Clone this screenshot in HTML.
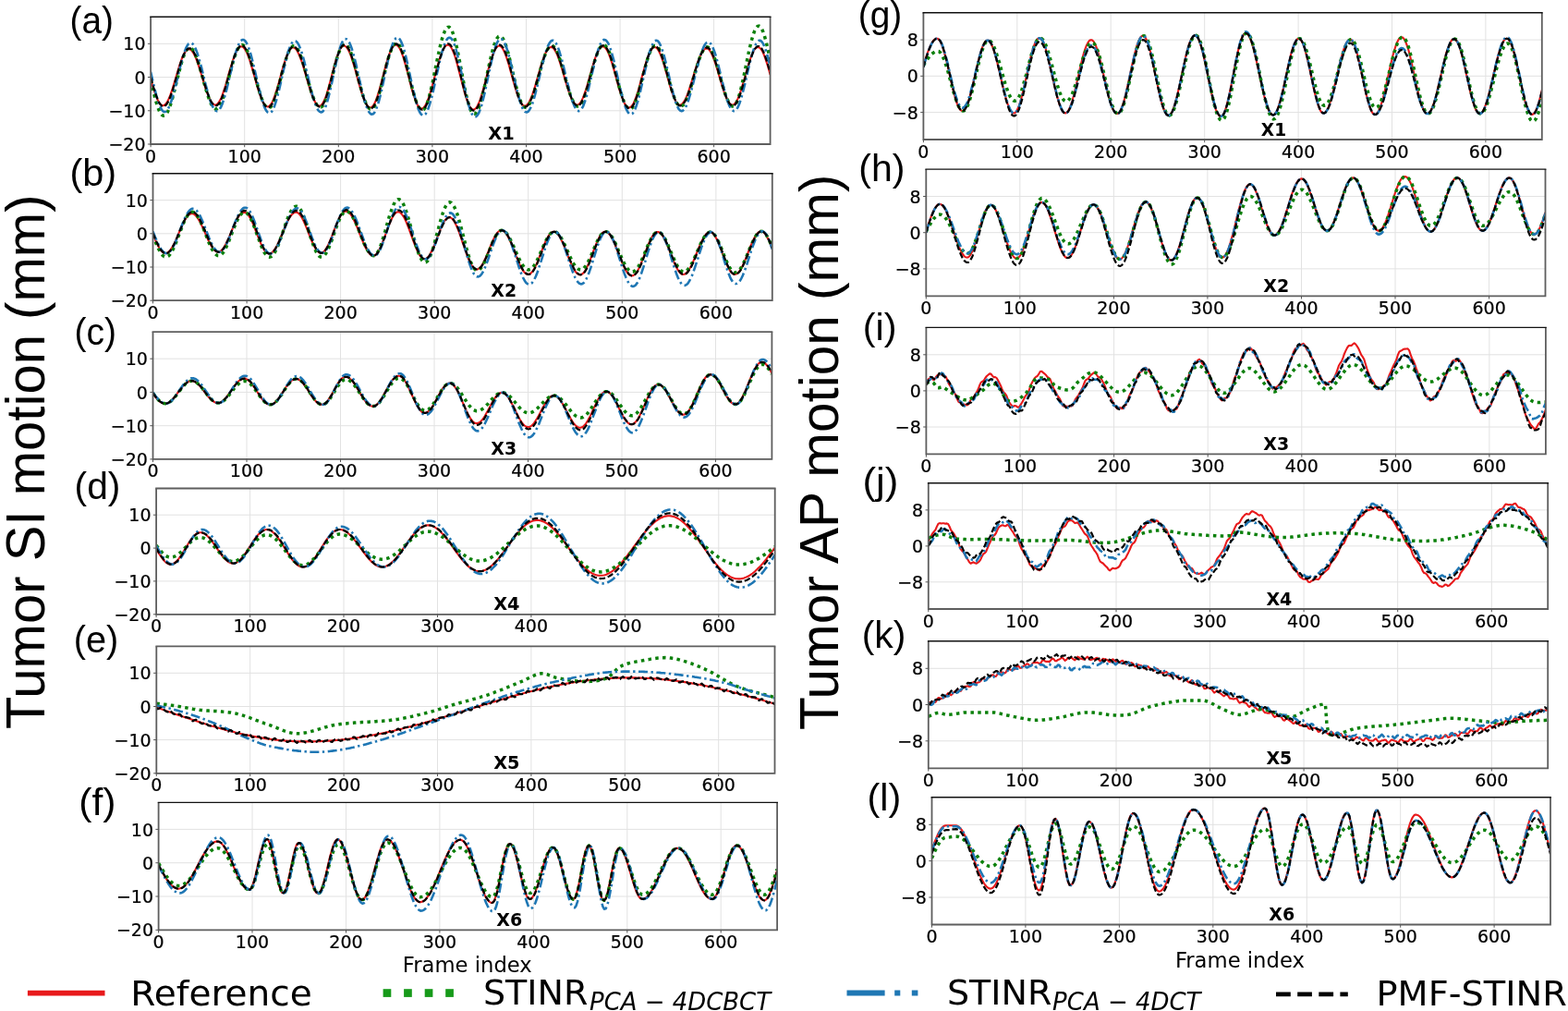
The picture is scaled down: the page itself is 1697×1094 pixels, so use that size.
<!DOCTYPE html><html><head><meta charset="utf-8"><title>Tumor motion</title>
<style>html,body{margin:0;padding:0;background:#fff;overflow:hidden;}svg{display:block;}</style></head><body>
<svg width="1697" height="1094" viewBox="0 0 1697 1094">
<rect width="1697" height="1094" fill="#fff"/>
<defs>
<clipPath id="ca"><rect x="163.1" y="18.3" width="670.5" height="137.7"/></clipPath>
<clipPath id="cb"><rect x="165.5" y="187.7" width="670.3" height="137.5"/></clipPath>
<clipPath id="cc"><rect x="165.5" y="359.2" width="669.9" height="137.7"/></clipPath>
<clipPath id="cd"><rect x="169.1" y="528.5" width="669.6" height="136.3"/></clipPath>
<clipPath id="ce"><rect x="169.3" y="699.4" width="669.2" height="137.4"/></clipPath>
<clipPath id="cf"><rect x="171.6" y="868.4" width="669.5" height="137.9"/></clipPath>
<clipPath id="cg"><rect x="999.4" y="13.7" width="669.4" height="137.3"/></clipPath>
<clipPath id="ch"><rect x="1002.3" y="183.1" width="670.2" height="137.2"/></clipPath>
<clipPath id="ci"><rect x="1002.4" y="354.4" width="670.5" height="137"/></clipPath>
<clipPath id="cj"><rect x="1004.8" y="522.7" width="670.4" height="136.3"/></clipPath>
<clipPath id="ck"><rect x="1004.8" y="693.8" width="670.4" height="137.5"/></clipPath>
<clipPath id="cl"><rect x="1008.5" y="862.8" width="669.5" height="137.7"/></clipPath>
</defs>
<path d="M264.7 18.3V156M366.3 18.3V156M467.9 18.3V156M569.5 18.3V156M671.1 18.3V156M772.6 18.3V156M163.1 156H833.6M163.1 119.8H833.6M163.1 83.5H833.6M163.1 47.3H833.6" stroke="#e2e2e2" stroke-width="1" fill="none"/>
<g clip-path="url(#ca)" fill="none" stroke-linejoin="round">
<path d="M163.1 85.3l1.5 5.3 1.5 5.1 1.6 4.8 1.5 4.2 1.5 3.5 1.5 2.9 1.6 1.9 1.5 1.1 1.5 .2 1.5-.8 1.6-1.6 1.5-2.4 1.5-3.1 1.5-3.8 1.6-4.4 1.5-4.8 1.5-5 1.5-5.2 1.6-5.2 1.5-5 1.5-4.7 1.5-4.3 1.5-3.6 1.6-3.1 1.5-2.2 1.5-1.4 1.5-.6 1.6 .3 1.5 1.2 1.5 1.9 1.5 2.7 1.6 3.4 1.5 4 1.5 4.4 1.5 4.8 1.6 5 1.5 5.1 1.5 5 1.5 4.8 1.6 4.4 1.5 4 1.5 3.4 1.5 2.7 1.6 1.9 1.5 1.2 1.5 .3 1.5-.6 1.5-1.5 1.6-2.3 1.5-3.1 1.5-3.8 1.5-4.4 1.6-4.9 1.5-5.2 1.5-5.4 1.5-5.3 1.6-5.3 1.5-4.9 1.5-4.5 1.5-4 1.6-3.2 1.5-2.5 1.5-1.7 1.5-.8 1.6 .2 1.5 1.1 1.5 1.9 1.5 2.8 1.5 3.5 1.6 4.1 1.5 4.7 1.5 5.1 1.5 5.4 1.6 5.4 1.5 5.5 1.5 5.2 1.5 4.8 1.6 4.4 1.5 3.8 1.5 3.1 1.5 2.3 1.6 1.4 1.5 .5 1.5-.4 1.5-1.4 1.6-2.3 1.5-3.1 1.5-4 1.5-4.5 1.5-5 1.6-5.4 1.5-5.6 1.5-5.6 1.5-5.4 1.6-5.1 1.5-4.6 1.5-4 1.5-3.2 1.6-2.5 1.5-1.5 1.5-.5 1.5 .4 1.6 1.2 1.5 2.1 1.5 2.9 1.5 3.6 1.6 4.1 1.5 4.7 1.5 5 1.5 5.2 1.5 5.3 1.6 5.2 1.5 5 1.5 4.6 1.5 4.2 1.6 3.5 1.5 2.8 1.5 2.1 1.5 1.2 1.6 .3 1.5-.7 1.5-1.7 1.5-2.7 1.6-3.6 1.5-4.4 1.5-5.1 1.5-5.5 1.6-5.8 1.5-5.9 1.5-5.8 1.5-5.5 1.5-5.1 1.6-4.4 1.5-3.7 1.5-2.8 1.5-1.8 1.6-.7 1.5 .3 1.5 1.2 1.5 2.1 1.6 2.9 1.5 3.7 1.5 4.4 1.5 4.9 1.6 5.3 1.5 5.5 1.5 5.6 1.5 5.6 1.6 5.3 1.5 4.9 1.5 4.5 1.5 3.8 1.6 3 1.5 2.3 1.5 1.3 1.5 .4 1.5-.6 1.6-1.6 1.5-2.5 1.5-3.5 1.5-4.2 1.6-4.9 1.5-5.3 1.5-5.8 1.5-5.9 1.6-5.8 1.5-5.8 1.5-5.3 1.5-4.8 1.6-4.2 1.5-3.4 1.5-2.5 1.5-1.5 1.6-.5 1.5 .5 1.5 1.5 1.5 2.4 1.5 3.4 1.6 4.1 1.5 4.8 1.5 5.3 1.5 5.7 1.6 5.9 1.5 5.9 1.5 5.8 1.5 5.4 1.6 5 1.5 4.4 1.5 3.6 1.5 2.8 1.6 1.8 1.5 .8 1.5-.1 1.5-1.2 1.6-2 1.5-3 1.5-3.7 1.5-4.5 1.5-5 1.6-5.4 1.5-5.7 1.5-5.9 1.5-5.7 1.6-5.6 1.5-5.1 1.5-4.7 1.5-4 1.6-3.2 1.5-2.4 1.5-1.4 1.5-.5 1.6 .5 1.5 1.6 1.5 2.5 1.5 3.4 1.6 4.3 1.5 4.9 1.5 5.5 1.5 5.8 1.6 6 1.5 6.1 1.5 5.8 1.5 5.6 1.5 5 1.6 4.4 1.5 3.6 1.5 2.8 1.5 1.7 1.6 .8 1.5-.4 1.5-1.3 1.5-2.3 1.6-3.2 1.5-4 1.5-4.8 1.5-5.2 1.6-5.7 1.5-5.9 1.5-6 1.5-5.8 1.6-5.6 1.5-5.1 1.5-4.4 1.5-3.7 1.5-2.9 1.6-1.9 1.5-1 1.5 .1 1.5 1.1 1.6 2 1.5 2.8 1.5 3.6 1.5 4.4 1.6 4.8 1.5 5.3 1.5 5.5 1.5 5.6 1.6 5.5 1.5 5.3 1.5 4.9 1.5 4.3 1.6 3.7 1.5 2.9 1.5 2.1 1.5 1.1 1.5 .1 1.6-.7 1.5-1.7 1.5-2.4 1.5-3.3 1.6-3.9 1.5-4.5 1.5-4.9 1.5-5.2 1.6-5.4 1.5-5.3 1.5-5.2 1.5-4.9 1.6-4.5 1.5-3.9 1.5-3.2 1.5-2.4 1.6-1.6 1.5-.7 1.5 .3 1.5 1 1.5 2 1.6 2.7 1.5 3.5 1.5 4.1 1.5 4.6 1.6 5 1.5 5.2 1.5 5.3 1.5 5.2 1.6 5 1.5 4.6 1.5 4.2 1.5 3.6 1.6 2.8 1.5 2.1 1.5 1.2 1.5 .3 1.6-.6 1.5-1.5 1.5-2.4 1.5-3.2 1.5-4 1.6-4.5 1.5-4.9 1.5-5.3 1.5-5.5 1.6-5.4 1.5-5.3 1.5-5 1.5-4.4 1.6-3.9 1.5-3.2 1.5-2.3 1.5-1.5 1.6-.5 1.5 .4 1.5 1.3 1.5 2.2 1.6 3.1 1.5 3.8 1.5 4.4 1.5 4.9 1.6 5.3 1.5 5.5 1.5 5.6 1.5 5.5 1.5 5.2 1.6 4.8 1.5 4.3 1.5 3.7 1.5 2.9 1.6 2 1.5 1.1 1.5 .3 1.5-.8 1.6-1.7 1.5-2.6 1.5-3.5 1.5-4.1 1.6-4.8 1.5-5.2 1.5-5.6 1.5-5.6 1.6-5.7 1.5-5.4 1.5-5.1 1.5-4.5 1.5-3.9 1.6-3.1 1.5-2.3 1.5-1.3 1.5-.4 1.6 .6 1.5 1.6 1.5 2.4 1.5 3.3 1.6 4 1.5 4.5 1.5 5.1 1.5 5.3 1.6 5.5 1.5 5.4 1.5 5.3 1.5 4.9 1.6 4.4 1.5 3.7 1.5 3 1.5 2.2 1.5 1.2 1.6 .3 1.5-.6 1.5-1.4 1.5-2.2 1.6-2.9 1.5-3.6 1.5-4.1 1.5-4.6 1.6-4.8 1.5-5.1 1.5-5 1.5-5 1.6-4.7 1.5-4.4 1.5-3.9 1.5-3.2 1.6-2.6 1.5-1.9 1.5-1 1.5-.2 1.6 .7 1.5 1.5 1.5 2.4 1.5 3.2 1.5 3.8 1.6 4.4 1.5 4.8 1.5 5.1 1.5 5.2 1.6 5.2 1.5 5.1 1.5 4.7 1.5 4.3 1.6 3.7 1.5 3 1.5 2.2 1.5 1.4 1.6 .5 1.5-.4 1.5-1.3 1.5-2.2 1.6-3 1.5-3.8 1.5-4.3 1.5-4.9 1.5-5.2 1.6-5.3 1.5-5.4 1.5-5.3 1.5-5 1.6-4.5 1.5-4 1.5-3.2 1.5-2.5 1.6-1.6 1.5-.8 1.5 .3 1.5 1.1 1.6 2.1 1.5 3 1.5 3.7 1.5 4.3 1.6 4.9 1.5 5.2 1.5 5.5" stroke="#e8191b" stroke-width="2.1"/>
<path d="M163.1 86.9l1.5 6.4 1.5 6.3 1.6 6 1.5 5.4 1.5 4.7 1.5 3.9 1.6 2.9 1.5 1.9 1.5 .8 1.5-.3 1.6-1.4 1.5-2.4 1.5-3.3 1.5-4.2 1.6-4.9 1.5-5.5 1.5-5.9 1.5-6.2 1.6-6.3 1.5-6.1 1.5-5.9 1.5-5.4 1.5-4.8 1.6-4.1 1.5-3.2 1.5-2.3 1.5-1.2 1.6-.2 1.5 .8 1.5 1.7 1.5 2.5 1.6 3.4 1.5 4 1.5 4.6 1.5 5.1 1.6 5.3 1.5 5.6 1.5 5.5 1.5 5.4 1.6 5.1 1.5 4.6 1.5 4.1 1.5 3.4 1.6 2.6 1.5 1.7 1.5 .9 1.5-.1 1.5-1.1 1.6-2.1 1.5-3 1.5-3.7 1.5-4.5 1.6-5.1 1.5-5.5 1.5-5.8 1.5-5.9 1.6-5.9 1.5-5.6 1.5-5.2 1.5-4.6 1.6-4 1.5-3.2 1.5-2.3 1.5-1.4 1.6-.4 1.5 .6 1.5 1.6 1.5 2.4 1.5 3.3 1.6 4 1.5 4.7 1.5 5.1 1.5 5.5 1.6 5.7 1.5 5.8 1.5 5.6 1.5 5.3 1.6 4.9 1.5 4.3 1.5 3.7 1.5 2.8 1.6 2 1.5 1 1.5 .1 1.5-.9 1.6-1.9 1.5-2.8 1.5-3.7 1.5-4.5 1.5-5 1.6-5.5 1.5-5.7 1.5-5.9 1.5-5.8 1.6-5.6 1.5-5.1 1.5-4.6 1.5-3.8 1.6-3 1.5-2.1 1.5-1.2 1.5-.1 1.6 .9 1.5 1.7 1.5 2.6 1.5 3.4 1.6 4 1.5 4.7 1.5 5 1.5 5.4 1.5 5.6 1.6 5.5 1.5 5.4 1.5 5.1 1.5 4.6 1.6 4 1.5 3.4 1.5 2.6 1.5 1.7 1.6 .9 1.5-.2 1.5-1.2 1.5-2.3 1.6-3.3 1.5-4.2 1.5-4.9 1.5-5.6 1.6-5.9 1.5-6.2 1.5-6.2 1.5-6 1.5-5.6 1.6-5 1.5-4.3 1.5-3.4 1.5-2.5 1.6-1.3 1.5-.3 1.5 .8 1.5 1.7 1.6 2.6 1.5 3.5 1.5 4.2 1.5 4.9 1.6 5.3 1.5 5.7 1.5 5.9 1.5 5.8 1.6 5.8 1.5 5.4 1.5 5 1.5 4.3 1.6 3.7 1.5 2.8 1.5 1.9 1.5 .9 1.5 0 1.6-1.1 1.5-2.2 1.5-3.1 1.5-4 1.6-4.8 1.5-5.4 1.5-5.8 1.5-6.1 1.6-6.2 1.5-6.1 1.5-5.9 1.5-5.4 1.6-4.7 1.5-4 1.5-3.2 1.5-2.1 1.6-1.1 1.5-.1 1.5 1.1 1.5 2 1.5 3 1.6 4 1.5 4.6 1.5 5.3 1.5 5.8 1.6 6.1 1.5 6.2 1.5 6.2 1.5 5.9 1.6 5.5 1.5 5 1.5 4.2 1.5 3.4 1.6 2.4 1.5 1.5 1.5 .4 1.5-.8 1.6-2.1 1.5-3.2 1.5-4.4 1.5-5.3 1.5-6.2 1.6-6.8 1.5-7.2 1.5-7.6 1.5-7.5 1.6-7.4 1.5-7 1.5-6.5 1.5-5.6 1.6-4.8 1.5-3.7 1.5-2.5 1.5-1.3 1.6-.1 1.5 1.4 1.5 2.7 1.5 4 1.6 5.1 1.5 6.1 1.5 7 1.5 7.6 1.6 7.9 1.5 8.2 1.5 8 1.5 7.7 1.5 7.1 1.6 6.4 1.5 5.4 1.5 4.3 1.5 3.1 1.6 1.7 1.5 .3 1.5-.9 1.5-2.2 1.6-3.3 1.5-4.5 1.5-5.3 1.5-6.1 1.6-6.7 1.5-7.1 1.5-7.2 1.5-7.3 1.6-7 1.5-6.5 1.5-5.8 1.5-5.1 1.5-4 1.6-3 1.5-1.8 1.5-.5 1.5 .6 1.6 1.8 1.5 2.8 1.5 3.8 1.5 4.7 1.6 5.5 1.5 6 1.5 6.4 1.5 6.6 1.6 6.6 1.5 6.4 1.5 6.1 1.5 5.5 1.6 4.8 1.5 3.9 1.5 3 1.5 1.9 1.5 .8 1.6-.3 1.5-1.2 1.5-2.1 1.5-3 1.6-3.8 1.5-4.4 1.5-4.9 1.5-5.3 1.6-5.6 1.5-5.7 1.5-5.5 1.5-5.4 1.6-4.9 1.5-4.4 1.5-3.8 1.5-2.9 1.6-2.2 1.5-1.2 1.5-.3 1.5 .7 1.5 1.5 1.6 2.5 1.5 3.2 1.5 4 1.5 4.5 1.6 5.1 1.5 5.3 1.5 5.5 1.5 5.6 1.6 5.4 1.5 5.1 1.5 4.6 1.5 4.1 1.6 3.4 1.5 2.6 1.5 1.8 1.5 .8 1.6-.1 1.5-1.1 1.5-2 1.5-2.9 1.5-3.7 1.6-4.5 1.5-5 1.5-5.4 1.5-5.6 1.6-5.8 1.5-5.6 1.5-5.4 1.5-5 1.6-4.4 1.5-3.8 1.5-2.9 1.5-2 1.6-1.1 1.5-.1 1.5 .9 1.5 1.8 1.6 2.8 1.5 3.5 1.5 4.3 1.5 4.9 1.6 5.4 1.5 5.7 1.5 5.8 1.5 5.9 1.5 5.6 1.6 5.3 1.5 4.8 1.5 4.3 1.5 3.4 1.6 2.6 1.5 1.8 1.5 .7 1.5-.2 1.6-1.3 1.5-2.2 1.5-3.2 1.5-4 1.6-4.7 1.5-5.2 1.5-5.7 1.5-5.9 1.6-6 1.5-5.8 1.5-5.5 1.5-5.1 1.5-4.5 1.6-3.7 1.5-2.9 1.5-1.9 1.5-.9 1.6 .1 1.5 1.1 1.5 2 1.5 3 1.6 3.8 1.5 4.5 1.5 5 1.5 5.5 1.6 5.7 1.5 5.7 1.5 5.7 1.5 5.3 1.6 5 1.5 4.3 1.5 3.6 1.5 2.7 1.5 1.8 1.6 .9 1.5-.2 1.5-1 1.5-1.9 1.6-2.7 1.5-3.4 1.5-4 1.5-4.5 1.6-5 1.5-5.2 1.5-5.3 1.5-5.3 1.6-5.1 1.5-4.8 1.5-4.4 1.5-3.8 1.6-3.1 1.5-2.3 1.5-1.6 1.5-.7 1.6 .3 1.5 1.1 1.5 2.1 1.5 2.9 1.5 3.6 1.6 4.3 1.5 4.8 1.5 5.2 1.5 5.5 1.6 5.5 1.5 5.4 1.5 5.1 1.5 4.8 1.6 4.2 1.5 3.6 1.5 2.8 1.5 1.9 1.6 1 1.5 .1 1.5-1.2 1.5-2.4 1.6-3.6 1.5-4.7 1.5-5.6 1.5-6.4 1.5-6.9 1.6-7.4 1.5-7.5 1.5-7.4 1.5-7.1 1.6-6.7 1.5-5.9 1.5-5.1 1.5-4 1.6-2.9 1.5-1.7 1.5-.4 1.5 .9 1.6 2.3 1.5 3.4 1.5 4.6 1.5 5.5 1.6 6.4 1.5 7 1.5 7.4" stroke="#0b800b" stroke-width="3.5" stroke-dasharray="3.5 4.3"/>
<path d="M163.1 77.9l1.5 6.5 1.5 6.5 1.6 6.3 1.5 5.9 1.5 5.2 1.5 4.6 1.6 3.6 1.5 2.6 1.5 1.6 1.5 .4 1.6-.7 1.5-1.7 1.5-2.8 1.5-3.7 1.6-4.5 1.5-5.2 1.5-5.7 1.5-6.1 1.6-6.3 1.5-6.3 1.5-6.2 1.5-5.8 1.5-5.4 1.6-4.6 1.5-3.9 1.5-2.9 1.5-2 1.6-.8 1.5 .1 1.5 1.2 1.5 2.2 1.6 3.2 1.5 3.9 1.5 4.7 1.5 5.4 1.6 5.7 1.5 6.1 1.5 6.2 1.5 6.1 1.6 5.9 1.5 5.5 1.5 5 1.5 4.3 1.6 3.4 1.5 2.6 1.5 1.6 1.5 .6 1.5-.5 1.6-1.6 1.5-2.6 1.5-3.6 1.5-4.5 1.6-5.3 1.5-5.8 1.5-6.3 1.5-6.5 1.6-6.6 1.5-6.4 1.5-6.1 1.5-5.6 1.6-5 1.5-4.2 1.5-3.2 1.5-2.2 1.6-1.2 1.5 0 1.5 1.1 1.5 2.1 1.5 3.2 1.6 4.1 1.5 4.9 1.5 5.6 1.5 6.2 1.6 6.5 1.5 6.6 1.5 6.6 1.5 6.5 1.6 6 1.5 5.5 1.5 4.8 1.5 3.9 1.6 3 1.5 1.9 1.5 .9 1.5-.3 1.6-1.4 1.5-2.6 1.5-3.7 1.5-4.6 1.5-5.4 1.6-6 1.5-6.5 1.5-6.8 1.5-6.8 1.6-6.7 1.5-6.3 1.5-5.7 1.5-5.1 1.6-4.1 1.5-3.2 1.5-2.1 1.5-.9 1.6 .3 1.5 1.3 1.5 2.3 1.5 3.4 1.6 4.2 1.5 4.9 1.5 5.6 1.5 6 1.5 6.4 1.6 6.4 1.5 6.4 1.5 6.2 1.5 5.7 1.6 5.2 1.5 4.5 1.5 3.6 1.5 2.7 1.6 1.6 1.5 .6 1.5-.5 1.5-1.9 1.6-3 1.5-4.2 1.5-5.2 1.5-6 1.6-6.6 1.5-7.1 1.5-7.2 1.5-7.1 1.5-6.8 1.6-6.3 1.5-5.6 1.5-4.7 1.5-3.6 1.6-2.5 1.5-1.1 1.5 .1 1.5 1.2 1.6 2.4 1.5 3.4 1.5 4.3 1.5 5.2 1.6 5.9 1.5 6.3 1.5 6.7 1.5 6.9 1.6 6.8 1.5 6.5 1.5 6.2 1.5 5.5 1.6 4.8 1.5 3.9 1.5 3 1.5 1.8 1.5 .7 1.6-.4 1.5-1.7 1.5-2.9 1.5-4 1.6-5 1.5-5.8 1.5-6.4 1.5-6.9 1.6-7.2 1.5-7.2 1.5-7 1.5-6.7 1.6-6 1.5-5.3 1.5-4.3 1.5-3.3 1.6-2.1 1.5-.8 1.5 .3 1.5 1.6 1.5 2.8 1.6 3.9 1.5 4.8 1.5 5.7 1.5 6.4 1.6 6.9 1.5 7.1 1.5 7.2 1.5 7.1 1.6 6.8 1.5 6.2 1.5 5.5 1.5 4.6 1.6 3.6 1.5 2.4 1.5 1.3 1.5 .1 1.6-1.2 1.5-2.3 1.5-3.4 1.5-4.4 1.5-5.3 1.6-5.9 1.5-6.6 1.5-6.9 1.5-7.1 1.6-7 1.5-6.9 1.5-6.4 1.5-5.8 1.6-5 1.5-4.2 1.5-3.1 1.5-2 1.6-.8 1.5 .4 1.5 1.6 1.5 2.9 1.6 3.9 1.5 5 1.5 5.9 1.5 6.5 1.6 7.1 1.5 7.3 1.5 7.4 1.5 7.2 1.5 6.9 1.6 6.3 1.5 5.5 1.5 4.6 1.5 3.6 1.6 2.4 1.5 1.1 1.5-.1 1.5-1.4 1.6-2.6 1.5-3.7 1.5-4.7 1.5-5.6 1.6-6.4 1.5-6.8 1.5-7.2 1.5-7.2 1.6-7.2 1.5-6.9 1.5-6.3 1.5-5.6 1.5-4.7 1.6-3.7 1.5-2.6 1.5-1.4 1.5-.1 1.6 1 1.5 2.2 1.5 3.3 1.5 4.2 1.6 5.1 1.5 5.8 1.5 6.4 1.5 6.7 1.6 6.8 1.5 6.8 1.5 6.5 1.5 6.1 1.6 5.4 1.5 4.7 1.5 3.7 1.5 2.7 1.5 1.6 1.6 .4 1.5-.7 1.5-1.8 1.5-2.8 1.6-3.8 1.5-4.6 1.5-5.3 1.5-5.9 1.6-6.3 1.5-6.6 1.5-6.5 1.5-6.4 1.6-6.1 1.5-5.5 1.5-4.9 1.5-4.1 1.6-3.1 1.5-2.2 1.5-1 1.5 0 1.5 1.1 1.6 2.2 1.5 3.1 1.5 4.1 1.5 4.9 1.6 5.5 1.5 5.9 1.5 6.3 1.5 6.5 1.6 6.4 1.5 6.2 1.5 5.7 1.5 5.3 1.6 4.4 1.5 3.7 1.5 2.7 1.5 1.7 1.6 .6 1.5-.5 1.5-1.6 1.5-2.7 1.5-3.8 1.6-4.6 1.5-5.4 1.5-5.9 1.5-6.4 1.6-6.7 1.5-6.6 1.5-6.5 1.5-6.1 1.6-5.6 1.5-4.9 1.5-4.1 1.5-3 1.6-2 1.5-.9 1.5 .3 1.5 1.4 1.6 2.5 1.5 3.5 1.5 4.4 1.5 5.3 1.6 5.9 1.5 6.3 1.5 6.7 1.5 6.8 1.5 6.7 1.6 6.5 1.5 6 1.5 5.4 1.5 4.6 1.6 3.7 1.5 2.7 1.5 1.7 1.5 .5 1.6-.7 1.5-1.9 1.5-3 1.5-4 1.6-4.9 1.5-5.7 1.5-6.3 1.5-6.7 1.6-6.9 1.5-6.8 1.5-6.7 1.5-6.3 1.5-5.7 1.6-4.9 1.5-4 1.5-3 1.5-1.9 1.6-.7 1.5 .5 1.5 1.7 1.5 2.8 1.6 3.8 1.5 4.7 1.5 5.4 1.5 6 1.6 6.5 1.5 6.7 1.5 6.6 1.5 6.5 1.6 6.1 1.5 5.5 1.5 4.7 1.5 3.9 1.5 2.8 1.6 1.7 1.5 .6 1.5-.5 1.5-1.5 1.6-2.5 1.5-3.4 1.5-4.2 1.5-4.9 1.6-5.5 1.5-5.8 1.5-6.1 1.5-6.2 1.6-6.1 1.5-5.9 1.5-5.4 1.5-4.9 1.6-4.1 1.5-3.4 1.5-2.4 1.5-1.4 1.6-.5 1.5 .6 1.5 1.7 1.5 2.7 1.5 3.7 1.6 4.5 1.5 5.2 1.5 5.8 1.5 6.2 1.6 6.3 1.5 6.4 1.5 6.2 1.5 5.9 1.6 5.3 1.5 4.7 1.5 3.8 1.5 2.9 1.6 1.9 1.5 .9 1.5-.3 1.5-1.4 1.6-2.5 1.5-3.4 1.5-4.4 1.5-5.2 1.5-5.8 1.6-6.3 1.5-6.5 1.5-6.6 1.5-6.5 1.6-6.1 1.5-5.7 1.5-4.9 1.5-4.2 1.6-3.2 1.5-2.2 1.5-1.1 1.5 0 1.6 1.2 1.5 2.3 1.5 3.4 1.5 4.3 1.6 5.2 1.5 5.8 1.5 6.3" stroke="#1f77b4" stroke-width="2.6" stroke-dasharray="10 3.5 2.4 3.5"/>
<path d="M163.1 83.5l1.5 5.5 1.5 5.4 1.6 5 1.5 4.5 1.5 3.9 1.5 3.2 1.6 2.3 1.5 1.5 1.5 .5 1.5-.5 1.6-1.4 1.5-2.2 1.5-3 1.5-3.7 1.6-4.3 1.5-4.8 1.5-5.1 1.5-5.3 1.6-5.4 1.5-5.2 1.5-5 1.5-4.5 1.5-4.1 1.6-3.3 1.5-2.6 1.5-1.7 1.5-.9 1.6 0 1.5 .9 1.5 1.7 1.5 2.6 1.6 3.3 1.5 3.9 1.5 4.4 1.5 4.8 1.6 5.1 1.5 5.2 1.5 5.2 1.5 5 1.6 4.7 1.5 4.3 1.5 3.7 1.5 3 1.6 2.3 1.5 1.5 1.5 .6 1.5-.3 1.5-1.2 1.6-2.1 1.5-3 1.5-3.7 1.5-4.3 1.6-4.9 1.5-5.3 1.5-5.4 1.5-5.6 1.6-5.5 1.5-5.2 1.5-4.8 1.5-4.2 1.6-3.7 1.5-2.8 1.5-2 1.5-1.1 1.6-.2 1.5 .8 1.5 1.7 1.5 2.6 1.5 3.4 1.6 4.1 1.5 4.6 1.5 5.1 1.5 5.5 1.6 5.6 1.5 5.6 1.5 5.5 1.5 5.1 1.6 4.7 1.5 4.1 1.5 3.5 1.5 2.6 1.6 1.7 1.5 .9 1.5-.1 1.5-1.1 1.6-2.1 1.5-2.9 1.5-3.8 1.5-4.5 1.5-5 1.6-5.5 1.5-5.7 1.5-5.7 1.5-5.7 1.6-5.3 1.5-5 1.5-4.3 1.5-3.6 1.6-2.8 1.5-1.9 1.5-.9 1.5 .1 1.6 1 1.5 1.8 1.5 2.7 1.5 3.5 1.6 4.1 1.5 4.6 1.5 5.1 1.5 5.3 1.5 5.5 1.6 5.4 1.5 5.2 1.5 4.9 1.5 4.5 1.6 3.8 1.5 3.2 1.5 2.3 1.5 1.6 1.6 .6 1.5-.3 1.5-1.4 1.5-2.5 1.6-3.4 1.5-4.3 1.5-5 1.5-5.5 1.6-5.9 1.5-6.1 1.5-6 1.5-5.8 1.5-5.4 1.6-4.8 1.5-4.1 1.5-3.2 1.5-2.2 1.6-1.1 1.5-.1 1.5 1 1.5 1.9 1.6 2.7 1.5 3.6 1.5 4.3 1.5 4.8 1.6 5.4 1.5 5.6 1.5 5.7 1.5 5.8 1.6 5.6 1.5 5.2 1.5 4.8 1.5 4.1 1.6 3.4 1.5 2.6 1.5 1.7 1.5 .8 1.5-.3 1.6-1.3 1.5-2.3 1.5-3.2 1.5-4.1 1.6-4.8 1.5-5.4 1.5-5.8 1.5-6.1 1.6-6.1 1.5-5.9 1.5-5.7 1.5-5.1 1.6-4.6 1.5-3.7 1.5-2.9 1.5-1.9 1.6-.9 1.5 .2 1.5 1.2 1.5 2.2 1.5 3.1 1.6 4 1.5 4.7 1.5 5.4 1.5 5.7 1.6 6 1.5 6.1 1.5 6 1.5 5.8 1.6 5.3 1.5 4.7 1.5 4 1.5 3.2 1.6 2.2 1.5 1.2 1.5 .2 1.5-.9 1.6-1.8 1.5-2.8 1.5-3.6 1.5-4.3 1.5-5 1.6-5.5 1.5-5.8 1.5-5.9 1.5-6 1.6-5.8 1.5-5.5 1.5-5 1.5-4.3 1.6-3.6 1.5-2.8 1.5-1.8 1.5-.8 1.6 .2 1.5 1.2 1.5 2.3 1.5 3.2 1.6 4.1 1.5 4.9 1.5 5.5 1.5 5.9 1.6 6.1 1.5 6.3 1.5 6.1 1.5 5.8 1.5 5.4 1.6 4.8 1.5 4 1.5 3.1 1.5 2.2 1.6 1.1 1.5 0 1.5-1 1.5-2.1 1.6-3 1.5-3.8 1.5-4.7 1.5-5.3 1.6-5.7 1.5-6 1.5-6.2 1.5-6 1.6-5.9 1.5-5.4 1.5-4.8 1.5-4.1 1.5-3.3 1.6-2.3 1.5-1.3 1.5-.2 1.5 .7 1.6 1.8 1.5 2.6 1.5 3.5 1.5 4.2 1.6 4.8 1.5 5.3 1.5 5.6 1.5 5.8 1.6 5.7 1.5 5.6 1.5 5.2 1.5 4.7 1.6 4 1.5 3.3 1.5 2.4 1.5 1.4 1.5 .5 1.6-.4 1.5-1.4 1.5-2.3 1.5-3.1 1.6-3.8 1.5-4.4 1.5-5 1.5-5.3 1.6-5.5 1.5-5.5 1.5-5.4 1.5-5.2 1.6-4.7 1.5-4.2 1.5-3.6 1.5-2.7 1.6-2 1.5-1 1.5-.1 1.5 .8 1.5 1.8 1.6 2.5 1.5 3.3 1.5 4.1 1.5 4.5 1.6 5 1.5 5.3 1.5 5.5 1.5 5.4 1.6 5.2 1.5 5 1.5 4.4 1.5 3.9 1.6 3.2 1.5 2.4 1.5 1.5 1.5 .7 1.6-.3 1.5-1.3 1.5-2.1 1.5-3.1 1.5-3.8 1.6-4.4 1.5-5 1.5-5.4 1.5-5.6 1.6-5.6 1.5-5.5 1.5-5.2 1.5-4.8 1.6-4.2 1.5-3.5 1.5-2.7 1.5-1.9 1.6-.8 1.5 .1 1.5 1 1.5 2 1.6 2.9 1.5 3.6 1.5 4.4 1.5 4.9 1.6 5.3 1.5 5.6 1.5 5.8 1.5 5.7 1.5 5.5 1.6 5.1 1.5 4.6 1.5 4 1.5 3.2 1.6 2.4 1.5 1.5 1.5 .6 1.5-.4 1.6-1.5 1.5-2.4 1.5-3.3 1.5-4 1.6-4.7 1.5-5.3 1.5-5.6 1.5-5.8 1.6-5.8 1.5-5.7 1.5-5.4 1.5-4.9 1.5-4.2 1.6-3.5 1.5-2.6 1.5-1.7 1.5-.7 1.6 .3 1.5 1.2 1.5 2.2 1.5 3.1 1.6 3.9 1.5 4.5 1.5 5.1 1.5 5.4 1.6 5.6 1.5 5.6 1.5 5.5 1.5 5.2 1.6 4.7 1.5 4.1 1.5 3.4 1.5 2.5 1.5 1.6 1.6 .6 1.5-.3 1.5-1.2 1.5-2 1.6-2.8 1.5-3.4 1.5-4.1 1.5-4.5 1.6-5 1.5-5.1 1.5-5.2 1.5-5.2 1.6-5 1.5-4.6 1.5-4.2 1.5-3.6 1.6-2.9 1.5-2.1 1.5-1.4 1.5-.5 1.6 .4 1.5 1.3 1.5 2.2 1.5 3 1.5 3.7 1.6 4.4 1.5 4.8 1.5 5.2 1.5 5.3 1.6 5.4 1.5 5.3 1.5 5 1.5 4.5 1.6 4.1 1.5 3.3 1.5 2.6 1.5 1.7 1.6 .8 1.5-.1 1.5-1 1.5-2 1.6-2.8 1.5-3.6 1.5-4.3 1.5-4.9 1.5-5.2 1.6-5.5 1.5-5.6 1.5-5.4 1.5-5.3 1.6-4.8 1.5-4.3 1.5-3.6 1.5-2.9 1.6-1.9 1.5-1.1 1.5-.1 1.5 .9 1.6 1.8 1.5 2.8 1.5 3.5 1.5 4.3 1.6 4.9 1.5 5.2 1.5 5.6" stroke="#000000" stroke-width="2.2" stroke-dasharray="6.5 2.8"/>
</g>
<path d="M163.1 18.3V156H833.6V18.3" fill="none" stroke="#5e5e5e" stroke-width="1.8"/>
<path d="M162.2 18.3H834.5" stroke="#111" stroke-width="1.4"/>
<path d="M163.1 156v3.2M264.7 156v3.2M366.3 156v3.2M467.9 156v3.2M569.5 156v3.2M671.1 156v3.2M772.6 156v3.2M163.1 156h-3.2M163.1 119.8h-3.2M163.1 83.5h-3.2M163.1 47.3h-3.2" stroke="#555" stroke-width="1"/>
<g font-family='"DejaVu Sans", "Liberation Sans", sans-serif' font-size="19.6" fill="#000" stroke="#000" stroke-width="0.25">
<text transform="translate(157.5 163.1) scale(0.97 1)" text-anchor="end">−20</text>
<text transform="translate(157.5 126.9) scale(0.97 1)" text-anchor="end">−10</text>
<text transform="translate(157.5 90.6) scale(0.97 1)" text-anchor="end">0</text>
<text transform="translate(157.5 54.4) scale(0.97 1)" text-anchor="end">10</text>
<text transform="translate(163.1 175.5) scale(0.97 1)" text-anchor="middle">0</text>
<text transform="translate(264.7 175.5) scale(0.97 1)" text-anchor="middle">100</text>
<text transform="translate(366.3 175.5) scale(0.97 1)" text-anchor="middle">200</text>
<text transform="translate(467.9 175.5) scale(0.97 1)" text-anchor="middle">300</text>
<text transform="translate(569.5 175.5) scale(0.97 1)" text-anchor="middle">400</text>
<text transform="translate(671.1 175.5) scale(0.97 1)" text-anchor="middle">500</text>
<text transform="translate(772.6 175.5) scale(0.97 1)" text-anchor="middle">600</text>
</g>
<text x="528.2" y="151.3" font-family='"DejaVu Sans", "Liberation Sans", sans-serif' font-weight="bold" font-size="19" textLength="28.5" lengthAdjust="spacingAndGlyphs">X1</text>
<path d="M267.1 187.7V325.2M368.6 187.7V325.2M470.2 187.7V325.2M571.7 187.7V325.2M673.3 187.7V325.2M774.9 187.7V325.2M165.5 325.2H835.8M165.5 289H835.8M165.5 252.8H835.8M165.5 216.6H835.8" stroke="#e2e2e2" stroke-width="1" fill="none"/>
<g clip-path="url(#cb)" fill="none" stroke-linejoin="round">
<path d="M165.5 253.5l1.5 3.7 1.5 3.5 1.6 3.4 1.5 2.9 1.5 2.6 1.5 2 1.6 1.5 1.5 .8 1.5 .3 1.5-.4 1.6-1 1.5-1.5 1.5-2.1 1.5-2.5 1.6-2.9 1.5-3.2 1.5-3.4 1.5-3.6 1.5-3.6 1.6-3.5 1.5-3.3 1.5-3.1 1.5-2.8 1.6-2.3 1.5-1.8 1.5-1.2 1.5-.7 1.6-.1 1.5 .4 1.5 1.1 1.5 1.6 1.5 2.1 1.6 2.6 1.5 2.9 1.5 3.2 1.5 3.3 1.6 3.5 1.5 3.5 1.5 3.4 1.5 3.2 1.6 2.9 1.5 2.5 1.5 2.1 1.5 1.6 1.6 1.1 1.5 .5 1.5-.1 1.5-.7 1.5-1.3 1.6-1.9 1.5-2.4 1.5-2.8 1.5-3.2 1.6-3.4 1.5-3.6 1.5-3.7 1.5-3.6 1.6-3.5 1.5-3.2 1.5-2.8 1.5-2.5 1.6-1.9 1.5-1.4 1.5-.8 1.5-.2 1.5 .5 1.6 1.2 1.5 1.8 1.5 2.4 1.5 2.9 1.6 3.4 1.5 3.7 1.5 3.9 1.5 3.9 1.6 4 1.5 3.7 1.5 3.5 1.5 3.1 1.5 2.6 1.6 2 1.5 1.4 1.5 .7 1.5 .1 1.6-.6 1.5-1.2 1.5-1.7 1.5-2.3 1.6-2.7 1.5-3 1.5-3.4 1.5-3.6 1.6-3.6 1.5-3.7 1.5-3.6 1.5-3.4 1.5-3.1 1.6-2.8 1.5-2.3 1.5-1.8 1.5-1.3 1.6-.6 1.5-.1 1.5 .6 1.5 1.3 1.6 2 1.5 2.4 1.5 3 1.5 3.4 1.6 3.7 1.5 3.8 1.5 3.9 1.5 3.9 1.5 3.6 1.6 3.4 1.5 2.9 1.5 2.5 1.5 1.9 1.6 1.2 1.5 .6 1.5-.1 1.5-.9 1.6-1.4 1.5-2.2 1.5-2.6 1.5-3.2 1.5-3.5 1.6-3.8 1.5-4 1.5-3.9 1.5-3.9 1.6-3.7 1.5-3.3 1.5-3 1.5-2.3 1.6-1.8 1.5-1.2 1.5-.4 1.5 .2 1.6 .9 1.5 1.4 1.5 2.1 1.5 2.5 1.5 3 1.6 3.3 1.5 3.6 1.5 3.8 1.5 3.9 1.6 3.9 1.5 3.7 1.5 3.6 1.5 3.2 1.6 2.8 1.5 2.4 1.5 1.8 1.5 1.3 1.6 .6 1.5 0 1.5-.7 1.5-1.4 1.5-2.1 1.6-2.8 1.5-3.2 1.5-3.7 1.5-4 1.6-4.1 1.5-4.3 1.5-4.1 1.5-3.9 1.6-3.6 1.5-3.1 1.5-2.6 1.5-1.9 1.5-1.3 1.6-.5 1.5 .2 1.5 1 1.5 1.6 1.6 2.2 1.5 2.8 1.5 3.3 1.5 3.7 1.6 4 1.5 4.2 1.5 4.2 1.5 4.2 1.6 4.1 1.5 3.7 1.5 3.4 1.5 2.9 1.5 2.4 1.6 1.7 1.5 1.1 1.5 .3 1.5-.3 1.6-1.1 1.5-1.8 1.5-2.3 1.5-3 1.6-3.3 1.5-3.7 1.5-4 1.5-4 1.6-4 1.5-3.9 1.5-3.6 1.5-3.1 1.5-2.7 1.6-2.1 1.5-1.5 1.5-.7 1.5 0 1.6 .7 1.5 1.4 1.5 2.1 1.5 2.8 1.6 3.3 1.5 3.7 1.5 4.1 1.5 4.4 1.5 4.6 1.6 4.5 1.5 4.5 1.5 4.3 1.5 3.9 1.6 3.5 1.5 3 1.5 2.4 1.5 1.8 1.6 1 1.5 .3 1.5-.3 1.5-1.1 1.6-1.6 1.5-2.3 1.5-2.7 1.5-3.2 1.5-3.5 1.6-3.7 1.5-3.7 1.5-3.8 1.5-3.6 1.6-3.3 1.5-2.9 1.5-2.5 1.5-2 1.6-1.3 1.5-.7 1.5 0 1.5 .6 1.6 1.3 1.5 1.8 1.5 2.4 1.5 2.9 1.5 3.3 1.6 3.6 1.5 3.8 1.5 4 1.5 3.9 1.6 3.8 1.5 3.6 1.5 3.4 1.5 2.9 1.6 2.4 1.5 1.9 1.5 1.3 1.5 .7 1.6 0 1.5-.7 1.5-1.3 1.5-1.9 1.5-2.6 1.6-3 1.5-3.4 1.5-3.7 1.5-4 1.6-3.9 1.5-4 1.5-3.8 1.5-3.5 1.6-3.1 1.5-2.7 1.5-2.1 1.5-1.5 1.5-.9 1.6-.1 1.5 .5 1.5 1.1 1.5 1.8 1.6 2.3 1.5 2.8 1.5 3.2 1.5 3.5 1.6 3.8 1.5 3.9 1.5 3.9 1.5 3.8 1.6 3.6 1.5 3.3 1.5 2.9 1.5 2.4 1.5 1.9 1.6 1.2 1.5 .7 1.5-.1 1.5-.7 1.6-1.4 1.5-2.1 1.5-2.7 1.5-3.2 1.6-3.5 1.5-3.9 1.5-4.1 1.5-4.1 1.6-4 1.5-3.8 1.5-3.5 1.5-3.1 1.5-2.5 1.6-2 1.5-1.3 1.5-.6 1.5 .1 1.6 .8 1.5 1.4 1.5 1.9 1.5 2.6 1.6 3 1.5 3.3 1.5 3.7 1.5 3.9 1.5 3.9 1.6 4 1.5 3.8 1.5 3.5 1.5 3.3 1.6 2.8 1.5 2.3 1.5 1.8 1.5 1.1 1.6 .5 1.5-.2 1.5-.8 1.5-1.5 1.6-2.2 1.5-2.7 1.5-3.2 1.5-3.6 1.5-3.8 1.6-4 1.5-4.1 1.5-4 1.5-3.8 1.6-3.5 1.5-3.1 1.5-2.6 1.5-2.1 1.6-1.4 1.5-.7 1.5 0 1.5 .6 1.6 1.4 1.5 1.9 1.5 2.5 1.5 3 1.5 3.3 1.6 3.7 1.5 3.9 1.5 3.9 1.5 3.9 1.6 3.8 1.5 3.5 1.5 3.1 1.5 2.6 1.6 2.2 1.5 1.5 1.5 .9 1.5 .2 1.5-.5 1.6-1 1.5-1.7 1.5-2.2 1.5-2.7 1.6-3 1.5-3.5 1.5-3.6 1.5-3.8 1.6-3.8 1.5-3.7 1.5-3.6 1.5-3.2 1.6-2.9 1.5-2.5 1.5-2 1.5-1.3 1.5-.8 1.6-.2 1.5 .6 1.5 1.3 1.5 1.9 1.6 2.6 1.5 3 1.5 3.6 1.5 3.8 1.6 4 1.5 4.1 1.5 4 1.5 3.9 1.6 3.5 1.5 3.1 1.5 2.6 1.5 2 1.5 1.3 1.6 .6 1.5-.1 1.5-.7 1.5-1.4 1.6-2 1.5-2.5 1.5-3 1.5-3.4 1.6-3.6 1.5-3.8 1.5-3.9 1.5-3.9 1.5-3.7 1.6-3.5 1.5-3.2 1.5-2.7 1.5-2.2 1.6-1.6 1.5-1 1.5-.4 1.5 .3 1.6 1 1.5 1.7 1.5 2.3 1.5 2.9 1.6 3.3 1.5 3.7 1.5 3.9" stroke="#e8191b" stroke-width="2.1"/>
<path d="M165.5 254.2l1.5 4.1 1.5 3.9 1.6 3.7 1.5 3.4 1.5 2.9 1.5 2.5 1.6 1.8 1.5 1.2 1.5 .4 1.5-.2 1.6-.8 1.5-1.6 1.5-2.1 1.5-2.7 1.6-3.1 1.5-3.6 1.5-3.8 1.5-4 1.5-4.1 1.6-4 1.5-3.9 1.5-3.6 1.5-3.2 1.6-2.8 1.5-2.3 1.5-1.6 1.5-1 1.6-.4 1.5 .3 1.5 1 1.5 1.7 1.5 2.2 1.6 2.7 1.5 3.2 1.5 3.5 1.5 3.8 1.6 4 1.5 4 1.5 3.9 1.5 3.7 1.6 3.4 1.5 3.1 1.5 2.5 1.5 2.1 1.6 1.4 1.5 .8 1.5 .1 1.5-.6 1.5-1.2 1.6-1.9 1.5-2.4 1.5-2.9 1.5-3.4 1.6-3.6 1.5-3.9 1.5-4 1.5-4 1.6-3.8 1.5-3.6 1.5-3.3 1.5-2.8 1.6-2.4 1.5-1.7 1.5-1.1 1.5-.4 1.5 .3 1.6 1 1.5 1.7 1.5 2.4 1.5 3 1.6 3.5 1.5 3.9 1.5 4.1 1.5 4.3 1.6 4.3 1.5 4.1 1.5 3.9 1.5 3.5 1.5 3 1.6 2.4 1.5 1.7 1.5 1.1 1.5 .3 1.6-.5 1.5-1.2 1.5-1.9 1.5-2.6 1.6-3.1 1.5-3.6 1.5-4 1.5-4.4 1.6-4.4 1.5-4.6 1.5-4.4 1.5-4.3 1.5-3.9 1.6-3.5 1.5-3.1 1.5-2.4 1.5-1.8 1.6-1 1.5-.3 1.5 .5 1.5 1.3 1.6 2.1 1.5 2.9 1.5 3.5 1.5 4.1 1.6 4.4 1.5 4.8 1.5 4.8 1.5 4.9 1.5 4.6 1.6 4.3 1.5 3.9 1.5 3.3 1.5 2.5 1.6 1.9 1.5 1 1.5 .1 1.5-.6 1.6-1.4 1.5-2.1 1.5-2.7 1.5-3.3 1.5-3.8 1.6-4.1 1.5-4.3 1.5-4.3 1.5-4.3 1.6-4.1 1.5-3.8 1.5-3.4 1.5-2.8 1.6-2.2 1.5-1.5 1.5-.7 1.5 0 1.6 .6 1.5 1.3 1.5 1.8 1.5 2.4 1.5 2.8 1.6 3.2 1.5 3.6 1.5 3.7 1.5 3.9 1.6 3.9 1.5 3.8 1.5 3.6 1.5 3.3 1.6 3 1.5 2.5 1.5 2.1 1.5 1.4 1.6 .9 1.5 .2 1.5-.6 1.5-1.6 1.5-2.4 1.6-3.3 1.5-4 1.5-4.5 1.5-5.1 1.6-5.3 1.5-5.4 1.5-5.4 1.5-5.1 1.6-4.8 1.5-4.2 1.5-3.6 1.5-2.8 1.5-1.9 1.6-1 1.5 0 1.5 .9 1.5 1.8 1.6 2.7 1.5 3.6 1.5 4.2 1.5 4.8 1.6 5.2 1.5 5.5 1.5 5.7 1.5 5.7 1.6 5.5 1.5 5.2 1.5 4.7 1.5 4.2 1.5 3.4 1.6 2.6 1.5 1.7 1.5 .8 1.5-.2 1.6-1.2 1.5-2.2 1.5-3.1 1.5-4 1.6-4.6 1.5-5.2 1.5-5.6 1.5-5.8 1.6-5.8 1.5-5.7 1.5-5.3 1.5-4.8 1.5-4.1 1.6-3.3 1.5-2.4 1.5-1.4 1.5-.4 1.6 .6 1.5 1.6 1.5 2.5 1.5 3.3 1.6 4.1 1.5 4.7 1.5 5.2 1.5 5.7 1.5 5.8 1.6 6 1.5 5.9 1.5 5.7 1.5 5.3 1.6 4.8 1.5 4.2 1.5 3.4 1.5 2.6 1.6 1.7 1.5 .7 1.5-.2 1.5-.8 1.6-1.5 1.5-2.1 1.5-2.7 1.5-3.1 1.5-3.4 1.6-3.8 1.5-3.8 1.5-3.9 1.5-3.7 1.6-3.5 1.5-3.2 1.5-2.7 1.5-2.2 1.6-1.6 1.5-.9 1.5-.3 1.5 .4 1.6 .9 1.5 1.5 1.5 2 1.5 2.5 1.5 2.8 1.6 3.1 1.5 3.4 1.5 3.5 1.5 3.5 1.6 3.5 1.5 3.3 1.5 3 1.5 2.8 1.6 2.3 1.5 1.9 1.5 1.3 1.5 .8 1.6 .2 1.5-.4 1.5-1 1.5-1.5 1.5-2.1 1.6-2.6 1.5-2.9 1.5-3.2 1.5-3.5 1.6-3.5 1.5-3.6 1.5-3.4 1.5-3.2 1.6-2.9 1.5-2.6 1.5-2 1.5-1.5 1.5-1 1.6-.3 1.5 .2 1.5 .8 1.5 1.4 1.6 1.9 1.5 2.3 1.5 2.8 1.5 3 1.6 3.3 1.5 3.4 1.5 3.4 1.5 3.4 1.6 3.3 1.5 3 1.5 2.7 1.5 2.3 1.5 1.8 1.6 1.3 1.5 .7 1.5 .2 1.5-.4 1.6-1.1 1.5-1.7 1.5-2.2 1.5-2.6 1.6-3.1 1.5-3.3 1.5-3.6 1.5-3.6 1.6-3.6 1.5-3.4 1.5-3.2 1.5-2.9 1.5-2.4 1.6-1.9 1.5-1.4 1.5-.7 1.5-.1 1.6 .5 1.5 1.1 1.5 1.6 1.5 2.1 1.6 2.6 1.5 3 1.5 3.2 1.5 3.5 1.5 3.6 1.6 3.6 1.5 3.5 1.5 3.3 1.5 3.1 1.6 2.7 1.5 2.2 1.5 1.8 1.5 1.2 1.6 .7 1.5 0 1.5-.5 1.5-1.2 1.6-1.8 1.5-2.3 1.5-2.8 1.5-3.1 1.5-3.4 1.6-3.6 1.5-3.7 1.5-3.7 1.5-3.5 1.6-3.3 1.5-3 1.5-2.5 1.5-2 1.6-1.5 1.5-.8 1.5-.3 1.5 .4 1.6 1.1 1.5 1.6 1.5 2.1 1.5 2.7 1.5 3 1.6 3.4 1.5 3.6 1.5 3.7 1.5 3.6 1.6 3.6 1.5 3.4 1.5 3 1.5 2.7 1.6 2.1 1.5 1.6 1.5 1.1 1.5 .4 1.5-.2 1.6-.8 1.5-1.4 1.5-1.9 1.5-2.4 1.6-2.7 1.5-3.1 1.5-3.4 1.5-3.5 1.6-3.6 1.5-3.5 1.5-3.4 1.5-3.2 1.6-2.8 1.5-2.5 1.5-1.9 1.5-1.5 1.5-.9 1.6-.4 1.5 .3 1.5 1 1.5 1.7 1.6 2.2 1.5 2.8 1.5 3.2 1.5 3.6 1.6 3.7 1.5 3.9 1.5 3.9 1.5 3.8 1.6 3.4 1.5 3.1 1.5 2.7 1.5 2.1 1.5 1.4 1.6 .9 1.5 .1 1.5-.5 1.5-1.2 1.6-1.7 1.5-2.2 1.5-2.7 1.5-3.1 1.6-3.4 1.5-3.6 1.5-3.7 1.5-3.7 1.5-3.7 1.6-3.4 1.5-3.1 1.5-2.7 1.5-2.3 1.6-1.7 1.5-1.2 1.5-.6 1.5 .1 1.6 .8 1.5 1.5 1.5 2.1 1.5 2.7 1.6 3.2 1.5 3.5 1.5 3.9" stroke="#0b800b" stroke-width="3.5" stroke-dasharray="3.5 4.3"/>
<path d="M165.5 250.5l1.5 3.8 1.5 3.6 1.6 3.5 1.5 3.3 1.5 2.9 1.5 2.4 1.6 1.9 1.5 1.4 1.5 .7 1.5 .1 1.6-.5 1.5-1.2 1.5-1.9 1.5-2.4 1.6-2.9 1.5-3.4 1.5-3.7 1.5-3.9 1.5-4 1.6-4 1.5-4 1.5-3.7 1.5-3.4 1.6-3 1.5-2.5 1.5-1.9 1.5-1.3 1.6-.6 1.5 0 1.5 .7 1.5 1.3 1.5 1.9 1.6 2.5 1.5 3 1.5 3.3 1.5 3.7 1.6 3.9 1.5 3.9 1.5 3.9 1.5 3.8 1.6 3.6 1.5 3.2 1.5 2.8 1.5 2.2 1.6 1.7 1.5 1.1 1.5 .4 1.5-.2 1.5-1 1.6-1.6 1.5-2.2 1.5-2.8 1.5-3.2 1.6-3.6 1.5-3.9 1.5-4 1.5-4.1 1.6-4 1.5-3.9 1.5-3.5 1.5-3.1 1.6-2.6 1.5-2.1 1.5-1.4 1.5-.8 1.5 0 1.6 .7 1.5 1.4 1.5 2.2 1.5 2.8 1.6 3.4 1.5 3.8 1.5 4.2 1.5 4.3 1.6 4.4 1.5 4.4 1.5 4.1 1.5 3.8 1.5 3.3 1.6 2.8 1.5 2.1 1.5 1.4 1.5 .7 1.6-.1 1.5-.8 1.5-1.4 1.5-2 1.6-2.6 1.5-3 1.5-3.5 1.5-3.7 1.6-4 1.5-4 1.5-4 1.5-3.9 1.5-3.7 1.6-3.4 1.5-2.9 1.5-2.4 1.5-1.9 1.6-1.2 1.5-.6 1.5 .1 1.5 .8 1.6 1.6 1.5 2.2 1.5 2.8 1.5 3.4 1.6 3.8 1.5 4.1 1.5 4.2 1.5 4.3 1.5 4.2 1.6 4 1.5 3.6 1.5 3.1 1.5 2.6 1.6 1.9 1.5 1.2 1.5 .5 1.5-.3 1.6-1 1.5-1.8 1.5-2.4 1.5-3 1.5-3.5 1.6-3.9 1.5-4.2 1.5-4.3 1.5-4.4 1.6-4.2 1.5-3.9 1.5-3.5 1.5-3.1 1.6-2.5 1.5-1.8 1.5-1.1 1.5-.3 1.6 .4 1.5 1.1 1.5 1.7 1.5 2.3 1.5 2.8 1.6 3.3 1.5 3.7 1.5 3.9 1.5 4.2 1.6 4.2 1.5 4.2 1.5 4 1.5 3.8 1.6 3.4 1.5 3 1.5 2.4 1.5 1.9 1.6 1.2 1.5 .6 1.5-.2 1.5-.9 1.5-1.8 1.6-2.5 1.5-3.2 1.5-3.7 1.5-4.2 1.6-4.5 1.5-4.6 1.5-4.7 1.5-4.6 1.6-4.3 1.5-3.8 1.5-3.4 1.5-2.7 1.5-2.1 1.6-1.2 1.5-.4 1.5 .4 1.5 1.1 1.6 2 1.5 2.6 1.5 3.2 1.5 3.7 1.6 4.2 1.5 4.5 1.5 4.6 1.5 4.7 1.6 4.7 1.5 4.4 1.5 4.1 1.5 3.6 1.5 3.1 1.6 2.5 1.5 1.8 1.5 1 1.5 .2 1.6-.5 1.5-1.4 1.5-2.1 1.5-2.7 1.6-3.3 1.5-3.9 1.5-4.1 1.5-4.4 1.6-4.5 1.5-4.4 1.5-4.2 1.5-3.8 1.5-3.4 1.6-2.9 1.5-2.2 1.5-1.4 1.5-.7 1.6 .2 1.5 1 1.5 2 1.5 2.7 1.6 3.5 1.5 4.2 1.5 4.7 1.5 5.1 1.5 5.4 1.6 5.6 1.5 5.5 1.5 5.5 1.5 5.1 1.6 4.8 1.5 4.1 1.5 3.6 1.5 2.8 1.6 2 1.5 1.1 1.5 .2 1.5-.6 1.6-1.4 1.5-2.1 1.5-2.8 1.5-3.4 1.5-3.9 1.6-4.1 1.5-4.4 1.5-4.5 1.5-4.4 1.6-4.3 1.5-3.8 1.5-3.4 1.5-2.9 1.6-2.1 1.5-1.5 1.5-.6 1.5 .1 1.6 .9 1.5 1.7 1.5 2.4 1.5 3.1 1.5 3.7 1.6 4.1 1.5 4.5 1.5 4.7 1.5 4.8 1.6 4.8 1.5 4.7 1.5 4.4 1.5 4 1.6 3.4 1.5 2.9 1.5 2.2 1.5 1.4 1.6 .7 1.5-.2 1.5-.9 1.5-1.8 1.5-2.6 1.6-3.3 1.5-3.8 1.5-4.3 1.5-4.7 1.6-4.8 1.5-4.9 1.5-4.9 1.5-4.6 1.6-4.3 1.5-3.7 1.5-3.2 1.5-2.4 1.5-1.7 1.6-.9 1.5-.1 1.5 .8 1.5 1.6 1.6 2.2 1.5 3 1.5 3.5 1.5 4 1.6 4.4 1.5 4.6 1.5 4.7 1.5 4.8 1.6 4.6 1.5 4.3 1.5 3.9 1.5 3.4 1.5 2.8 1.6 2.1 1.5 1.4 1.5 .6 1.5-.2 1.6-1 1.5-1.9 1.5-2.7 1.5-3.4 1.6-4 1.5-4.4 1.5-4.8 1.5-4.9 1.6-5 1.5-4.9 1.5-4.6 1.5-4.1 1.5-3.7 1.6-2.9 1.5-2.3 1.5-1.4 1.5-.5 1.6 .3 1.5 1.1 1.5 1.9 1.5 2.6 1.6 3.2 1.5 3.8 1.5 4.3 1.5 4.6 1.5 4.9 1.6 4.9 1.5 4.9 1.5 4.6 1.5 4.4 1.6 3.9 1.5 3.4 1.5 2.7 1.5 2.1 1.6 1.2 1.5 .5 1.5-.4 1.5-1.2 1.6-2.1 1.5-2.8 1.5-3.5 1.5-4.1 1.5-4.5 1.6-4.8 1.5-5.1 1.5-5 1.5-5 1.6-4.6 1.5-4.3 1.5-3.8 1.5-3.1 1.6-2.3 1.5-1.6 1.5-.7 1.5 .1 1.6 1 1.5 1.8 1.5 2.6 1.5 3.3 1.5 3.8 1.6 4.4 1.5 4.6 1.5 4.9 1.5 5 1.6 4.9 1.5 4.7 1.5 4.3 1.5 3.8 1.6 3.2 1.5 2.6 1.5 1.7 1.5 1 1.5 .1 1.6-.8 1.5-1.4 1.5-2.3 1.5-2.9 1.6-3.4 1.5-4 1.5-4.4 1.5-4.6 1.6-4.8 1.5-4.8 1.5-4.7 1.5-4.4 1.6-4 1.5-3.6 1.5-2.9 1.5-2.4 1.5-1.5 1.6-.9 1.5 0 1.5 .9 1.5 1.7 1.6 2.5 1.5 3.3 1.5 3.8 1.5 4.4 1.6 4.8 1.5 4.9 1.5 5 1.5 4.9 1.6 4.6 1.5 4.2 1.5 3.7 1.5 3 1.5 2.3 1.6 1.4 1.5 .6 1.5-.3 1.5-1.1 1.6-1.8 1.5-2.6 1.5-3.1 1.5-3.8 1.6-4.1 1.5-4.5 1.5-4.7 1.5-4.8 1.5-4.7 1.6-4.5 1.5-4.1 1.5-3.8 1.5-3.1 1.6-2.6 1.5-1.8 1.5-1.1 1.5-.3 1.6 .6 1.5 1.4 1.5 2.2 1.5 2.9 1.6 3.6 1.5 4.2 1.5 4.5" stroke="#1f77b4" stroke-width="2.6" stroke-dasharray="10 3.5 2.4 3.5"/>
<path d="M165.5 252.3l1.5 3.7 1.5 3.6 1.6 3.4 1.5 3.1 1.5 2.7 1.5 2.2 1.6 1.6 1.5 1.1 1.5 .5 1.5-.2 1.6-.8 1.5-1.4 1.5-2 1.5-2.5 1.6-2.9 1.5-3.2 1.5-3.5 1.5-3.7 1.5-3.8 1.6-3.7 1.5-3.5 1.5-3.3 1.5-3 1.6-2.6 1.5-2 1.5-1.5 1.5-1 1.6-.3 1.5 .3 1.5 .9 1.5 1.5 1.5 2 1.6 2.6 1.5 2.9 1.5 3.2 1.5 3.5 1.6 3.6 1.5 3.7 1.5 3.5 1.5 3.4 1.6 3.2 1.5 2.8 1.5 2.3 1.5 1.9 1.6 1.3 1.5 .7 1.5 .1 1.5-.5 1.5-1.2 1.6-1.8 1.5-2.3 1.5-2.8 1.5-3.2 1.6-3.5 1.5-3.7 1.5-3.8 1.5-3.8 1.6-3.6 1.5-3.5 1.5-3.1 1.5-2.7 1.6-2.2 1.5-1.7 1.5-1 1.5-.4 1.5 .2 1.6 1 1.5 1.7 1.5 2.3 1.5 2.9 1.6 3.4 1.5 3.7 1.5 4 1.5 4.1 1.6 4.1 1.5 4 1.5 3.7 1.5 3.4 1.5 2.9 1.6 2.3 1.5 1.7 1.5 1 1.5 .2 1.6-.4 1.5-1 1.5-1.6 1.5-2.2 1.6-2.6 1.5-3.1 1.5-3.4 1.5-3.7 1.6-3.8 1.5-3.8 1.5-3.8 1.5-3.6 1.5-3.3 1.6-3 1.5-2.6 1.5-2.1 1.5-1.5 1.6-.9 1.5-.2 1.5 .4 1.5 1.1 1.6 1.8 1.5 2.4 1.5 2.9 1.5 3.4 1.6 3.7 1.5 4 1.5 4.1 1.5 4 1.5 3.9 1.6 3.6 1.5 3.2 1.5 2.7 1.5 2.2 1.6 1.5 1.5 .9 1.5 .1 1.5-.6 1.6-1.3 1.5-2 1.5-2.6 1.5-3.1 1.5-3.5 1.6-3.8 1.5-4.1 1.5-4.1 1.5-4.1 1.6-3.8 1.5-3.6 1.5-3.2 1.5-2.6 1.6-2.1 1.5-1.4 1.5-.7 1.5 0 1.6 .7 1.5 1.3 1.5 1.9 1.5 2.4 1.5 2.9 1.6 3.4 1.5 3.6 1.5 3.9 1.5 4 1.6 4 1.5 3.9 1.5 3.7 1.5 3.4 1.6 3.1 1.5 2.6 1.5 2.1 1.5 1.5 1.6 .9 1.5 .2 1.5-.5 1.5-1.2 1.5-2 1.6-2.6 1.5-3.2 1.5-3.7 1.5-4.1 1.6-4.2 1.5-4.4 1.5-4.3 1.5-4.2 1.6-3.8 1.5-3.4 1.5-2.9 1.5-2.2 1.5-1.6 1.6-.8 1.5 0 1.5 .7 1.5 1.4 1.6 2.1 1.5 2.7 1.5 3.3 1.5 3.7 1.6 4 1.5 4.3 1.5 4.4 1.5 4.4 1.6 4.3 1.5 4 1.5 3.6 1.5 3.2 1.5 2.6 1.6 2 1.5 1.4 1.5 .6 1.5-.1 1.6-.9 1.5-1.5 1.5-2.2 1.5-2.7 1.6-3.3 1.5-3.6 1.5-3.9 1.5-4 1.6-4 1.5-3.9 1.5-3.7 1.5-3.3 1.5-2.9 1.6-2.3 1.5-1.6 1.5-1 1.5-.3 1.6 .5 1.5 1.2 1.5 1.9 1.5 2.5 1.6 3.1 1.5 3.6 1.5 4 1.5 4.3 1.5 4.5 1.6 4.6 1.5 4.5 1.5 4.4 1.5 4 1.6 3.7 1.5 3.2 1.5 2.6 1.5 2 1.6 1.3 1.5 .5 1.5-.1 1.5-.9 1.6-1.4 1.5-2.1 1.5-2.6 1.5-3 1.5-3.4 1.6-3.6 1.5-3.8 1.5-3.7 1.5-3.7 1.6-3.4 1.5-3.1 1.5-2.6 1.5-2.2 1.6-1.5 1.5-.9 1.5-.3 1.5 .4 1.6 1.1 1.5 1.6 1.5 2.3 1.5 2.7 1.5 3.2 1.6 3.5 1.5 3.7 1.5 3.9 1.5 4 1.6 3.9 1.5 3.7 1.5 3.4 1.5 3.1 1.6 2.6 1.5 2 1.5 1.5 1.5 .9 1.6 .3 1.5-.5 1.5-1.1 1.5-1.7 1.5-2.4 1.6-2.8 1.5-3.3 1.5-3.7 1.5-3.8 1.6-4 1.5-4 1.5-3.8 1.5-3.7 1.6-3.2 1.5-2.9 1.5-2.3 1.5-1.7 1.5-1 1.6-.4 1.5 .2 1.5 1 1.5 1.5 1.6 2.2 1.5 2.6 1.5 3.1 1.5 3.4 1.6 3.7 1.5 3.9 1.5 3.9 1.5 3.9 1.6 3.6 1.5 3.4 1.5 3.1 1.5 2.6 1.5 2 1.6 1.5 1.5 .8 1.5 .2 1.5-.5 1.6-1.2 1.5-1.9 1.5-2.4 1.5-3.1 1.6-3.4 1.5-3.8 1.5-4 1.5-4.1 1.6-4.1 1.5-3.9 1.5-3.6 1.5-3.2 1.5-2.8 1.6-2.1 1.5-1.5 1.5-.9 1.5-.1 1.6 .5 1.5 1.2 1.5 1.8 1.5 2.4 1.6 2.8 1.5 3.3 1.5 3.6 1.5 3.8 1.5 3.9 1.6 4 1.5 3.8 1.5 3.7 1.5 3.3 1.6 3 1.5 2.5 1.5 1.9 1.5 1.4 1.6 .7 1.5 .1 1.5-.7 1.5-1.3 1.6-1.9 1.5-2.5 1.5-3.1 1.5-3.4 1.5-3.8 1.6-4 1.5-4.1 1.5-4 1.5-3.9 1.6-3.6 1.5-3.2 1.5-2.8 1.5-2.3 1.6-1.6 1.5-.9 1.5-.3 1.5 .5 1.6 1.1 1.5 1.7 1.5 2.3 1.5 2.8 1.5 3.3 1.6 3.6 1.5 3.8 1.5 3.9 1.5 3.9 1.6 3.8 1.5 3.6 1.5 3.3 1.5 2.8 1.6 2.3 1.5 1.7 1.5 1.1 1.5 .5 1.5-.3 1.6-.8 1.5-1.5 1.5-2 1.5-2.5 1.6-3 1.5-3.3 1.5-3.6 1.5-3.7 1.6-3.8 1.5-3.8 1.5-3.6 1.5-3.4 1.6-3 1.5-2.6 1.5-2.2 1.5-1.5 1.5-1 1.6-.4 1.5 .3 1.5 1.1 1.5 1.7 1.6 2.4 1.5 2.9 1.5 3.3 1.5 3.8 1.6 4 1.5 4 1.5 4.1 1.5 3.9 1.6 3.7 1.5 3.3 1.5 2.7 1.5 2.2 1.5 1.6 1.6 .8 1.5 .1 1.5-.5 1.5-1.2 1.6-1.8 1.5-2.3 1.5-2.9 1.5-3.2 1.6-3.6 1.5-3.7 1.5-3.9 1.5-3.9 1.5-3.8 1.6-3.6 1.5-3.3 1.5-2.8 1.5-2.4 1.6-1.8 1.5-1.3 1.5-.5 1.5 0 1.6 .8 1.5 1.5 1.5 2.1 1.5 2.7 1.6 3.2 1.5 3.5 1.5 3.9" stroke="#000000" stroke-width="2.2" stroke-dasharray="6.5 2.8"/>
</g>
<path d="M165.5 187.7V325.2H835.8V187.7" fill="none" stroke="#5e5e5e" stroke-width="1.8"/>
<path d="M164.6 187.7H836.7" stroke="#111" stroke-width="1.4"/>
<path d="M165.5 325.2v3.2M267.1 325.2v3.2M368.6 325.2v3.2M470.2 325.2v3.2M571.7 325.2v3.2M673.3 325.2v3.2M774.9 325.2v3.2M165.5 325.2h-3.2M165.5 289h-3.2M165.5 252.8h-3.2M165.5 216.6h-3.2" stroke="#555" stroke-width="1"/>
<g font-family='"DejaVu Sans", "Liberation Sans", sans-serif' font-size="19.6" fill="#000" stroke="#000" stroke-width="0.25">
<text transform="translate(159.9 332.3) scale(0.97 1)" text-anchor="end">−20</text>
<text transform="translate(159.9 296.1) scale(0.97 1)" text-anchor="end">−10</text>
<text transform="translate(159.9 259.9) scale(0.97 1)" text-anchor="end">0</text>
<text transform="translate(159.9 223.7) scale(0.97 1)" text-anchor="end">10</text>
<text transform="translate(165.5 344.7) scale(0.97 1)" text-anchor="middle">0</text>
<text transform="translate(267.1 344.7) scale(0.97 1)" text-anchor="middle">100</text>
<text transform="translate(368.6 344.7) scale(0.97 1)" text-anchor="middle">200</text>
<text transform="translate(470.2 344.7) scale(0.97 1)" text-anchor="middle">300</text>
<text transform="translate(571.7 344.7) scale(0.97 1)" text-anchor="middle">400</text>
<text transform="translate(673.3 344.7) scale(0.97 1)" text-anchor="middle">500</text>
<text transform="translate(774.9 344.7) scale(0.97 1)" text-anchor="middle">600</text>
</g>
<text x="531.3" y="320.9" font-family='"DejaVu Sans", "Liberation Sans", sans-serif' font-weight="bold" font-size="19" textLength="27.8" lengthAdjust="spacingAndGlyphs">X2</text>
<path d="M267 359.2V496.9M368.5 359.2V496.9M470 359.2V496.9M571.5 359.2V496.9M673 359.2V496.9M774.5 359.2V496.9M165.5 496.9H835.4M165.5 460.7H835.4M165.5 424.4H835.4M165.5 388.2H835.4" stroke="#e2e2e2" stroke-width="1" fill="none"/>
<g clip-path="url(#cc)" fill="none" stroke-linejoin="round">
<path d="M165.5 426l1.5 2.1 1.5 1.9 1.6 1.8 1.5 1.6 1.5 1.3 1.5 1 1.6 .7 1.5 .3 1.5 0 1.5-.4 1.5-.6 1.6-1 1.5-1.3 1.5-1.5 1.5-1.8 1.6-1.8 1.5-2 1.5-2.1 1.5-2 1.6-2 1.5-1.9 1.5-1.6 1.5-1.5 1.5-1.2 1.6-1 1.5-.6 1.5-.3 1.5 .1 1.6 .4 1.5 .7 1.5 1 1.5 1.3 1.5 1.5 1.6 1.7 1.5 1.8 1.5 2 1.5 2 1.6 2 1.5 1.9 1.5 1.8 1.5 1.6 1.5 1.4 1.6 1.1 1.5 .9 1.5 .5 1.5 .2 1.6-.1 1.5-.5 1.5-.9 1.5-1.2 1.5-1.5 1.6-1.7 1.5-2 1.5-2.1 1.5-2.2 1.6-2.2 1.5-2.2 1.5-2.1 1.5-1.9 1.5-1.7 1.6-1.5 1.5-1.2 1.5-.8 1.5-.5 1.6-.1 1.5 .3 1.5 .7 1.5 1 1.6 1.4 1.5 1.8 1.5 2 1.5 2.2 1.5 2.3 1.6 2.4 1.5 2.4 1.5 2.3 1.5 2.2 1.6 2 1.5 1.8 1.5 1.4 1.5 1 1.5 .7 1.6 .3 1.5-.1 1.5-.5 1.5-.9 1.6-1.3 1.5-1.6 1.5-1.8 1.5-2.1 1.5-2.2 1.6-2.4 1.5-2.4 1.5-2.3 1.5-2.2 1.6-2.1 1.5-1.8 1.5-1.5 1.5-1.3 1.6-.8 1.5-.5 1.5 0 1.5 .3 1.5 .7 1.6 1.1 1.5 1.5 1.5 1.7 1.5 2 1.6 2.2 1.5 2.3 1.5 2.4 1.5 2.4 1.5 2.3 1.6 2.1 1.5 1.9 1.5 1.7 1.5 1.4 1.6 1 1.5 .6 1.5 .2 1.5-.2 1.5-.7 1.6-1.3 1.5-1.6 1.5-2.1 1.5-2.4 1.6-2.6 1.5-2.7 1.5-2.8 1.5-2.8 1.5-2.6 1.6-2.3 1.5-2.1 1.5-1.7 1.5-1.2 1.6-.7 1.5-.2 1.5 .2 1.5 .6 1.5 1.1 1.6 1.4 1.5 1.8 1.5 2 1.5 2.3 1.6 2.4 1.5 2.5 1.5 2.6 1.5 2.6 1.6 2.5 1.5 2.3 1.5 2.1 1.5 1.8 1.5 1.5 1.6 1.1 1.5 .7 1.5 .3 1.5-.1 1.6-.6 1.5-1 1.5-1.5 1.5-1.8 1.5-2.2 1.6-2.4 1.5-2.7 1.5-2.7 1.5-2.8 1.6-2.8 1.5-2.6 1.5-2.5 1.5-2.2 1.5-1.8 1.6-1.5 1.5-1 1.5-.6 1.5-.1 1.6 .4 1.5 1.1 1.5 1.5 1.5 2.1 1.6 2.5 1.5 2.8 1.5 3.2 1.5 3.3 1.5 3.4 1.6 3.4 1.5 3.3 1.5 3.1 1.5 2.9 1.6 2.4 1.5 2 1.5 1.5 1.5 .9 1.5 .4 1.6-.2 1.5-.7 1.5-1.1 1.5-1.6 1.6-2 1.5-2.3 1.5-2.6 1.5-2.7 1.5-2.8 1.6-2.9 1.5-2.7 1.5-2.6 1.5-2.3 1.6-2 1.5-1.6 1.5-1.2 1.5-.7 1.5-.3 1.6 .4 1.5 .9 1.5 1.4 1.5 2 1.6 2.4 1.5 2.9 1.5 3.1 1.5 3.4 1.5 3.5 1.6 3.6 1.5 3.5 1.5 3.4 1.5 3.1 1.6 2.8 1.5 2.5 1.5 1.9 1.5 1.5 1.6 .9 1.5 .3 1.5-.2 1.5-.7 1.5-1.2 1.6-1.6 1.5-2.1 1.5-2.3 1.5-2.7 1.6-2.8 1.5-2.8 1.5-2.9 1.5-2.9 1.5-2.6 1.6-2.4 1.5-2.1 1.5-1.7 1.5-1.2 1.6-.8 1.5-.3 1.5 .2 1.5 .8 1.5 1.2 1.6 1.8 1.5 2.1 1.5 2.5 1.5 2.8 1.6 3 1.5 3.1 1.5 3.1 1.5 3.1 1.5 3 1.6 2.7 1.5 2.4 1.5 2 1.5 1.7 1.6 1.1 1.5 .6 1.5 .1 1.5-.4 1.6-.9 1.5-1.4 1.5-1.8 1.5-2.2 1.5-2.4 1.6-2.7 1.5-2.9 1.5-2.9 1.5-2.9 1.6-2.8 1.5-2.6 1.5-2.4 1.5-2 1.5-1.6 1.6-1.2 1.5-.7 1.5-.2 1.5 .2 1.6 .8 1.5 1.2 1.5 1.6 1.5 2.1 1.5 2.3 1.6 2.6 1.5 2.8 1.5 2.9 1.5 2.9 1.6 2.8 1.5 2.8 1.5 2.5 1.5 2.2 1.5 1.9 1.6 1.4 1.5 1.1 1.5 .5 1.5 .1 1.6-.5 1.5-1 1.5-1.5 1.5-2 1.6-2.4 1.5-2.8 1.5-3 1.5-3.2 1.5-3.4 1.6-3.2 1.5-3.2 1.5-3.1 1.5-2.7 1.6-2.3 1.5-2 1.5-1.5 1.5-.9 1.5-.4 1.6 .2 1.5 .7 1.5 1.2 1.5 1.7 1.6 2.1 1.5 2.5 1.5 2.8 1.5 3 1.5 3 1.6 3.1 1.5 3.1 1.5 2.8 1.5 2.6 1.6 2.3 1.5 1.8 1.5 1.4 1.5 .9 1.6 .3 1.5-.2 1.5-.8 1.5-1.4 1.5-1.8 1.6-2.4 1.5-2.8 1.5-3.1 1.5-3.3 1.6-3.5 1.5-3.6 1.5-3.5 1.5-3.4 1.5-3.1 1.6-2.9 1.5-2.5 1.5-2 1.5-1.5 1.6-.9 1.5-.4 1.5 .2 1.5 .7 1.5 1.1 1.6 1.6 1.5 2 1.5 2.3 1.5 2.6 1.6 2.8 1.5 2.8 1.5 2.9 1.5 2.7 1.5 2.6 1.6 2.4 1.5 2 1.5 1.7 1.5 1.2 1.6 .8 1.5 .2 1.5-.3 1.5-.8 1.5-1.4 1.6-2 1.5-2.3 1.5-2.8 1.5-3.1 1.6-3.3 1.5-3.5 1.5-3.5 1.5-3.5 1.6-3.4 1.5-3.2 1.5-2.8 1.5-2.5 1.5-2.1 1.6-1.5 1.5-1 1.5-.5 1.5 .2 1.6 .6 1.5 1.1 1.5 1.6 1.5 1.9 1.5 2.4 1.6 2.5 1.5 2.8 1.5 2.9 1.5 2.8 1.6 2.8 1.5 2.6 1.5 2.4 1.5 2 1.5 1.6 1.6 1.2 1.5 .7 1.5 .2 1.5-.4 1.6-1 1.5-1.6 1.5-2.2 1.5-2.6 1.5-3.1 1.6-3.3 1.5-3.6 1.5-3.8 1.5-3.8 1.6-3.7 1.5-3.5 1.5-3.3 1.5-2.9 1.6-2.5 1.5-2 1.5-1.4 1.5-.8 1.5-.2 1.6 .4 1.5 .9 1.5 1.4 1.5 1.8 1.6 2.3 1.5 2.6 1.5 2.9" stroke="#e8191b" stroke-width="2.1"/>
<path d="M165.5 425.3l1.5 2.1 1.5 2 1.6 1.8 1.5 1.7 1.5 1.4 1.5 1.1 1.6 .8 1.5 .4 1.5 .1 1.5-.2 1.5-.6 1.6-.9 1.5-1.1 1.5-1.5 1.5-1.7 1.6-1.8 1.5-2 1.5-2 1.5-2 1.6-2 1.5-2 1.5-1.7 1.5-1.6 1.5-1.3 1.6-1 1.5-.7 1.5-.4 1.5-.1 1.6 .3 1.5 .6 1.5 .9 1.5 1.2 1.5 1.4 1.6 1.7 1.5 1.8 1.5 1.9 1.5 2 1.6 2 1.5 2 1.5 1.8 1.5 1.7 1.5 1.4 1.6 1.3 1.5 .9 1.5 .7 1.5 .3 1.6 0 1.5-.4 1.5-.6 1.5-1 1.5-1.2 1.6-1.5 1.5-1.7 1.5-1.8 1.5-2 1.6-2 1.5-1.9 1.5-1.9 1.5-1.8 1.5-1.6 1.6-1.4 1.5-1.1 1.5-.9 1.5-.5 1.6-.2 1.5 .1 1.5 .5 1.5 .9 1.6 1.1 1.5 1.5 1.5 1.7 1.5 1.9 1.5 2.1 1.6 2.1 1.5 2.2 1.5 2.1 1.5 2 1.6 1.9 1.5 1.6 1.5 1.4 1.5 1.1 1.5 .7 1.6 .4 1.5 0 1.5-.4 1.5-.8 1.6-1.1 1.5-1.5 1.5-1.8 1.5-2 1.5-2.2 1.6-2.3 1.5-2.4 1.5-2.3 1.5-2.3 1.6-2.1 1.5-1.9 1.5-1.7 1.5-1.3 1.6-1 1.5-.6 1.5-.2 1.5 .2 1.5 .6 1.6 1 1.5 1.4 1.5 1.6 1.5 1.9 1.6 2.2 1.5 2.2 1.5 2.4 1.5 2.4 1.5 2.3 1.6 2.2 1.5 2 1.5 1.8 1.5 1.4 1.6 1.2 1.5 .7 1.5 .4 1.5-.1 1.5-.5 1.6-.9 1.5-1.4 1.5-1.8 1.5-2 1.6-2.3 1.5-2.5 1.5-2.5 1.5-2.5 1.5-2.4 1.6-2.2 1.5-2 1.5-1.6 1.5-1.3 1.6-.8 1.5-.3 1.5 .1 1.5 .4 1.5 .9 1.6 1.1 1.5 1.5 1.5 1.8 1.5 2 1.6 2.2 1.5 2.3 1.5 2.3 1.5 2.4 1.6 2.2 1.5 2.2 1.5 1.9 1.5 1.8 1.5 1.4 1.6 1.2 1.5 .8 1.5 .4 1.5 0 1.6-.4 1.5-.8 1.5-1.2 1.5-1.6 1.5-1.9 1.6-2.2 1.5-2.4 1.5-2.5 1.5-2.6 1.6-2.6 1.5-2.5 1.5-2.3 1.5-2.1 1.5-1.8 1.6-1.5 1.5-1.1 1.5-.6 1.5-.3 1.6 .2 1.5 .8 1.5 1.2 1.5 1.6 1.6 2.1 1.5 2.4 1.5 2.6 1.5 2.9 1.5 3 1.6 3 1.5 2.9 1.5 2.8 1.5 2.5 1.6 2.3 1.5 1.9 1.5 1.4 1.5 1 1.5 .5 1.6 0 1.5-.5 1.5-.9 1.5-1.3 1.6-1.8 1.5-2 1.5-2.3 1.5-2.5 1.5-2.5 1.6-2.7 1.5-2.5 1.5-2.5 1.5-2.2 1.6-1.9 1.5-1.7 1.5-1.2 1.5-.8 1.5-.3 1.6 .1 1.5 .4 1.5 .9 1.5 1.3 1.6 1.6 1.5 1.8 1.5 2.1 1.5 2.3 1.5 2.4 1.6 2.5 1.5 2.4 1.5 2.4 1.5 2.3 1.6 2 1.5 1.8 1.5 1.4 1.5 1.2 1.6 .7 1.5 .4 1.5 0 1.5-.4 1.5-.6 1.6-.9 1.5-1.1 1.5-1.4 1.5-1.5 1.6-1.6 1.5-1.8 1.5-1.7 1.5-1.7 1.5-1.6 1.6-1.5 1.5-1.3 1.5-1.1 1.5-.8 1.6-.6 1.5-.3 1.5 0 1.5 .4 1.5 .6 1.6 1 1.5 1.2 1.5 1.4 1.5 1.6 1.6 1.7 1.5 1.8 1.5 1.9 1.5 1.8 1.5 1.8 1.6 1.7 1.5 1.5 1.5 1.3 1.5 1 1.6 .8 1.5 .4 1.5 .2 1.5-.1 1.6-.5 1.5-.6 1.5-.9 1.5-1.2 1.5-1.3 1.6-1.4 1.5-1.6 1.5-1.6 1.5-1.6 1.6-1.6 1.5-1.5 1.5-1.3 1.5-1.2 1.5-1 1.6-.7 1.5-.5 1.5-.2 1.5 0 1.6 .5 1.5 .7 1.5 1 1.5 1.3 1.5 1.6 1.6 1.7 1.5 1.9 1.5 1.9 1.5 2 1.6 2 1.5 1.9 1.5 1.8 1.5 1.6 1.5 1.4 1.6 1.1 1.5 .8 1.5 .5 1.5 .2 1.6-.2 1.5-.6 1.5-1 1.5-1.4 1.6-1.6 1.5-1.9 1.5-2.2 1.5-2.3 1.5-2.3 1.6-2.4 1.5-2.4 1.5-2.2 1.5-2 1.6-1.8 1.5-1.5 1.5-1.2 1.5-.8 1.5-.4 1.6-.1 1.5 .4 1.5 .8 1.5 1.1 1.6 1.5 1.5 1.7 1.5 2 1.5 2.2 1.5 2.2 1.6 2.3 1.5 2.2 1.5 2.2 1.5 2 1.6 1.7 1.5 1.5 1.5 1.1 1.5 .8 1.6 .3 1.5 0 1.5-.4 1.5-1 1.5-1.3 1.6-1.7 1.5-2.1 1.5-2.3 1.5-2.6 1.6-2.7 1.5-2.8 1.5-2.7 1.5-2.7 1.5-2.6 1.6-2.3 1.5-2 1.5-1.7 1.5-1.3 1.6-.9 1.5-.5 1.5 .1 1.5 .5 1.5 .9 1.6 1.5 1.5 1.8 1.5 2.2 1.5 2.4 1.6 2.7 1.5 2.7 1.5 2.8 1.5 2.8 1.5 2.6 1.6 2.4 1.5 2.1 1.5 1.7 1.5 1.4 1.6 .8 1.5 .5 1.5-.1 1.5-.7 1.5-1.2 1.6-1.7 1.5-2.2 1.5-2.6 1.5-3 1.6-3.2 1.5-3.3 1.5-3.5 1.5-3.5 1.6-3.4 1.5-3.1 1.5-3 1.5-2.5 1.5-2.2 1.6-1.7 1.5-1.2 1.5-.6 1.5 0 1.6 .4 1.5 1 1.5 1.4 1.5 1.8 1.5 2.2 1.6 2.5 1.5 2.8 1.5 2.8 1.5 2.9 1.6 2.8 1.5 2.7 1.5 2.4 1.5 2.1 1.5 1.8 1.6 1.3 1.5 .9 1.5 .4 1.5-.2 1.6-.8 1.5-1.3 1.5-1.9 1.5-2.3 1.5-2.8 1.6-3.1 1.5-3.3 1.5-3.5 1.5-3.6 1.6-3.5 1.5-3.4 1.5-3.2 1.5-2.9 1.6-2.5 1.5-2 1.5-1.5 1.5-1 1.5-.3 1.6 .1 1.5 .7 1.5 1.2 1.5 1.6 1.6 2 1.5 2.3 1.5 2.6" stroke="#0b800b" stroke-width="3.5" stroke-dasharray="3.5 4.3"/>
<path d="M165.5 424.6l1.5 2.1 1.5 2 1.6 1.9 1.5 1.7 1.5 1.5 1.5 1.2 1.6 .9 1.5 .6 1.5 .2 1.5-.1 1.5-.5 1.6-.9 1.5-1.2 1.5-1.5 1.5-1.8 1.6-2 1.5-2.2 1.5-2.2 1.5-2.3 1.6-2.3 1.5-2.2 1.5-2 1.5-1.8 1.5-1.5 1.6-1.3 1.5-.9 1.5-.6 1.5-.2 1.6 .2 1.5 .5 1.5 1 1.5 1.2 1.5 1.5 1.6 1.8 1.5 2 1.5 2.1 1.5 2.2 1.6 2.3 1.5 2.2 1.5 2.1 1.5 1.9 1.5 1.7 1.6 1.5 1.5 1.2 1.5 .8 1.5 .5 1.6 .1 1.5-.3 1.5-.7 1.5-1.1 1.5-1.4 1.6-1.7 1.5-2.1 1.5-2.2 1.5-2.4 1.6-2.4 1.5-2.5 1.5-2.4 1.5-2.3 1.5-2 1.6-1.9 1.5-1.5 1.5-1.2 1.5-.8 1.6-.4 1.5 0 1.5 .5 1.5 .9 1.6 1.3 1.5 1.7 1.5 2 1.5 2.3 1.5 2.5 1.6 2.6 1.5 2.6 1.5 2.7 1.5 2.5 1.6 2.3 1.5 2.2 1.5 1.8 1.5 1.4 1.5 1 1.6 .7 1.5 .1 1.5-.3 1.5-.7 1.6-1.1 1.5-1.5 1.5-1.9 1.5-2.1 1.5-2.4 1.6-2.5 1.5-2.6 1.5-2.6 1.5-2.6 1.6-2.4 1.5-2.2 1.5-1.9 1.5-1.6 1.6-1.2 1.5-.8 1.5-.3 1.5 0 1.5 .6 1.6 .9 1.5 1.4 1.5 1.7 1.5 2 1.6 2.3 1.5 2.4 1.5 2.6 1.5 2.7 1.5 2.5 1.6 2.5 1.5 2.3 1.5 2.1 1.5 1.7 1.6 1.4 1.5 1 1.5 .5 1.5 .1 1.5-.4 1.6-1 1.5-1.5 1.5-2 1.5-2.3 1.6-2.7 1.5-2.9 1.5-3 1.5-3 1.5-2.9 1.6-2.8 1.5-2.5 1.5-2 1.5-1.7 1.6-1.2 1.5-.6 1.5 0 1.5 .4 1.5 .8 1.6 1.3 1.5 1.6 1.5 2 1.5 2.3 1.6 2.5 1.5 2.7 1.5 2.8 1.5 2.8 1.6 2.7 1.5 2.6 1.5 2.4 1.5 2.2 1.5 1.8 1.6 1.5 1.5 1.1 1.5 .6 1.5 .2 1.6-.2 1.5-.8 1.5-1.3 1.5-1.7 1.5-2.2 1.6-2.4 1.5-2.7 1.5-2.9 1.5-3 1.6-3 1.5-3 1.5-2.7 1.5-2.6 1.5-2.2 1.6-1.9 1.5-1.4 1.5-1 1.5-.4 1.6 .1 1.5 .7 1.5 1.3 1.5 1.9 1.6 2.5 1.5 2.9 1.5 3.4 1.5 3.5 1.5 3.8 1.6 3.8 1.5 3.8 1.5 3.7 1.5 3.3 1.6 3 1.5 2.6 1.5 2 1.5 1.5 1.5 .9 1.6 .2 1.5-.4 1.5-.9 1.5-1.4 1.6-1.8 1.5-2.3 1.5-2.5 1.5-2.9 1.5-2.9 1.6-3.1 1.5-3 1.5-2.8 1.5-2.7 1.6-2.4 1.5-2 1.5-1.6 1.5-1.1 1.5-.6 1.6 0 1.5 .6 1.5 1.3 1.5 2 1.6 2.5 1.5 3.1 1.5 3.5 1.5 3.8 1.5 4.1 1.6 4.2 1.5 4.3 1.5 4.1 1.5 4 1.6 3.6 1.5 3.2 1.5 2.7 1.5 2.2 1.6 1.5 1.5 .9 1.5 .1 1.5-.4 1.5-1.1 1.6-1.7 1.5-2.3 1.5-2.6 1.5-3.1 1.6-3.4 1.5-3.5 1.5-3.6 1.5-3.6 1.5-3.5 1.6-3.2 1.5-2.9 1.5-2.4 1.5-2 1.6-1.4 1.5-.7 1.5-.2 1.5 .5 1.5 1.2 1.6 1.9 1.5 2.4 1.5 3 1.5 3.4 1.6 3.7 1.5 4 1.5 4 1.5 4.1 1.5 4 1.6 3.7 1.5 3.4 1.5 3 1.5 2.5 1.6 1.9 1.5 1.2 1.5 .6 1.5-.1 1.6-.8 1.5-1.4 1.5-2 1.5-2.6 1.5-3 1.6-3.4 1.5-3.6 1.5-3.9 1.5-3.9 1.6-3.8 1.5-3.7 1.5-3.3 1.5-3 1.5-2.5 1.6-2 1.5-1.4 1.5-.7 1.5-.1 1.6 .6 1.5 1.1 1.5 1.7 1.5 2.3 1.5 2.7 1.6 3.1 1.5 3.4 1.5 3.6 1.5 3.7 1.6 3.7 1.5 3.5 1.5 3.4 1.5 3.1 1.5 2.7 1.6 2.2 1.5 1.7 1.5 1.1 1.5 .5 1.6-.1 1.5-.8 1.5-1.5 1.5-2.1 1.6-2.6 1.5-3.2 1.5-3.6 1.5-3.8 1.5-4.1 1.6-4.1 1.5-4 1.5-3.9 1.5-3.7 1.6-3.2 1.5-2.8 1.5-2.2 1.5-1.6 1.5-.9 1.6-.3 1.5 .4 1.5 1.1 1.5 1.8 1.6 2.3 1.5 2.8 1.5 3.3 1.5 3.6 1.5 3.7 1.6 3.9 1.5 3.9 1.5 3.7 1.5 3.5 1.6 3.1 1.5 2.7 1.5 2.1 1.5 1.6 1.6 .9 1.5 .2 1.5-.5 1.5-1.2 1.5-1.9 1.6-2.5 1.5-3 1.5-3.5 1.5-3.8 1.6-4.2 1.5-4.2 1.5-4.3 1.5-4.3 1.5-4 1.6-3.7 1.5-3.3 1.5-2.8 1.5-2.3 1.6-1.6 1.5-.9 1.5-.2 1.5 .4 1.5 .9 1.6 1.4 1.5 1.9 1.5 2.3 1.5 2.6 1.6 2.9 1.5 3.1 1.5 3.1 1.5 3.1 1.5 2.9 1.6 2.8 1.5 2.5 1.5 2 1.5 1.7 1.6 1.1 1.5 .7 1.5 .1 1.5-.5 1.5-1.2 1.6-1.6 1.5-2.2 1.5-2.7 1.5-3.1 1.6-3.4 1.5-3.6 1.5-3.8 1.5-3.7 1.6-3.7 1.5-3.6 1.5-3.2 1.5-3 1.5-2.5 1.6-2 1.5-1.4 1.5-.9 1.5-.3 1.6 .3 1.5 .8 1.5 1.3 1.5 1.7 1.5 2.1 1.6 2.4 1.5 2.6 1.5 2.8 1.5 2.9 1.6 2.9 1.5 2.7 1.5 2.5 1.5 2.3 1.5 1.9 1.6 1.5 1.5 1 1.5 .5 1.5 0 1.6-.6 1.5-1.3 1.5-1.9 1.5-2.5 1.5-3 1.6-3.3 1.5-3.7 1.5-3.9 1.5-4 1.6-4 1.5-3.9 1.5-3.7 1.5-3.4 1.6-2.9 1.5-2.5 1.5-1.9 1.5-1.3 1.5-.6 1.6 0 1.5 .6 1.5 1.1 1.5 1.7 1.6 2.1 1.5 2.6 1.5 2.9" stroke="#1f77b4" stroke-width="2.6" stroke-dasharray="10 3.5 2.4 3.5"/>
<path d="M165.5 425.5l1.5 2 1.5 2 1.6 1.8 1.5 1.7 1.5 1.3 1.5 1.1 1.6 .8 1.5 .5 1.5 0 1.5-.2 1.5-.6 1.6-.9 1.5-1.2 1.5-1.5 1.5-1.7 1.6-1.8 1.5-2 1.5-2 1.5-2.1 1.6-2 1.5-1.9 1.5-1.7 1.5-1.6 1.5-1.2 1.6-1.1 1.5-.7 1.5-.3 1.5-.1 1.6 .3 1.5 .7 1.5 .9 1.5 1.2 1.5 1.5 1.6 1.6 1.5 1.8 1.5 2 1.5 2 1.6 2 1.5 1.9 1.5 1.8 1.5 1.7 1.5 1.4 1.6 1.2 1.5 1 1.5 .6 1.5 .3 1.6 0 1.5-.5 1.5-.7 1.5-1.1 1.5-1.4 1.6-1.7 1.5-1.9 1.5-2.1 1.5-2.2 1.6-2.2 1.5-2.2 1.5-2.1 1.5-2 1.5-1.8 1.6-1.6 1.5-1.2 1.5-.9 1.5-.6 1.6-.2 1.5 .1 1.5 .6 1.5 1 1.6 1.3 1.5 1.7 1.5 1.9 1.5 2.2 1.5 2.3 1.6 2.4 1.5 2.4 1.5 2.3 1.5 2.3 1.6 2 1.5 1.8 1.5 1.5 1.5 1.2 1.5 .8 1.6 .4 1.5 0 1.5-.4 1.5-.8 1.6-1.2 1.5-1.5 1.5-1.8 1.5-2 1.5-2.2 1.6-2.4 1.5-2.3 1.5-2.4 1.5-2.2 1.6-2.1 1.5-1.9 1.5-1.7 1.5-1.3 1.6-.9 1.5-.6 1.5-.2 1.5 .3 1.5 .6 1.6 1 1.5 1.4 1.5 1.6 1.5 2 1.6 2.1 1.5 2.3 1.5 2.4 1.5 2.3 1.5 2.4 1.6 2.1 1.5 2 1.5 1.8 1.5 1.4 1.6 1.1 1.5 .8 1.5 .3 1.5-.1 1.5-.6 1.6-1.1 1.5-1.5 1.5-2 1.5-2.3 1.6-2.5 1.5-2.8 1.5-2.8 1.5-2.7 1.5-2.7 1.6-2.4 1.5-2.2 1.5-1.7 1.5-1.4 1.6-.9 1.5-.3 1.5 .1 1.5 .5 1.5 1 1.6 1.3 1.5 1.7 1.5 1.9 1.5 2.2 1.6 2.4 1.5 2.6 1.5 2.5 1.5 2.6 1.6 2.5 1.5 2.4 1.5 2.1 1.5 1.9 1.5 1.6 1.6 1.2 1.5 .9 1.5 .4 1.5 0 1.6-.5 1.5-.9 1.5-1.3 1.5-1.8 1.5-2.1 1.6-2.4 1.5-2.6 1.5-2.7 1.5-2.8 1.6-2.8 1.5-2.7 1.5-2.5 1.5-2.2 1.5-2 1.6-1.5 1.5-1.2 1.5-.7 1.5-.2 1.6 .3 1.5 .8 1.5 1.5 1.5 1.9 1.6 2.4 1.5 2.7 1.5 3.1 1.5 3.3 1.5 3.4 1.6 3.4 1.5 3.4 1.5 3.1 1.5 2.9 1.6 2.6 1.5 2.1 1.5 1.6 1.5 1.1 1.5 .5 1.6 0 1.5-.5 1.5-1.1 1.5-1.5 1.6-1.8 1.5-2.3 1.5-2.5 1.5-2.7 1.5-2.8 1.6-2.8 1.5-2.8 1.5-2.6 1.5-2.4 1.6-2.1 1.5-1.8 1.5-1.3 1.5-.8 1.5-.3 1.6 .1 1.5 .8 1.5 1.4 1.5 1.9 1.6 2.4 1.5 2.9 1.5 3.2 1.5 3.4 1.5 3.6 1.6 3.8 1.5 3.6 1.5 3.6 1.5 3.4 1.6 3 1.5 2.6 1.5 2.2 1.5 1.7 1.6 1.1 1.5 .5 1.5-.1 1.5-.6 1.5-1.1 1.6-1.6 1.5-2.1 1.5-2.4 1.5-2.7 1.6-2.9 1.5-3 1.5-3.1 1.5-3 1.5-2.8 1.6-2.6 1.5-2.3 1.5-1.9 1.5-1.5 1.6-.9 1.5-.5 1.5 .1 1.5 .7 1.5 1.2 1.6 1.7 1.5 2.1 1.5 2.6 1.5 2.8 1.6 3.2 1.5 3.2 1.5 3.4 1.5 3.3 1.5 3.1 1.6 3 1.5 2.6 1.5 2.3 1.5 1.8 1.6 1.3 1.5 .8 1.5 .3 1.5-.3 1.6-.8 1.5-1.4 1.5-1.8 1.5-2.2 1.5-2.5 1.6-2.8 1.5-3 1.5-3.1 1.5-3.1 1.6-3 1.5-2.9 1.5-2.6 1.5-2.2 1.5-1.9 1.6-1.4 1.5-.9 1.5-.3 1.5 .1 1.6 .7 1.5 1.2 1.5 1.6 1.5 2.1 1.5 2.4 1.6 2.7 1.5 3 1.5 3 1.5 3.2 1.6 3.1 1.5 2.9 1.5 2.8 1.5 2.4 1.5 2.2 1.6 1.7 1.5 1.2 1.5 .7 1.5 .3 1.6-.4 1.5-.9 1.5-1.5 1.5-2 1.6-2.4 1.5-2.9 1.5-3.2 1.5-3.4 1.5-3.5 1.6-3.5 1.5-3.4 1.5-3.3 1.5-3 1.6-2.6 1.5-2.2 1.5-1.7 1.5-1.2 1.5-.5 1.6 0 1.5 .5 1.5 1.1 1.5 1.6 1.6 2 1.5 2.4 1.5 2.7 1.5 2.9 1.5 3.1 1.6 3.1 1.5 3.1 1.5 2.9 1.5 2.6 1.6 2.4 1.5 2 1.5 1.5 1.5 1 1.6 .5 1.5-.1 1.5-.6 1.5-1.2 1.5-1.8 1.6-2.2 1.5-2.7 1.5-3 1.5-3.3 1.6-3.5 1.5-3.5 1.5-3.5 1.5-3.5 1.5-3.2 1.6-3 1.5-2.5 1.5-2.2 1.5-1.6 1.6-1.1 1.5-.6 1.5 .1 1.5 .5 1.5 1.1 1.6 1.5 1.5 1.8 1.5 2.3 1.5 2.5 1.6 2.7 1.5 2.8 1.5 2.9 1.5 2.8 1.5 2.7 1.6 2.4 1.5 2.1 1.5 1.8 1.5 1.3 1.6 .9 1.5 .4 1.5-.2 1.5-.7 1.5-1.2 1.6-1.8 1.5-2.3 1.5-2.6 1.5-3 1.6-3.3 1.5-3.5 1.5-3.5 1.5-3.5 1.6-3.4 1.5-3.3 1.5-2.9 1.5-2.6 1.5-2.2 1.6-1.7 1.5-1.1 1.5-.6 1.5 0 1.6 .5 1.5 1 1.5 1.4 1.5 1.9 1.5 2.2 1.6 2.5 1.5 2.7 1.5 2.9 1.5 2.9 1.6 2.8 1.5 2.6 1.5 2.5 1.5 2.1 1.5 1.7 1.6 1.3 1.5 .8 1.5 .4 1.5-.3 1.6-.8 1.5-1.5 1.5-2 1.5-2.5 1.5-2.9 1.6-3.3 1.5-3.6 1.5-3.7 1.5-3.8 1.6-3.7 1.5-3.6 1.5-3.4 1.5-3 1.6-2.6 1.5-2.1 1.5-1.6 1.5-.9 1.5-.4 1.6 .2 1.5 .8 1.5 1.3 1.5 1.7 1.6 2.2 1.5 2.5 1.5 2.8" stroke="#000000" stroke-width="2.2" stroke-dasharray="6.5 2.8"/>
</g>
<path d="M165.5 359.2V496.9H835.4V359.2" fill="none" stroke="#5e5e5e" stroke-width="1.8"/>
<path d="M164.6 359.2H836.3" stroke="#5e5e5e" stroke-width="1.8"/>
<path d="M165.5 496.9v3.2M267 496.9v3.2M368.5 496.9v3.2M470 496.9v3.2M571.5 496.9v3.2M673 496.9v3.2M774.5 496.9v3.2M165.5 496.9h-3.2M165.5 460.7h-3.2M165.5 424.4h-3.2M165.5 388.2h-3.2" stroke="#555" stroke-width="1"/>
<g font-family='"DejaVu Sans", "Liberation Sans", sans-serif' font-size="19.6" fill="#000" stroke="#000" stroke-width="0.25">
<text transform="translate(159.9 504) scale(0.97 1)" text-anchor="end">−20</text>
<text transform="translate(159.9 467.8) scale(0.97 1)" text-anchor="end">−10</text>
<text transform="translate(159.9 431.5) scale(0.97 1)" text-anchor="end">0</text>
<text transform="translate(159.9 395.3) scale(0.97 1)" text-anchor="end">10</text>
<text transform="translate(165.5 516.4) scale(0.97 1)" text-anchor="middle">0</text>
<text transform="translate(267 516.4) scale(0.97 1)" text-anchor="middle">100</text>
<text transform="translate(368.5 516.4) scale(0.97 1)" text-anchor="middle">200</text>
<text transform="translate(470 516.4) scale(0.97 1)" text-anchor="middle">300</text>
<text transform="translate(571.5 516.4) scale(0.97 1)" text-anchor="middle">400</text>
<text transform="translate(673 516.4) scale(0.97 1)" text-anchor="middle">500</text>
<text transform="translate(774.5 516.4) scale(0.97 1)" text-anchor="middle">600</text>
</g>
<text x="531.3" y="492.3" font-family='"DejaVu Sans", "Liberation Sans", sans-serif' font-weight="bold" font-size="19" textLength="27.8" lengthAdjust="spacingAndGlyphs">X3</text>
<path d="M270.6 528.5V664.8M372 528.5V664.8M473.5 528.5V664.8M574.9 528.5V664.8M676.4 528.5V664.8M777.8 528.5V664.8M169.1 664.8H838.7M169.1 628.9H838.7M169.1 593.1H838.7M169.1 557.2H838.7" stroke="#e2e2e2" stroke-width="1" fill="none"/>
<g clip-path="url(#cd)" fill="none" stroke-linejoin="round">
<path d="M169.1 594l1.5 2.6 1.5 2.5 1.6 2.4 1.5 2.2 1.5 1.9 1.5 1.7 1.6 1.4 1.5 1 1.5 .7 1.5 .2 1.5-.1 1.6-.5 1.5-.8 1.5-1.3 1.5-1.5 1.5-1.8 1.6-2.1 1.5-2.3 1.5-2.4 1.5-2.5 1.6-2.6 1.5-2.5 1.5-2.5 1.5-2.3 1.5-2.2 1.6-2 1.5-1.6 1.5-1.4 1.5-1 1.6-.7 1.5-.3 1.5 .1 1.5 .4 1.5 .6 1.6 1 1.5 1.2 1.5 1.4 1.5 1.7 1.6 1.9 1.5 2 1.5 2.1 1.5 2.2 1.5 2.2 1.6 2.3 1.5 2.2 1.5 2.1 1.5 2 1.5 1.8 1.6 1.6 1.5 1.5 1.5 1.1 1.5 1 1.6 .6 1.5 .3 1.5 0 1.5-.2 1.5-.6 1.6-.9 1.5-1.2 1.5-1.4 1.5-1.7 1.6-1.9 1.5-2 1.5-2.2 1.5-2.3 1.5-2.4 1.6-2.4 1.5-2.4 1.5-2.3 1.5-2.2 1.5-2.1 1.6-1.9 1.5-1.7 1.5-1.5 1.5-1.2 1.6-1 1.5-.6 1.5-.4 1.5 0 1.5 .3 1.6 .5 1.5 .9 1.5 1.2 1.5 1.4 1.6 1.6 1.5 1.9 1.5 2 1.5 2.2 1.5 2.4 1.6 2.4 1.5 2.4 1.5 2.5 1.5 2.5 1.6 2.4 1.5 2.3 1.5 2.2 1.5 2 1.5 1.8 1.6 1.6 1.5 1.4 1.5 1.1 1.5 .8 1.5 .5 1.6 .2 1.5-.1 1.5-.4 1.5-.6 1.6-1 1.5-1.2 1.5-1.4 1.5-1.7 1.5-1.9 1.6-2.1 1.5-2.2 1.5-2.3 1.5-2.4 1.6-2.4 1.5-2.4 1.5-2.4 1.5-2.4 1.5-2.2 1.6-2.2 1.5-1.9 1.5-1.8 1.5-1.6 1.5-1.3 1.6-1.1 1.5-.8 1.5-.5 1.5-.2 1.6 0 1.5 .3 1.5 .5 1.5 .7 1.5 .9 1.6 1.1 1.5 1.2 1.5 1.5 1.5 1.5 1.6 1.8 1.5 1.8 1.5 1.9 1.5 2 1.5 2.1 1.6 2.1 1.5 2.1 1.5 2.1 1.5 2 1.6 2 1.5 2 1.5 1.8 1.5 1.7 1.5 1.5 1.6 1.4 1.5 1.3 1.5 1 1.5 .9 1.5 .6 1.6 .5 1.5 .2 1.5 0 1.5-.2 1.6-.4 1.5-.6 1.5-.8 1.5-1 1.5-1.2 1.6-1.4 1.5-1.5 1.5-1.6 1.5-1.8 1.6-1.9 1.5-2 1.5-2 1.5-2.2 1.5-2.1 1.6-2.2 1.5-2.1 1.5-2.2 1.5-2.1 1.5-2 1.6-2 1.5-1.9 1.5-1.7 1.5-1.6 1.6-1.5 1.5-1.3 1.5-1.1 1.5-1 1.5-.7 1.6-.6 1.5-.3 1.5-.2 1.5 .1 1.6 .2 1.5 .4 1.5 .6 1.5 .8 1.5 1 1.6 1.1 1.5 1.2 1.5 1.4 1.5 1.6 1.6 1.6 1.5 1.8 1.5 1.9 1.5 1.9 1.5 2 1.6 2.1 1.5 2.1 1.5 2.1 1.5 2.2 1.5 2.1 1.6 2.1 1.5 2.1 1.5 2 1.5 2 1.6 1.8 1.5 1.8 1.5 1.6 1.5 1.6 1.5 1.4 1.6 1.2 1.5 1.1 1.5 .9 1.5 .8 1.6 .6 1.5 .4 1.5 .2 1.5 .1 1.5-.2 1.6-.2 1.5-.5 1.5-.6 1.5-.7 1.5-.9 1.6-1.1 1.5-1.2 1.5-1.3 1.5-1.4 1.6-1.6 1.5-1.6 1.5-1.8 1.5-1.8 1.5-1.9 1.6-2 1.5-2 1.5-2.1 1.5-2.1 1.6-2.1 1.5-2.1 1.5-2.1 1.5-2.1 1.5-2 1.6-2 1.5-2 1.5-1.9 1.5-1.8 1.6-1.7 1.5-1.6 1.5-1.5 1.5-1.3 1.5-1.3 1.6-1.1 1.5-1 1.5-.8 1.5-.7 1.5-.5 1.6-.4 1.5-.2 1.5-.1 1.5 .1 1.6 .3 1.5 .4 1.5 .5 1.5 .7 1.5 .8 1.6 .9 1.5 1.1 1.5 1.2 1.5 1.3 1.6 1.4 1.5 1.6 1.5 1.6 1.5 1.7 1.5 1.8 1.6 1.8 1.5 2 1.5 1.9 1.5 2 1.5 2.1 1.6 2.1 1.5 2.1 1.5 2 1.5 2.1 1.6 2.1 1.5 2 1.5 2 1.5 2 1.5 1.9 1.6 1.8 1.5 1.8 1.5 1.7 1.5 1.5 1.6 1.5 1.5 1.4 1.5 1.3 1.5 1.1 1.5 1 1.6 .9 1.5 .8 1.5 .6 1.5 .5 1.6 .3 1.5 .2 1.5 0 1.5-.1 1.5-.2 1.6-.3 1.5-.5 1.5-.7 1.5-.7 1.5-.9 1.6-1 1.5-1.1 1.5-1.2 1.5-1.3 1.6-1.4 1.5-1.5 1.5-1.6 1.5-1.7 1.5-1.8 1.6-1.8 1.5-1.9 1.5-1.9 1.5-2 1.6-2 1.5-2.1 1.5-2.1 1.5-2 1.5-2.1 1.6-2.1 1.5-2 1.5-2.1 1.5-2 1.5-1.9 1.6-1.9 1.5-1.9 1.5-1.8 1.5-1.7 1.6-1.6 1.5-1.6 1.5-1.4 1.5-1.4 1.5-1.3 1.6-1.1 1.5-1 1.5-1 1.5-.8 1.6-.6 1.5-.6 1.5-.4 1.5-.3 1.5-.1 1.6 0 1.5 .1 1.5 .3 1.5 .4 1.6 .5 1.5 .7 1.5 .7 1.5 1 1.5 1 1.6 1.2 1.5 1.2 1.5 1.4 1.5 1.5 1.5 1.6 1.6 1.7 1.5 1.7 1.5 1.8 1.5 1.9 1.6 2 1.5 2 1.5 2.1 1.5 2.1 1.5 2.1 1.6 2.2 1.5 2.1 1.5 2.2 1.5 2.1 1.6 2.2 1.5 2.1 1.5 2.1 1.5 2 1.5 2 1.6 2 1.5 1.9 1.5 1.8 1.5 1.7 1.5 1.6 1.6 1.6 1.5 1.4 1.5 1.4 1.5 1.2 1.6 1.1 1.5 1 1.5 .9 1.5 .8 1.5 .6 1.6 .5 1.5 .3 1.5 .2 1.5 .1 1.6 0 1.5-.2 1.5-.3 1.5-.4 1.5-.6 1.6-.6 1.5-.8 1.5-.9 1.5-1 1.6-1.1 1.5-1.2 1.5-1.3 1.5-1.4 1.5-1.5 1.6-1.6 1.5-1.6 1.5-1.7 1.5-1.8 1.5-1.8 1.6-1.9 1.5-2 1.5-2 1.5-2 1.6-2 1.5-2.1 1.5-2" stroke="#e8191b" stroke-width="2.1"/>
<path d="M169.1 590.1l1.5 2 1.5 2 1.6 1.8 1.5 1.8 1.5 1.5 1.5 1.3 1.6 1.1 1.5 .8 1.5 .5 1.5 .2 1.5-.1 1.6-.3 1.5-.5 1.5-.8 1.5-.9 1.5-1.2 1.6-1.3 1.5-1.4 1.5-1.5 1.5-1.6 1.6-1.6 1.5-1.6 1.5-1.5 1.5-1.5 1.5-1.3 1.6-1.3 1.5-1 1.5-.9 1.5-.6 1.6-.4 1.5-.2 1.5 0 1.5 .3 1.5 .5 1.6 .8 1.5 .9 1.5 1.1 1.5 1.3 1.6 1.5 1.5 1.5 1.5 1.7 1.5 1.7 1.5 1.7 1.6 1.7 1.5 1.7 1.5 1.7 1.5 1.5 1.5 1.4 1.6 1.3 1.5 1.1 1.5 .9 1.5 .7 1.6 .5 1.5 .3 1.5 0 1.5-.2 1.5-.5 1.6-.7 1.5-.9 1.5-1.1 1.5-1.3 1.6-1.5 1.5-1.6 1.5-1.7 1.5-1.9 1.5-1.8 1.6-1.9 1.5-1.9 1.5-1.8 1.5-1.7 1.5-1.7 1.6-1.5 1.5-1.3 1.5-1.2 1.5-.9 1.6-.8 1.5-.5 1.5-.2 1.5-.1 1.5 .3 1.6 .4 1.5 .7 1.5 1 1.5 1.1 1.6 1.3 1.5 1.6 1.5 1.6 1.5 1.8 1.5 1.9 1.6 2 1.5 2 1.5 2 1.5 2 1.6 2 1.5 1.9 1.5 1.7 1.5 1.7 1.5 1.5 1.6 1.3 1.5 1.1 1.5 .9 1.5 .6 1.5 .4 1.6 .2 1.5-.1 1.5-.3 1.5-.5 1.6-.8 1.5-1 1.5-1.2 1.5-1.4 1.5-1.6 1.6-1.7 1.5-1.8 1.5-2 1.5-1.9 1.6-2.1 1.5-2 1.5-2 1.5-2 1.5-1.8 1.6-1.8 1.5-1.6 1.5-1.5 1.5-1.3 1.5-1.1 1.6-.9 1.5-.7 1.5-.4 1.5-.2 1.6 0 1.5 .2 1.5 .3 1.5 .5 1.5 .6 1.6 .7 1.5 .9 1.5 1 1.5 1 1.6 1.2 1.5 1.2 1.5 1.3 1.5 1.4 1.5 1.4 1.6 1.4 1.5 1.4 1.5 1.4 1.5 1.4 1.6 1.3 1.5 1.3 1.5 1.2 1.5 1.2 1.5 1 1.6 .9 1.5 .9 1.5 .7 1.5 .6 1.5 .4 1.6 .3 1.5 .1 1.5 0 1.5-.1 1.6-.3 1.5-.4 1.5-.5 1.5-.7 1.5-.8 1.6-.9 1.5-1 1.5-1.1 1.5-1.2 1.6-1.2 1.5-1.3 1.5-1.4 1.5-1.4 1.5-1.5 1.6-1.4 1.5-1.4 1.5-1.5 1.5-1.4 1.5-1.3 1.6-1.3 1.5-1.3 1.5-1.1 1.5-1.1 1.6-1 1.5-.9 1.5-.7 1.5-.7 1.5-.5 1.6-.3 1.5-.3 1.5-.1 1.5 .1 1.6 .1 1.5 .3 1.5 .4 1.5 .5 1.5 .6 1.6 .7 1.5 .8 1.5 .9 1.5 1 1.6 1 1.5 1.2 1.5 1.2 1.5 1.2 1.5 1.3 1.6 1.3 1.5 1.4 1.5 1.4 1.5 1.3 1.5 1.4 1.6 1.3 1.5 1.4 1.5 1.3 1.5 1.2 1.6 1.2 1.5 1.1 1.5 1.1 1.5 1 1.5 .9 1.6 .8 1.5 .7 1.5 .5 1.5 .5 1.6 .4 1.5 .3 1.5 .1 1.5 0 1.5 0 1.6-.2 1.5-.3 1.5-.5 1.5-.5 1.5-.6 1.6-.7 1.5-.8 1.5-.9 1.5-1 1.6-1.1 1.5-1.1 1.5-1.2 1.5-1.3 1.5-1.3 1.6-1.4 1.5-1.4 1.5-1.4 1.5-1.4 1.6-1.5 1.5-1.4 1.5-1.5 1.5-1.4 1.5-1.4 1.6-1.4 1.5-1.3 1.5-1.3 1.5-1.3 1.6-1.1 1.5-1.1 1.5-1.1 1.5-.9 1.5-.9 1.6-.8 1.5-.6 1.5-.6 1.5-.5 1.5-.3 1.6-.3 1.5-.1 1.5-.1 1.5 .1 1.6 .2 1.5 .4 1.5 .4 1.5 .6 1.5 .6 1.6 .8 1.5 .9 1.5 1 1.5 1.1 1.6 1.2 1.5 1.2 1.5 1.4 1.5 1.4 1.5 1.5 1.6 1.5 1.5 1.6 1.5 1.7 1.5 1.7 1.5 1.7 1.6 1.7 1.5 1.7 1.5 1.8 1.5 1.7 1.6 1.7 1.5 1.7 1.5 1.7 1.5 1.6 1.5 1.6 1.6 1.5 1.5 1.5 1.5 1.4 1.5 1.3 1.6 1.2 1.5 1.2 1.5 1 1.5 1 1.5 .8 1.6 .8 1.5 .6 1.5 .5 1.5 .4 1.6 .3 1.5 .1 1.5 .1 1.5-.1 1.5-.2 1.6-.2 1.5-.4 1.5-.5 1.5-.6 1.5-.7 1.6-.7 1.5-.9 1.5-.9 1.5-1.1 1.6-1.1 1.5-1.1 1.5-1.3 1.5-1.3 1.5-1.4 1.6-1.4 1.5-1.5 1.5-1.5 1.5-1.5 1.6-1.6 1.5-1.6 1.5-1.6 1.5-1.6 1.5-1.6 1.6-1.6 1.5-1.6 1.5-1.6 1.5-1.6 1.5-1.5 1.6-1.5 1.5-1.4 1.5-1.4 1.5-1.3 1.6-1.3 1.5-1.2 1.5-1.1 1.5-1.1 1.5-1 1.6-.9 1.5-.8 1.5-.7 1.5-.6 1.6-.5 1.5-.5 1.5-.3 1.5-.2 1.5-.1 1.6 0 1.5 .1 1.5 .1 1.5 .3 1.6 .3 1.5 .4 1.5 .5 1.5 .6 1.5 .6 1.6 .7 1.5 .8 1.5 .9 1.5 .9 1.5 1 1.6 1 1.5 1.1 1.5 1.2 1.5 1.1 1.6 1.3 1.5 1.2 1.5 1.3 1.5 1.3 1.5 1.3 1.6 1.3 1.5 1.4 1.5 1.3 1.5 1.4 1.6 1.3 1.5 1.3 1.5 1.3 1.5 1.3 1.5 1.2 1.6 1.2 1.5 1.2 1.5 1.1 1.5 1.1 1.5 1 1.6 1 1.5 .9 1.5 .8 1.5 .8 1.6 .7 1.5 .6 1.5 .5 1.5 .5 1.5 .4 1.6 .3 1.5 .2 1.5 .1 1.5 .1 1.6 0 1.5-.1 1.5-.2 1.5-.2 1.5-.4 1.6-.3 1.5-.5 1.5-.5 1.5-.5 1.6-.7 1.5-.7 1.5-.7 1.5-.8 1.5-.8 1.6-.9 1.5-1 1.5-1 1.5-1 1.5-1 1.6-1.1 1.5-1.1 1.5-1.1 1.5-1.2 1.6-1.2 1.5-1.1 1.5-1.2" stroke="#0b800b" stroke-width="3.5" stroke-dasharray="3.5 4.3"/>
<path d="M169.1 590.6l1.5 2.6 1.5 2.5 1.6 2.6 1.5 2.4 1.5 2.3 1.5 2 1.6 1.8 1.5 1.5 1.5 1.1 1.5 .8 1.5 .4 1.6 0 1.5-.4 1.5-.8 1.5-1.2 1.5-1.6 1.6-1.9 1.5-2.2 1.5-2.4 1.5-2.6 1.6-2.7 1.5-2.8 1.5-2.8 1.5-2.7 1.5-2.7 1.6-2.4 1.5-2.2 1.5-2 1.5-1.6 1.6-1.2 1.5-.9 1.5-.4 1.5-.1 1.5 .3 1.6 .6 1.5 1 1.5 1.2 1.5 1.5 1.6 1.8 1.5 1.9 1.5 2.2 1.5 2.3 1.5 2.4 1.6 2.4 1.5 2.5 1.5 2.4 1.5 2.4 1.5 2.2 1.6 2.1 1.5 1.8 1.5 1.7 1.5 1.4 1.6 1.1 1.5 .7 1.5 .5 1.5 .2 1.5-.2 1.6-.6 1.5-.9 1.5-1.2 1.5-1.5 1.6-1.8 1.5-2 1.5-2.2 1.5-2.4 1.5-2.6 1.6-2.6 1.5-2.7 1.5-2.6 1.5-2.6 1.5-2.6 1.6-2.4 1.5-2.2 1.5-2 1.5-1.7 1.6-1.5 1.5-1.1 1.5-.9 1.5-.5 1.5-.1 1.6 .2 1.5 .5 1.5 .8 1.5 1.2 1.6 1.5 1.5 1.7 1.5 2 1.5 2.2 1.5 2.4 1.6 2.5 1.5 2.7 1.5 2.7 1.5 2.7 1.6 2.8 1.5 2.6 1.5 2.6 1.5 2.5 1.5 2.3 1.6 2.1 1.5 1.8 1.5 1.6 1.5 1.3 1.5 1 1.6 .7 1.5 .4 1.5 0 1.5-.3 1.6-.7 1.5-.9 1.5-1.2 1.5-1.5 1.5-1.7 1.6-2 1.5-2.1 1.5-2.4 1.5-2.4 1.6-2.6 1.5-2.6 1.5-2.6 1.5-2.6 1.5-2.6 1.6-2.5 1.5-2.3 1.5-2.2 1.5-2 1.5-1.8 1.6-1.5 1.5-1.2 1.5-1 1.5-.6 1.6-.4 1.5 0 1.5 .2 1.5 .4 1.5 .7 1.6 .9 1.5 1.1 1.5 1.3 1.5 1.5 1.6 1.7 1.5 1.8 1.5 1.9 1.5 2.1 1.5 2.1 1.6 2.2 1.5 2.3 1.5 2.2 1.5 2.3 1.6 2.2 1.5 2.2 1.5 2.1 1.5 2 1.5 1.9 1.6 1.7 1.5 1.6 1.5 1.4 1.5 1.2 1.5 1 1.6 .7 1.5 .6 1.5 .3 1.5 .1 1.6-.1 1.5-.4 1.5-.6 1.5-.8 1.5-1.1 1.6-1.2 1.5-1.4 1.5-1.6 1.5-1.8 1.6-1.9 1.5-2.1 1.5-2.1 1.5-2.3 1.5-2.3 1.6-2.3 1.5-2.4 1.5-2.4 1.5-2.4 1.5-2.4 1.6-2.2 1.5-2.2 1.5-2.1 1.5-2 1.6-1.8 1.5-1.7 1.5-1.5 1.5-1.3 1.5-1.1 1.6-.9 1.5-.7 1.5-.5 1.5-.2 1.6 0 1.5 .2 1.5 .4 1.5 .6 1.5 .8 1.6 1.1 1.5 1.2 1.5 1.4 1.5 1.5 1.6 1.7 1.5 1.9 1.5 2 1.5 2.1 1.5 2.2 1.6 2.3 1.5 2.4 1.5 2.4 1.5 2.5 1.5 2.4 1.6 2.5 1.5 2.4 1.5 2.4 1.5 2.4 1.6 2.3 1.5 2.1 1.5 2.1 1.5 1.9 1.5 1.9 1.6 1.6 1.5 1.5 1.5 1.3 1.5 1.2 1.6 .9 1.5 .7 1.5 .6 1.5 .3 1.5 .1 1.6 0 1.5-.3 1.5-.5 1.5-.6 1.5-.9 1.6-1 1.5-1.1 1.5-1.4 1.5-1.5 1.6-1.6 1.5-1.8 1.5-1.9 1.5-2.1 1.5-2.1 1.6-2.2 1.5-2.3 1.5-2.4 1.5-2.5 1.6-2.4 1.5-2.5 1.5-2.5 1.5-2.5 1.5-2.5 1.6-2.4 1.5-2.4 1.5-2.3 1.5-2.2 1.6-2.2 1.5-2.1 1.5-1.9 1.5-1.8 1.5-1.7 1.6-1.5 1.5-1.4 1.5-1.2 1.5-1.1 1.5-.8 1.6-.7 1.5-.5 1.5-.3 1.5-.1 1.6 0 1.5 .3 1.5 .4 1.5 .6 1.5 .8 1.6 1 1.5 1.1 1.5 1.3 1.5 1.5 1.6 1.6 1.5 1.7 1.5 1.9 1.5 2 1.5 2.1 1.6 2.3 1.5 2.3 1.5 2.4 1.5 2.5 1.5 2.5 1.6 2.6 1.5 2.6 1.5 2.6 1.5 2.7 1.6 2.6 1.5 2.6 1.5 2.6 1.5 2.6 1.5 2.4 1.6 2.5 1.5 2.3 1.5 2.3 1.5 2.1 1.6 2.1 1.5 1.9 1.5 1.8 1.5 1.6 1.5 1.5 1.6 1.3 1.5 1.2 1.5 1 1.5 .9 1.6 .6 1.5 .5 1.5 .3 1.5 .1 1.5 0 1.6-.2 1.5-.4 1.5-.6 1.5-.7 1.5-.9 1.6-1 1.5-1.2 1.5-1.3 1.5-1.5 1.6-1.6 1.5-1.7 1.5-1.8 1.5-2 1.5-2 1.6-2.2 1.5-2.2 1.5-2.3 1.5-2.4 1.6-2.4 1.5-2.5 1.5-2.6 1.5-2.5 1.5-2.6 1.6-2.6 1.5-2.5 1.5-2.6 1.5-2.5 1.5-2.5 1.6-2.4 1.5-2.4 1.5-2.3 1.5-2.3 1.6-2.1 1.5-2.1 1.5-2 1.5-1.8 1.5-1.7 1.6-1.6 1.5-1.5 1.5-1.3 1.5-1.2 1.6-1.1 1.5-.8 1.5-.8 1.5-.5 1.5-.4 1.6-.3 1.5 0 1.5 .1 1.5 .2 1.6 .5 1.5 .6 1.5 .7 1.5 .9 1.5 1.1 1.6 1.3 1.5 1.4 1.5 1.5 1.5 1.6 1.5 1.8 1.6 2 1.5 2 1.5 2.1 1.5 2.3 1.6 2.3 1.5 2.4 1.5 2.5 1.5 2.5 1.5 2.6 1.6 2.6 1.5 2.6 1.5 2.7 1.5 2.7 1.6 2.7 1.5 2.6 1.5 2.7 1.5 2.6 1.5 2.5 1.6 2.5 1.5 2.4 1.5 2.4 1.5 2.2 1.5 2.2 1.6 2.1 1.5 1.9 1.5 1.9 1.5 1.7 1.6 1.6 1.5 1.4 1.5 1.3 1.5 1.1 1.5 1 1.6 .8 1.5 .7 1.5 .5 1.5 .3 1.6 .1 1.5 0 1.5-.1 1.5-.3 1.5-.5 1.6-.5 1.5-.7 1.5-.9 1.5-.9 1.6-1.1 1.5-1.2 1.5-1.4 1.5-1.4 1.5-1.6 1.6-1.6 1.5-1.8 1.5-1.8 1.5-1.9 1.5-2 1.6-2.1 1.5-2.1 1.5-2.2 1.5-2.2 1.6-2.3 1.5-2.3 1.5-2.3" stroke="#1f77b4" stroke-width="2.6" stroke-dasharray="10 3.5 2.4 3.5"/>
<path d="M169.1 593l1.5 2.6 1.5 2.5 1.6 2.4 1.5 2.3 1.5 2.1 1.5 1.8 1.6 1.5 1.5 1.1 1.5 .8 1.5 .5 1.5 0 1.6-.3 1.5-.8 1.5-1 1.5-1.4 1.5-1.7 1.6-2 1.5-2.2 1.5-2.4 1.5-2.5 1.6-2.5 1.5-2.6 1.5-2.5 1.5-2.4 1.5-2.3 1.6-2 1.5-1.8 1.5-1.5 1.5-1.2 1.6-.8 1.5-.4 1.5-.1 1.5 .3 1.5 .5 1.6 .9 1.5 1.1 1.5 1.3 1.5 1.6 1.6 1.8 1.5 1.9 1.5 2.1 1.5 2.2 1.5 2.2 1.6 2.3 1.5 2.2 1.5 2.1 1.5 2.1 1.5 1.9 1.6 1.7 1.5 1.5 1.5 1.3 1.5 1 1.6 .8 1.5 .4 1.5 .2 1.5-.2 1.5-.5 1.6-.7 1.5-1.1 1.5-1.3 1.5-1.6 1.6-1.8 1.5-2 1.5-2.1 1.5-2.3 1.5-2.3 1.6-2.4 1.5-2.4 1.5-2.4 1.5-2.2 1.5-2.2 1.6-2 1.5-1.8 1.5-1.5 1.5-1.4 1.6-1 1.5-.8 1.5-.5 1.5-.1 1.5 .1 1.6 .5 1.5 .7 1.5 1.1 1.5 1.3 1.6 1.5 1.5 1.8 1.5 2 1.5 2.1 1.5 2.3 1.6 2.4 1.5 2.5 1.5 2.4 1.5 2.5 1.6 2.4 1.5 2.4 1.5 2.2 1.5 2.1 1.5 1.9 1.6 1.7 1.5 1.5 1.5 1.2 1.5 .9 1.5 .6 1.6 .4 1.5 0 1.5-.3 1.5-.5 1.6-.9 1.5-1.1 1.5-1.3 1.5-1.6 1.5-1.8 1.6-2 1.5-2.2 1.5-2.2 1.5-2.4 1.6-2.4 1.5-2.5 1.5-2.4 1.5-2.4 1.5-2.3 1.6-2.1 1.5-2.1 1.5-1.8 1.5-1.7 1.5-1.4 1.6-1.2 1.5-.9 1.5-.6 1.5-.4 1.6 0 1.5 .2 1.5 .4 1.5 .6 1.5 .8 1.6 1 1.5 1.2 1.5 1.4 1.5 1.5 1.6 1.7 1.5 1.8 1.5 1.9 1.5 1.9 1.5 2.1 1.6 2.1 1.5 2.1 1.5 2.1 1.5 2 1.6 2.1 1.5 1.9 1.5 1.9 1.5 1.7 1.5 1.6 1.6 1.5 1.5 1.3 1.5 1.1 1.5 .9 1.5 .8 1.6 .5 1.5 .3 1.5 .1 1.5-.1 1.6-.3 1.5-.6 1.5-.7 1.5-.9 1.5-1.1 1.6-1.3 1.5-1.5 1.5-1.6 1.5-1.7 1.6-1.8 1.5-2 1.5-2 1.5-2.1 1.5-2.1 1.6-2.2 1.5-2.2 1.5-2.1 1.5-2.2 1.5-2 1.6-2 1.5-1.9 1.5-1.8 1.5-1.7 1.6-1.5 1.5-1.4 1.5-1.2 1.5-1 1.5-.8 1.6-.7 1.5-.4 1.5-.2 1.5-.1 1.6 .2 1.5 .3 1.5 .6 1.5 .7 1.5 .9 1.6 1 1.5 1.2 1.5 1.3 1.5 1.5 1.6 1.6 1.5 1.8 1.5 1.8 1.5 1.9 1.5 2 1.6 2.1 1.5 2.1 1.5 2.1 1.5 2.1 1.5 2.2 1.6 2.1 1.5 2.1 1.5 2 1.5 2 1.6 1.9 1.5 1.8 1.5 1.7 1.5 1.6 1.5 1.4 1.6 1.3 1.5 1.2 1.5 1 1.5 .8 1.6 .7 1.5 .5 1.5 .3 1.5 .1 1.5-.1 1.6-.2 1.5-.4 1.5-.6 1.5-.7 1.5-.9 1.6-1 1.5-1.2 1.5-1.3 1.5-1.4 1.6-1.6 1.5-1.7 1.5-1.7 1.5-1.9 1.5-2 1.6-2 1.5-2.1 1.5-2.1 1.5-2.2 1.6-2.2 1.5-2.2 1.5-2.1 1.5-2.2 1.5-2.2 1.6-2.1 1.5-2 1.5-2 1.5-1.9 1.6-1.8 1.5-1.7 1.5-1.6 1.5-1.5 1.5-1.4 1.6-1.2 1.5-1.1 1.5-.9 1.5-.7 1.5-.7 1.6-.4 1.5-.3 1.5-.1 1.5 0 1.6 .2 1.5 .4 1.5 .5 1.5 .7 1.5 .8 1.6 1 1.5 1.1 1.5 1.3 1.5 1.3 1.6 1.5 1.5 1.6 1.5 1.8 1.5 1.8 1.5 1.9 1.6 2 1.5 2.1 1.5 2.1 1.5 2.2 1.5 2.2 1.6 2.3 1.5 2.2 1.5 2.3 1.5 2.3 1.6 2.2 1.5 2.3 1.5 2.2 1.5 2.1 1.5 2.1 1.6 2 1.5 2 1.5 1.9 1.5 1.7 1.6 1.7 1.5 1.5 1.5 1.5 1.5 1.3 1.5 1.1 1.6 1.1 1.5 .8 1.5 .8 1.5 .6 1.6 .4 1.5 .2 1.5 .2 1.5-.1 1.5-.2 1.6-.3 1.5-.5 1.5-.6 1.5-.8 1.5-.9 1.6-1 1.5-1.2 1.5-1.2 1.5-1.4 1.6-1.6 1.5-1.6 1.5-1.7 1.5-1.8 1.5-1.9 1.6-2 1.5-2 1.5-2.1 1.5-2.2 1.6-2.2 1.5-2.2 1.5-2.2 1.5-2.3 1.5-2.3 1.6-2.2 1.5-2.3 1.5-2.2 1.5-2.2 1.5-2.2 1.6-2.1 1.5-2.1 1.5-2 1.5-1.9 1.6-1.8 1.5-1.7 1.5-1.7 1.5-1.5 1.5-1.4 1.6-1.3 1.5-1.2 1.5-1.1 1.5-.9 1.6-.8 1.5-.6 1.5-.5 1.5-.4 1.5-.2 1.6-.1 1.5 .1 1.5 .2 1.5 .4 1.6 .5 1.5 .7 1.5 .8 1.5 .9 1.5 1.1 1.6 1.2 1.5 1.3 1.5 1.5 1.5 1.6 1.5 1.7 1.6 1.7 1.5 1.9 1.5 2 1.5 2 1.6 2.1 1.5 2.2 1.5 2.2 1.5 2.3 1.5 2.3 1.6 2.3 1.5 2.4 1.5 2.4 1.5 2.3 1.6 2.4 1.5 2.3 1.5 2.3 1.5 2.2 1.5 2.2 1.6 2.2 1.5 2 1.5 2 1.5 2 1.5 1.8 1.6 1.7 1.5 1.6 1.5 1.5 1.5 1.4 1.6 1.3 1.5 1.2 1.5 1 1.5 .8 1.5 .8 1.6 .6 1.5 .4 1.5 .3 1.5 .1 1.6 0 1.5-.1 1.5-.3 1.5-.4 1.5-.5 1.6-.6 1.5-.8 1.5-.9 1.5-1 1.6-1.1 1.5-1.2 1.5-1.3 1.5-1.4 1.5-1.6 1.6-1.6 1.5-1.7 1.5-1.7 1.5-1.9 1.5-1.9 1.6-1.9 1.5-2 1.5-2.1 1.5-2.1 1.6-2.1 1.5-2.2 1.5-2.1" stroke="#000000" stroke-width="2.2" stroke-dasharray="6.5 2.8"/>
</g>
<path d="M169.1 528.5V664.8H838.7V528.5" fill="none" stroke="#5e5e5e" stroke-width="1.8"/>
<path d="M168.2 528.5H839.6" stroke="#5e5e5e" stroke-width="1.8"/>
<path d="M169.1 664.8v3.2M270.6 664.8v3.2M372 664.8v3.2M473.5 664.8v3.2M574.9 664.8v3.2M676.4 664.8v3.2M777.8 664.8v3.2M169.1 664.8h-3.2M169.1 628.9h-3.2M169.1 593.1h-3.2M169.1 557.2h-3.2" stroke="#555" stroke-width="1"/>
<g font-family='"DejaVu Sans", "Liberation Sans", sans-serif' font-size="19.6" fill="#000" stroke="#000" stroke-width="0.25">
<text transform="translate(163.5 671.9) scale(0.97 1)" text-anchor="end">−20</text>
<text transform="translate(163.5 636) scale(0.97 1)" text-anchor="end">−10</text>
<text transform="translate(163.5 600.2) scale(0.97 1)" text-anchor="end">0</text>
<text transform="translate(163.5 564.3) scale(0.97 1)" text-anchor="end">10</text>
<text transform="translate(169.1 684.3) scale(0.97 1)" text-anchor="middle">0</text>
<text transform="translate(270.6 684.3) scale(0.97 1)" text-anchor="middle">100</text>
<text transform="translate(372 684.3) scale(0.97 1)" text-anchor="middle">200</text>
<text transform="translate(473.5 684.3) scale(0.97 1)" text-anchor="middle">300</text>
<text transform="translate(574.9 684.3) scale(0.97 1)" text-anchor="middle">400</text>
<text transform="translate(676.4 684.3) scale(0.97 1)" text-anchor="middle">500</text>
<text transform="translate(777.8 684.3) scale(0.97 1)" text-anchor="middle">600</text>
</g>
<text x="534.2" y="660.2" font-family='"DejaVu Sans", "Liberation Sans", sans-serif' font-weight="bold" font-size="19" textLength="28.3" lengthAdjust="spacingAndGlyphs">X4</text>
<path d="M270.7 699.4V836.8M372.1 699.4V836.8M473.5 699.4V836.8M574.9 699.4V836.8M676.3 699.4V836.8M777.7 699.4V836.8M169.3 836.8H838.5M169.3 800.6H838.5M169.3 764.5H838.5M169.3 728.3H838.5" stroke="#e2e2e2" stroke-width="1" fill="none"/>
<g clip-path="url(#ce)" fill="none" stroke-linejoin="round">
<path d="M169.3 765.4l1.5 .5 1.5 .6 1.6 .5 1.5 .6 1.5 .5 1.5 .5 1.5 .6 1.6 .5 1.5 .5 1.5 .6 1.5 .5 1.6 .5 1.5 .6 1.5 .5 1.5 .5 1.5 .5 1.6 .6 1.5 .5 1.5 .5 1.5 .5 1.5 .6 1.6 .5 1.5 .5 1.5 .5 1.5 .5 1.5 .5 1.6 .5 1.5 .5 1.5 .5 1.5 .5 1.5 .5 1.6 .5 1.5 .5 1.5 .4 1.5 .5 1.6 .5 1.5 .5 1.5 .4 1.5 .5 1.5 .4 1.6 .5 1.5 .4 1.5 .5 1.5 .4 1.5 .5 1.6 .4 1.5 .4 1.5 .4 1.5 .5 1.5 .4 1.6 .4 1.5 .4 1.5 .4 1.5 .3 1.6 .4 1.5 .4 1.5 .4 1.5 .3 1.5 .4 1.6 .3 1.5 .4 1.5 .3 1.5 .4 1.5 .3 1.6 .3 1.5 .3 1.5 .3 1.5 .3 1.5 .3 1.6 .3 1.5 .3 1.5 .3 1.5 .2 1.5 .3 1.6 .2 1.5 .3 1.5 .2 1.5 .3 1.6 .2 1.5 .2 1.5 .2 1.5 .2 1.5 .2 1.6 .2 1.5 .2 1.5 .1 1.5 .2 1.5 .1 1.6 .2 1.5 .1 1.5 .2 1.5 .1 1.5 .1 1.6 .1 1.5 .1 1.5 .1 1.5 .1 1.5 0 1.6 .1 1.5 .1 1.5 0 1.5 .1 1.6 0 1.5 0 1.5 0 1.5 0 1.5 0 1.6 0 1.5 0 1.5 0 1.5 0 1.5 0 1.6-.1 1.5 0 1.5-.1 1.5 0 1.5-.1 1.6-.1 1.5 0 1.5-.1 1.5-.1 1.6-.1 1.5-.1 1.5-.1 1.5-.1 1.5-.1 1.6-.2 1.5-.1 1.5-.1 1.5-.2 1.5-.1 1.6-.2 1.5-.2 1.5-.1 1.5-.2 1.5-.2 1.6-.2 1.5-.2 1.5-.2 1.5-.2 1.5-.2 1.6-.2 1.5-.2 1.5-.2 1.5-.3 1.6-.2 1.5-.3 1.5-.2 1.5-.3 1.5-.2 1.6-.3 1.5-.3 1.5-.2 1.5-.3 1.5-.3 1.6-.3 1.5-.3 1.5-.3 1.5-.3 1.5-.3 1.6-.3 1.5-.4 1.5-.3 1.5-.3 1.5-.3 1.6-.4 1.5-.3 1.5-.4 1.5-.3 1.6-.4 1.5-.3 1.5-.4 1.5-.4 1.5-.4 1.6-.3 1.5-.4 1.5-.4 1.5-.4 1.5-.4 1.6-.4 1.5-.4 1.5-.4 1.5-.4 1.5-.4 1.6-.4 1.5-.4 1.5-.4 1.5-.5 1.6-.4 1.5-.4 1.5-.4 1.5-.5 1.5-.4 1.6-.4 1.5-.5 1.5-.4 1.5-.5 1.5-.4 1.6-.5 1.5-.4 1.5-.5 1.5-.4 1.5-.5 1.6-.4 1.5-.5 1.5-.4 1.5-.5 1.5-.5 1.6-.4 1.5-.5 1.5-.5 1.5-.4 1.6-.5 1.5-.5 1.5-.4 1.5-.5 1.5-.5 1.6-.5 1.5-.4 1.5-.5 1.5-.5 1.5-.4 1.6-.5 1.5-.5 1.5-.5 1.5-.4 1.5-.5 1.6-.5 1.5-.4 1.5-.5 1.5-.5 1.6-.4 1.5-.5 1.5-.5 1.5-.4 1.5-.5 1.6-.5 1.5-.4 1.5-.5 1.5-.4 1.5-.5 1.6-.4 1.5-.5 1.5-.5 1.5-.4 1.5-.4 1.6-.5 1.5-.4 1.5-.5 1.5-.4 1.5-.4 1.6-.5 1.5-.4 1.5-.4 1.5-.5 1.6-.4 1.5-.4 1.5-.4 1.5-.4 1.5-.4 1.6-.5 1.5-.4 1.5-.4 1.5-.4 1.5-.3 1.6-.4 1.5-.4 1.5-.4 1.5-.4 1.5-.4 1.6-.3 1.5-.4 1.5-.4 1.5-.3 1.6-.4 1.5-.3 1.5-.4 1.5-.3 1.5-.3 1.6-.4 1.5-.3 1.5-.3 1.5-.3 1.5-.4 1.6-.3 1.5-.3 1.5-.3 1.5-.3 1.5-.2 1.6-.3 1.5-.3 1.5-.3 1.5-.2 1.5-.3 1.6-.3 1.5-.2 1.5-.3 1.5-.2 1.6-.2 1.5-.3 1.5-.2 1.5-.2 1.5-.2 1.6-.2 1.5-.2 1.5-.2 1.5-.2 1.5-.2 1.6-.2 1.5-.1 1.5-.2 1.5-.2 1.5-.1 1.6-.2 1.5-.1 1.5-.1 1.5-.2 1.5-.1 1.6-.1 1.5-.1 1.5-.1 1.5-.1 1.6-.1 1.5-.1 1.5-.1 1.5 0 1.5-.1 1.6-.1 1.5 0 1.5-.1 1.5 0 1.5 0 1.6-.1 1.5 0 1.5 0 1.5 0 1.5 0 1.6 0 1.5 0 1.5 0 1.5 0 1.6 .1 1.5 0 1.5 .1 1.5 0 1.5 .1 1.6 0 1.5 .1 1.5 .1 1.5 0 1.5 .1 1.6 .1 1.5 .1 1.5 .1 1.5 .1 1.5 .2 1.6 .1 1.5 .1 1.5 .1 1.5 .2 1.5 .1 1.6 .2 1.5 .1 1.5 .2 1.5 .2 1.6 .2 1.5 .1 1.5 .2 1.5 .2 1.5 .2 1.6 .2 1.5 .2 1.5 .2 1.5 .3 1.5 .2 1.6 .2 1.5 .3 1.5 .2 1.5 .3 1.5 .2 1.6 .3 1.5 .2 1.5 .3 1.5 .3 1.5 .3 1.6 .2 1.5 .3 1.5 .3 1.5 .3 1.6 .3 1.5 .3 1.5 .3 1.5 .4 1.5 .3 1.6 .3 1.5 .3 1.5 .4 1.5 .3 1.5 .4 1.6 .3 1.5 .4 1.5 .3 1.5 .4 1.5 .3 1.6 .4 1.5 .4 1.5 .3 1.5 .4 1.6 .4 1.5 .4 1.5 .4 1.5 .4 1.5 .4 1.6 .4 1.5 .4 1.5 .4 1.5 .4 1.5 .4 1.6 .4 1.5 .4 1.5 .4 1.5 .5 1.5 .4 1.6 .4 1.5 .4 1.5 .5 1.5 .4 1.5 .4 1.6 .5 1.5 .4 1.5 .4 1.5 .5 1.6 .4 1.5 .5 1.5 .4 1.5 .5 1.5 .4 1.6 .5 1.5 .4 1.5 .5" stroke="#e8191b" stroke-width="2.1"/>
<path d="M169.3 761.2l1.5 .2 1.5 .2 1.6 .2 1.5 .2 1.5 .1 1.5 .2 1.5 .2 1.6 .2 1.5 .2 1.5 .2 1.5 .2 1.6 .2 1.5 .2 1.5 .2 1.5 .3 1.5 .2 1.6 .3 1.5 .3 1.5 .2 1.5 .3 1.5 .3 1.6 .3 1.5 .3 1.5 .3 1.5 .2 1.5 .3 1.6 .2 1.5 .3 1.5 .2 1.5 .2 1.5 .2 1.6 .1 1.5 .2 1.5 .1 1.5 .2 1.6 .1 1.5 .1 1.5 .1 1.5 .1 1.5 .1 1.6 0 1.5 .1 1.5 .1 1.5 .1 1.5 .1 1.6 .1 1.5 .2 1.5 .1 1.5 .1 1.5 .2 1.6 .2 1.5 .2 1.5 .2 1.5 .3 1.6 .2 1.5 .3 1.5 .4 1.5 .3 1.5 .4 1.6 .4 1.5 .5 1.5 .5 1.5 .5 1.5 .5 1.6 .5 1.5 .5 1.5 .6 1.5 .6 1.5 .6 1.6 .5 1.5 .6 1.5 .6 1.5 .6 1.5 .6 1.6 .6 1.5 .5 1.5 .6 1.5 .5 1.6 .6 1.5 .5 1.5 .5 1.5 .5 1.5 .6 1.6 .6 1.5 .6 1.5 .7 1.5 .6 1.5 .6 1.6 .6 1.5 .6 1.5 .6 1.5 .5 1.5 .5 1.6 .5 1.5 .4 1.5 .3 1.5 .3 1.5 .2 1.6 .1 1.5 .1 1.5-.1 1.5 0 1.6-.2 1.5-.2 1.5-.2 1.5-.2 1.5-.3 1.6-.4 1.5-.3 1.5-.4 1.5-.4 1.5-.4 1.6-.5 1.5-.4 1.5-.5 1.5-.4 1.5-.5 1.6-.4 1.5-.5 1.5-.5 1.5-.4 1.6-.4 1.5-.4 1.5-.4 1.5-.4 1.5-.3 1.6-.3 1.5-.2 1.5-.3 1.5-.2 1.5-.2 1.6-.1 1.5-.2 1.5-.2 1.5-.1 1.5-.2 1.6-.1 1.5-.1 1.5-.2 1.5-.1 1.5-.1 1.6-.1 1.5-.1 1.5-.1 1.5-.1 1.6-.1 1.5-.1 1.5 0 1.5-.1 1.5-.1 1.6-.1 1.5-.1 1.5-.1 1.5-.1 1.5-.1 1.6-.1 1.5-.1 1.5-.1 1.5-.1 1.5-.1 1.6-.1 1.5-.2 1.5-.1 1.5-.2 1.5-.1 1.6-.2 1.5-.2 1.5-.2 1.5-.2 1.6-.2 1.5-.2 1.5-.2 1.5-.3 1.5-.3 1.6-.2 1.5-.3 1.5-.3 1.5-.3 1.5-.3 1.6-.4 1.5-.3 1.5-.3 1.5-.4 1.5-.3 1.6-.4 1.5-.4 1.5-.3 1.5-.4 1.6-.4 1.5-.3 1.5-.4 1.5-.4 1.5-.4 1.6-.4 1.5-.4 1.5-.4 1.5-.4 1.5-.5 1.6-.4 1.5-.5 1.5-.5 1.5-.5 1.5-.5 1.6-.5 1.5-.5 1.5-.5 1.5-.4 1.5-.5 1.6-.5 1.5-.5 1.5-.5 1.5-.4 1.6-.5 1.5-.4 1.5-.4 1.5-.5 1.5-.4 1.6-.4 1.5-.4 1.5-.4 1.5-.4 1.5-.4 1.6-.5 1.5-.4 1.5-.4 1.5-.4 1.5-.4 1.6-.5 1.5-.4 1.5-.4 1.5-.5 1.6-.5 1.5-.4 1.5-.5 1.5-.5 1.5-.5 1.6-.6 1.5-.5 1.5-.6 1.5-.5 1.5-.6 1.6-.6 1.5-.5 1.5-.6 1.5-.6 1.5-.6 1.6-.7 1.5-.6 1.5-.6 1.5-.6 1.5-.6 1.6-.7 1.5-.6 1.5-.6 1.5-.6 1.6-.7 1.5-.6 1.5-.6 1.5-.6 1.5-.6 1.6-.7 1.5-.7 1.5-.7 1.5-.8 1.5-.8 1.6-.8 1.5-.7 1.5-.7 1.5-.7 1.5-.6 1.6-.6 1.5-.4 1.5-.3 1.5-.2 1.6 0 1.5 .2 1.5 .3 1.5 .5 1.5 .6 1.6 .6 1.5 .6 1.5 .7 1.5 .5 1.5 .5 1.6 .3 1.5 .3 1.5 .3 1.5 .3 1.5 .3 1.6 .3 1.5 .2 1.5 .3 1.5 .3 1.5 .2 1.6 .2 1.5 .3 1.5 .2 1.5 .1 1.6 .2 1.5 .1 1.5 .1 1.5 .1 1.5 .1 1.6 0 1.5 0 1.5 0 1.5 0 1.5 0 1.6-.1 1.5-.1 1.5-.1 1.5-.1 1.5-.2 1.6-.2 1.5-.3 1.5-.3 1.5-.4 1.5-.4 1.6-.6 1.5-.5 1.5-.8 1.5-1 1.6-1.3 1.5-1.4 1.5-1.5 1.5-1.5 1.5-1.5 1.6-1.4 1.5-1.2 1.5-1.1 1.5-.8 1.5-.7 1.6-.6 1.5-.6 1.5-.5 1.5-.4 1.5-.4 1.6-.4 1.5-.3 1.5-.3 1.5-.3 1.6-.3 1.5-.3 1.5-.2 1.5-.3 1.5-.2 1.6-.3 1.5-.3 1.5-.3 1.5-.2 1.5-.3 1.6-.3 1.5-.2 1.5-.3 1.5-.2 1.5-.2 1.6-.2 1.5-.1 1.5-.1 1.5-.1 1.5 0 1.6-.1 1.5 .1 1.5 .1 1.5 .1 1.6 .2 1.5 .2 1.5 .2 1.5 .3 1.5 .4 1.6 .3 1.5 .4 1.5 .4 1.5 .5 1.5 .4 1.6 .5 1.5 .5 1.5 .5 1.5 .5 1.5 .5 1.6 .5 1.5 .6 1.5 .5 1.5 .6 1.5 .7 1.6 .6 1.5 .6 1.5 .7 1.5 .7 1.6 .7 1.5 .7 1.5 .7 1.5 .8 1.5 .7 1.6 .8 1.5 .8 1.5 .9 1.5 .8 1.5 .9 1.6 .9 1.5 .9 1.5 .9 1.5 .9 1.5 .9 1.6 .9 1.5 .8 1.5 .9 1.5 .8 1.6 .8 1.5 .8 1.5 .7 1.5 .7 1.5 .7 1.6 .6 1.5 .6 1.5 .5 1.5 .6 1.5 .5 1.6 .5 1.5 .5 1.5 .5 1.5 .4 1.5 .5 1.6 .4 1.5 .4 1.5 .4 1.5 .4 1.5 .4 1.6 .4 1.5 .4 1.5 .4 1.5 .4 1.6 .4 1.5 .4 1.5 .4 1.5 .4 1.5 .4 1.6 .4 1.5 .5 1.5 .4" stroke="#0b800b" stroke-width="3.5" stroke-dasharray="3.5 4.3"/>
<path d="M169.3 763.4l1.5 .3 1.5 .4 1.6 .3 1.5 .4 1.5 .3 1.5 .3 1.5 .3 1.6 .4 1.5 .3 1.5 .4 1.5 .4 1.6 .4 1.5 .4 1.5 .4 1.5 .4 1.5 .4 1.6 .5 1.5 .4 1.5 .5 1.5 .4 1.5 .5 1.6 .5 1.5 .5 1.5 .5 1.5 .5 1.5 .5 1.6 .5 1.5 .5 1.5 .5 1.5 .6 1.5 .5 1.6 .6 1.5 .5 1.5 .6 1.5 .6 1.6 .6 1.5 .6 1.5 .6 1.5 .6 1.5 .6 1.6 .6 1.5 .7 1.5 .6 1.5 .6 1.5 .7 1.6 .6 1.5 .7 1.5 .7 1.5 .7 1.5 .7 1.6 .7 1.5 .7 1.5 .7 1.5 .8 1.6 .7 1.5 .8 1.5 .7 1.5 .7 1.5 .7 1.6 .7 1.5 .7 1.5 .7 1.5 .6 1.5 .6 1.6 .7 1.5 .6 1.5 .7 1.5 .6 1.5 .6 1.6 .6 1.5 .6 1.5 .6 1.5 .6 1.5 .6 1.6 .5 1.5 .5 1.5 .5 1.5 .4 1.6 .4 1.5 .4 1.5 .3 1.5 .3 1.5 .3 1.6 .4 1.5 .3 1.5 .3 1.5 .3 1.5 .2 1.6 .3 1.5 .3 1.5 .3 1.5 .2 1.5 .3 1.6 .2 1.5 .2 1.5 .2 1.5 .3 1.5 .2 1.6 .1 1.5 .2 1.5 .2 1.5 .2 1.6 .1 1.5 .1 1.5 .2 1.5 .1 1.5 .1 1.6 .1 1.5 .1 1.5 .1 1.5 0 1.5 .1 1.6 0 1.5 0 1.5-.1 1.5 0 1.5-.1 1.6 0 1.5-.1 1.5-.1 1.5-.1 1.6-.2 1.5-.1 1.5-.2 1.5-.2 1.5-.2 1.6-.1 1.5-.3 1.5-.2 1.5-.2 1.5-.2 1.6-.3 1.5-.2 1.5-.3 1.5-.3 1.5-.3 1.6-.3 1.5-.3 1.5-.3 1.5-.3 1.5-.4 1.6-.3 1.5-.4 1.5-.4 1.5-.3 1.6-.4 1.5-.4 1.5-.4 1.5-.4 1.5-.4 1.6-.4 1.5-.5 1.5-.4 1.5-.4 1.5-.4 1.6-.5 1.5-.4 1.5-.5 1.5-.4 1.5-.5 1.6-.4 1.5-.5 1.5-.4 1.5-.5 1.5-.5 1.6-.5 1.5-.5 1.5-.5 1.5-.5 1.6-.5 1.5-.5 1.5-.5 1.5-.6 1.5-.5 1.6-.5 1.5-.5 1.5-.6 1.5-.5 1.5-.6 1.6-.5 1.5-.5 1.5-.6 1.5-.5 1.5-.6 1.6-.5 1.5-.5 1.5-.6 1.5-.5 1.6-.6 1.5-.5 1.5-.5 1.5-.6 1.5-.5 1.6-.6 1.5-.5 1.5-.6 1.5-.6 1.5-.5 1.6-.6 1.5-.5 1.5-.6 1.5-.6 1.5-.5 1.6-.6 1.5-.5 1.5-.6 1.5-.6 1.5-.5 1.6-.6 1.5-.6 1.5-.5 1.5-.6 1.6-.5 1.5-.6 1.5-.5 1.5-.6 1.5-.6 1.6-.5 1.5-.6 1.5-.6 1.5-.5 1.5-.6 1.6-.6 1.5-.5 1.5-.6 1.5-.6 1.5-.5 1.6-.6 1.5-.6 1.5-.5 1.5-.6 1.6-.5 1.5-.6 1.5-.5 1.5-.6 1.5-.5 1.6-.6 1.5-.5 1.5-.5 1.5-.5 1.5-.6 1.6-.5 1.5-.5 1.5-.5 1.5-.5 1.5-.6 1.6-.5 1.5-.5 1.5-.5 1.5-.5 1.5-.5 1.6-.5 1.5-.5 1.5-.5 1.5-.5 1.6-.5 1.5-.5 1.5-.4 1.5-.5 1.5-.5 1.6-.4 1.5-.5 1.5-.5 1.5-.4 1.5-.4 1.6-.5 1.5-.4 1.5-.4 1.5-.4 1.5-.5 1.6-.4 1.5-.4 1.5-.4 1.5-.4 1.6-.4 1.5-.3 1.5-.4 1.5-.4 1.5-.4 1.6-.3 1.5-.4 1.5-.3 1.5-.4 1.5-.4 1.6-.3 1.5-.3 1.5-.4 1.5-.3 1.5-.3 1.6-.4 1.5-.3 1.5-.3 1.5-.3 1.5-.3 1.6-.3 1.5-.4 1.5-.3 1.5-.3 1.6-.3 1.5-.3 1.5-.3 1.5-.3 1.5-.3 1.6-.3 1.5-.3 1.5-.2 1.5-.3 1.5-.3 1.6-.2 1.5-.3 1.5-.2 1.5-.3 1.5-.2 1.6-.2 1.5-.2 1.5-.2 1.5-.2 1.5-.2 1.6-.1 1.5-.2 1.5-.1 1.5-.2 1.6-.1 1.5-.1 1.5-.1 1.5-.1 1.5 0 1.6-.1 1.5-.1 1.5 0 1.5 0 1.5-.1 1.6 0 1.5 0 1.5 0 1.5 0 1.5 0 1.6 0 1.5 0 1.5 0 1.5 0 1.6 .1 1.5 0 1.5 0 1.5 .1 1.5 0 1.6 .1 1.5 .1 1.5 0 1.5 .1 1.5 .1 1.6 .1 1.5 .1 1.5 .1 1.5 .1 1.5 .1 1.6 .1 1.5 .1 1.5 .2 1.5 .1 1.5 .1 1.6 .2 1.5 .2 1.5 .1 1.5 .2 1.6 .1 1.5 .2 1.5 .2 1.5 .2 1.5 .2 1.6 .1 1.5 .2 1.5 .2 1.5 .2 1.5 .2 1.6 .2 1.5 .2 1.5 .3 1.5 .2 1.5 .2 1.6 .2 1.5 .2 1.5 .3 1.5 .2 1.5 .2 1.6 .3 1.5 .2 1.5 .3 1.5 .3 1.6 .2 1.5 .3 1.5 .3 1.5 .2 1.5 .3 1.6 .3 1.5 .3 1.5 .3 1.5 .4 1.5 .3 1.6 .3 1.5 .3 1.5 .4 1.5 .4 1.5 .4 1.6 .4 1.5 .4 1.5 .5 1.5 .4 1.6 .5 1.5 .5 1.5 .5 1.5 .5 1.5 .5 1.6 .5 1.5 .5 1.5 .5 1.5 .5 1.5 .5 1.6 .4 1.5 .5 1.5 .5 1.5 .4 1.5 .5 1.6 .4 1.5 .5 1.5 .4 1.5 .5 1.5 .4 1.6 .5 1.5 .4 1.5 .5 1.5 .4 1.6 .5 1.5 .4 1.5 .5 1.5 .4 1.5 .5 1.6 .4 1.5 .5 1.5 .4" stroke="#1f77b4" stroke-width="2.6" stroke-dasharray="10 3.5 2.4 3.5"/>
<path d="M169.3 765.9l1.5 1.4 1.5-.8 1.6-.9 1.5 1 1.5 1.3 1.5 .8 1.5 1.2 1.6 .6 1.5-1 1.5-.5 1.5 1.8 1.6 1.7 1.5 .3 1.5 .3 1.5 .3 1.5-.7 1.6 .3 1.5 2.3 1.5 1.5 1.5-.5 1.5-.4 1.6 .5 1.5 .2 1.5 .8 1.5 2.1 1.5 .9 1.6-1.2 1.5-.5 1.5 1.2 1.5 1 1.5 .8 1.6 1.3 1.5 .2 1.5-1.3 1.5 0 1.6 2 1.5 1.3 1.5 .1 1.5 .4 1.5 0 1.6-.9 1.5 .8 1.5 2.3 1.5 .9 1.5-.7 1.6-.2 1.5 .4 1.5 0 1.5 1.1 1.5 2 1.6 .2 1.5-1.4 1.5-.1 1.5 1.2 1.6 .7 1.5 .8 1.5 1.2 1.5-.4 1.5-1.5 1.6 .5 1.5 1.9 1.5 .8 1.5 .1 1.5 .3 1.6-.5 1.5-.9 1.5 1.2 1.5 2.1 1.5 .2 1.6-.8 1.5-.1 1.5 .1 1.5-.1 1.5 1.4 1.6 1.6 1.5-.5 1.5-1.5 1.5 .2 1.6 .9 1.5 .5 1.5 .9 1.5 .8 1.5-1.1 1.6-1.3 1.5 .9 1.5 1.5 1.5 .3 1.5 0 1.6 .1 1.5-1 1.5-.7 1.5 1.5 1.5 1.6 1.6-.4 1.5-.9 1.5-.1 1.5-.3 1.5-.1 1.6 1.6 1.5 1.1 1.5-1.3 1.5-1.3 1.6 .4 1.5 .5 1.5 .2 1.5 1 1.5 .3 1.6-1.7 1.5-1.1 1.5 1.1 1.5 1 1.5-.1 1.6 .1 1.5-.3 1.5-1.5 1.5-.4 1.5 1.6 1.6 1 1.5-.9 1.5-.8 1.5-.2 1.6-.7 1.5 .1 1.5 1.6 1.5 .4 1.5-1.7 1.6-1.1 1.5 .4 1.5 .1 1.5 .3 1.5 .9 1.6-.4 1.5-2 1.5-.7 1.5 1.2 1.5 .5 1.6-.3 1.5 0 1.5-.8 1.5-1.6 1.5-.1 1.6 1.7 1.5 .3 1.5-1.2 1.5-.7 1.6-.5 1.5-.9 1.5 .5 1.5 1.5 1.5-.4 1.6-2 1.5-.7 1.5 .2 1.5-.1 1.5 .3 1.6 .8 1.5-1.1 1.5-2.1 1.5-.3 1.5 1.1 1.6 0 1.5-.3 1.5-.1 1.5-1.3 1.5-1.7 1.6 .5 1.5 1.4 1.5-.3 1.5-1.3 1.6-.6 1.5-.9 1.5-.9 1.5 .9 1.5 1.1 1.6-1 1.5-2 1.5-.5 1.5 0 1.5-.3 1.6 .6 1.5 .4 1.5-1.7 1.5-2 1.5 .2 1.6 .8 1.5-.3 1.5-.2 1.5-.4 1.6-1.7 1.5-1.5 1.5 .9 1.5 1.1 1.5-.9 1.6-1.1 1.5-.7 1.5-1.1 1.5-.7 1.5 1.1 1.6 .7 1.5-1.6 1.5-1.7 1.5-.3 1.5-.3 1.6-.2 1.5 .7 1.5 0 1.5-2.2 1.5-1.6 1.6 .5 1.5 .4 1.5-.4 1.5-.1 1.6-.6 1.5-2.1 1.5-1 1.5 1.2 1.5 .6 1.6-1.1 1.5-1 1.5-.7 1.5-1.4 1.5-.3 1.6 1.4 1.5 .1 1.5-1.9 1.5-1.4 1.5-.2 1.6-.4 1.5 0 1.5 .8 1.5-.6 1.6-2.3 1.5-1.1 1.5 .6 1.5 .2 1.5-.4 1.6 0 1.5-1 1.5-2.1 1.5-.4 1.5 1.3 1.6 .1 1.5-1.1 1.5-.8 1.5-.9 1.5-1.4 1.6 .3 1.5 1.4 1.5-.5 1.5-1.9 1.5-1 1.6-.2 1.5-.5 1.5 .4 1.5 .9 1.6-1.2 1.5-2.3 1.5-.4 1.5 .7 1.5-.1 1.6-.1 1.5 0 1.5-1.5 1.5-1.9 1.5 .3 1.6 1.3 1.5-.3 1.5-1 1.5-.5 1.5-1.1 1.6-1.2 1.5 .9 1.5 1.2 1.5-.9 1.6-1.7 1.5-.5 1.5-.3 1.5-.4 1.5 .8 1.6 .7 1.5-1.6 1.5-1.9 1.5 .1 1.5 .6 1.6-.1 1.5 .2 1.5-.1 1.5-1.7 1.5-1.5 1.6 .9 1.5 1.1 1.5-.4 1.5-.8 1.5-.4 1.6-1.3 1.5-.6 1.5 1.3 1.5 1 1.6-1.2 1.5-1.4 1.5-.2 1.5-.3 1.5 0 1.6 1.2 1.5 .3 1.5-1.8 1.5-1.4 1.5 .6 1.6 .5 1.5 0 1.5 .5 1.5-.3 1.5-1.9 1.6-.8 1.5 1.4 1.5 .9 1.5-.5 1.5-.4 1.6-.5 1.5-1.3 1.5 0 1.5 1.8 1.6 .6 1.5-1.4 1.5-.8 1.5 0 1.5-.4 1.6 .5 1.5 1.5 1.5-.1 1.5-1.9 1.5-.7 1.6 .9 1.5 .4 1.5 .3 1.5 .7 1.5-.6 1.6-1.8 1.5 0 1.5 1.7 1.5 .6 1.6-.4 1.5-.1 1.5-.6 1.5-1.1 1.5 .7 1.6 1.9 1.5 .2 1.5-1.2 1.5-.4 1.5 0 1.6-.2 1.5 1.1 1.5 1.5 1.5-.5 1.5-1.7 1.6 0 1.5 .9 1.5 .4 1.5 .7 1.5 .8 1.6-1 1.5-1.4 1.5 .7 1.5 1.7 1.6 .4 1.5-.2 1.5 .2 1.5-.8 1.5-.7 1.6 1.4 1.5 1.8 1.5-.2 1.5-.9 1.5 0 1.6 0 1.5 0 1.5 1.6 1.5 1.4 1.5-.9 1.6-1.3 1.5 .5 1.5 1 1.5 .4 1.5 1.1 1.6 .6 1.5-1.2 1.5-1 1.5 1.4 1.6 1.6 1.5 .2 1.5 .2 1.5 .1 1.5-.9 1.6-.2 1.5 1.9 1.5 1.6 1.5-.5 1.5-.6 1.6 .3 1.5-.1 1.5 .5 1.5 1.9 1.5 1.1 1.6-1.2 1.5-.8 1.5 .9 1.5 .8 1.6 .7 1.5 1.3 1.5 .4 1.5-1.4 1.5-.4 1.6 1.8 1.5 1.3 1.5 .2 1.5 .4 1.5 0 1.6-1 1.5 .5 1.5 2.2 1.5 1.2 1.5-.6 1.6-.2 1.5 .2 1.5-.1 1.5 1 1.5 2.1 1.6 .6 1.5-1.3 1.5-.3 1.5 1.1 1.6 .7 1.5 .9 1.5 1.5 1.5-.2 1.5-1.4 1.6 .3 1.5 1.9 1.5 1" stroke="#000000" stroke-width="2.2" stroke-dasharray="6.5 2.8"/>
</g>
<path d="M169.3 699.4V836.8H838.5V699.4" fill="none" stroke="#5e5e5e" stroke-width="1.8"/>
<path d="M168.4 699.4H839.4" stroke="#5e5e5e" stroke-width="1.8"/>
<path d="M169.3 836.8v3.2M270.7 836.8v3.2M372.1 836.8v3.2M473.5 836.8v3.2M574.9 836.8v3.2M676.3 836.8v3.2M777.7 836.8v3.2M169.3 836.8h-3.2M169.3 800.6h-3.2M169.3 764.5h-3.2M169.3 728.3h-3.2" stroke="#555" stroke-width="1"/>
<g font-family='"DejaVu Sans", "Liberation Sans", sans-serif' font-size="19.6" fill="#000" stroke="#000" stroke-width="0.25">
<text transform="translate(163.7 843.9) scale(0.97 1)" text-anchor="end">−20</text>
<text transform="translate(163.7 807.7) scale(0.97 1)" text-anchor="end">−10</text>
<text transform="translate(163.7 771.6) scale(0.97 1)" text-anchor="end">0</text>
<text transform="translate(163.7 735.4) scale(0.97 1)" text-anchor="end">10</text>
<text transform="translate(169.3 856.3) scale(0.97 1)" text-anchor="middle">0</text>
<text transform="translate(270.7 856.3) scale(0.97 1)" text-anchor="middle">100</text>
<text transform="translate(372.1 856.3) scale(0.97 1)" text-anchor="middle">200</text>
<text transform="translate(473.5 856.3) scale(0.97 1)" text-anchor="middle">300</text>
<text transform="translate(574.9 856.3) scale(0.97 1)" text-anchor="middle">400</text>
<text transform="translate(676.3 856.3) scale(0.97 1)" text-anchor="middle">500</text>
<text transform="translate(777.7 856.3) scale(0.97 1)" text-anchor="middle">600</text>
</g>
<text x="534.2" y="831.9" font-family='"DejaVu Sans", "Liberation Sans", sans-serif' font-weight="bold" font-size="19" textLength="28.3" lengthAdjust="spacingAndGlyphs">X5</text>
<path d="M273 868.4V1006.3M374.5 868.4V1006.3M475.9 868.4V1006.3M577.4 868.4V1006.3M678.8 868.4V1006.3M780.2 868.4V1006.3M171.6 1006.3H841.1M171.6 970H841.1M171.6 933.7H841.1M171.6 897.4H841.1" stroke="#e2e2e2" stroke-width="1" fill="none"/>
<g clip-path="url(#cf)" fill="none" stroke-linejoin="round">
<path d="M171.6 936.6l1.5 2.8 1.5 2.7 1.6 2.7 1.5 2.6 1.5 2.4 1.5 2.3 1.6 2.1 1.5 1.9 1.5 1.6 1.5 1.4 1.5 1.1 1.6 .8 1.5 .5 1.5 .2 1.5-.2 1.5-.4 1.6-.8 1.5-1.1 1.5-1.4 1.5-1.6 1.6-2 1.5-2.1 1.5-2.4 1.5-2.5 1.5-2.7 1.6-2.8 1.5-2.9 1.5-2.9 1.5-2.9 1.5-2.9 1.6-2.8 1.5-2.6 1.5-2.6 1.5-2.3 1.6-2.2 1.5-1.8 1.5-1.7 1.5-1.3 1.5-1.1 1.6-.7 1.5-.4 1.5-.1 1.5 .4 1.6 .9 1.5 1.3 1.5 1.8 1.5 2.3 1.5 2.5 1.6 3 1.5 3.1 1.5 3.4 1.5 3.6 1.5 3.6 1.6 3.6 1.5 3.5 1.5 3.5 1.5 3.2 1.6 2.9 1.5 2.7 1.5 2.2 1.5 1.9 1.5 1.4 1.6 1 1.5 .4 1.5-.3 1.5-1.8 1.5-3.4 1.6-4.8 1.5-5.8 1.5-6.5 1.5-6.8 1.6-6.7 1.5-6.1 1.5-5.2 1.5-4 1.5-2.5 1.6-.8 1.5 1 1.5 3.2 1.5 5 1.5 6.4 1.6 7.5 1.5 7.9 1.5 7.8 1.5 7.1 1.6 5.8 1.5 4.2 1.5 2.2 1.5 0 1.5-2 1.6-4 1.5-5.7 1.5-6.9 1.5-7.6 1.6-7.6 1.5-7 1.5-6 1.5-4.4 1.5-2.5 1.6-.4 1.5 1.2 1.5 2.6 1.5 3.9 1.5 4.9 1.6 5.6 1.5 6.2 1.5 6.3 1.5 6.1 1.6 5.7 1.5 4.8 1.5 3.8 1.5 2.5 1.5 1.1 1.6-.3 1.5-1.8 1.5-3.1 1.5-4.3 1.5-5.3 1.6-6 1.5-6.4 1.5-6.5 1.5-6.3 1.6-5.7 1.5-5 1.5-3.8 1.5-2.6 1.5-1.2 1.6 .2 1.5 1.2 1.5 2.3 1.5 3.3 1.5 4.2 1.6 4.8 1.5 5.4 1.5 5.8 1.5 6 1.6 5.9 1.5 5.7 1.5 5.4 1.5 4.7 1.5 4 1.6 3.1 1.5 2.1 1.5 1 1.5 0 1.6-1 1.5-1.9 1.5-2.8 1.5-3.7 1.5-4.3 1.6-4.8 1.5-5.3 1.5-5.5 1.5-5.7 1.5-5.5 1.6-5.3 1.5-5 1.5-4.3 1.5-3.8 1.6-2.9 1.5-2 1.5-1.2 1.5-.1 1.5 .5 1.6 1.1 1.5 1.7 1.5 2.3 1.5 2.7 1.5 3.3 1.6 3.6 1.5 4 1.5 4.3 1.5 4.4 1.6 4.6 1.5 4.6 1.5 4.5 1.5 4.3 1.5 4.2 1.6 3.9 1.5 3.5 1.5 3 1.5 2.6 1.6 2.1 1.5 1.4 1.5 .9 1.5 .3 1.5-.3 1.6-.6 1.5-1 1.5-1.4 1.5-1.8 1.5-2.1 1.6-2.5 1.5-2.7 1.5-3 1.5-3.2 1.6-3.4 1.5-3.6 1.5-3.6 1.5-3.7 1.5-3.7 1.6-3.7 1.5-3.6 1.5-3.4 1.5-3.3 1.5-3.1 1.6-2.9 1.5-2.6 1.5-2.3 1.5-1.9 1.6-1.6 1.5-1.2 1.5-.8 1.5-.5 1.5 .1 1.6 .6 1.5 1.3 1.5 1.9 1.5 2.4 1.6 3.1 1.5 3.5 1.5 3.9 1.5 4.2 1.5 4.5 1.6 4.7 1.5 4.7 1.5 4.7 1.5 4.6 1.5 4.4 1.6 4.2 1.5 3.7 1.5 3.4 1.5 2.8 1.6 2.3 1.5 1.7 1.5 1.1 1.5 .4 1.5-.7 1.6-2.7 1.5-4.4 1.5-5.9 1.5-7.1 1.5-7.7 1.6-7.9 1.5-7.7 1.5-6.9 1.5-5.7 1.6-4.2 1.5-2.4 1.5-.5 1.5 1.1 1.5 2.5 1.6 3.8 1.5 4.8 1.5 5.7 1.5 6.3 1.5 6.6 1.6 6.5 1.5 6.1 1.5 5.5 1.5 4.6 1.6 3.5 1.5 2.1 1.5 .7 1.5-.5 1.5-1.5 1.6-2.5 1.5-3.4 1.5-4.1 1.5-4.7 1.6-5.2 1.5-5.3 1.5-5.4 1.5-5.2 1.5-4.8 1.6-4.3 1.5-3.6 1.5-2.7 1.5-1.8 1.5-.8 1.6 .3 1.5 1.5 1.5 2.8 1.5 3.9 1.6 4.7 1.5 5.4 1.5 5.8 1.5 6.1 1.5 5.9 1.6 5.5 1.5 4.9 1.5 4 1.5 3 1.5 1.8 1.6 .6 1.5-1.4 1.5-3.5 1.5-5.5 1.6-7 1.5-8 1.5-8.2 1.5-8 1.5-6.9 1.6-5.4 1.5-3.4 1.5-1.1 1.5 1.2 1.5 3.8 1.6 6 1.5 7.5 1.5 8.6 1.5 8.7 1.6 8.3 1.5 7 1.5 5.1 1.5 2.8 1.5 .3 1.6-2.1 1.5-4.3 1.5-6 1.5-7.4 1.6-8.1 1.5-8 1.5-7.5 1.5-6.1 1.5-4.4 1.6-2.3 1.5-.1 1.5 1 1.5 2 1.5 2.8 1.6 3.7 1.5 4.2 1.5 4.8 1.5 5.1 1.6 5.2 1.5 5.2 1.5 4.9 1.5 4.6 1.5 3.9 1.6 3.3 1.5 2.3 1.5 1.5 1.5 .5 1.5-.2 1.6-.6 1.5-1.1 1.5-1.5 1.5-1.8 1.6-2.2 1.5-2.5 1.5-2.8 1.5-3 1.5-3.3 1.6-3.3 1.5-3.4 1.5-3.5 1.5-3.4 1.6-3.4 1.5-3.2 1.5-3 1.5-2.8 1.5-2.6 1.6-2.2 1.5-1.8 1.5-1.5 1.5-1.1 1.5-.7 1.6-.2 1.5 .2 1.5 .6 1.5 1.1 1.6 1.5 1.5 1.9 1.5 2.3 1.5 2.6 1.5 2.9 1.6 3.2 1.5 3.3 1.5 3.5 1.5 3.5 1.5 3.5 1.6 3.5 1.5 3.4 1.5 3.3 1.5 3 1.6 2.8 1.5 2.5 1.5 2.1 1.5 1.7 1.5 1.3 1.6 .9 1.5 .5 1.5-.1 1.5-1 1.6-1.8 1.5-2.6 1.5-3.4 1.5-4 1.5-4.6 1.6-4.9 1.5-5.1 1.5-5.1 1.5-5.1 1.5-4.7 1.6-4.4 1.5-3.8 1.5-3.1 1.5-2.3 1.6-1.5 1.5-.5 1.5 .2 1.5 1.1 1.5 1.7 1.6 2.5 1.5 3.1 1.5 3.6 1.5 4 1.5 4.4 1.6 4.7 1.5 4.7 1.5 4.8 1.5 4.6 1.6 4.4 1.5 4 1.5 3.5 1.5 3 1.5 2.4 1.6 1.6 1.5 1 1.5 .1 1.5-.7 1.5-1.7 1.6-2.6 1.5-3.4 1.5-4 1.5-4.7 1.6-5 1.5-5.3 1.5-5.3" stroke="#e8191b" stroke-width="2.1"/>
<path d="M171.6 934.1l1.5 2.6 1.5 2.6 1.6 2.5 1.5 2.5 1.5 2.3 1.5 2.2 1.6 2 1.5 1.8 1.5 1.6 1.5 1.4 1.5 1.1 1.6 .8 1.5 .6 1.5 .3 1.5 0 1.5-.3 1.6-.5 1.5-.8 1.5-1 1.5-1.3 1.6-1.5 1.5-1.6 1.5-1.9 1.5-1.9 1.5-2.1 1.6-2.2 1.5-2.3 1.5-2.3 1.5-2.3 1.5-2.3 1.6-2.2 1.5-2.2 1.5-2.1 1.5-1.9 1.6-1.7 1.5-1.6 1.5-1.4 1.5-1.1 1.5-.9 1.6-.7 1.5-.4 1.5-.1 1.5 .1 1.6 .7 1.5 1 1.5 1.4 1.5 1.8 1.5 2.1 1.6 2.5 1.5 2.6 1.5 2.9 1.5 3 1.5 3.1 1.6 3.1 1.5 3.1 1.5 3 1.5 2.8 1.6 2.6 1.5 2.4 1.5 2.1 1.5 1.7 1.5 1.4 1.6 .9 1.5 .5 1.5 .1 1.5-1.2 1.5-2.6 1.6-3.8 1.5-4.9 1.5-5.7 1.5-6 1.6-6.1 1.5-5.7 1.5-5 1.5-3.9 1.5-2.7 1.6-1.3 1.5 .4 1.5 2.2 1.5 4 1.5 5.4 1.6 6.5 1.5 7.1 1.5 7.1 1.5 6.6 1.6 5.7 1.5 4.3 1.5 2.6 1.5 .7 1.5-1.3 1.6-3.2 1.5-4.8 1.5-6.1 1.5-6.9 1.6-7.2 1.5-6.8 1.5-6 1.5-4.6 1.5-2.9 1.6-1 1.5 .7 1.5 2 1.5 3.2 1.5 4.2 1.6 5.1 1.5 5.7 1.5 5.8 1.5 5.9 1.6 5.4 1.5 4.8 1.5 3.9 1.5 2.7 1.5 1.5 1.6 .1 1.5-1.1 1.5-2.5 1.5-3.5 1.5-4.5 1.6-5.3 1.5-5.7 1.5-5.9 1.5-5.8 1.6-5.4 1.5-4.7 1.5-3.9 1.5-2.7 1.5-1.5 1.6-.3 1.5 .9 1.5 1.8 1.5 2.7 1.5 3.5 1.6 4.3 1.5 4.8 1.5 5.2 1.5 5.4 1.6 5.5 1.5 5.3 1.5 5 1.5 4.6 1.5 3.9 1.6 3.1 1.5 2.2 1.5 1.3 1.5 .3 1.6-.6 1.5-1.6 1.5-2.3 1.5-3.2 1.5-3.9 1.6-4.4 1.5-4.9 1.5-5.1 1.5-5.3 1.5-5.3 1.6-5.1 1.5-4.8 1.5-4.4 1.5-3.7 1.6-3 1.5-2.2 1.5-1.4 1.5-.5 1.5 .3 1.6 .8 1.5 1.3 1.5 1.8 1.5 2.3 1.5 2.7 1.6 3 1.5 3.4 1.5 3.6 1.5 3.8 1.6 3.9 1.5 4 1.5 3.9 1.5 3.9 1.5 3.6 1.6 3.5 1.5 3.1 1.5 2.8 1.5 2.4 1.6 1.9 1.5 1.5 1.5 .9 1.5 .4 1.5-.1 1.6-.3 1.5-.8 1.5-1 1.5-1.3 1.5-1.6 1.6-1.8 1.5-2.1 1.5-2.3 1.5-2.5 1.6-2.7 1.5-2.7 1.5-2.9 1.5-2.9 1.5-2.9 1.6-2.9 1.5-2.9 1.5-2.8 1.5-2.6 1.5-2.5 1.6-2.4 1.5-2.1 1.5-1.9 1.5-1.6 1.6-1.3 1.5-1.1 1.5-.8 1.5-.4 1.5-.1 1.6 .3 1.5 .9 1.5 1.3 1.5 1.8 1.6 2.2 1.5 2.6 1.5 3 1.5 3.2 1.5 3.5 1.6 3.6 1.5 3.6 1.5 3.7 1.5 3.7 1.5 3.5 1.6 3.3 1.5 3.1 1.5 2.7 1.5 2.4 1.6 1.9 1.5 1.5 1.5 1 1.5 .5 1.5-.2 1.6-1.8 1.5-3.5 1.5-5 1.5-6 1.5-6.8 1.6-7.2 1.5-7 1.5-6.6 1.5-5.5 1.6-4.3 1.5-2.7 1.5-1.1 1.5 .6 1.5 1.8 1.6 3 1.5 4 1.5 4.9 1.5 5.4 1.5 5.8 1.6 5.9 1.5 5.6 1.5 5.1 1.5 4.4 1.6 3.4 1.5 2.3 1.5 1.1 1.5-.1 1.5-1.1 1.6-1.9 1.5-2.8 1.5-3.4 1.5-4 1.6-4.4 1.5-4.7 1.5-4.7 1.5-4.7 1.5-4.4 1.6-4 1.5-3.3 1.5-2.7 1.5-1.9 1.5-1 1.6-.1 1.5 1.2 1.5 2.4 1.5 3.5 1.6 4.4 1.5 5.2 1.5 5.8 1.5 6 1.5 5.9 1.6 5.7 1.5 5.1 1.5 4.4 1.5 3.3 1.5 2.2 1.6 1 1.5-.6 1.5-2.8 1.5-4.9 1.6-6.6 1.5-7.7 1.5-8.2 1.5-8.1 1.5-7.3 1.6-6 1.5-4.1 1.5-1.9 1.5 .4 1.5 3 1.6 5.3 1.5 7.1 1.5 8.3 1.5 8.7 1.6 8.5 1.5 7.5 1.5 5.8 1.5 3.6 1.5 1.2 1.6-1.4 1.5-3.5 1.5-5.5 1.5-7 1.6-7.9 1.5-8.2 1.5-7.7 1.5-6.7 1.5-5 1.6-3 1.5-.7 1.5 .6 1.5 1.5 1.5 2.4 1.6 3.1 1.5 3.7 1.5 4.2 1.5 4.6 1.6 4.8 1.5 4.7 1.5 4.6 1.5 4.3 1.5 3.8 1.6 3.2 1.5 2.5 1.5 1.6 1.5 .7 1.5 0 1.6-.5 1.5-.8 1.5-1.2 1.5-1.6 1.6-1.9 1.5-2.2 1.5-2.5 1.5-2.7 1.5-2.9 1.6-3 1.5-3.1 1.5-3.1 1.5-3.2 1.6-3.1 1.5-3 1.5-2.8 1.5-2.7 1.5-2.4 1.6-2.1 1.5-1.8 1.5-1.5 1.5-1.1 1.5-.8 1.6-.3 1.5 0 1.5 .5 1.5 .9 1.6 1.2 1.5 1.6 1.5 2 1.5 2.3 1.5 2.6 1.6 2.8 1.5 3 1.5 3.1 1.5 3.2 1.5 3.3 1.6 3.2 1.5 3.1 1.5 3.1 1.5 2.8 1.6 2.6 1.5 2.4 1.5 2 1.5 1.7 1.5 1.4 1.6 .9 1.5 .6 1.5 .1 1.5-.6 1.6-1.4 1.5-2.2 1.5-2.9 1.5-3.5 1.5-4 1.6-4.4 1.5-4.7 1.5-4.7 1.5-4.7 1.5-4.5 1.6-4.1 1.5-3.7 1.5-3 1.5-2.4 1.6-1.6 1.5-.9 1.5 0 1.5 .8 1.5 1.3 1.6 2 1.5 2.6 1.5 3.1 1.5 3.5 1.5 3.8 1.6 4.1 1.5 4.3 1.5 4.3 1.5 4.1 1.6 4 1.5 3.7 1.5 3.4 1.5 2.8 1.5 2.3 1.6 1.7 1.5 1.1 1.5 .4 1.5-.4 1.5-1.2 1.6-2.1 1.5-2.8 1.5-3.4 1.5-4 1.6-4.4 1.5-4.7 1.5-4.7" stroke="#0b800b" stroke-width="3.5" stroke-dasharray="3.5 4.3"/>
<path d="M171.6 936.5l1.5 3.1 1.5 3 1.6 3 1.5 2.9 1.5 2.8 1.5 2.6 1.6 2.5 1.5 2.2 1.5 2 1.5 1.8 1.5 1.4 1.6 1.1 1.5 .8 1.5 .5 1.5 .2 1.5-.2 1.6-.6 1.5-1 1.5-1.4 1.5-1.7 1.6-2 1.5-2.3 1.5-2.6 1.5-2.9 1.5-3 1.6-3.2 1.5-3.3 1.5-3.4 1.5-3.5 1.5-3.4 1.6-3.3 1.5-3.3 1.5-3.1 1.5-2.9 1.6-2.7 1.5-2.5 1.5-2.2 1.5-1.8 1.5-1.6 1.6-1.1 1.5-.8 1.5-.4 1.5 0 1.6 .5 1.5 1.1 1.5 1.5 1.5 2.1 1.5 2.5 1.6 2.9 1.5 3.2 1.5 3.5 1.5 3.7 1.5 3.9 1.6 3.9 1.5 3.9 1.5 3.8 1.5 3.7 1.6 3.4 1.5 3.1 1.5 2.8 1.5 2.4 1.5 1.9 1.6 1.4 1.5 1 1.5 .3 1.5-.5 1.5-2.4 1.6-4 1.5-5.4 1.5-6.4 1.5-7.1 1.6-7.4 1.5-7.1 1.5-6.5 1.5-5.4 1.5-4 1.6-2.3 1.5-.6 1.5 1.7 1.5 3.8 1.5 5.7 1.6 7.2 1.5 8.2 1.5 8.5 1.5 8.2 1.6 7.4 1.5 6 1.5 4 1.5 2 1.5-.4 1.6-2.5 1.5-4.4 1.5-5.9 1.5-7.1 1.6-7.6 1.5-7.5 1.5-6.9 1.5-5.7 1.5-4.1 1.6-2 1.5 0 1.5 1.4 1.5 2.9 1.5 4.1 1.6 5 1.5 5.8 1.5 6.3 1.5 6.3 1.6 6 1.5 5.5 1.5 4.7 1.5 3.5 1.5 2.2 1.6 .8 1.5-.6 1.5-2 1.5-3.4 1.5-4.5 1.6-5.5 1.5-6.1 1.5-6.4 1.5-6.5 1.6-6.2 1.5-5.6 1.5-4.7 1.5-3.6 1.5-2.4 1.6-.9 1.5 .5 1.5 1.5 1.5 2.7 1.5 3.7 1.6 4.5 1.5 5.3 1.5 5.8 1.5 6.2 1.6 6.4 1.5 6.3 1.5 6 1.5 5.5 1.5 4.9 1.6 4 1.5 3.1 1.5 2 1.5 .9 1.6-.3 1.5-1.3 1.5-2.4 1.5-3.3 1.5-4.2 1.6-4.9 1.5-5.6 1.5-5.9 1.5-6.2 1.5-6.3 1.6-6.2 1.5-5.9 1.5-5.3 1.5-4.8 1.6-4 1.5-3.1 1.5-2 1.5-1.1 1.5 0 1.6 .8 1.5 1.4 1.5 2.2 1.5 2.8 1.5 3.5 1.6 3.9 1.5 4.5 1.5 4.8 1.5 5.1 1.6 5.4 1.5 5.4 1.5 5.5 1.5 5.3 1.5 5.2 1.6 4.9 1.5 4.5 1.5 4.1 1.5 3.5 1.6 3 1.5 2.3 1.5 1.6 1.5 .9 1.5 .2 1.6-.4 1.5-.8 1.5-1.4 1.5-1.8 1.5-2.3 1.6-2.6 1.5-3.1 1.5-3.4 1.5-3.7 1.6-3.9 1.5-4.2 1.5-4.3 1.5-4.4 1.5-4.5 1.6-4.5 1.5-4.5 1.5-4.3 1.5-4.2 1.5-4 1.6-3.7 1.5-3.4 1.5-3.1 1.5-2.7 1.6-2.2 1.5-1.9 1.5-1.4 1.5-.9 1.5-.4 1.6 .2 1.5 .9 1.5 1.7 1.5 2.5 1.6 3.1 1.5 3.8 1.5 4.3 1.5 4.9 1.5 5.2 1.6 5.5 1.5 5.6 1.5 5.8 1.5 5.7 1.5 5.5 1.6 5.3 1.5 5 1.5 4.4 1.5 4 1.6 3.3 1.5 2.6 1.5 2 1.5 1.1 1.5 .3 1.6-1.2 1.5-3.5 1.5-5.5 1.5-7 1.5-8.3 1.6-9 1.5-9.1 1.5-8.6 1.5-7.7 1.6-6.3 1.5-4.4 1.5-2.3 1.5-.2 1.5 1.6 1.6 3.3 1.5 4.7 1.5 5.9 1.5 6.8 1.5 7.4 1.6 7.7 1.5 7.6 1.5 7.1 1.5 6.2 1.6 5.1 1.5 3.8 1.5 2.1 1.5 .6 1.5-.9 1.6-2.1 1.5-3.1 1.5-4.2 1.5-5 1.6-5.7 1.5-6.1 1.5-6.4 1.5-6.3 1.5-6.1 1.6-5.6 1.5-4.9 1.5-4 1.5-3.1 1.5-1.9 1.6-.7 1.5 .7 1.5 2.1 1.5 3.5 1.6 4.7 1.5 5.6 1.5 6.4 1.5 6.9 1.5 7 1.6 6.8 1.5 6.3 1.5 5.5 1.5 4.4 1.5 3.2 1.6 1.8 1.5 .4 1.5-2.1 1.5-4.6 1.6-6.8 1.5-8.3 1.5-9.3 1.5-9.6 1.5-8.9 1.6-7.7 1.5-5.8 1.5-3.5 1.5-.8 1.5 2.1 1.6 4.9 1.5 7.3 1.5 9.1 1.5 10 1.6 10.1 1.5 9.3 1.5 7.7 1.5 5.5 1.5 2.7 1.6-.3 1.5-3 1.5-5.4 1.5-7.4 1.6-8.8 1.5-9.5 1.5-9.4 1.5-8.4 1.5-6.8 1.6-4.7 1.5-2 1.5 .1 1.5 1.2 1.5 2.2 1.6 3 1.5 3.8 1.5 4.4 1.5 4.8 1.6 5.1 1.5 5.3 1.5 5.1 1.5 4.9 1.5 4.4 1.6 3.8 1.5 3.1 1.5 2.2 1.5 1.3 1.5 .3 1.6-.3 1.5-.7 1.5-1.2 1.5-1.5 1.6-1.9 1.5-2.3 1.5-2.6 1.5-2.8 1.5-3.1 1.6-3.2 1.5-3.4 1.5-3.4 1.5-3.5 1.6-3.4 1.5-3.3 1.5-3.2 1.5-3 1.5-2.7 1.6-2.5 1.5-2.2 1.5-1.8 1.5-1.4 1.5-1 1.6-.6 1.5-.1 1.5 .2 1.5 .8 1.6 1.2 1.5 1.6 1.5 2 1.5 2.3 1.5 2.7 1.6 2.9 1.5 3.2 1.5 3.4 1.5 3.5 1.5 3.5 1.6 3.5 1.5 3.5 1.5 3.4 1.5 3.2 1.6 3 1.5 2.7 1.5 2.4 1.5 2.1 1.5 1.6 1.6 1.2 1.5 .8 1.5 .4 1.5-.2 1.6-1.2 1.5-1.9 1.5-2.9 1.5-3.5 1.5-4.1 1.6-4.6 1.5-5 1.5-5.1 1.5-5.1 1.5-5 1.6-4.7 1.5-4.3 1.5-3.6 1.5-3 1.6-2.2 1.5-1.3 1.5-.3 1.5 .5 1.5 1.4 1.6 2.2 1.5 3.1 1.5 3.7 1.5 4.4 1.5 4.9 1.6 5.3 1.5 5.5 1.5 5.7 1.5 5.5 1.6 5.5 1.5 5.1 1.5 4.6 1.5 4.1 1.5 3.4 1.6 2.6 1.5 1.8 1.5 .9 1.5 0 1.5-1.1 1.6-2.2 1.5-3.3 1.5-4.1 1.5-5 1.6-5.6 1.5-6 1.5-6.3" stroke="#1f77b4" stroke-width="2.6" stroke-dasharray="10 3.5 2.4 3.5"/>
<path d="M171.6 935.9l1.5 2.8 1.5 2.7 1.6 2.7 1.5 2.6 1.5 2.5 1.5 2.3 1.6 2.1 1.5 2 1.5 1.7 1.5 1.4 1.5 1.2 1.6 .9 1.5 .6 1.5 .2 1.5 0 1.5-.4 1.6-.6 1.5-1.1 1.5-1.3 1.5-1.6 1.6-1.8 1.5-2.1 1.5-2.3 1.5-2.5 1.5-2.7 1.6-2.8 1.5-2.8 1.5-2.9 1.5-2.9 1.5-2.9 1.6-2.8 1.5-2.7 1.5-2.6 1.5-2.4 1.6-2.2 1.5-2 1.5-1.7 1.5-1.4 1.5-1.1 1.6-.8 1.5-.5 1.5-.2 1.5 .2 1.6 .8 1.5 1.2 1.5 1.7 1.5 2.1 1.5 2.5 1.6 2.9 1.5 3.1 1.5 3.3 1.5 3.5 1.5 3.6 1.6 3.6 1.5 3.6 1.5 3.5 1.5 3.2 1.6 3.1 1.5 2.7 1.5 2.4 1.5 2 1.5 1.5 1.6 1.1 1.5 .5 1.5 .1 1.5-1.4 1.5-3.1 1.6-4.4 1.5-5.5 1.5-6.4 1.5-6.8 1.6-6.7 1.5-6.3 1.5-5.5 1.5-4.4 1.5-2.9 1.6-1.3 1.5 .5 1.5 2.7 1.5 4.5 1.5 6.1 1.6 7.3 1.5 7.8 1.5 7.9 1.5 7.3 1.6 6.2 1.5 4.6 1.5 2.8 1.5 .6 1.5-1.5 1.6-3.5 1.5-5.3 1.5-6.6 1.5-7.4 1.6-7.7 1.5-7.2 1.5-6.3 1.5-4.9 1.5-3 1.6-.9 1.5 .8 1.5 2.2 1.5 3.5 1.5 4.7 1.6 5.5 1.5 6 1.5 6.3 1.5 6.2 1.6 5.8 1.5 5.1 1.5 4.1 1.5 2.8 1.5 1.5 1.6 .1 1.5-1.4 1.5-2.8 1.5-4 1.5-5 1.6-5.9 1.5-6.3 1.5-6.5 1.5-6.4 1.6-5.9 1.5-5.1 1.5-4.2 1.5-2.9 1.5-1.6 1.6-.2 1.5 1 1.5 2 1.5 3.1 1.5 3.9 1.6 4.7 1.5 5.2 1.5 5.7 1.5 6 1.6 6 1.5 5.8 1.5 5.4 1.5 4.9 1.5 4.2 1.6 3.3 1.5 2.4 1.5 1.3 1.5 .3 1.6-.7 1.5-1.7 1.5-2.6 1.5-3.4 1.5-4.2 1.6-4.7 1.5-5.2 1.5-5.4 1.5-5.7 1.5-5.6 1.6-5.4 1.5-5 1.5-4.5 1.5-3.9 1.6-3.2 1.5-2.3 1.5-1.4 1.5-.4 1.5 .4 1.6 .9 1.5 1.6 1.5 2.1 1.5 2.7 1.5 3.1 1.6 3.5 1.5 3.9 1.5 4.2 1.5 4.4 1.6 4.6 1.5 4.5 1.5 4.6 1.5 4.4 1.5 4.2 1.6 4 1.5 3.6 1.5 3.2 1.5 2.7 1.6 2.2 1.5 1.6 1.5 1 1.5 .5 1.5-.2 1.6-.5 1.5-.9 1.5-1.3 1.5-1.7 1.5-2 1.6-2.4 1.5-2.7 1.5-2.9 1.5-3.2 1.6-3.3 1.5-3.5 1.5-3.6 1.5-3.7 1.5-3.7 1.6-3.7 1.5-3.6 1.5-3.5 1.5-3.4 1.5-3.1 1.6-3 1.5-2.6 1.5-2.4 1.5-2 1.6-1.7 1.5-1.3 1.5-1 1.5-.5 1.5-.1 1.6 .5 1.5 1.1 1.5 1.7 1.5 2.3 1.6 2.9 1.5 3.4 1.5 3.8 1.5 4.1 1.5 4.5 1.6 4.6 1.5 4.7 1.5 4.7 1.5 4.7 1.5 4.5 1.6 4.2 1.5 3.9 1.5 3.4 1.5 3 1.6 2.5 1.5 1.8 1.5 1.3 1.5 .6 1.5-.4 1.6-2.1 1.5-4 1.5-5.5 1.5-6.8 1.5-7.6 1.6-7.9 1.5-7.8 1.5-7.2 1.5-6 1.6-4.7 1.5-2.9 1.5-1 1.5 .8 1.5 2.1 1.6 3.4 1.5 4.6 1.5 5.5 1.5 6.2 1.5 6.5 1.6 6.6 1.5 6.2 1.5 5.7 1.5 4.9 1.6 3.8 1.5 2.5 1.5 1.1 1.5-.3 1.5-1.2 1.6-2.3 1.5-3.1 1.5-4 1.5-4.5 1.6-5.1 1.5-5.3 1.5-5.4 1.5-5.2 1.5-5 1.6-4.4 1.5-3.8 1.5-3 1.5-2.1 1.5-1 1.6 0 1.5 1.2 1.5 2.5 1.5 3.5 1.6 4.5 1.5 5.3 1.5 5.8 1.5 6 1.5 5.9 1.6 5.7 1.5 5 1.5 4.3 1.5 3.3 1.5 2.2 1.6 .9 1.5-.8 1.5-3 1.5-5 1.6-6.6 1.5-7.8 1.5-8.2 1.5-8.1 1.5-7.3 1.6-5.8 1.5-4 1.5-1.8 1.5 .7 1.5 3.1 1.6 5.4 1.5 7.2 1.5 8.3 1.5 8.8 1.6 8.5 1.5 7.4 1.5 5.6 1.5 3.5 1.5 .9 1.6-1.4 1.5-3.7 1.5-5.7 1.5-7.1 1.6-7.9 1.5-8.1 1.5-7.7 1.5-6.6 1.5-4.9 1.6-2.8 1.5-.6 1.5 .7 1.5 1.8 1.5 2.6 1.6 3.4 1.5 4.1 1.5 4.7 1.5 5 1.6 5.2 1.5 5.2 1.5 5.1 1.5 4.6 1.5 4.1 1.6 3.5 1.5 2.6 1.5 1.7 1.5 .8 1.5-.1 1.6-.5 1.5-1 1.5-1.4 1.5-1.7 1.6-2.1 1.5-2.4 1.5-2.8 1.5-2.9 1.5-3.2 1.6-3.3 1.5-3.4 1.5-3.5 1.5-3.4 1.6-3.4 1.5-3.2 1.5-3.1 1.5-2.9 1.5-2.6 1.6-2.3 1.5-2 1.5-1.6 1.5-1.2 1.5-.8 1.6-.3 1.5 .1 1.5 .5 1.5 1 1.6 1.4 1.5 1.8 1.5 2.2 1.5 2.5 1.5 2.8 1.6 3.1 1.5 3.3 1.5 3.4 1.5 3.5 1.5 3.6 1.6 3.5 1.5 3.4 1.5 3.3 1.5 3.1 1.6 2.9 1.5 2.5 1.5 2.2 1.5 1.9 1.5 1.4 1.6 1 1.5 .6 1.5 .1 1.5-.7 1.6-1.6 1.5-2.4 1.5-3.2 1.5-3.9 1.5-4.4 1.6-4.8 1.5-5.1 1.5-5.2 1.5-5 1.5-4.9 1.6-4.5 1.5-3.9 1.5-3.3 1.5-2.5 1.6-1.8 1.5-.8 1.5 .1 1.5 .8 1.5 1.6 1.6 2.3 1.5 2.9 1.5 3.5 1.5 3.9 1.5 4.3 1.6 4.6 1.5 4.8 1.5 4.7 1.5 4.7 1.6 4.4 1.5 4.1 1.5 3.7 1.5 3.2 1.5 2.5 1.6 1.8 1.5 1.2 1.5 .4 1.5-.5 1.5-1.5 1.6-2.3 1.5-3.2 1.5-3.9 1.5-4.5 1.6-4.9 1.5-5.2 1.5-5.4" stroke="#000000" stroke-width="2.2" stroke-dasharray="6.5 2.8"/>
</g>
<path d="M171.6 868.4V1006.3H841.1V868.4" fill="none" stroke="#5e5e5e" stroke-width="1.8"/>
<path d="M170.7 868.4H842" stroke="#111" stroke-width="1.4"/>
<path d="M171.6 1006.3v3.2M273 1006.3v3.2M374.5 1006.3v3.2M475.9 1006.3v3.2M577.4 1006.3v3.2M678.8 1006.3v3.2M780.2 1006.3v3.2M171.6 1006.3h-3.2M171.6 970h-3.2M171.6 933.7h-3.2M171.6 897.4h-3.2" stroke="#555" stroke-width="1"/>
<g font-family='"DejaVu Sans", "Liberation Sans", sans-serif' font-size="19.6" fill="#000" stroke="#000" stroke-width="0.25">
<text transform="translate(166 1013.4) scale(0.97 1)" text-anchor="end">−20</text>
<text transform="translate(166 977.1) scale(0.97 1)" text-anchor="end">−10</text>
<text transform="translate(166 940.8) scale(0.97 1)" text-anchor="end">0</text>
<text transform="translate(166 904.5) scale(0.97 1)" text-anchor="end">10</text>
<text transform="translate(171.6 1025.8) scale(0.97 1)" text-anchor="middle">0</text>
<text transform="translate(273 1025.8) scale(0.97 1)" text-anchor="middle">100</text>
<text transform="translate(374.5 1025.8) scale(0.97 1)" text-anchor="middle">200</text>
<text transform="translate(475.9 1025.8) scale(0.97 1)" text-anchor="middle">300</text>
<text transform="translate(577.4 1025.8) scale(0.97 1)" text-anchor="middle">400</text>
<text transform="translate(678.8 1025.8) scale(0.97 1)" text-anchor="middle">500</text>
<text transform="translate(780.2 1025.8) scale(0.97 1)" text-anchor="middle">600</text>
</g>
<text x="537.3" y="1001.9" font-family='"DejaVu Sans", "Liberation Sans", sans-serif' font-weight="bold" font-size="19" textLength="27.9" lengthAdjust="spacingAndGlyphs">X6</text>
<path d="M1100.8 13.7V151M1202.2 13.7V151M1303.7 13.7V151M1405.1 13.7V151M1506.5 13.7V151M1607.9 13.7V151M999.4 121.6H1668.8M999.4 82.3H1668.8M999.4 43.1H1668.8" stroke="#e2e2e2" stroke-width="1" fill="none"/>
<g clip-path="url(#cg)" fill="none" stroke-linejoin="round">
<path d="M999.4 71.5l1.5-5.2 1.5-4.9 1.6-4.5 1.5-4.1 1.5-3.5 1.5-2.9 1.5-2.2 1.6-1.6 1.5-.8 1.5-.1 1.5 1.1 1.6 2.2 1.5 3.3 1.5 4.3 1.5 5.1 1.5 5.8 1.6 6.4 1.5 6.7 1.5 6.8 1.5 6.7 1.5 6.5 1.6 6 1.5 5.3 1.5 4.5 1.5 3.6 1.6 2.5 1.5 1.3 1.5 .2 1.5-.9 1.5-2.2 1.6-3.2 1.5-4.2 1.5-5 1.5-5.8 1.5-6.2 1.6-6.6 1.5-6.7 1.5-6.7 1.5-6.3 1.6-5.9 1.5-5.2 1.5-4.3 1.5-3.5 1.5-2.3 1.6-1.2 1.5-.1 1.5 1.1 1.5 2.1 1.5 3.2 1.6 4.1 1.5 4.9 1.5 5.5 1.5 6.1 1.6 6.5 1.5 6.5 1.5 6.6 1.5 6.4 1.5 6 1.6 5.4 1.5 4.8 1.5 3.9 1.5 2.9 1.5 2 1.6 .8 1.5-.3 1.5-1.5 1.5-2.6 1.6-3.8 1.5-4.7 1.5-5.5 1.5-6.2 1.5-6.7 1.6-7 1.5-7 1.5-6.9 1.5-6.6 1.5-6 1.6-5.3 1.5-4.4 1.5-3.4 1.5-2.2 1.6-1.1 1.5 .1 1.5 1.3 1.5 2.4 1.5 3.5 1.6 4.4 1.5 5.3 1.5 5.9 1.5 6.5 1.5 6.8 1.6 6.9 1.5 6.8 1.5 6.6 1.5 6.1 1.6 5.5 1.5 4.7 1.5 3.7 1.5 2.7 1.5 1.6 1.6 .4 1.5-.7 1.5-1.8 1.5-3 1.5-3.9 1.6-4.8 1.5-5.6 1.5-6.1 1.5-6.6 1.6-6.7 1.5-6.8 1.5-6.5 1.5-6.2 1.5-5.7 1.6-4.9 1.5-4.1 1.5-3 1.5-2.1 1.5-.8 1.6 .2 1.5 1.4 1.5 2.6 1.5 3.5 1.5 4.5 1.6 5.3 1.5 5.9 1.5 6.4 1.5 6.7 1.6 6.8 1.5 6.7 1.5 6.4 1.5 5.9 1.5 5.3 1.6 4.5 1.5 3.5 1.5 2.5 1.5 1.4 1.5 .3 1.6-.9 1.5-2.2 1.5-3.2 1.5-4.4 1.6-5.2 1.5-6 1.5-6.6 1.5-6.9 1.5-7.2 1.6-7.2 1.5-6.9 1.5-6.5 1.5-5.9 1.5-5.1 1.6-4.2 1.5-3.1 1.5-2 1.5-.8 1.6 .5 1.5 1.8 1.5 3 1.5 4.1 1.5 5.2 1.6 6 1.5 6.7 1.5 7.2 1.5 7.4 1.5 7.5 1.6 7.3 1.5 6.9 1.5 6.2 1.5 5.5 1.6 4.5 1.5 3.4 1.5 2.2 1.5 .9 1.5-.4 1.6-1.5 1.5-2.7 1.5-3.8 1.5-4.7 1.5-5.6 1.6-6.3 1.5-6.7 1.5-7.1 1.5-7.2 1.6-7.2 1.5-6.8 1.5-6.5 1.5-5.7 1.5-5 1.6-4 1.5-3 1.5-1.9 1.5-.7 1.5 .6 1.6 1.8 1.5 3 1.5 4.1 1.5 5.1 1.6 5.9 1.5 6.7 1.5 7.1 1.5 7.4 1.5 7.4 1.6 7.3 1.5 7 1.5 6.3 1.5 5.7 1.5 4.7 1.6 3.7 1.5 2.5 1.5 1.3 1.5 0 1.6-1.3 1.5-2.8 1.5-4 1.5-5.2 1.5-6.2 1.6-7 1.5-7.6 1.5-7.9 1.5-8 1.5-7.8 1.6-7.5 1.5-6.8 1.5-5.9 1.5-4.9 1.5-3.7 1.6-2.4 1.5-1 1.5 .3 1.5 1.5 1.6 2.7 1.5 3.6 1.5 4.6 1.5 5.4 1.5 6.2 1.6 6.6 1.5 7 1.5 7.2 1.5 7.1 1.5 6.9 1.6 6.6 1.5 6 1.5 5.3 1.5 4.4 1.6 3.4 1.5 2.4 1.5 1.3 1.5 .1 1.5-1.1 1.6-2.2 1.5-3.4 1.5-4.4 1.5-5.3 1.5-6 1.6-6.6 1.5-6.9 1.5-7.1 1.5-7 1.6-6.8 1.5-6.3 1.5-5.7 1.5-4.9 1.5-3.9 1.6-2.9 1.5-1.7 1.5-.5 1.5 .7 1.5 2 1.6 3.2 1.5 4.2 1.5 5.3 1.5 6 1.6 6.7 1.5 7 1.5 7.2 1.5 7.2 1.5 6.8 1.6 6.4 1.5 5.6 1.5 4.8 1.5 3.7 1.5 2.6 1.6 1.3 1.5 0 1.5-1 1.5-2.1 1.6-3.1 1.5-4.1 1.5-4.8 1.5-5.5 1.5-6 1.6-6.4 1.5-6.6 1.5-6.6 1.5-6.4 1.5-6 1.6-5.6 1.5-4.9 1.5-4 1.5-3.2 1.6-2.2 1.5-1.1 1.5 0 1.5 1.2 1.5 2.5 1.6 3.7 1.5 4.7 1.5 5.6 1.5 6.4 1.5 6.8 1.6 7.2 1.5 7.3 1.5 7.1 1.5 6.7 1.6 6.1 1.5 5.3 1.5 4.4 1.5 3.3 1.5 2.1 1.6 .8 1.5-.4 1.5-1.6 1.5-2.6 1.5-3.7 1.6-4.5 1.5-5.4 1.5-6 1.5-6.5 1.5-6.8 1.6-6.9 1.5-6.9 1.5-6.6 1.5-6.1 1.6-5.6 1.5-4.8 1.5-3.9 1.5-2.9 1.5-1.9 1.6-.7 1.5 .4 1.5 1.7 1.5 2.8 1.5 3.9 1.6 4.9 1.5 5.6 1.5 6.4 1.5 6.8 1.6 7 1.5 7.1 1.5 7 1.5 6.6 1.5 6 1.6 5.3 1.5 4.5 1.5 3.4 1.5 2.3 1.5 1.1 1.6-.1 1.5-1.3 1.5-2.2 1.5-3.3 1.6-4.2 1.5-5 1.5-5.6 1.5-6.2 1.5-6.5 1.6-6.7 1.5-6.6 1.5-6.5 1.5-6 1.5-5.6 1.6-4.8 1.5-4 1.5-3.1 1.5-2.1 1.6-1 1.5 .2 1.5 1.3 1.5 2.4 1.5 3.6 1.6 4.5 1.5 5.3 1.5 6 1.5 6.6 1.5 6.8 1.6 6.9 1.5 6.9 1.5 6.5 1.5 6.1 1.6 5.4 1.5 4.6 1.5 3.6 1.5 2.5 1.5 1.4 1.6 .2 1.5-.9 1.5-2 1.5-2.9 1.5-3.9 1.6-4.7 1.5-5.4 1.5-5.9 1.5-6.4 1.6-6.6 1.5-6.6 1.5-6.5 1.5-6.2 1.5-5.7 1.6-5.2 1.5-4.4 1.5-3.5 1.5-2.5 1.5-1.6 1.6-.4 1.5 .7 1.5 1.9 1.5 3.1 1.6 4.2 1.5 5.1 1.5 6 1.5 6.5 1.5 7 1.6 7.1 1.5 7.2 1.5 6.9 1.5 6.4 1.5 5.9 1.6 5 1.5 4 1.5 3 1.5 1.8 1.6 .5 1.5-.7 1.5-1.8 1.5-3 1.5-4 1.6-4.9 1.5-5.8 1.5-6.3" stroke="#e8191b" stroke-width="2.1"/>
<path d="M999.4 70.8l1.5-2.5 1.5-2.3 1.6-2.2 1.5-2 1.5-1.8 1.5-1.6 1.5-1.2 1.6-.9 1.5-.6 1.5-.3 1.5 .2 1.6 1.2 1.5 2.2 1.5 3 1.5 3.7 1.5 4.5 1.6 4.9 1.5 5.4 1.5 5.6 1.5 5.6 1.5 5.5 1.6 5.2 1.5 4.8 1.5 4.1 1.5 3.5 1.6 2.7 1.5 1.7 1.5 .9 1.5-.3 1.5-1.3 1.6-2.5 1.5-3.6 1.5-4.5 1.5-5.3 1.5-5.9 1.6-6.4 1.5-6.6 1.5-6.8 1.5-6.5 1.6-6.2 1.5-5.7 1.5-4.9 1.5-4.1 1.5-3.1 1.6-1.9 1.5-.9 1.5 .3 1.5 1.2 1.5 2.1 1.6 2.9 1.5 3.6 1.5 4.3 1.5 4.8 1.6 5.1 1.5 5.4 1.5 5.6 1.5 5.4 1.5 5.2 1.6 4.9 1.5 4.3 1.5 3.7 1.5 3 1.5 2.2 1.6 1.3 1.5 .4 1.5-.6 1.5-1.5 1.6-2.6 1.5-3.4 1.5-4.2 1.5-4.8 1.5-5.4 1.6-5.7 1.5-5.9 1.5-5.8 1.5-5.7 1.5-5.4 1.6-4.8 1.5-4.2 1.5-3.4 1.5-2.6 1.6-1.6 1.5-.5 1.5 .4 1.5 1.4 1.5 2.3 1.6 3.3 1.5 4 1.5 4.6 1.5 5.2 1.5 5.6 1.6 5.7 1.5 5.9 1.5 5.7 1.5 5.4 1.6 5 1.5 4.4 1.5 3.7 1.5 2.9 1.5 1.9 1.6 1.1 1.5 0 1.5-.9 1.5-1.8 1.5-2.6 1.6-3.4 1.5-4.1 1.5-4.6 1.5-5.1 1.6-5.3 1.5-5.4 1.5-5.4 1.5-5.2 1.5-4.8 1.6-4.4 1.5-3.7 1.5-3 1.5-2.2 1.5-1.3 1.6-.4 1.5 .6 1.5 1.7 1.5 2.8 1.5 3.7 1.6 4.6 1.5 5.3 1.5 5.9 1.5 6.3 1.6 6.5 1.5 6.5 1.5 6.4 1.5 6 1.5 5.5 1.6 4.9 1.5 4 1.5 3.1 1.5 2.1 1.5 1 1.6-.2 1.5-1.3 1.5-2.5 1.5-3.7 1.6-4.6 1.5-5.5 1.5-6.2 1.5-6.7 1.5-7.1 1.6-7.2 1.5-7.1 1.5-6.8 1.5-6.3 1.5-5.7 1.6-4.8 1.5-3.9 1.5-2.7 1.5-1.6 1.6-.4 1.5 .9 1.5 2.2 1.5 3.4 1.5 4.5 1.6 5.5 1.5 6.2 1.5 6.9 1.5 7.3 1.5 7.5 1.6 7.5 1.5 7.1 1.5 6.7 1.5 6.1 1.6 5.1 1.5 4.2 1.5 3 1.5 1.7 1.5 .5 1.6-.8 1.5-1.9 1.5-3.1 1.5-4.1 1.5-5 1.6-5.8 1.5-6.5 1.5-6.9 1.5-7.1 1.6-7.2 1.5-7.1 1.5-6.7 1.5-6.3 1.5-5.5 1.6-4.7 1.5-3.7 1.5-2.6 1.5-1.5 1.5-.2 1.6 1 1.5 2.3 1.5 3.6 1.5 4.6 1.6 5.7 1.5 6.5 1.5 7.2 1.5 7.6 1.5 7.8 1.6 7.8 1.5 7.5 1.5 7.2 1.5 6.4 1.5 5.6 1.6 4.6 1.5 3.5 1.5 2.2 1.5 1 1.6-.5 1.5-1.9 1.5-3.3 1.5-4.7 1.5-5.8 1.6-6.8 1.5-7.6 1.5-8.1 1.5-8.3 1.5-8.4 1.6-8.1 1.5-7.6 1.5-6.9 1.5-5.9 1.5-4.7 1.6-3.5 1.5-2 1.5-.5 1.5 .7 1.6 2 1.5 3.1 1.5 4.2 1.5 5.2 1.5 5.9 1.6 6.6 1.5 7.2 1.5 7.4 1.5 7.5 1.5 7.5 1.6 7.1 1.5 6.7 1.5 6.1 1.5 5.2 1.6 4.4 1.5 3.2 1.5 2.2 1.5 .9 1.5-.3 1.6-1.6 1.5-2.8 1.5-3.9 1.5-5 1.5-5.8 1.6-6.5 1.5-7.1 1.5-7.4 1.5-7.4 1.6-7.4 1.5-7 1.5-6.5 1.5-5.7 1.5-4.8 1.6-3.8 1.5-2.6 1.5-1.4 1.5-.2 1.5 1.1 1.6 2.1 1.5 3.2 1.5 4.2 1.5 4.9 1.6 5.7 1.5 6.1 1.5 6.3 1.5 6.5 1.5 6.4 1.6 6 1.5 5.5 1.5 4.8 1.5 4 1.5 3 1.6 1.9 1.5 .8 1.5-.3 1.5-1.3 1.6-2.1 1.5-3.1 1.5-3.9 1.5-4.5 1.5-5.1 1.6-5.5 1.5-5.8 1.5-5.9 1.5-5.9 1.5-5.7 1.6-5.2 1.5-4.8 1.5-4.2 1.5-3.4 1.6-2.5 1.5-1.7 1.5-.6 1.5 .3 1.5 1.5 1.6 2.7 1.5 3.6 1.5 4.6 1.5 5.4 1.5 5.9 1.6 6.4 1.5 6.6 1.5 6.5 1.5 6.4 1.6 5.9 1.5 5.4 1.5 4.6 1.5 3.6 1.5 2.7 1.6 1.5 1.5 .4 1.5-.8 1.5-1.7 1.5-2.8 1.6-3.6 1.5-4.4 1.5-5.1 1.5-5.7 1.5-6 1.6-6.3 1.5-6.3 1.5-6.2 1.5-5.9 1.6-5.4 1.5-4.9 1.5-4.1 1.5-3.3 1.5-2.3 1.6-1.4 1.5-.3 1.5 .9 1.5 2 1.5 3.2 1.6 4.2 1.5 5.2 1.5 5.9 1.5 6.5 1.6 6.9 1.5 7.1 1.5 7.1 1.5 6.8 1.5 6.5 1.6 5.8 1.5 5 1.5 4.1 1.5 3.1 1.5 1.9 1.6 .6 1.5-.4 1.5-1.6 1.5-2.6 1.6-3.6 1.5-4.5 1.5-5.2 1.5-5.8 1.5-6.3 1.6-6.6 1.5-6.7 1.5-6.6 1.5-6.3 1.5-6 1.6-5.3 1.5-4.6 1.5-3.7 1.5-2.7 1.6-1.7 1.5-.7 1.5 .6 1.5 1.7 1.5 2.8 1.6 3.8 1.5 4.8 1.5 5.6 1.5 6.3 1.5 6.6 1.6 6.9 1.5 6.9 1.5 6.8 1.5 6.4 1.6 5.9 1.5 5.1 1.5 4.3 1.5 3.2 1.5 2.2 1.6 1 1.5-.2 1.5-1.1 1.5-2.2 1.5-3 1.6-3.9 1.5-4.7 1.5-5.2 1.5-5.7 1.6-6 1.5-6.2 1.5-6.1 1.5-6 1.5-5.7 1.6-5.2 1.5-4.6 1.5-3.8 1.5-3 1.5-2.1 1.6-1.1 1.5-.1 1.5 1.2 1.5 2.4 1.6 3.6 1.5 4.6 1.5 5.5 1.5 6.3 1.5 6.9 1.6 7.2 1.5 7.4 1.5 7.2 1.5 7 1.5 6.4 1.6 5.7 1.5 4.8 1.5 3.8 1.5 2.7 1.6 1.4 1.5 .1 1.5-1.2 1.5-2.4 1.5-3.7 1.6-4.7 1.5-5.7 1.5-6.4" stroke="#0b800b" stroke-width="3.5" stroke-dasharray="3.5 4.3"/>
<path d="M999.4 72.6l1.5-5.3 1.5-4.9 1.6-4.6 1.5-4.2 1.5-3.6 1.5-3.1 1.5-2.3 1.6-1.7 1.5-1 1.5-.2 1.5 .8 1.6 1.9 1.5 2.9 1.5 3.9 1.5 4.8 1.5 5.4 1.6 6 1.5 6.3 1.5 6.5 1.5 6.5 1.5 6.3 1.6 5.8 1.5 5.2 1.5 4.5 1.5 3.6 1.6 2.6 1.5 1.5 1.5 .5 1.5-.7 1.5-1.9 1.6-2.8 1.5-3.9 1.5-4.6 1.5-5.4 1.5-5.9 1.6-6.2 1.5-6.4 1.5-6.4 1.5-6.1 1.6-5.7 1.5-5.1 1.5-4.4 1.5-3.4 1.5-2.5 1.6-1.4 1.5-.2 1.5 .8 1.5 1.9 1.5 3 1.6 3.9 1.5 4.7 1.5 5.5 1.5 6 1.6 6.3 1.5 6.6 1.5 6.6 1.5 6.5 1.5 6 1.6 5.6 1.5 4.9 1.5 4.1 1.5 3.1 1.5 2.2 1.6 1 1.5 0 1.5-1.3 1.5-2.4 1.6-3.5 1.5-4.6 1.5-5.4 1.5-6 1.5-6.7 1.6-6.9 1.5-7 1.5-7 1.5-6.6 1.5-6.1 1.6-5.5 1.5-4.6 1.5-3.6 1.5-2.5 1.6-1.3 1.5-.1 1.5 1 1.5 2.2 1.5 3.3 1.6 4.2 1.5 5.2 1.5 5.8 1.5 6.4 1.5 6.7 1.6 6.9 1.5 6.9 1.5 6.6 1.5 6.2 1.6 5.7 1.5 4.8 1.5 3.9 1.5 3 1.5 1.8 1.6 .7 1.5-.5 1.5-1.5 1.5-2.6 1.5-3.4 1.6-4.3 1.5-5.1 1.5-5.5 1.5-6 1.6-6.2 1.5-6.3 1.5-6.1 1.5-5.9 1.5-5.3 1.6-4.7 1.5-3.9 1.5-3.1 1.5-2 1.5-1.1 1.6 .1 1.5 1.1 1.5 2.1 1.5 3.1 1.5 4 1.6 4.7 1.5 5.4 1.5 5.9 1.5 6.1 1.6 6.3 1.5 6.2 1.5 6 1.5 5.6 1.5 5.1 1.6 4.3 1.5 3.4 1.5 2.6 1.5 1.5 1.5 .4 1.6-.6 1.5-1.9 1.5-3.1 1.5-4.1 1.6-5.1 1.5-5.8 1.5-6.5 1.5-6.9 1.5-7.2 1.6-7.1 1.5-7 1.5-6.6 1.5-6.1 1.5-5.3 1.6-4.3 1.5-3.4 1.5-2.2 1.5-1 1.6 .2 1.5 1.5 1.5 2.8 1.5 3.9 1.5 5 1.6 5.8 1.5 6.6 1.5 7.1 1.5 7.4 1.5 7.5 1.6 7.4 1.5 6.9 1.5 6.4 1.5 5.7 1.6 4.7 1.5 3.6 1.5 2.4 1.5 1.2 1.5-.1 1.6-1.3 1.5-2.5 1.5-3.6 1.5-4.5 1.5-5.4 1.6-6.2 1.5-6.6 1.5-7.1 1.5-7.2 1.6-7.2 1.5-6.9 1.5-6.5 1.5-5.9 1.5-5.2 1.6-4.2 1.5-3.2 1.5-2.1 1.5-.9 1.5 .3 1.6 1.5 1.5 2.8 1.5 3.9 1.5 4.9 1.6 5.8 1.5 6.5 1.5 7 1.5 7.4 1.5 7.4 1.6 7.4 1.5 7 1.5 6.5 1.5 5.8 1.5 4.9 1.6 3.9 1.5 2.8 1.5 1.6 1.5 .2 1.6-1.1 1.5-2.5 1.5-3.8 1.5-5.1 1.5-6.1 1.6-6.9 1.5-7.6 1.5-8 1.5-8.2 1.5-8 1.6-7.7 1.5-7 1.5-6.3 1.5-5.2 1.5-4 1.6-2.7 1.5-1.3 1.5 .1 1.5 1.3 1.6 2.4 1.5 3.5 1.5 4.5 1.5 5.4 1.5 6.1 1.6 6.7 1.5 7 1.5 7.3 1.5 7.3 1.5 7.1 1.6 6.7 1.5 6.2 1.5 5.6 1.5 4.6 1.6 3.8 1.5 2.6 1.5 1.5 1.5 .4 1.5-.9 1.6-2 1.5-3.2 1.5-4.2 1.5-5.1 1.5-5.8 1.6-6.5 1.5-6.9 1.5-7.1 1.5-7 1.6-6.9 1.5-6.4 1.5-5.8 1.5-5.1 1.5-4.1 1.6-3.1 1.5-2 1.5-.7 1.5 .4 1.5 1.8 1.6 2.9 1.5 4.1 1.5 5.1 1.5 5.9 1.6 6.5 1.5 7 1.5 7.2 1.5 7.2 1.5 6.9 1.6 6.5 1.5 5.8 1.5 4.9 1.5 3.9 1.5 2.8 1.6 1.6 1.5 .3 1.5-.8 1.5-1.9 1.6-2.9 1.5-3.9 1.5-4.7 1.5-5.3 1.5-6 1.6-6.3 1.5-6.6 1.5-6.6 1.5-6.4 1.5-6.2 1.6-5.6 1.5-5 1.5-4.3 1.5-3.4 1.6-2.3 1.5-1.4 1.5-.2 1.5 1 1.5 2.2 1.6 3.5 1.5 4.5 1.5 5.4 1.5 6.2 1.5 6.8 1.6 7.2 1.5 7.2 1.5 7.2 1.5 6.8 1.6 6.2 1.5 5.6 1.5 4.5 1.5 3.6 1.5 2.3 1.6 1.1 1.5-.2 1.5-1.1 1.5-2.1 1.5-3 1.6-3.8 1.5-4.5 1.5-5 1.5-5.6 1.5-5.8 1.6-5.9 1.5-5.9 1.5-5.7 1.5-5.4 1.6-4.9 1.5-4.3 1.5-3.5 1.5-2.7 1.5-1.8 1.6-.8 1.5 .2 1.5 1.2 1.5 2.2 1.5 3.2 1.6 4 1.5 4.7 1.5 5.4 1.5 5.7 1.6 6 1.5 6.2 1.5 6 1.5 5.7 1.5 5.3 1.6 4.7 1.5 4 1.5 3.1 1.5 2.1 1.5 1.2 1.6 .1 1.5-1 1.5-2.1 1.5-3.1 1.6-4 1.5-4.8 1.5-5.6 1.5-6 1.5-6.5 1.6-6.6 1.5-6.7 1.5-6.5 1.5-6.2 1.5-5.6 1.6-5 1.5-4.2 1.5-3.3 1.5-2.3 1.6-1.2 1.5-.1 1.5 1.1 1.5 2.2 1.5 3.4 1.6 4.3 1.5 5.2 1.5 5.9 1.5 6.4 1.5 6.8 1.6 6.9 1.5 6.9 1.5 6.7 1.5 6.1 1.6 5.6 1.5 4.7 1.5 3.8 1.5 2.8 1.5 1.6 1.6 .4 1.5-.7 1.5-1.7 1.5-2.8 1.5-3.8 1.6-4.6 1.5-5.4 1.5-6 1.5-6.4 1.6-6.6 1.5-6.8 1.5-6.6 1.5-6.4 1.5-6 1.6-5.3 1.5-4.7 1.5-3.7 1.5-2.8 1.5-1.8 1.6-.7 1.5 .5 1.5 1.7 1.5 2.9 1.6 4.1 1.5 5 1.5 5.9 1.5 6.6 1.5 7 1.6 7.2 1.5 7.3 1.5 7.1 1.5 6.7 1.5 6.1 1.6 5.3 1.5 4.3 1.5 3.3 1.5 2 1.6 .8 1.5-.4 1.5-1.6 1.5-2.8 1.5-3.8 1.6-4.8 1.5-5.6 1.5-6.2" stroke="#1f77b4" stroke-width="2.6" stroke-dasharray="10 3.5 2.4 3.5"/>
<path d="M999.4 72.6l1.5-5.3 1.5-4.9 1.6-4.6 1.5-4.2 1.5-3.6 1.5-3.1 1.5-2.3 1.6-1.7 1.5-1 1.5-.2 1.5 .8 1.6 2 1.5 3.1 1.5 4.1 1.5 4.9 1.5 5.7 1.6 6.3 1.5 6.6 1.5 6.8 1.5 6.8 1.5 6.5 1.6 6.1 1.5 5.5 1.5 4.7 1.5 3.7 1.6 2.8 1.5 1.6 1.5 .4 1.5-.7 1.5-2 1.6-3 1.5-4 1.5-4.8 1.5-5.7 1.5-6.1 1.6-6.6 1.5-6.7 1.5-6.7 1.5-6.4 1.6-5.9 1.5-5.4 1.5-4.5 1.5-3.7 1.5-2.5 1.6-1.5 1.5-.2 1.5 .8 1.5 2 1.5 3.1 1.6 4.1 1.5 4.9 1.5 5.6 1.5 6.2 1.6 6.6 1.5 6.9 1.5 6.8 1.5 6.7 1.5 6.3 1.6 5.8 1.5 5 1.5 4.3 1.5 3.2 1.5 2.3 1.6 1.1 1.5-.1 1.5-1.2 1.5-2.4 1.6-3.5 1.5-4.5 1.5-5.3 1.5-6 1.5-6.6 1.6-6.8 1.5-7 1.5-6.8 1.5-6.6 1.5-6 1.6-5.4 1.5-4.5 1.5-3.6 1.5-2.5 1.6-1.3 1.5-.1 1.5 1 1.5 2.1 1.5 3.1 1.6 4 1.5 4.9 1.5 5.6 1.5 6 1.5 6.4 1.6 6.6 1.5 6.6 1.5 6.3 1.5 5.9 1.6 5.3 1.5 4.7 1.5 3.7 1.5 2.8 1.5 1.7 1.6 .7 1.5-.5 1.5-1.5 1.5-2.5 1.5-3.4 1.6-4.2 1.5-4.9 1.5-5.5 1.5-5.8 1.6-6.1 1.5-6.2 1.5-6 1.5-5.7 1.5-5.2 1.6-4.6 1.5-3.9 1.5-3 1.5-2 1.5-1 1.6 0 1.5 1.1 1.5 2.1 1.5 3 1.5 3.9 1.6 4.7 1.5 5.3 1.5 5.7 1.5 6.1 1.6 6.1 1.5 6.1 1.5 5.9 1.5 5.5 1.5 4.9 1.6 4.2 1.5 3.4 1.5 2.5 1.5 1.5 1.5 .4 1.6-.6 1.5-1.8 1.5-2.9 1.5-3.9 1.6-4.8 1.5-5.5 1.5-6.2 1.5-6.5 1.5-6.8 1.6-6.8 1.5-6.6 1.5-6.3 1.5-5.7 1.5-5 1.6-4.2 1.5-3.1 1.5-2.1 1.5-1 1.6 .2 1.5 1.4 1.5 2.6 1.5 3.8 1.5 4.7 1.6 5.5 1.5 6.3 1.5 6.7 1.5 7.1 1.5 7.1 1.6 6.9 1.5 6.7 1.5 6 1.5 5.4 1.6 4.5 1.5 3.4 1.5 2.3 1.5 1.1 1.5-.1 1.6-1.3 1.5-2.5 1.5-3.6 1.5-4.5 1.5-5.4 1.6-6.2 1.5-6.6 1.5-7.1 1.5-7.2 1.6-7.2 1.5-6.9 1.5-6.5 1.5-5.9 1.5-5.2 1.6-4.2 1.5-3.2 1.5-2.1 1.5-.9 1.5 .3 1.6 1.5 1.5 2.8 1.5 3.9 1.5 4.9 1.6 5.8 1.5 6.5 1.5 7 1.5 7.4 1.5 7.4 1.6 7.4 1.5 7 1.5 6.5 1.5 5.8 1.5 4.9 1.6 3.9 1.5 2.8 1.5 1.6 1.5 .2 1.6-1 1.5-2.5 1.5-3.8 1.5-5 1.5-6 1.6-6.8 1.5-7.5 1.5-7.9 1.5-8 1.5-7.9 1.6-7.5 1.5-7 1.5-6.1 1.5-5.1 1.5-4 1.6-2.6 1.5-1.3 1.5 .1 1.5 1.2 1.6 2.4 1.5 3.5 1.5 4.4 1.5 5.3 1.5 6 1.6 6.5 1.5 7 1.5 7.1 1.5 7.2 1.5 7 1.6 6.6 1.5 6.1 1.5 5.5 1.5 4.6 1.6 3.6 1.5 2.6 1.5 1.5 1.5 .4 1.5-.9 1.6-2 1.5-3.2 1.5-4.2 1.5-5.1 1.5-5.8 1.6-6.5 1.5-6.9 1.5-7.1 1.5-7 1.6-6.9 1.5-6.4 1.5-5.8 1.5-5.1 1.5-4.1 1.6-3.1 1.5-2 1.5-.7 1.5 .4 1.5 1.8 1.6 2.9 1.5 4.1 1.5 5.1 1.5 5.9 1.6 6.5 1.5 7 1.5 7.2 1.5 7.2 1.5 6.9 1.6 6.5 1.5 5.8 1.5 4.9 1.5 3.9 1.5 2.8 1.6 1.6 1.5 .3 1.5-.8 1.5-1.8 1.6-2.8 1.5-3.6 1.5-4.5 1.5-5.1 1.5-5.6 1.6-6 1.5-6.3 1.5-6.2 1.5-6.2 1.5-5.8 1.6-5.4 1.5-4.8 1.5-4 1.5-3.2 1.6-2.3 1.5-1.3 1.5-.2 1.5 .9 1.5 2.2 1.6 3.3 1.5 4.3 1.5 5.1 1.5 6 1.5 6.4 1.6 6.8 1.5 6.9 1.5 6.8 1.5 6.5 1.6 6 1.5 5.2 1.5 4.4 1.5 3.3 1.5 2.2 1.6 1.1 1.5-.2 1.5-1.1 1.5-2 1.5-2.9 1.6-3.7 1.5-4.4 1.5-4.9 1.5-5.4 1.5-5.6 1.6-5.8 1.5-5.8 1.5-5.5 1.5-5.3 1.6-4.7 1.5-4.2 1.5-3.4 1.5-2.6 1.5-1.7 1.6-.8 1.5 .1 1.5 1.2 1.5 2.2 1.5 3.1 1.6 3.9 1.5 4.6 1.5 5.1 1.5 5.7 1.6 5.8 1.5 5.9 1.5 5.9 1.5 5.6 1.5 5.1 1.6 4.6 1.5 3.8 1.5 3.1 1.5 2 1.5 1.2 1.6 .1 1.5-1 1.5-2.1 1.5-3.1 1.6-4 1.5-4.8 1.5-5.6 1.5-6 1.5-6.5 1.6-6.6 1.5-6.7 1.5-6.5 1.5-6.2 1.5-5.6 1.6-5 1.5-4.2 1.5-3.3 1.5-2.3 1.6-1.2 1.5-.1 1.5 1.1 1.5 2.2 1.5 3.4 1.6 4.3 1.5 5.2 1.5 5.9 1.5 6.4 1.5 6.8 1.6 6.9 1.5 6.9 1.5 6.7 1.5 6.1 1.6 5.6 1.5 4.7 1.5 3.8 1.5 2.8 1.5 1.6 1.6 .4 1.5-.6 1.5-1.8 1.5-2.7 1.5-3.7 1.6-4.6 1.5-5.3 1.5-5.8 1.5-6.3 1.6-6.5 1.5-6.7 1.5-6.5 1.5-6.3 1.5-5.8 1.6-5.3 1.5-4.6 1.5-3.7 1.5-2.7 1.5-1.8 1.6-.6 1.5 .4 1.5 1.7 1.5 2.9 1.6 4 1.5 4.9 1.5 5.8 1.5 6.5 1.5 6.8 1.6 7.2 1.5 7.1 1.5 7 1.5 6.6 1.5 6 1.6 5.2 1.5 4.2 1.5 3.2 1.5 2 1.6 .8 1.5-.4 1.5-1.6 1.5-2.8 1.5-3.8 1.6-4.8 1.5-5.6 1.5-6.2" stroke="#000000" stroke-width="2.2" stroke-dasharray="6.5 2.8"/>
</g>
<path d="M999.4 13.7V151H1668.8V13.7" fill="none" stroke="#5e5e5e" stroke-width="1.8"/>
<path d="M998.5 13.7H1669.7" stroke="#111" stroke-width="1.4"/>
<path d="M999.4 151v3.2M1100.8 151v3.2M1202.2 151v3.2M1303.7 151v3.2M1405.1 151v3.2M1506.5 151v3.2M1607.9 151v3.2M999.4 121.6h-3.2M999.4 82.3h-3.2M999.4 43.1h-3.2" stroke="#555" stroke-width="1"/>
<g font-family='"DejaVu Sans", "Liberation Sans", sans-serif' font-size="19.6" fill="#000" stroke="#000" stroke-width="0.25">
<text transform="translate(993.8 128.7) scale(0.97 1)" text-anchor="end">−8</text>
<text transform="translate(993.8 89.4) scale(0.97 1)" text-anchor="end">0</text>
<text transform="translate(993.8 50.2) scale(0.97 1)" text-anchor="end">8</text>
<text transform="translate(999.4 170.5) scale(0.97 1)" text-anchor="middle">0</text>
<text transform="translate(1100.8 170.5) scale(0.97 1)" text-anchor="middle">100</text>
<text transform="translate(1202.2 170.5) scale(0.97 1)" text-anchor="middle">200</text>
<text transform="translate(1303.7 170.5) scale(0.97 1)" text-anchor="middle">300</text>
<text transform="translate(1405.1 170.5) scale(0.97 1)" text-anchor="middle">400</text>
<text transform="translate(1506.5 170.5) scale(0.97 1)" text-anchor="middle">500</text>
<text transform="translate(1607.9 170.5) scale(0.97 1)" text-anchor="middle">600</text>
</g>
<text x="1364.8" y="146.5" font-family='"DejaVu Sans", "Liberation Sans", sans-serif' font-weight="bold" font-size="19" textLength="27.3" lengthAdjust="spacingAndGlyphs">X1</text>
<path d="M1103.8 183.1V320.3M1205.4 183.1V320.3M1306.9 183.1V320.3M1408.5 183.1V320.3M1510 183.1V320.3M1611.6 183.1V320.3M1002.3 290.9H1672.5M1002.3 251.7H1672.5M1002.3 212.5H1672.5" stroke="#e2e2e2" stroke-width="1" fill="none"/>
<g clip-path="url(#ch)" fill="none" stroke-linejoin="round">
<path d="M1002.3 250.5l1.5-4.7 1.5-4.7 1.6-4.4 1.5-4.1 1.5-3.6 1.5-3 1.6-2.4 1.5-1.7 1.5-.9 1.5-.1 1.6 .6 1.5 1.4 1.5 2 1.5 2.7 1.5 3.3 1.6 3.8 1.5 4.1 1.5 4.5 1.5 4.6 1.6 4.6 1.5 4.6 1.5 4.4 1.5 4.1 1.6 3.7 1.5 3.2 1.5 2.5 1.5 2 1.5 1.2 1.6 .4 1.5-.3 1.5-1.4 1.5-2.3 1.6-3.2 1.5-3.9 1.5-4.5 1.5-5 1.6-5.3 1.5-5.3 1.5-5.3 1.5-4.9 1.6-4.5 1.5-3.9 1.5-3.1 1.5-2.3 1.5-1.3 1.6-.3 1.5 .6 1.5 1.4 1.5 2.2 1.6 2.9 1.5 3.5 1.5 4.1 1.5 4.4 1.6 4.8 1.5 4.9 1.5 4.9 1.5 4.7 1.5 4.5 1.6 4.1 1.5 3.5 1.5 3 1.5 2.2 1.6 1.5 1.5 .6 1.5-.2 1.5-1.2 1.6-2.1 1.5-2.9 1.5-3.6 1.5-4.3 1.5-4.8 1.6-5.2 1.5-5.3 1.5-5.4 1.5-5.2 1.6-4.9 1.5-4.5 1.5-3.8 1.5-3.1 1.6-2.3 1.5-1.5 1.5-.4 1.5 .4 1.5 1.3 1.6 2.1 1.5 2.9 1.5 3.5 1.5 4.2 1.6 4.5 1.5 4.9 1.5 5.1 1.5 5.1 1.6 5 1.5 4.8 1.5 4.3 1.5 3.9 1.5 3.1 1.6 2.5 1.5 1.7 1.5 .8 1.5 0 1.6-.9 1.5-1.6 1.5-2.5 1.5-3.2 1.6-3.7 1.5-4.3 1.5-4.6 1.5-4.8 1.5-5 1.6-4.9 1.5-4.7 1.5-4.3 1.5-3.9 1.6-3.4 1.5-2.6 1.5-1.9 1.5-1.1 1.6-.3 1.5 .6 1.5 1.4 1.5 2.2 1.6 2.9 1.5 3.5 1.5 4.1 1.5 4.4 1.5 4.8 1.6 4.9 1.5 5 1.5 4.8 1.5 4.6 1.6 4.2 1.5 3.7 1.5 3.2 1.5 2.4 1.6 1.6 1.5 .9 1.5 0 1.5-.9 1.5-1.7 1.6-2.6 1.5-3.3 1.5-4 1.5-4.5 1.6-4.9 1.5-5.2 1.5-5.3 1.5-5.3 1.6-5 1.5-4.8 1.5-4.2 1.5-3.7 1.5-2.9 1.6-2.1 1.5-1.3 1.5-.4 1.5 .5 1.6 1.5 1.5 2.3 1.5 3.2 1.5 3.8 1.6 4.5 1.5 4.9 1.5 5.3 1.5 5.4 1.5 5.4 1.6 5.3 1.5 5 1.5 4.5 1.5 3.9 1.6 3.2 1.5 2.4 1.5 1.5 1.5 .6 1.6-.4 1.5-1.3 1.5-2.3 1.5-3.1 1.5-3.9 1.6-4.6 1.5-5.1 1.5-5.5 1.5-5.7 1.6-5.8 1.5-5.6 1.5-5.4 1.5-4.9 1.6-4.4 1.5-3.7 1.5-2.8 1.5-2 1.6-1 1.5 0 1.5 .9 1.5 2 1.5 2.8 1.6 3.7 1.5 4.4 1.5 4.9 1.5 5.4 1.6 5.6 1.5 5.7 1.5 5.6 1.5 5.4 1.6 4.8 1.5 4.3 1.5 3.6 1.5 2.7 1.5 1.9 1.6 .8 1.5-.2 1.5-1.1 1.5-2.2 1.6-3 1.5-3.8 1.5-4.6 1.5-5.3 1.6-5.7 1.5-6 1.5-6.3 1.5-6.3 1.5-6.1 1.6-5.9 1.5-5.5 1.5-4.9 1.5-4.2 1.6-3.4 1.5-2.6 1.5-1.6 1.5-.6 1.6 .3 1.5 1.3 1.5 2.1 1.5 2.9 1.5 3.6 1.6 4.2 1.5 4.6 1.5 5 1.5 5 1.6 5 1.5 4.8 1.5 4.4 1.5 3.9 1.6 3.3 1.5 2.5 1.5 1.6 1.5 .8 1.5-.1 1.6-1 1.5-1.7 1.5-2.4 1.5-3.2 1.6-3.7 1.5-4.1 1.5-4.6 1.5-4.8 1.6-5 1.5-4.9 1.5-4.9 1.5-4.5 1.6-4.2 1.5-3.7 1.5-3.1 1.5-2.5 1.5-1.7 1.6-.9 1.5-.2 1.5 .7 1.5 1.6 1.6 2.3 1.5 3 1.5 3.7 1.5 4.1 1.6 4.6 1.5 4.7 1.5 4.9 1.5 4.9 1.5 4.6 1.6 4.4 1.5 3.8 1.5 3.3 1.5 2.6 1.6 1.9 1.5 1 1.5 .2 1.5-.6 1.6-1.4 1.5-2.2 1.5-2.9 1.5-3.5 1.5-4.1 1.6-4.4 1.5-4.7 1.5-4.8 1.5-4.9 1.6-4.7 1.5-4.4 1.5-4 1.5-3.5 1.6-2.9 1.5-2.2 1.5-1.4 1.5-.7 1.5 .2 1.6 1.1 1.5 1.8 1.5 2.6 1.5 3.3 1.6 3.9 1.5 4.3 1.5 4.6 1.5 4.9 1.6 4.9 1.5 4.9 1.5 4.6 1.5 4.2 1.5 3.8 1.6 3.1 1.5 2.5 1.5 1.6 1.5 .9 1.6 0 1.5-.8 1.5-1.6 1.5-2.3 1.6-3.1 1.5-3.6 1.5-4.2 1.5-4.6 1.6-4.8 1.5-4.9 1.5-4.9 1.5-4.8 1.5-4.5 1.6-4 1.5-3.5 1.5-2.9 1.5-2.2 1.6-1.4 1.5-.5 1.5 .2 1.5 1.2 1.6 2 1.5 2.8 1.5 3.5 1.5 4.1 1.5 4.6 1.6 4.9 1.5 5.1 1.5 5.2 1.5 5.1 1.6 4.8 1.5 4.3 1.5 3.9 1.5 3.2 1.6 2.4 1.5 1.6 1.5 .8 1.5-.2 1.5-.9 1.6-1.7 1.5-2.4 1.5-3.1 1.5-3.6 1.6-4.2 1.5-4.5 1.5-4.7 1.5-4.8 1.6-4.8 1.5-4.6 1.5-4.4 1.5-3.9 1.5-3.5 1.6-2.8 1.5-2.2 1.5-1.3 1.5-.7 1.6 .2 1.5 1.1 1.5 1.9 1.5 2.7 1.6 3.3 1.5 4 1.5 4.4 1.5 4.8 1.5 4.9 1.6 5 1.5 4.9 1.5 4.6 1.5 4.3 1.6 3.7 1.5 3 1.5 2.3 1.5 1.5 1.6 .7 1.5-.2 1.5-.9 1.5-1.7 1.5-2.5 1.6-3 1.5-3.6 1.5-4.1 1.5-4.4 1.6-4.6 1.5-4.7 1.5-4.7 1.5-4.6 1.6-4.2 1.5-3.9 1.5-3.3 1.5-2.8 1.6-2.1 1.5-1.4 1.5-.6 1.5 .3 1.5 1.2 1.6 2.1 1.5 3 1.5 3.7 1.5 4.4 1.6 4.9 1.5 5.2 1.5 5.5 1.5 5.4 1.6 5.3 1.5 4.9 1.5 4.5 1.5 3.9 1.5 3 1.6 2.3 1.5 1.3 1.5 .4 1.5-.6 1.6-1.4 1.5-2.1 1.5-2.9 1.5-3.5 1.6-4.1 1.5-4.6 1.5-4.8" stroke="#e8191b" stroke-width="2.1"/>
<path d="M1002.3 250.7l1.5-2.9 1.5-2.8 1.6-2.6 1.5-2.5 1.5-2.3 1.5-1.9 1.6-1.5 1.5-1.2 1.5-.7 1.5-.2 1.6 .3 1.5 .8 1.5 1.3 1.5 1.8 1.5 2.3 1.6 2.6 1.5 3 1.5 3.2 1.5 3.3 1.6 3.4 1.5 3.3 1.5 3.3 1.5 3.1 1.6 2.8 1.5 2.4 1.5 2 1.5 1.6 1.5 1.1 1.6 .5 1.5-.1 1.5-.9 1.5-1.9 1.6-2.7 1.5-3.4 1.5-4 1.5-4.5 1.6-4.7 1.5-5 1.5-4.9 1.5-4.6 1.6-4.3 1.5-3.8 1.5-3.1 1.5-2.4 1.5-1.5 1.6-.6 1.5 .3 1.5 1.2 1.5 1.9 1.6 2.6 1.5 3.4 1.5 3.9 1.5 4.3 1.6 4.7 1.5 4.8 1.5 4.9 1.5 4.9 1.5 4.5 1.6 4.3 1.5 3.7 1.5 3.2 1.5 2.4 1.6 1.8 1.5 .9 1.5 0 1.5-.9 1.6-1.9 1.5-2.8 1.5-3.7 1.5-4.4 1.5-5 1.6-5.4 1.5-5.7 1.5-5.7 1.5-5.7 1.6-5.4 1.5-4.9 1.5-4.4 1.5-3.6 1.6-2.8 1.5-1.8 1.5-.9 1.5 .1 1.5 .8 1.6 1.6 1.5 2.1 1.5 2.8 1.5 3.2 1.6 3.6 1.5 4 1.5 4.1 1.5 4.2 1.6 4.2 1.5 4 1.5 3.7 1.5 3.2 1.5 2.9 1.6 2.2 1.5 1.6 1.5 .9 1.5 .2 1.6-.4 1.5-1 1.5-1.7 1.5-2.1 1.6-2.7 1.5-3 1.5-3.3 1.5-3.6 1.5-3.6 1.6-3.6 1.5-3.5 1.5-3.4 1.5-3 1.6-2.6 1.5-2.1 1.5-1.6 1.5-1 1.6-.4 1.5 .3 1.5 1.2 1.5 1.9 1.6 2.6 1.5 3.4 1.5 3.8 1.5 4.4 1.5 4.7 1.6 4.9 1.5 4.9 1.5 4.9 1.5 4.7 1.6 4.4 1.5 3.9 1.5 3.3 1.5 2.6 1.6 2 1.5 1.1 1.5 .3 1.5-.6 1.5-1.4 1.6-2.3 1.5-3.1 1.5-3.8 1.5-4.3 1.6-4.9 1.5-5.1 1.5-5.3 1.5-5.2 1.6-5.2 1.5-4.8 1.5-4.5 1.5-3.8 1.5-3.2 1.6-2.4 1.5-1.6 1.5-.7 1.5 .3 1.6 1.2 1.5 2.2 1.5 3.1 1.5 3.9 1.6 4.5 1.5 5.2 1.5 5.5 1.5 5.8 1.5 5.8 1.6 5.7 1.5 5.4 1.5 5 1.5 4.4 1.6 3.7 1.5 2.9 1.5 1.9 1.5 1 1.6 0 1.5-1.1 1.5-2.1 1.5-3.1 1.5-3.9 1.6-4.6 1.5-5.3 1.5-5.7 1.5-6 1.6-6.2 1.5-6 1.5-5.9 1.5-5.4 1.6-4.9 1.5-4.2 1.5-3.3 1.5-2.4 1.6-1.4 1.5-.4 1.5 .6 1.5 1.6 1.5 2.6 1.6 3.4 1.5 4.2 1.5 4.7 1.5 5.3 1.6 5.5 1.5 5.7 1.5 5.7 1.5 5.4 1.6 5.1 1.5 4.5 1.5 3.8 1.5 3 1.5 2.2 1.6 1.1 1.5 .2 1.5-.7 1.5-1.5 1.6-2.3 1.5-3 1.5-3.6 1.5-4.2 1.6-4.6 1.5-5 1.5-5.2 1.5-5.2 1.5-5.2 1.6-5 1.5-4.7 1.5-4.2 1.5-3.7 1.6-3.1 1.5-2.4 1.5-1.6 1.5-.8 1.6 0 1.5 .7 1.5 1.4 1.5 2 1.5 2.6 1.6 3.1 1.5 3.4 1.5 3.7 1.5 3.8 1.6 3.8 1.5 3.8 1.5 3.4 1.5 3.1 1.6 2.7 1.5 2.1 1.5 1.5 1.5 .8 1.5 .1 1.6-.5 1.5-1.2 1.5-1.8 1.5-2.3 1.6-2.9 1.5-3.2 1.5-3.6 1.5-3.9 1.6-4 1.5-4 1.5-3.9 1.5-3.8 1.6-3.5 1.5-3.1 1.5-2.7 1.5-2.2 1.5-1.6 1.6-.9 1.5-.3 1.5 .3 1.5 1 1.6 1.6 1.5 2.2 1.5 2.8 1.5 3.1 1.6 3.5 1.5 3.8 1.5 3.8 1.5 3.9 1.5 3.7 1.6 3.5 1.5 3.2 1.5 2.8 1.5 2.2 1.6 1.7 1.5 1.1 1.5 .3 1.5-.3 1.6-1.2 1.5-1.9 1.5-2.7 1.5-3.3 1.5-3.9 1.6-4.3 1.5-4.6 1.5-4.8 1.5-4.9 1.6-4.7 1.5-4.5 1.5-4.2 1.5-3.7 1.6-3.1 1.5-2.5 1.5-1.6 1.5-.9 1.5-.1 1.6 .7 1.5 1.6 1.5 2.4 1.5 3 1.6 3.7 1.5 4.2 1.5 4.6 1.5 4.8 1.6 4.9 1.5 4.9 1.5 4.7 1.5 4.3 1.5 4 1.6 3.3 1.5 2.7 1.5 2 1.5 1.1 1.6 .3 1.5-.5 1.5-1.3 1.5-2.2 1.6-2.8 1.5-3.5 1.5-4 1.5-4.4 1.6-4.8 1.5-4.9 1.5-4.9 1.5-4.8 1.5-4.6 1.6-4.2 1.5-3.7 1.5-3.1 1.5-2.4 1.6-1.7 1.5-.8 1.5-.1 1.5 .8 1.6 1.5 1.5 2.3 1.5 2.9 1.5 3.5 1.5 4 1.6 4.3 1.5 4.6 1.5 4.6 1.5 4.6 1.6 4.3 1.5 4.1 1.5 3.6 1.5 3 1.6 2.5 1.5 1.6 1.5 1 1.5 .1 1.5-.6 1.6-1.3 1.5-1.9 1.5-2.6 1.5-3.1 1.6-3.5 1.5-3.9 1.5-4.2 1.5-4.2 1.6-4.3 1.5-4.2 1.5-4 1.5-3.7 1.5-3.2 1.6-2.7 1.5-2.1 1.5-1.5 1.5-.8 1.6 0 1.5 .7 1.5 1.5 1.5 2.1 1.6 2.9 1.5 3.4 1.5 3.9 1.5 4.2 1.5 4.5 1.6 4.5 1.5 4.5 1.5 4.2 1.5 4 1.6 3.5 1.5 3 1.5 2.3 1.5 1.6 1.6 .9 1.5 .1 1.5-.4 1.5-1 1.5-1.4 1.6-1.8 1.5-2.2 1.5-2.5 1.5-2.8 1.6-2.9 1.5-3 1.5-3 1.5-3 1.6-2.8 1.5-2.6 1.5-2.2 1.5-1.9 1.6-1.5 1.5-1.1 1.5-.5 1.5 0 1.5 .6 1.6 1.4 1.5 2 1.5 2.6 1.5 3.2 1.6 3.6 1.5 3.8 1.5 4.1 1.5 4.1 1.6 4 1.5 3.8 1.5 3.5 1.5 3.1 1.5 2.5 1.6 1.9 1.5 1.2 1.5 .5 1.5-.2 1.6-1.1 1.5-1.9 1.5-2.7 1.5-3.3 1.6-3.9 1.5-4.4 1.5-4.8" stroke="#0b800b" stroke-width="3.5" stroke-dasharray="3.5 4.3"/>
<path d="M1002.3 251.5l1.5-4.8 1.5-4.7 1.6-4.5 1.5-4.1 1.5-3.7 1.5-3.2 1.6-2.5 1.5-1.8 1.5-1.1 1.5-.3 1.6 .5 1.5 1.1 1.5 1.8 1.5 2.4 1.5 2.9 1.6 3.4 1.5 3.8 1.5 4 1.5 4.3 1.6 4.3 1.5 4.2 1.5 4.1 1.5 3.9 1.6 3.4 1.5 3.1 1.5 2.5 1.5 1.9 1.5 1.2 1.6 .6 1.5-.2 1.5-1 1.5-2 1.6-2.8 1.5-3.5 1.5-4 1.5-4.6 1.6-4.8 1.5-4.9 1.5-4.9 1.5-4.6 1.6-4.3 1.5-3.7 1.5-3 1.5-2.2 1.5-1.4 1.6-.5 1.5 .4 1.5 1.1 1.5 1.9 1.6 2.6 1.5 3.1 1.5 3.7 1.5 4 1.6 4.4 1.5 4.5 1.5 4.5 1.5 4.4 1.5 4.2 1.6 3.9 1.5 3.4 1.5 2.8 1.5 2.2 1.6 1.5 1.5 .7 1.5 0 1.5-.9 1.6-1.8 1.5-2.5 1.5-3.3 1.5-3.9 1.5-4.3 1.6-4.8 1.5-4.9 1.5-5 1.5-4.9 1.6-4.6 1.5-4.2 1.5-3.7 1.5-3 1.6-2.3 1.5-1.5 1.5-.6 1.5 .2 1.5 1.1 1.6 1.8 1.5 2.6 1.5 3.2 1.5 3.7 1.6 4.2 1.5 4.5 1.5 4.8 1.5 4.8 1.6 4.7 1.5 4.5 1.5 4.1 1.5 3.7 1.5 3.1 1.6 2.5 1.5 1.7 1.5 .9 1.5 .2 1.6-.7 1.5-1.4 1.5-2.2 1.5-2.8 1.6-3.4 1.5-3.9 1.5-4.2 1.5-4.5 1.5-4.6 1.6-4.6 1.5-4.4 1.5-4.1 1.5-3.8 1.6-3.2 1.5-2.6 1.5-1.9 1.5-1.2 1.6-.4 1.5 .4 1.5 1.3 1.5 2 1.6 2.7 1.5 3.4 1.5 4 1.5 4.4 1.5 4.7 1.6 4.9 1.5 5 1.5 4.9 1.5 4.6 1.6 4.3 1.5 3.9 1.5 3.2 1.5 2.5 1.6 1.9 1.5 1 1.5 .2 1.5-.7 1.5-1.6 1.6-2.4 1.5-3.2 1.5-3.8 1.5-4.5 1.6-4.8 1.5-5.2 1.5-5.3 1.5-5.2 1.6-5.2 1.5-4.8 1.5-4.3 1.5-3.8 1.5-3.1 1.6-2.3 1.5-1.4 1.5-.6 1.5 .3 1.6 1.3 1.5 2.2 1.5 3 1.5 3.7 1.6 4.3 1.5 4.9 1.5 5.2 1.5 5.4 1.5 5.5 1.6 5.3 1.5 5 1.5 4.6 1.5 4.1 1.6 3.3 1.5 2.6 1.5 1.7 1.5 .7 1.6-.1 1.5-1.2 1.5-2.1 1.5-2.9 1.5-3.8 1.6-4.4 1.5-5 1.5-5.5 1.5-5.6 1.6-5.8 1.5-5.7 1.5-5.4 1.5-5.1 1.6-4.5 1.5-3.8 1.5-3 1.5-2.2 1.6-1.2 1.5-.2 1.5 .8 1.5 1.7 1.5 2.7 1.6 3.5 1.5 4.3 1.5 4.8 1.5 5.3 1.6 5.6 1.5 5.7 1.5 5.6 1.5 5.4 1.6 5 1.5 4.4 1.5 3.8 1.5 2.9 1.5 2 1.6 1 1.5 0 1.5-.9 1.5-2 1.6-2.8 1.5-3.7 1.5-4.5 1.5-5.1 1.6-5.6 1.5-6 1.5-6.2 1.5-6.3 1.5-6.2 1.6-6 1.5-5.5 1.5-5 1.5-4.4 1.6-3.6 1.5-2.7 1.5-1.8 1.5-.9 1.6 .2 1.5 1 1.5 2 1.5 2.8 1.5 3.4 1.6 4.1 1.5 4.6 1.5 4.9 1.5 5 1.6 5 1.5 4.9 1.5 4.5 1.5 4 1.6 3.4 1.5 2.6 1.5 1.9 1.5 .9 1.5 .1 1.6-.8 1.5-1.6 1.5-2.3 1.5-3 1.6-3.6 1.5-4.1 1.5-4.5 1.5-4.8 1.6-4.9 1.5-5 1.5-4.8 1.5-4.6 1.6-4.3 1.5-3.8 1.5-3.3 1.5-2.5 1.5-1.9 1.6-1.1 1.5-.3 1.5 .5 1.5 1.4 1.6 2.2 1.5 2.9 1.5 3.5 1.5 4.1 1.6 4.4 1.5 4.8 1.5 4.9 1.5 4.8 1.5 4.7 1.6 4.4 1.5 4 1.5 3.4 1.5 2.8 1.6 2 1.5 1.2 1.5 .3 1.5-.4 1.6-1.3 1.5-2 1.5-2.8 1.5-3.4 1.5-3.9 1.6-4.4 1.5-4.6 1.5-4.9 1.5-4.8 1.6-4.7 1.5-4.5 1.5-4.1 1.5-3.7 1.6-3 1.5-2.3 1.5-1.6 1.5-.8 1.5 0 1.6 1 1.5 1.8 1.5 2.6 1.5 3.4 1.6 4 1.5 4.5 1.5 4.9 1.5 5.2 1.6 5.2 1.5 5.2 1.5 5 1.5 4.6 1.5 4.2 1.6 3.5 1.5 2.7 1.5 2 1.5 1.1 1.6 .2 1.5-.5 1.5-1.3 1.5-2 1.6-2.6 1.5-3.1 1.5-3.6 1.5-4 1.6-4.2 1.5-4.3 1.5-4.4 1.5-4.2 1.5-4 1.6-3.7 1.5-3.2 1.5-2.6 1.5-2.1 1.6-1.4 1.5-.6 1.5 .1 1.5 .8 1.6 1.5 1.5 2.1 1.5 2.8 1.5 3.3 1.5 3.7 1.6 4 1.5 4.1 1.5 4.3 1.5 4.2 1.6 3.9 1.5 3.7 1.5 3.2 1.5 2.8 1.6 2.1 1.5 1.5 1.5 .7 1.5 0 1.5-.7 1.6-1.6 1.5-2.3 1.5-2.9 1.5-3.6 1.6-4 1.5-4.4 1.5-4.7 1.5-4.8 1.6-4.9 1.5-4.6 1.5-4.5 1.5-4 1.5-3.5 1.6-3 1.5-2.3 1.5-1.5 1.5-.8 1.6 0 1.5 .9 1.5 1.8 1.5 2.5 1.6 3.2 1.5 3.9 1.5 4.3 1.5 4.7 1.5 4.9 1.6 5 1.5 5 1.5 4.6 1.5 4.4 1.6 3.8 1.5 3.2 1.5 2.4 1.5 1.7 1.6 .8 1.5 0 1.5-.8 1.5-1.5 1.5-2.3 1.6-2.9 1.5-3.5 1.5-4 1.5-4.4 1.6-4.6 1.5-4.7 1.5-4.7 1.5-4.6 1.6-4.3 1.5-4 1.5-3.4 1.5-2.9 1.6-2.2 1.5-1.6 1.5-.7 1.5 0 1.5 1 1.6 2 1.5 2.8 1.5 3.6 1.5 4.3 1.6 4.8 1.5 5.2 1.5 5.4 1.5 5.4 1.6 5.4 1.5 5 1.5 4.6 1.5 3.9 1.5 3.3 1.6 2.4 1.5 1.5 1.5 .6 1.5-.4 1.6-1.2 1.5-2 1.5-2.8 1.5-3.4 1.6-4 1.5-4.4 1.5-4.8" stroke="#1f77b4" stroke-width="2.6" stroke-dasharray="10 3.5 2.4 3.5"/>
<path d="M1002.3 251.5l1.5-4.8 1.5-4.7 1.6-4.5 1.5-4.1 1.5-3.7 1.5-3.2 1.6-2.5 1.5-1.8 1.5-1.1 1.5-.3 1.6 .6 1.5 1.3 1.5 2.1 1.5 2.8 1.5 3.5 1.6 4 1.5 4.5 1.5 4.8 1.5 5 1.6 5.1 1.5 5 1.5 4.9 1.5 4.5 1.6 4.1 1.5 3.6 1.5 3 1.5 2.2 1.5 1.5 1.6 .7 1.5-.2 1.5-1.3 1.5-2.3 1.6-3.3 1.5-4.1 1.5-4.9 1.5-5.4 1.6-5.7 1.5-5.8 1.5-5.8 1.5-5.5 1.6-5.1 1.5-4.4 1.5-3.5 1.5-2.7 1.5-1.6 1.6-.6 1.5 .5 1.5 1.4 1.5 2.3 1.6 3.1 1.5 3.8 1.5 4.5 1.5 4.9 1.6 5.3 1.5 5.5 1.5 5.5 1.5 5.4 1.5 5.2 1.6 4.7 1.5 4.1 1.5 3.5 1.5 2.7 1.6 1.8 1.5 .9 1.5-.1 1.5-1.1 1.6-2.1 1.5-3.1 1.5-3.9 1.5-4.7 1.5-5.3 1.6-5.7 1.5-6 1.5-6 1.5-5.9 1.6-5.6 1.5-5.1 1.5-4.4 1.5-3.7 1.6-2.8 1.5-1.8 1.5-.7 1.5 .2 1.5 1.2 1.6 1.9 1.5 2.8 1.5 3.4 1.5 4 1.6 4.5 1.5 4.8 1.5 5.1 1.5 5.1 1.6 5 1.5 4.8 1.5 4.5 1.5 3.9 1.5 3.4 1.6 2.6 1.5 1.8 1.5 1 1.5 .2 1.6-.7 1.5-1.5 1.5-2.3 1.5-3.1 1.6-3.6 1.5-4.2 1.5-4.5 1.5-4.9 1.5-4.9 1.6-4.9 1.5-4.8 1.5-4.4 1.5-4 1.6-3.5 1.5-2.7 1.5-2.1 1.5-1.3 1.6-.4 1.5 .5 1.5 1.4 1.5 2.2 1.6 3.1 1.5 3.9 1.5 4.4 1.5 5 1.5 5.3 1.6 5.5 1.5 5.6 1.5 5.5 1.5 5.2 1.6 4.8 1.5 4.3 1.5 3.6 1.5 2.9 1.6 2.1 1.5 1.1 1.5 .2 1.5-.8 1.5-1.7 1.6-2.7 1.5-3.6 1.5-4.3 1.5-4.9 1.6-5.5 1.5-5.7 1.5-5.9 1.5-5.9 1.6-5.8 1.5-5.3 1.5-4.9 1.5-4.2 1.5-3.5 1.6-2.5 1.5-1.7 1.5-.6 1.5 .3 1.6 1.3 1.5 2.2 1.5 3 1.5 3.7 1.6 4.3 1.5 4.9 1.5 5.2 1.5 5.4 1.5 5.5 1.6 5.3 1.5 5 1.5 4.6 1.5 4.1 1.6 3.3 1.5 2.6 1.5 1.7 1.5 .7 1.6-.1 1.5-1.2 1.5-2.1 1.5-2.9 1.5-3.8 1.6-4.4 1.5-5 1.5-5.5 1.5-5.6 1.6-5.8 1.5-5.7 1.5-5.4 1.5-5.1 1.6-4.5 1.5-3.8 1.5-3 1.5-2.2 1.6-1.2 1.5-.2 1.5 .9 1.5 1.9 1.5 2.9 1.6 3.9 1.5 4.6 1.5 5.4 1.5 5.8 1.6 6.1 1.5 6.3 1.5 6.2 1.5 5.9 1.6 5.5 1.5 4.8 1.5 4.1 1.5 3.2 1.5 2.2 1.6 1.2 1.5 0 1.5-1 1.5-2.1 1.6-3.1 1.5-4 1.5-4.8 1.5-5.5 1.6-6.1 1.5-6.5 1.5-6.7 1.5-6.8 1.5-6.7 1.6-6.4 1.5-6 1.5-5.5 1.5-4.7 1.6-3.9 1.5-2.9 1.5-2 1.5-.9 1.6 .2 1.5 1 1.5 2 1.5 2.8 1.5 3.4 1.6 4.1 1.5 4.6 1.5 4.9 1.5 5 1.6 5 1.5 4.9 1.5 4.5 1.5 4 1.6 3.4 1.5 2.6 1.5 1.9 1.5 .9 1.5 .1 1.6-.8 1.5-1.6 1.5-2.3 1.5-3 1.6-3.6 1.5-4.1 1.5-4.5 1.5-4.8 1.6-4.9 1.5-5 1.5-4.8 1.5-4.6 1.6-4.3 1.5-3.8 1.5-3.3 1.5-2.5 1.5-1.9 1.6-1.1 1.5-.3 1.5 .5 1.5 1.4 1.6 2.2 1.5 2.9 1.5 3.5 1.5 4.1 1.6 4.4 1.5 4.8 1.5 4.9 1.5 4.8 1.5 4.7 1.6 4.4 1.5 4 1.5 3.4 1.5 2.8 1.6 2 1.5 1.2 1.5 .3 1.5-.4 1.6-1.3 1.5-2 1.5-2.8 1.5-3.4 1.5-3.9 1.6-4.4 1.5-4.6 1.5-4.9 1.5-4.8 1.6-4.7 1.5-4.5 1.5-4.1 1.5-3.7 1.6-3 1.5-2.3 1.5-1.6 1.5-.8 1.5 0 1.6 .9 1.5 1.7 1.5 2.4 1.5 3.2 1.6 3.7 1.5 4.3 1.5 4.6 1.5 4.8 1.6 4.9 1.5 4.9 1.5 4.7 1.5 4.3 1.5 3.9 1.6 3.2 1.5 2.6 1.5 1.9 1.5 1 1.6 .2 1.5-.5 1.5-1.1 1.5-1.8 1.6-2.2 1.5-2.8 1.5-3.2 1.5-3.5 1.6-3.8 1.5-3.8 1.5-3.9 1.5-3.8 1.5-3.5 1.6-3.2 1.5-2.9 1.5-2.4 1.5-1.8 1.6-1.2 1.5-.6 1.5 .1 1.5 .8 1.6 1.4 1.5 2.1 1.5 2.7 1.5 3.1 1.5 3.6 1.6 3.8 1.5 4 1.5 4.1 1.5 4 1.6 3.8 1.5 3.5 1.5 3.1 1.5 2.6 1.6 2.1 1.5 1.4 1.5 .7 1.5 0 1.5-.7 1.6-1.6 1.5-2.3 1.5-2.9 1.5-3.6 1.6-4 1.5-4.4 1.5-4.7 1.5-4.8 1.6-4.9 1.5-4.6 1.5-4.5 1.5-4 1.5-3.5 1.6-3 1.5-2.3 1.5-1.5 1.5-.8 1.6 0 1.5 .9 1.5 1.8 1.5 2.5 1.6 3.2 1.5 3.9 1.5 4.3 1.5 4.7 1.5 4.9 1.6 5 1.5 5 1.5 4.6 1.5 4.4 1.6 3.8 1.5 3.2 1.5 2.4 1.5 1.7 1.6 .8 1.5 0 1.5-.8 1.5-1.5 1.5-2.3 1.6-2.9 1.5-3.5 1.5-4 1.5-4.4 1.6-4.6 1.5-4.7 1.5-4.7 1.5-4.6 1.6-4.3 1.5-4 1.5-3.4 1.5-2.9 1.6-2.2 1.5-1.6 1.5-.7 1.5 .1 1.5 1.1 1.6 2.1 1.5 3.1 1.5 3.9 1.5 4.7 1.6 5.3 1.5 5.7 1.5 5.9 1.5 6 1.6 5.8 1.5 5.5 1.5 5 1.5 4.4 1.5 3.5 1.6 2.7 1.5 1.6 1.5 .6 1.5-.4 1.6-1.3 1.5-2.2 1.5-3 1.5-3.8 1.6-4.3 1.5-4.9 1.5-5.3" stroke="#000000" stroke-width="2.2" stroke-dasharray="6.5 2.8"/>
</g>
<path d="M1002.3 183.1V320.3H1672.5V183.1" fill="none" stroke="#5e5e5e" stroke-width="1.8"/>
<path d="M1001.4 183.1H1673.4" stroke="#111" stroke-width="1.4"/>
<path d="M1002.3 320.3v3.2M1103.8 320.3v3.2M1205.4 320.3v3.2M1306.9 320.3v3.2M1408.5 320.3v3.2M1510 320.3v3.2M1611.6 320.3v3.2M1002.3 290.9h-3.2M1002.3 251.7h-3.2M1002.3 212.5h-3.2" stroke="#555" stroke-width="1"/>
<g font-family='"DejaVu Sans", "Liberation Sans", sans-serif' font-size="19.6" fill="#000" stroke="#000" stroke-width="0.25">
<text transform="translate(996.7 298) scale(0.97 1)" text-anchor="end">−8</text>
<text transform="translate(996.7 258.8) scale(0.97 1)" text-anchor="end">0</text>
<text transform="translate(996.7 219.6) scale(0.97 1)" text-anchor="end">8</text>
<text transform="translate(1002.3 339.8) scale(0.97 1)" text-anchor="middle">0</text>
<text transform="translate(1103.8 339.8) scale(0.97 1)" text-anchor="middle">100</text>
<text transform="translate(1205.4 339.8) scale(0.97 1)" text-anchor="middle">200</text>
<text transform="translate(1306.9 339.8) scale(0.97 1)" text-anchor="middle">300</text>
<text transform="translate(1408.5 339.8) scale(0.97 1)" text-anchor="middle">400</text>
<text transform="translate(1510 339.8) scale(0.97 1)" text-anchor="middle">500</text>
<text transform="translate(1611.6 339.8) scale(0.97 1)" text-anchor="middle">600</text>
</g>
<text x="1367.3" y="315.9" font-family='"DejaVu Sans", "Liberation Sans", sans-serif' font-weight="bold" font-size="19" textLength="27.9" lengthAdjust="spacingAndGlyphs">X2</text>
<path d="M1104 354.4V491.4M1205.6 354.4V491.4M1307.2 354.4V491.4M1408.8 354.4V491.4M1510.4 354.4V491.4M1611.9 354.4V491.4M1002.4 462H1672.9M1002.4 422.9H1672.9M1002.4 383.8H1672.9" stroke="#e2e2e2" stroke-width="1" fill="none"/>
<g clip-path="url(#ci)" fill="none" stroke-linejoin="round">
<path d="M1002.4 414.3l1.5-2.9 1.5-1.6 1.6-1 1.5 .7 1.5 1.5 1.5-.8 1.6-2.6 1.5-1.7 1.5-.7 1.5-.3 1.6 .5 1.5 1 1.5 .2 1.5 1 1.6 3.7 1.5 4 1.5 2.3 1.5 2.1 1.6 2.8 1.5 2.4 1.5 2.7 1.5 4.1 1.5 3.2 1.6 .6 1.5 .2 1.5 1.2 1.5 .8 1.6 .2 1.5 .5 1.5-.8 1.5-3.1 1.6-2.9 1.5-1.1 1.5-1.4 1.5-2.7 1.6-2.5 1.5-3.1 1.5-4.2 1.5-3 1.6-.8 1.5-1.2 1.5-2.6 1.5-2 1.5-1.3 1.6-1.3 1.5 .2 1.5 2.1 1.5 1.4 1.6-.1 1.5 1 1.5 2.6 1.5 2.8 1.6 3.3 1.5 4.1 1.5 2.8 1.5 1.2 1.6 2.4 1.5 4 1.5 3.1 1.5 2 1.6 2 1.5 .5 1.5-.8 1.5 .4 1.6 1.4 1.5-.4 1.5-2.3 1.5-2.3 1.5-2.7 1.6-3.4 1.5-2.2 1.5-1.4 1.5-3.3 1.6-4.9 1.5-3.5 1.5-2.6 1.5-2.6 1.6-1.5 1.5-.8 1.5-2.2 1.5-2.7 1.6-.3 1.5 1.5 1.5 1.1 1.5 1.4 1.6 2.1 1.5 1.1 1.5 1.2 1.5 3.7 1.5 4.9 1.6 3.2 1.5 2.5 1.5 2.9 1.5 2.4 1.6 2.1 1.5 3.7 1.5 3.5 1.5 .8 1.6-.4 1.5 .4 1.5 .1 1.5-.5 1.6 0 1.5-.6 1.5-3.3 1.5-3.7 1.6-2 1.5-1.7 1.5-2.8 1.5-2.7 1.5-2.8 1.6-4.3 1.5-3.7 1.5-1.2 1.5-.7 1.6-2.2 1.5-1.9 1.5-1.1 1.5-1.3 1.6-.1 1.5 2.2 1.5 2.3 1.5 .5 1.6 1 1.5 2.6 1.5 2.9 1.5 3.3 1.6 4.5 1.5 3.6 1.5 1.5 1.5 2 1.6 3.7 1.5 3.3 1.5 2.3 1.5 2.2 1.5 1 1.6-.9 1.5-.3 1.5 1.1 1.5-.2 1.6-2.4 1.5-2.8 1.5-3.2 1.5-4.4 1.6-3.4 1.5-2 1.5-3.4 1.5-5.2 1.6-4.5 1.5-3.2 1.5-3 1.5-1.9 1.6-.5 1.5-1.4 1.5-2.4 1.5-.4 1.5 1.8 1.6 1.8 1.5 2.1 1.5 2.9 1.5 2.2 1.6 1.4 1.5 3.6 1.5 5.3 1.5 4.3 1.6 3.1 1.5 3.4 1.5 2.9 1.5 2.1 1.6 3.5 1.5 4.1 1.5 1.8 1.5-.2 1.6 .3 1.5 .1 1.5-.8 1.5-.5 1.5-.8 1.6-3.4 1.5-5.1 1.5-3.7 1.5-3.1 1.6-4.1 1.5-4.1 1.5-4 1.5-5.5 1.6-5.7 1.5-3.1 1.5-1.8 1.5-2.8 1.6-2.7 1.5-1.7 1.5-1.7 1.5-.9 1.6 1.8 1.5 2.8 1.5 1.3 1.5 1.2 1.5 2.8 1.6 3.3 1.5 3.5 1.5 5.1 1.5 4.8 1.6 2.5 1.5 2 1.5 3.7 1.5 3.6 1.6 2.5 1.5 2.3 1.5 1.3 1.5-1.1 1.6-1.5 1.5 0 1.5-.6 1.5-2.8 1.6-3.7 1.5-4 1.5-5.4 1.5-5 1.5-3 1.6-3.6 1.5-5.6 1.5-5.4 1.5-4 1.6-3.8 1.5-2.7 1.5-.6 1.5-1 1.6-2.2 1.5-1 1.5 1.4 1.5 2 1.6 2.2 1.5 3.2 1.5 2.6 1.5 1.5 1.6 2.8 1.5 5.1 1.5 4.5 1.5 3.3 1.6 3.3 1.5 2.7 1.5 1.6 1.5 2.4 1.5 3.8 1.6 1.9 1.5-.5 1.5-.6 1.5-.7 1.6-1.6 1.5-1.2 1.5-.8 1.5-3 1.6-5 1.5-4.2 1.5-3.1 1.5-3.6 1.6-3.5 1.5-3 1.5-4.3 1.5-5.1 1.6-2.9 1.5-.9 1.5-1.3 1.5-1.6 1.5-.6 1.6-.7 1.5-.6 1.5 2 1.5 3.6 1.6 2.5 1.5 1.6 1.5 2.7 1.5 3.3 1.6 3.3 1.5 4.6 1.5 5.2 1.5 2.8 1.6 1.5 1.5 2.8 1.5 3.2 1.5 2.2 1.6 2 1.5 1.5 1.5-.9 1.5-2.1 1.5-.5 1.6-.2 1.5-2.1 1.5-2.9 1.5-3.1 1.6-4.5 1.5-4.5 1.5-2.6 1.5-2.1 1.6-4 1.5-4.4 1.5-3.3 1.5-3 1.6-2.3 1.5-.2 1.5 .1 1.5-1.5 1.6-1.2 1.5 1.2 1.5 2.1 1.5 2.4 1.6 3.6 1.5 3.6 1.5 2 1.5 2.6 1.5 5 1.6 5.2 1.5 4 1.5 3.8 1.5 3.4 1.6 1.9 1.5 2.2 1.5 3.8 1.5 2.9 1.6 .2 1.5-.5 1.5-.4 1.5-1.6 1.6-1.5 1.5-.5 1.5-2.1 1.5-4.7 1.6-4.5 1.5-3.2 1.5-3.5 1.5-3.5 1.5-2.7 1.6-3.5 1.5-5 1.5-3.4 1.5-.9 1.6-.8 1.5-1.1 1.5-.2 1.5-.1 1.6-.2 1.5 1.9 1.5 4.5 1.5 4 1.6 2.8 1.5 3.7 1.5 4.3 1.5 4 1.6 5.3 1.5 6.4 1.5 4.4 1.5 2.3 1.5 2.9 1.6 3.4 1.5 2.4 1.5 2.1 1.5 1.8 1.6-.7 1.5-2.5 1.5-1.5 1.5-.4 1.6-1.9 1.5-2.9 1.5-2.9 1.5-4.3 1.6-5 1.5-3.1 1.5-1.8 1.5-3.3 1.6-4.2 1.5-3.2 1.5-2.9 1.5-2.5 1.5-.3 1.6 .7 1.5-.7 1.5-1 1.5 1.1 1.6 2.6 1.5 2.9 1.5 4.3 1.5 4.8 1.6 3.2 1.5 3 1.5 5.2 1.5 6 1.6 4.9 1.5 4.6 1.5 4.2 1.5 2.3 1.6 1.9 1.5 3.4 1.5 3.2 1.5 .5 1.6-.8 1.5-.9 1.5-2 1.5-2.3 1.5-1 1.6-1.7 1.5-4.4 1.5-5 1.5-3.7 1.6-3.5 1.5-3.6 1.5-2.4 1.5-2.8 1.6-4.4 1.5-3.7 1.5-1 1.5-.2 1.6-.5 1.5 .5 1.5 .9 1.5 .2 1.6 2 1.5 4.8 1.5 5 1.5 3.8 1.5 4.2 1.6 4.7 1.5 4.2 1.5 5.1 1.5 6.5 1.6 5.3 1.5 2.6 1.5 2.5 1.5 3.1 1.6 2.1 1.5 1.7 1.5 1.7 1.5-.4 1.6-2.9 1.5-2.6 1.5-1.4 1.5-2.4 1.6-3.5 1.5-3.5 1.5-4.7" stroke="#e8191b" stroke-width="2.1"/>
<path d="M1002.4 414.1l1.5-.2 1.5-.4 1.6-.3 1.5 .1 1.5 .6 1.5 1.9 1.6 2.2 1.5 1.5 1.5 .2 1.5-.4 1.6-.4 1.5 .1 1.5 .7 1.5 1.1 1.6 1.2 1.5 1.2 1.5 1 1.5 .9 1.6 1 1.5 1 1.5 .9 1.5 .9 1.5 .9 1.6 .9 1.5 .8 1.5 .7 1.5 .5 1.6 0 1.5 0 1.5 0 1.5-.8 1.6-.9 1.5-.9 1.5-1 1.5-1 1.6-1.1 1.5-1.1 1.5-1.1 1.5-1 1.6-1.2 1.5-1.4 1.5-1.5 1.5-1.5 1.5-1.4 1.6-1.1 1.5-.8 1.5-.4 1.5 .4 1.6 .9 1.5 1.4 1.5 1.6 1.5 1.7 1.6 2 1.5 2.6 1.5 2.7 1.5 2.5 1.6 1.9 1.5 1.2 1.5 .6 1.5 .3 1.6 0 1.5-.2 1.5-.3 1.5-.4 1.6-.8 1.5-1 1.5-1.1 1.5-1.2 1.5-1.3 1.6-1.3 1.5-1.5 1.5-1.8 1.5-2.2 1.6-2.6 1.5-2.7 1.5-2.5 1.5-2 1.6-1.2 1.5-.7 1.5-.4 1.5-.2 1.6 0 1.5 .1 1.5 .3 1.5 .4 1.6 .4 1.5 .5 1.5 .6 1.5 1.4 1.5 2.3 1.6 2.1 1.5 1.2 1.5 .8 1.5 .5 1.6 .5 1.5 .5 1.5 .5 1.5 .5 1.6 .3 1.5 .1 1.5-.1 1.5-.3 1.6-.6 1.5-.9 1.5-1.5 1.5-2 1.6-1.9 1.5-1.5 1.5-1.2 1.5-1.3 1.5-1.3 1.6-1.3 1.5-1.3 1.5-1.2 1.5-1.1 1.6-.8 1.5-.6 1.5-.3 1.5 0 1.6 .5 1.5 .7 1.5 1 1.5 1.1 1.6 1.4 1.5 1.5 1.5 1.6 1.5 1.7 1.6 1.7 1.5 1.7 1.5 1.6 1.5 1.6 1.6 1.4 1.5 1.3 1.5 1.1 1.5 .9 1.5 .6 1.6 .2 1.5 0 1.5-.4 1.5-.8 1.6-1 1.5-1.3 1.5-1.5 1.5-1.6 1.6-1.7 1.5-1.7 1.5-1.8 1.5-1.8 1.6-1.6 1.5-1.6 1.5-1.3 1.5-1.2 1.6-.9 1.5-.5 1.5-.3 1.5 .2 1.5 .5 1.6 .8 1.5 1.2 1.5 1.3 1.5 1.6 1.6 1.7 1.5 1.8 1.5 1.9 1.5 1.9 1.6 2 1.5 1.8 1.5 1.8 1.5 1.6 1.6 1.4 1.5 1.2 1.5 .9 1.5 .7 1.6 .2 1.5-.1 1.5-.6 1.5-1 1.5-1.4 1.6-1.7 1.5-2 1.5-2.1 1.5-2.4 1.6-2.4 1.5-2.5 1.5-2.5 1.5-2.4 1.6-2.3 1.5-2.1 1.5-1.9 1.5-1.7 1.6-1.3 1.5-.9 1.5-.5 1.5 .1 1.6 .5 1.5 1 1.5 1.4 1.5 1.7 1.5 1.9 1.6 2.2 1.5 2.3 1.5 2.5 1.5 2.4 1.6 2.4 1.5 2.3 1.5 2.2 1.5 1.9 1.6 1.7 1.5 1.4 1.5 .9 1.5 .5 1.6 0 1.5-.5 1.5-.9 1.5-1.3 1.6-1.5 1.5-1.8 1.5-2.1 1.5-2.1 1.5-2.2 1.6-2.3 1.5-2.2 1.5-2.1 1.5-2 1.6-1.8 1.5-1.5 1.5-1.2 1.5-.9 1.6-.4 1.5 0 1.5 .5 1.5 .9 1.6 1.2 1.5 1.6 1.5 1.7 1.5 2 1.6 2 1.5 2.2 1.5 2.1 1.5 2.1 1.6 2.1 1.5 1.8 1.5 1.7 1.5 1.4 1.5 1.1 1.6 .7 1.5 .3 1.5-.2 1.5-.6 1.6-.9 1.5-1.3 1.5-1.6 1.5-1.7 1.6-2 1.5-2.1 1.5-2.2 1.5-2.2 1.6-2.2 1.5-2.2 1.5-2.1 1.5-1.9 1.6-1.8 1.5-1.5 1.5-1.3 1.5-.9 1.5-.5 1.6-.2 1.5 .4 1.5 .7 1.5 1.2 1.6 1.5 1.5 1.7 1.5 2 1.5 2.1 1.6 2.2 1.5 2.3 1.5 2.2 1.5 2.2 1.6 2 1.5 1.9 1.5 1.6 1.5 1.3 1.6 1 1.5 .5 1.5 .1 1.5-.4 1.5-.7 1.6-1.1 1.5-1.4 1.5-1.7 1.5-1.8 1.6-2 1.5-2.1 1.5-2.2 1.5-2.1 1.6-2.1 1.5-2 1.5-1.9 1.5-1.6 1.6-1.5 1.5-1.1 1.5-.8 1.5-.3 1.6 0 1.5 .5 1.5 .8 1.5 1.1 1.6 1.5 1.5 1.6 1.5 1.8 1.5 2 1.5 2 1.6 2.1 1.5 2.1 1.5 2 1.5 1.9 1.6 1.7 1.5 1.6 1.5 1.3 1.5 1 1.6 .6 1.5 .3 1.5-.2 1.5-.6 1.6-.9 1.5-1.2 1.5-1.5 1.5-1.6 1.6-1.8 1.5-1.9 1.5-2 1.5-2 1.5-2 1.6-1.9 1.5-1.7 1.5-1.6 1.5-1.4 1.6-1 1.5-.8 1.5-.4 1.5 0 1.6 .2 1.5 .6 1.5 .8 1.5 1 1.6 1.2 1.5 1.3 1.5 1.4 1.5 1.4 1.6 1.5 1.5 1.4 1.5 1.4 1.5 1.3 1.5 1.2 1.6 .9 1.5 .8 1.5 .5 1.5 .2 1.6-.1 1.5-.3 1.5-.6 1.5-.8 1.6-1 1.5-1.1 1.5-1.2 1.5-1.3 1.6-1.3 1.5-1.2 1.5-1.3 1.5-1.2 1.6-1 1.5-.9 1.5-.8 1.5-.5 1.5-.3 1.6 0 1.5 .4 1.5 .7 1.5 1 1.6 1.4 1.5 1.6 1.5 1.8 1.5 2 1.6 2.1 1.5 2.2 1.5 2.2 1.5 2.2 1.6 2.1 1.5 2.1 1.5 1.9 1.5 1.7 1.6 1.5 1.5 1.2 1.5 .9 1.5 .5 1.6 .1 1.5-.3 1.5-.7 1.5-1 1.5-1.3 1.6-1.6 1.5-1.7 1.5-1.8 1.5-1.9 1.6-1.9 1.5-1.9 1.5-1.8 1.5-1.7 1.6-1.5 1.5-1.2 1.5-1 1.5-.6 1.6-.2 1.5 .3 1.5 .6 1.5 1 1.6 1.3 1.5 1.6 1.5 1.8 1.5 1.9 1.5 2.1 1.6 2.2 1.5 2.2 1.5 2.3 1.5 2.1 1.6 2.1 1.5 1.9 1.5 1.8 1.5 1.5 1.6 1.3 1.5 .9 1.5 .6 1.5 .3 1.6 .1 1.5 0 1.5-.1 1.5-.2 1.6-.2 1.5 0 1.5 0" stroke="#0b800b" stroke-width="3.5" stroke-dasharray="3.5 4.3"/>
<path d="M1002.4 414.7l1.5-2.4 1.5-.5 1.6-1.4 1.5-2 1.5 .1 1.5 1.2 1.6-.6 1.5-1.6 1.5-1.1 1.5-1.4 1.6-1.5 1.5 .9 1.5 2.6 1.5 2.3 1.6 2.3 1.5 2.7 1.5 1.9 1.5 1.5 1.6 3.6 1.5 4.8 1.5 2.9 1.5 1.8 1.5 2.1 1.6 1.4 1.5 .9 1.5 2.2 1.5 2.1 1.6-.6 1.5-1.9 1.5-.9 1.5-.8 1.6-1.4 1.5-.8 1.5-1.1 1.5-3.4 1.6-3.9 1.5-1.9 1.5-1.1 1.5-2.1 1.6-1.8 1.5-1.7 1.5-3 1.5-2.4 1.5 .3 1.6 .9 1.5-.4 1.5-.4 1.5 .6 1.6 .4 1.5 1.4 1.5 3.6 1.5 3.6 1.6 1.5 1.5 1.6 1.5 3 1.5 3 1.6 2.9 1.5 3.9 1.5 2.8 1.5 .4 1.6 .5 1.5 2.1 1.5 1.6 1.5 .4 1.6 .1 1.5-.9 1.5-2.7 1.5-2.2 1.5-.5 1.6-1.2 1.5-3.1 1.5-3.1 1.5-3.2 1.6-3.8 1.5-2.6 1.5-.8 1.5-1.8 1.6-3.4 1.5-2.6 1.5-1.2 1.5-.9 1.6 .1 1.5 1.4 1.5 .5 1.5-.9 1.6 .6 1.5 2.7 1.5 2.6 1.5 2.5 1.5 2.9 1.6 2 1.5 .9 1.5 2.5 1.5 4.1 1.6 2.9 1.5 1.3 1.5 1.4 1.5 .8 1.6-.1 1.5 1.1 1.5 1.9 1.5-.4 1.6-2.2 1.5-1.7 1.5-1.4 1.5-2 1.6-1.3 1.5-1 1.5-3.1 1.5-4.4 1.5-2.7 1.6-1.4 1.5-2 1.5-1.8 1.5-1.4 1.6-2.6 1.5-2.8 1.5-.3 1.5 1.3 1.6 .2 1.5-.1 1.5 .7 1.5 .6 1.6 .9 1.5 3.3 1.5 4 1.5 2.1 1.6 1.4 1.5 2.5 1.5 2.8 1.5 2.6 1.6 3.7 1.5 3.3 1.5 .7 1.5 0 1.5 1.4 1.6 1.6 1.5 .5 1.5 .2 1.5-.8 1.6-3.1 1.5-3.5 1.5-1.8 1.5-1.8 1.6-3.8 1.5-4.2 1.5-4.1 1.5-4.9 1.6-4.2 1.5-1.8 1.5-1.8 1.5-3.5 1.6-3 1.5-1.4 1.5-.9 1.5 .2 1.5 2 1.6 1.9 1.5 .1 1.5 1.1 1.5 3.4 1.6 3.7 1.5 3.7 1.5 4.3 1.5 3.6 1.6 2 1.5 2.9 1.5 4.9 1.5 4.3 1.6 2.5 1.5 2.2 1.5 1.5 1.5 .2 1.6 .8 1.5 2 1.5 .2 1.5-2.4 1.5-2.7 1.6-2.6 1.5-3.5 1.5-3.1 1.5-2.5 1.6-4.2 1.5-6.3 1.5-5.2 1.5-3.6 1.6-3.8 1.5-3.6 1.5-2.7 1.5-3.5 1.6-4.2 1.5-1.8 1.5 .5 1.5 .4 1.6 .1 1.5 1 1.5 1.1 1.5 1.2 1.5 3.4 1.6 5.1 1.5 3.8 1.5 2.5 1.5 3.4 1.6 3.7 1.5 3.2 1.5 4.3 1.5 4.4 1.6 1.8 1.5 .1 1.5 1 1.5 1.3 1.6 0 1.5-.4 1.5-1.1 1.5-3.6 1.6-4.8 1.5-3.3 1.5-2.7 1.5-4.3 1.5-4.9 1.6-4.8 1.5-5.6 1.5-5.5 1.5-3 1.6-1.9 1.5-3.3 1.5-3.5 1.5-1.8 1.6-1.1 1.5-.2 1.5 1.9 1.5 2.5 1.6 .7 1.5 .8 1.5 2.9 1.5 3.8 1.6 3.6 1.5 4.4 1.5 4.1 1.5 2.1 1.6 2.1 1.5 4.2 1.5 4.1 1.5 2.4 1.5 1.9 1.6 1.3 1.5-.5 1.5-.4 1.5 1.1 1.6 .2 1.5-2.5 1.5-3.1 1.5-3 1.6-3.7 1.5-3.4 1.5-2.2 1.5-3.2 1.6-5.4 1.5-5 1.5-3.3 1.5-2.9 1.6-2.7 1.5-1.5 1.5-2 1.5-3.2 1.5-1.6 1.6 1.2 1.5 1.4 1.5 1.1 1.5 1.8 1.6 1.8 1.5 1.3 1.5 3 1.5 5.2 1.6 4.4 1.5 2.7 1.5 3.1 1.5 3.3 1.6 2.7 1.5 3.5 1.5 4.3 1.5 2.2 1.6-.1 1.5 .2 1.5 .9 1.5 0 1.5-.2 1.6-.1 1.5-2 1.5-3.8 1.5-2.4 1.6-1 1.5-2 1.5-2.8 1.5-2.5 1.6-3.4 1.5-3.8 1.5-1.8 1.5-.1 1.6-1.4 1.5-2.2 1.5-1.2 1.5-.7 1.6-.4 1.5 1.5 1.5 2.8 1.5 1.1 1.6 .3 1.5 2 1.5 3.1 1.5 3 1.5 3.8 1.6 3.9 1.5 2 1.5 1.2 1.5 3 1.6 3.8 1.5 2.4 1.5 1.8 1.5 1.5 1.6-.3 1.5-.8 1.5 .8 1.5 1 1.6-1.5 1.5-2.6 1.5-2.4 1.5-3.1 1.6-3.3 1.5-1.6 1.5-1.9 1.5-4.1 1.5-4.6 1.6-2.9 1.5-2.3 1.5-2.2 1.5-.9 1.6-.8 1.5-2.5 1.5-1.7 1.5 1 1.6 2 1.5 1.6 1.5 2.4 1.5 2.7 1.6 1.8 1.5 2.8 1.5 5.4 1.5 5.3 1.6 3.6 1.5 3.3 1.5 3.6 1.5 2.8 1.5 3.1 1.6 4.3 1.5 2.9 1.5 .1 1.5-.3 1.6 .3 1.5-.4 1.5-.8 1.5-.5 1.6-2.2 1.5-4.5 1.5-4 1.5-2.3 1.6-2.8 1.5-3.6 1.5-3.3 1.5-3.9 1.6-4.9 1.5-3.2 1.5-.8 1.5-1.2 1.5-2.2 1.6-1.4 1.5-.7 1.5-.4 1.5 1.6 1.6 3.8 1.5 3 1.5 1.8 1.5 3.1 1.6 4.6 1.5 4.6 1.5 5.3 1.5 6.1 1.6 4.3 1.5 2.6 1.5 3.9 1.5 4.8 1.6 3.6 1.5 2.6 1.5 2.1 1.5 .1 1.6-1.4 1.5-.2 1.5 .6 1.5-1.5 1.5-3.1 1.6-3.1 1.5-3.9 1.5-4.3 1.5-2.8 1.6-2.1 1.5-4.1 1.5-5.1 1.5-3.7 1.6-2.7 1.5-2.6 1.5-.9 1.5-.3 1.6-1.6 1.5-1.8 1.5 .9 1.5 2.4 1.6 2.3 1.5 3 1.5 3.5 1.5 2.3 1.5 2.6 1.6 5 1.5 5.8 1.5 4.2 1.5 3.5 1.6 3.6 1.5 2.6 1.5 2.5 1.5 3.9 1.6 3.3 1.5 .3 1.5-.7 1.5-.3 1.6-.7 1.5-1.3 1.5-.7 1.5-1.6 1.6-4.2 1.5-4.5 1.5-2.8" stroke="#1f77b4" stroke-width="2.6" stroke-dasharray="10 3.5 2.4 3.5"/>
<path d="M1002.4 416.5l1.5-2.1 1.5-3.7 1.6-2.8 1.5 .1 1.5 1.4 1.5 1 1.6 0 1.5-2.1 1.5-3.9 1.5-1.7 1.6 1.7 1.5 2.1 1.5 1.1 1.5 1.6 1.6 1.9 1.5 1.4 1.5 2.5 1.5 4.7 1.6 4 1.5 1.9 1.5 1.9 1.5 2.6 1.5 2 1.6 2.3 1.5 3.1 1.5 1.4 1.5-1.2 1.6-.9 1.5 .3 1.5-.2 1.5-.9 1.6-.6 1.5-2.1 1.5-3.8 1.5-2.6 1.6-.8 1.5-1.5 1.5-2.6 1.5-2.3 1.6-2.6 1.5-3.1 1.5-1.4 1.5 .6 1.5-.4 1.6-1.8 1.5-.8 1.5 .3 1.5 .4 1.6 2.1 1.5 3.4 1.5 2.1 1.5 .8 1.6 2.4 1.5 3.9 1.5 3.5 1.5 3.6 1.6 3.9 1.5 2.1 1.5 .8 1.5 2.4 1.6 3.4 1.5 1.8 1.5 .5 1.5 .3 1.6-1.1 1.5-2 1.5-.4 1.5 0 1.5-2.3 1.6-3.7 1.5-3.1 1.5-3.3 1.5-3.4 1.6-2 1.5-1.7 1.5-3.7 1.5-4.3 1.6-2.3 1.5-1.3 1.5-1.2 1.5-.3 1.6 .2 1.5-1.2 1.5-1 1.5 1.6 1.6 2.7 1.5 1.8 1.5 1.9 1.5 2.2 1.5 1.3 1.6 1.7 1.5 3.9 1.5 4 1.5 1.9 1.6 1.2 1.5 1.8 1.5 1.2 1.5 1.2 1.6 2.4 1.5 1.5 1.5-1.3 1.5-1.8 1.6-.5 1.5-.7 1.5-1.3 1.5-.9 1.6-1.9 1.5-4 1.5-3.5 1.5-1.5 1.5-1.4 1.6-2.5 1.5-2.3 1.5-2.4 1.5-3.3 1.6-2 1.5 .5 1.5 .2 1.5-1.2 1.6-.7 1.5 .2 1.5 .4 1.5 1.6 1.6 3.4 1.5 2.6 1.5 .7 1.5 1.7 1.6 3.2 1.5 3.1 1.5 3.1 1.5 3.8 1.6 2.2 1.5 .4 1.5 1.4 1.5 2.9 1.5 1.9 1.6 .6 1.5 .4 1.5-.9 1.5-2.5 1.6-1.6 1.5-.4 1.5-2.3 1.5-4.2 1.6-4.1 1.5-4.1 1.5-4.5 1.5-3.2 1.6-2 1.5-3.6 1.5-4.7 1.5-3 1.6-1.5 1.5-1.2 1.5-.1 1.5 1.1 1.5-.2 1.6-.6 1.5 1.8 1.5 3.6 1.5 3.2 1.6 3.1 1.5 3.6 1.5 2.6 1.5 2.4 1.6 4.5 1.5 5.4 1.5 3.5 1.5 2.3 1.6 2.5 1.5 1.9 1.5 1.4 1.5 2.6 1.6 2.3 1.5-.5 1.5-2.1 1.5-1.4 1.5-1.5 1.6-2.5 1.5-2.2 1.5-2.8 1.5-5.4 1.6-5.8 1.5-3.9 1.5-3.4 1.5-4.2 1.6-4.1 1.5-3.8 1.5-4.8 1.5-4 1.6-1.1 1.5-.2 1.5-1.4 1.5-1 1.6 .2 1.5 .4 1.5 1.5 1.5 3.9 1.5 4 1.6 2.1 1.5 2.4 1.5 3.9 1.5 4 1.6 4 1.5 4.8 1.5 3.7 1.5 1.3 1.6 1.2 1.5 2.8 1.5 2.1 1.5 .6 1.6 .2 1.5-1.2 1.5-3.4 1.5-3 1.6-1.6 1.5-2.7 1.5-4.8 1.5-5 1.5-5 1.6-5.7 1.5-4.4 1.5-2.7 1.5-3.5 1.6-5 1.5-3.9 1.5-2.1 1.5-1.6 1.6-.3 1.5 1.3 1.5 .5 1.5-.6 1.6 1.2 1.5 3.5 1.5 3.3 1.5 3.3 1.6 3.8 1.5 3 1.5 2 1.5 3.7 1.6 5.2 1.5 3.8 1.5 2.2 1.5 2.1 1.5 1.5 1.6 .5 1.5 1.5 1.5 2 1.5-.5 1.6-2.6 1.5-2.2 1.5-2 1.5-2.9 1.6-2.4 1.5-2.3 1.5-4.5 1.5-5.7 1.6-4 1.5-2.8 1.5-3.3 1.5-3.1 1.6-2.6 1.5-3.6 1.5-3.4 1.5-.8 1.5 1 1.6 0 1.5-.1 1.5 .9 1.5 1 1.6 1.5 1.5 3.9 1.5 4.8 1.5 2.8 1.6 2.2 1.5 3.5 1.5 3.7 1.5 3.6 1.6 4.4 1.5 4 1.5 1.3 1.5 .5 1.6 1.9 1.5 1.9 1.5 .5 1.5 .3 1.5-.5 1.6-2.5 1.5-2.7 1.5-.7 1.5-.8 1.6-2.6 1.5-3.1 1.5-2.8 1.5-3.7 1.6-3 1.5-.9 1.5-1 1.5-3 1.6-2.7 1.5-1.2 1.5-.9 1.5-.2 1.6 1.5 1.5 1.2 1.5-.6 1.5 .4 1.6 2.7 1.5 3.1 1.5 2.8 1.5 3.5 1.5 2.8 1.6 1.3 1.5 2.4 1.5 4.4 1.5 3.7 1.6 2.1 1.5 1.9 1.5 1.4 1.5 .2 1.6 .9 1.5 2.2 1.5 .5 1.5-1.9 1.6-2.1 1.5-1.7 1.5-2.4 1.5-2 1.6-1.4 1.5-3.1 1.5-4.9 1.5-3.9 1.5-2.2 1.6-2.5 1.5-2.4 1.5-1.6 1.5-2.6 1.6-3.2 1.5-.9 1.5 1.2 1.5 .8 1.6 .5 1.5 1.4 1.5 1.6 1.5 1.6 1.6 3.8 1.5 5.5 1.5 4 1.5 2.7 1.6 3.7 1.5 3.9 1.5 3.6 1.5 4.4 1.5 4.6 1.6 2 1.5 .3 1.5 1.3 1.5 1.6 1.6 .3 1.5 0 1.5-.6 1.5-2.8 1.6-3.9 1.5-2.2 1.5-1.5 1.5-3.2 1.6-3.9 1.5-3.8 1.5-4.6 1.5-4.4 1.6-2.1 1.5-1.3 1.5-3 1.5-3.2 1.5-1.8 1.6-1.1 1.5-.5 1.5 1.7 1.5 2.3 1.6 .9 1.5 1.1 1.5 3.6 1.5 4.5 1.6 4.5 1.5 5.3 1.5 5.1 1.5 3.3 1.6 3.5 1.5 5.5 1.5 5.4 1.5 3.7 1.6 2.9 1.5 2.3 1.5 .5 1.5 .4 1.6 1.7 1.5 .7 1.5-2 1.5-2.7 1.5-2.5 1.6-3.3 1.5-3.2 1.5-2 1.5-3.1 1.6-5.3 1.5-4.9 1.5-3.1 1.5-2.9 1.6-2.7 1.5-1.5 1.5-2 1.5-3.2 1.6-1.4 1.5 1.4 1.5 1.7 1.5 1.6 1.6 2.6 1.5 2.8 1.5 2.6 1.5 4.4 1.5 6.8 1.6 5.9 1.5 4.2 1.5 4.7 1.5 4.9 1.6 4.3 1.5 4.9 1.5 5.4 1.5 3.2 1.6 .6 1.5 .8 1.5 1.3 1.5 0 1.6-.5 1.5-.9 1.5-3.1 1.5-4.9 1.6-3.9 1.5-2.6 1.5-3.9" stroke="#000000" stroke-width="2.2" stroke-dasharray="6.5 2.8"/>
</g>
<path d="M1002.4 354.4V491.4H1672.9V354.4" fill="none" stroke="#5e5e5e" stroke-width="1.8"/>
<path d="M1001.5 354.4H1673.8" stroke="#111" stroke-width="1.4"/>
<path d="M1002.4 491.4v3.2M1104 491.4v3.2M1205.6 491.4v3.2M1307.2 491.4v3.2M1408.8 491.4v3.2M1510.4 491.4v3.2M1611.9 491.4v3.2M1002.4 462h-3.2M1002.4 422.9h-3.2M1002.4 383.8h-3.2" stroke="#555" stroke-width="1"/>
<g font-family='"DejaVu Sans", "Liberation Sans", sans-serif' font-size="19.6" fill="#000" stroke="#000" stroke-width="0.25">
<text transform="translate(996.8 469.1) scale(0.97 1)" text-anchor="end">−8</text>
<text transform="translate(996.8 430) scale(0.97 1)" text-anchor="end">0</text>
<text transform="translate(996.8 390.9) scale(0.97 1)" text-anchor="end">8</text>
<text transform="translate(1002.4 510.9) scale(0.97 1)" text-anchor="middle">0</text>
<text transform="translate(1104 510.9) scale(0.97 1)" text-anchor="middle">100</text>
<text transform="translate(1205.6 510.9) scale(0.97 1)" text-anchor="middle">200</text>
<text transform="translate(1307.2 510.9) scale(0.97 1)" text-anchor="middle">300</text>
<text transform="translate(1408.8 510.9) scale(0.97 1)" text-anchor="middle">400</text>
<text transform="translate(1510.4 510.9) scale(0.97 1)" text-anchor="middle">500</text>
<text transform="translate(1611.9 510.9) scale(0.97 1)" text-anchor="middle">600</text>
</g>
<text x="1367.3" y="486.9" font-family='"DejaVu Sans", "Liberation Sans", sans-serif' font-weight="bold" font-size="19" textLength="27.9" lengthAdjust="spacingAndGlyphs">X3</text>
<path d="M1106.4 522.7V659M1208 522.7V659M1309.5 522.7V659M1411.1 522.7V659M1512.7 522.7V659M1614.3 522.7V659M1004.8 629.8H1675.2M1004.8 590.9H1675.2M1004.8 551.9H1675.2" stroke="#e2e2e2" stroke-width="1" fill="none"/>
<g clip-path="url(#cj)" fill="none" stroke-linejoin="round">
<path d="M1004.8 585.6l1.5-3.2 1.5-2.6 1.6-2.8 1.5-1.8 1.5-1.8 1.5-3.5 1.6-3.2 1.5-.6 1.5 .4 1.5-.3 1.6 0 1.5 .5 1.5-.3 1.5 .5 1.6 3.1 1.5 3.6 1.5 1.9 1.5 1.8 1.5 2.8 1.6 2.4 1.5 3.1 1.5 4.7 1.5 4.1 1.6 1.8 1.5 1.5 1.5 2.9 1.5 2.7 1.6 2.3 1.5 2.7 1.5 1.5 1.5-.8 1.6-.7 1.5 1 1.5 .5 1.5-1 1.6-1.1 1.5-2 1.5-3.5 1.5-2.8 1.5-.9 1.6-1.8 1.5-3.7 1.5-3.6 1.5-3.2 1.6-3.7 1.5-2.6 1.5-.9 1.5-2 1.6-3.7 1.5-2.8 1.5-1.1 1.5-.9 1.6-.2 1.5 .9 1.5-.1 1.5-1.2 1.5 .5 1.6 2.7 1.5 2.4 1.5 2.1 1.5 2.7 1.6 2 1.5 1.4 1.5 3.2 1.5 5 1.6 3.7 1.5 2.3 1.5 2.7 1.5 2.7 1.6 2.1 1.5 3.4 1.5 4.1 1.5 1.8 1.5 .2 1.6 .8 1.5 1.3 1.5 .6 1.5 .9 1.6 .7 1.5-1.6 1.5-3.1 1.5-1.6 1.6-.8 1.5-2.1 1.5-2.6 1.5-2.7 1.6-4.2 1.5-4.7 1.5-2.7 1.5-1.8 1.6-3.4 1.5-4.2 1.5-3.4 1.5-3.7 1.5-3.3 1.6-1.2 1.5-.6 1.5-2.4 1.5-2.8 1.6-1 1.5-.2 1.5 .1 1.5 1.4 1.6 1.5 1.5-.4 1.5-.3 1.5 2.1 1.6 2.8 1.5 2.2 1.5 2.5 1.5 2.4 1.5 1.2 1.6 1.6 1.5 4.1 1.5 4.2 1.5 2.5 1.6 2.3 1.5 2.6 1.5 1.8 1.5 2.4 1.6 4.2 1.5 3.4 1.5 1 1.5 .8 1.6 1.8 1.5 1.5 1.5 1.3 1.5 2.2 1.5 1 1.6-1.5 1.5-1.1 1.5 .5 1.5 .1 1.6-.8 1.5-.8 1.5-1.7 1.5-3.4 1.6-2.5 1.5-.6 1.5-1.4 1.5-3.1 1.6-3.1 1.5-3.1 1.5-3.8 1.5-2.6 1.6-1 1.5-2.3 1.5-4.1 1.5-3.4 1.5-2.3 1.6-2.4 1.5-1.6 1.5-.6 1.5-1.8 1.6-3.3 1.5-1.7 1.5 .2 1.5 0 1.6 0 1.5 .6 1.5-.4 1.5-1.1 1.6 .9 1.5 2.7 1.5 1.7 1.5 .9 1.5 1.4 1.6 1.2 1.5 1 1.5 2.9 1.5 4.1 1.6 2.4 1.5 1 1.5 2.1 1.5 2.7 1.6 2.5 1.5 3.6 1.5 3.9 1.5 1.8 1.6 .8 1.5 2.4 1.5 3.3 1.5 2.6 1.5 2.5 1.6 2.4 1.5 .6 1.5 .1 1.5 2 1.6 2.8 1.5 1 1.5 .2 1.5 .3 1.6-.6 1.5-.8 1.5 1 1.5 1.1 1.6-1.4 1.5-2.2 1.5-1.4 1.5-1.4 1.6-1.7 1.5-.6 1.5-1 1.5-3.4 1.5-3.8 1.6-2.1 1.5-1.7 1.5-2.5 1.5-2.1 1.6-2.6 1.5-4.3 1.5-4 1.5-1.7 1.6-1.5 1.5-2.9 1.5-3 1.5-2.9 1.6-3.6 1.5-2.8 1.5-.6 1.5-.9 1.5-2.9 1.6-2.7 1.5-1.6 1.5-1.6 1.5-.9 1.6 .6 1.5-.1 1.5-2 1.5-1.3 1.6 .7 1.5 .9 1.5 .8 1.5 1.4 1.6 .8 1.5-.6 1.5 .7 1.5 3 1.5 2.6 1.6 1.6 1.5 1.9 1.5 1.8 1.5 1 1.6 2.6 1.5 4.4 1.5 3.3 1.5 1.5 1.6 2.1 1.5 2.8 1.5 2.5 1.5 3.4 1.6 4.5 1.5 2.7 1.5 1.1 1.5 2.1 1.6 3.4 1.5 3 1.5 2.8 1.5 3.2 1.5 1.6 1.6 .3 1.5 1.9 1.5 3.3 1.5 2.1 1.6 1 1.5 1.2 1.5 .3 1.5-.4 1.6 1.2 1.5 2.2 1.5 .2 1.5-1.3 1.6-.6 1.5-.7 1.5-.9 1.5 .2 1.5 .4 1.6-1.8 1.5-3 1.5-1.6 1.5-.9 1.6-1.5 1.5-1.3 1.5-1.3 1.5-3.3 1.6-3.9 1.5-1.7 1.5-1 1.5-2.3 1.6-2.8 1.5-2.6 1.5-3.7 1.5-3.7 1.5-1.4 1.6-1.1 1.5-3.1 1.5-3.7 1.5-2.8 1.6-3 1.5-2.7 1.5-1 1.5-1.2 1.6-3.5 1.5-3.6 1.5-1.8 1.5-1.3 1.6-1.6 1.5-.8 1.5-1.1 1.5-2.9 1.6-2.4 1.5 .1 1.5 .3 1.5-.7 1.5-.5 1.6-.4 1.5-1.5 1.5-.4 1.5 1.9 1.6 1.6 1.5-.2 1.5 0 1.5 .8 1.6 .5 1.5 1.4 1.5 3 1.5 2.2 1.6 .2 1.5 .8 1.5 2.4 1.5 2.4 1.5 2.5 1.6 3.3 1.5 2.3 1.5 .6 1.5 1.8 1.6 3.9 1.5 3.5 1.5 2.5 1.5 2.9 1.6 2.2 1.5 1.3 1.5 2.7 1.5 4.5 1.6 3.3 1.5 1.7 1.5 2.1 1.5 2.2 1.5 1.8 1.6 3 1.5 4 1.5 2.2 1.5 .4 1.6 1.3 1.5 2.3 1.5 1.8 1.5 2.2 1.6 2.4 1.5 .6 1.5-.8 1.5 .8 1.6 2.1 1.5 1.1 1.5 .3 1.5 .5 1.6-.8 1.5-1.5 1.5 .2 1.5 1.3 1.5-.5 1.6-1.8 1.5-1.4 1.5-1.6 1.5-2 1.6-.5 1.5-.1 1.5-2.4 1.5-3.6 1.6-2.4 1.5-1.8 1.5-2.3 1.5-1.6 1.6-1.7 1.5-3.8 1.5-4.3 1.5-2.4 1.5-1.6 1.6-2.6 1.5-2.8 1.5-2.8 1.5-4.1 1.6-4 1.5-1.7 1.5-1.2 1.5-3 1.6-3.5 1.5-2.9 1.5-3.1 1.5-2.8 1.6-.9 1.5-1 1.5-3.1 1.5-3.3 1.5-1.7 1.6-1.4 1.5-1.4 1.5-.2 1.5-.6 1.6-2.6 1.5-2.1 1.5 .2 1.5 .6 1.6-.2 1.5 .2 1.5 0 1.5-1.2 1.6-.3 1.5 2.1 1.5 1.9 1.5 .3 1.6 .5 1.5 .9 1.5 .5 1.5 1.5 1.5 3.3 1.6 2.4 1.5 .5 1.5 .9 1.5 2.3 1.6 2.2 1.5 2.6 1.5 3.6 1.5 2.3 1.6 .7 1.5 1.7 1.5 3.6 1.5 3.3 1.6 2.7 1.5 3.1 1.5 2.1" stroke="#e8191b" stroke-width="2.1"/>
<path d="M1004.8 582.1l1.5-.4 1.5-.5 1.6-.6 1.5-.5 1.5-.5 1.5-.5 1.6-.4 1.5-.3 1.5-.2 1.5 0 1.6 .2 1.5 .3 1.5 .6 1.5 .6 1.6 .7 1.5 .7 1.5 .6 1.5 .6 1.5 .4 1.6 .2 1.5 .1 1.5 .1 1.5 .1 1.6 .1 1.5 .1 1.5 0 1.5 .1 1.6 0 1.5 0 1.5 0 1.5 0 1.6 0 1.5 0 1.5 0 1.5-.1 1.6 0 1.5 0 1.5 0 1.5-.1 1.5 0 1.6 0 1.5 0 1.5 0 1.5 0 1.6 0 1.5 0 1.5 .1 1.5 0 1.6 0 1.5 .1 1.5 .1 1.5 0 1.6 .1 1.5 0 1.5 .1 1.5 .1 1.5 .1 1.6 0 1.5 .1 1.5 .1 1.5 0 1.6 .1 1.5 .1 1.5 0 1.5 .1 1.6 .1 1.5 0 1.5 .1 1.5 0 1.6 0 1.5 .1 1.5 0 1.5 0 1.5 0 1.6 0 1.5 0 1.5 0 1.5 0 1.6 0 1.5-.1 1.5 0 1.5 0 1.6-.1 1.5 0 1.5 0 1.5-.1 1.6 0 1.5-.1 1.5 0 1.5 0 1.6-.1 1.5 0 1.5 0 1.5 0 1.5 0 1.6 0 1.5 0 1.5 0 1.5 0 1.6 0 1.5 .1 1.5 0 1.5 .1 1.6 .1 1.5 .1 1.5 .2 1.5 .1 1.6 .1 1.5 .2 1.5 .2 1.5 .1 1.5 .2 1.6 .2 1.5 .1 1.5 .2 1.5 .1 1.6 .2 1.5 .1 1.5 .1 1.5 .1 1.6 .1 1.5 .1 1.5 .1 1.5 0 1.6 0 1.5 0 1.5-.1 1.5 0 1.5-.2 1.6-.1 1.5-.2 1.5-.2 1.5-.3 1.6-.3 1.5-.3 1.5-.4 1.5-.4 1.6-.5 1.5-.4 1.5-.5 1.5-.5 1.6-.5 1.5-.6 1.5-.5 1.5-.6 1.6-.5 1.5-.6 1.5-.5 1.5-.5 1.5-.5 1.6-.5 1.5-.5 1.5-.5 1.5-.4 1.6-.4 1.5-.4 1.5-.3 1.5-.3 1.6-.3 1.5-.2 1.5-.2 1.5-.1 1.6 0 1.5-.1 1.5 .1 1.5 0 1.5 .1 1.6 .1 1.5 .2 1.5 .1 1.5 .2 1.6 .3 1.5 .2 1.5 .2 1.5 .3 1.6 .2 1.5 .3 1.5 .2 1.5 .3 1.6 .2 1.5 .2 1.5 .3 1.5 .2 1.5 .1 1.6 .2 1.5 .1 1.5 .1 1.5 .1 1.6 .1 1.5 .1 1.5 .1 1.5 .1 1.6 .1 1.5 .1 1.5 .1 1.5 .1 1.6 .1 1.5 .1 1.5 .1 1.5 0 1.6 .1 1.5 .1 1.5 .1 1.5 0 1.5 .1 1.6 0 1.5 0 1.5 .1 1.5 0 1.6 0 1.5 0 1.5 0 1.5-.1 1.6 0 1.5 0 1.5-.1 1.5-.5 1.6-3.2 1.5-.2 1.5 .1 1.5 .1 1.5 .1 1.6 .2 1.5 .1 1.5 .2 1.5 .2 1.6 .2 1.5 .2 1.5 .3 1.5 .2 1.6 .2 1.5 .3 1.5 .2 1.5 .3 1.6 .2 1.5 .3 1.5 .2 1.5 .3 1.5 .2 1.6 .2 1.5 .2 1.5 .2 1.5 .2 1.6 .2 1.5 .2 1.5 .1 1.5 .1 1.6 .1 1.5 .1 1.5 .1 1.5 0 1.6 0 1.5 0 1.5-.1 1.5 0 1.6-.1 1.5-.1 1.5-.2 1.5-.1 1.5-.2 1.6-.2 1.5-.2 1.5-.2 1.5-.2 1.6-.2 1.5-.2 1.5-.2 1.5-.2 1.6-.2 1.5-.2 1.5-.2 1.5-.2 1.6-.2 1.5-.2 1.5-.2 1.5-.1 1.5-.2 1.6-.1 1.5-.1 1.5-.1 1.5 0 1.6-.1 1.5-.1 1.5 0 1.5-.1 1.6 0 1.5 0 1.5-.1 1.5 0 1.6 0 1.5 0 1.5 0 1.5 0 1.5 .1 1.6 0 1.5 0 1.5 .1 1.5 0 1.6 .1 1.5 .1 1.5 .1 1.5 .1 1.6 .1 1.5 .1 1.5 .1 1.5 .2 1.6 .1 1.5 .2 1.5 .2 1.5 .2 1.6 .3 1.5 .2 1.5 .3 1.5 .2 1.5 .3 1.6 .3 1.5 .3 1.5 .2 1.5 .3 1.6 .3 1.5 .3 1.5 .3 1.5 .2 1.6 .3 1.5 .3 1.5 .2 1.5 .2 1.6 .2 1.5 .2 1.5 .2 1.5 .2 1.5 .1 1.6 .2 1.5 .1 1.5 .1 1.5 .1 1.6 .2 1.5 .1 1.5 .1 1.5 .1 1.6 0 1.5 .1 1.5 .1 1.5 .1 1.6 0 1.5 .1 1.5 0 1.5 0 1.5 0 1.6 0 1.5 0 1.5 0 1.5 0 1.6 0 1.5-.1 1.5 0 1.5-.1 1.6-.1 1.5-.1 1.5-.1 1.5-.1 1.6-.2 1.5-.1 1.5-.2 1.5-.2 1.6-.2 1.5-.3 1.5-.2 1.5-.2 1.5-.3 1.6-.3 1.5-.2 1.5-.3 1.5-.3 1.6-.3 1.5-.4 1.5-.3 1.5-.3 1.6-.3 1.5-.4 1.5-.3 1.5-.4 1.6-.3 1.5-.4 1.5-.4 1.5-.4 1.5-.5 1.6-.5 1.5-.5 1.5-.5 1.5-.6 1.6-.5 1.5-.6 1.5-.5 1.5-.6 1.6-.5 1.5-.6 1.5-.5 1.5-.4 1.6-.5 1.5-.4 1.5-.4 1.5-.3 1.5-.3 1.6-.2 1.5-.2 1.5-.1 1.5-.1 1.6 0 1.5 .1 1.5 .1 1.5 .1 1.6 .2 1.5 .2 1.5 .2 1.5 .3 1.6 .3 1.5 .4 1.5 .3 1.5 .4 1.6 .4 1.5 .4 1.5 .4 1.5 .5 1.5 .4 1.6 .5 1.5 .5 1.5 .5 1.5 .6 1.6 .7 1.5 .7 1.5 .8 1.5 .8 1.6 .9 1.5 .8 1.5 .9 1.5 .9 1.6 .8 1.5 .8 1.5 .8" stroke="#0b800b" stroke-width="3.5" stroke-dasharray="3.5 4.3"/>
<path d="M1004.8 589.4l1.5-1.9 1.5-.9 1.6-2.4 1.5-3.9 1.5-2.5 1.5-1.3 1.6-1.4 1.5-.4 1.5 .4 1.5-1.1 1.6-1.8 1.5 .4 1.5 1.9 1.5 1.5 1.6 1.4 1.5 1.8 1.5 .9 1.5 .6 1.5 2.8 1.6 4.1 1.5 2.4 1.5 1.6 1.5 2.1 1.6 1.7 1.5 1.5 1.5 3.1 1.5 3.3 1.6 .9 1.5-.2 1.5 .7 1.5 1 1.6 .3 1.5 .9 1.5 .4 1.5-2.2 1.6-2.9 1.5-1.3 1.5-.9 1.5-2.2 1.5-2.4 1.6-2.7 1.5-4.3 1.5-4.1 1.5-1.9 1.6-1.5 1.5-3.2 1.5-3.4 1.5-2.7 1.6-2.9 1.5-2.2 1.5 0 1.5 .1 1.6-1.8 1.5-1.5 1.5 .3 1.5 .7 1.5 1.3 1.6 2.6 1.5 2.3 1.5 .4 1.5 1.3 1.6 3.5 1.5 3.7 1.5 3.2 1.5 3.5 1.6 3.1 1.5 1.6 1.5 2.5 1.5 4.6 1.6 3.9 1.5 2.1 1.5 1.9 1.5 1.7 1.5 .8 1.6 1.4 1.5 2.8 1.5 1.1 1.5-1.2 1.6-1.2 1.5-.7 1.5-1.3 1.5-1.2 1.6-.7 1.5-2.4 1.5-4.6 1.5-3.7 1.6-2.1 1.5-2.8 1.5-3.3 1.5-2.9 1.6-4.1 1.5-5 1.5-3.3 1.5-1.3 1.5-2.1 1.6-3.1 1.5-2.4 1.5-2.2 1.5-2.3 1.6-.2 1.5 1.4 1.5 .1 1.5-1.1 1.6 0 1.5 .9 1.5 .9 1.5 2.1 1.6 2.8 1.5 1 1.5 .1 1.5 1.8 1.5 3.2 1.6 2.6 1.5 2.7 1.5 2.8 1.5 1.4 1.6 .9 1.5 2.9 1.5 4 1.5 2.4 1.6 1.5 1.5 1.8 1.5 1.1 1.5 .8 1.6 2.6 1.5 2.8 1.5 .5 1.5-.6 1.5 .3 1.6 .2 1.5-.1 1.5 .9 1.5 .5 1.6-1.9 1.5-2.6 1.5-.8 1.5-.5 1.6-1.3 1.5-1.1 1.5-1.6 1.5-3.4 1.6-3.3 1.5-1 1.5-.8 1.5-2.3 1.6-2.6 1.5-2.3 1.5-3.2 1.5-2.4 1.5-.4 1.6-.5 1.5-2.5 1.5-2.6 1.5-1.3 1.6-1.3 1.5-.7 1.5 .8 1.5 .2 1.6-1.8 1.5-1.1 1.5 .9 1.5 1.2 1.6 1 1.5 1.8 1.5 1.1 1.5-.2 1.5 .9 1.6 3.3 1.5 3.1 1.5 1.8 1.5 2.1 1.6 2.1 1.5 1.3 1.5 2.6 1.5 4.5 1.6 3.4 1.5 1.6 1.5 1.9 1.5 2.6 1.6 2.2 1.5 3 1.5 4 1.5 2.3 1.5 .3 1.6 1.3 1.5 2.6 1.5 2 1.5 1.7 1.6 2 1.5 .4 1.5-1.1 1.5 .3 1.6 1.8 1.5 .6 1.5-.6 1.5-.4 1.6-1.3 1.5-2.1 1.5-.4 1.5 .6 1.6-1.2 1.5-2.8 1.5-2.2 1.5-2 1.5-2.4 1.6-1.2 1.5-.7 1.5-2.9 1.5-4.1 1.6-2.7 1.5-1.7 1.5-2.2 1.5-1.9 1.6-1.7 1.5-3.5 1.5-4 1.5-1.8 1.6-.7 1.5-1.8 1.5-2.2 1.5-1.9 1.5-2.6 1.6-2.5 1.5-.2 1.5 .5 1.5-1.3 1.6-1.9 1.5-.8 1.5-.7 1.5-.3 1.6 1.3 1.5 1.5 1.5-.7 1.5-1 1.6 1 1.5 1.5 1.5 1.3 1.5 2 1.5 1.8 1.6 0 1.5 .4 1.5 2.7 1.5 3.1 1.6 1.9 1.5 2 1.5 2 1.5 .9 1.6 1.6 1.5 3.9 1.5 3.5 1.5 1.6 1.6 1.4 1.5 2.2 1.5 1.7 1.5 2.3 1.6 3.7 1.5 2.8 1.5 .6 1.5 .7 1.5 2.2 1.6 2.1 1.5 1.8 1.5 2.4 1.5 1.3 1.6-.6 1.5 .1 1.5 2.1 1.5 1.5 1.6 .3 1.5 .4 1.5-.3 1.5-1.5 1.6-.4 1.5 1.4 1.5 .2 1.5-1.8 1.5-1.5 1.6-1.3 1.5-1.9 1.5-1 1.5 .1 1.6-1.6 1.5-3.5 1.5-2.7 1.5-1.6 1.6-2 1.5-1.8 1.5-1.3 1.5-3 1.6-4.4 1.5-2.8 1.5-1.2 1.5-2.1 1.5-2.8 1.6-2.4 1.5-3.5 1.5-4 1.5-2.1 1.6-.7 1.5-2.2 1.5-3.4 1.5-2.6 1.6-2.6 1.5-2.7 1.5-1.1 1.5-.3 1.6-2.2 1.5-3.2 1.5-1.8 1.5-.8 1.6-1 1.5-.2 1.5 .1 1.5-1.7 1.5-2.2 1.6 0 1.5 1.2 1.5 .4 1.5 .3 1.6 .5 1.5-.6 1.5-.4 1.5 1.9 1.6 2.6 1.5 1 1.5 .4 1.5 1.2 1.6 1 1.5 1.3 1.5 3.2 1.5 3.2 1.5 1.1 1.6 .7 1.5 2.2 1.5 2.6 1.5 2.5 1.6 3.4 1.5 3.1 1.5 .9 1.5 1.1 1.6 3.3 1.5 3.6 1.5 2.6 1.5 2.7 1.6 2.4 1.5 1 1.5 1.6 1.5 3.8 1.5 3.6 1.6 1.6 1.5 1.5 1.5 1.8 1.5 1.1 1.6 1.7 1.5 3.4 1.5 2.4 1.5 .1 1.6 .2 1.5 1.4 1.5 1.1 1.5 1.2 1.6 1.9 1.5 .6 1.5-1.4 1.5-.6 1.6 1.1 1.5 .6 1.5-.2 1.5 0 1.5-1 1.6-2.3 1.5-1.1 1.5 .7 1.5-.4 1.6-2 1.5-1.9 1.5-1.9 1.5-2.5 1.6-1.4 1.5-.1 1.5-1.7 1.5-3.6 1.6-2.8 1.5-2 1.5-2.3 1.5-1.7 1.5-1.1 1.6-2.8 1.5-4.3 1.5-2.8 1.5-1.2 1.6-2 1.5-2.2 1.5-1.9 1.5-3.2 1.6-3.8 1.5-1.8 1.5-.4 1.5-1.8 1.6-2.6 1.5-2.1 1.5-2.4 1.5-2.4 1.5-.6 1.6 .3 1.5-1.5 1.5-2.6 1.5-1.3 1.6-.7 1.5-.7 1.5 .4 1.5 .8 1.6-1.3 1.5-1.7 1.5 .3 1.5 1.3 1.6 .6 1.5 .9 1.5 1 1.5-.4 1.6-.3 1.5 2 1.5 2.8 1.5 1.3 1.5 1 1.6 1.4 1.5 .9 1.5 1.3 1.5 3.3 1.6 3.5 1.5 1.3 1.5 .9 1.5 2.2 1.6 2.4 1.5 2.4 1.5 3.7 1.5 3.2 1.6 1.1 1.5 1.1 1.5 3.2" stroke="#1f77b4" stroke-width="2.6" stroke-dasharray="10 3.5 2.4 3.5"/>
<path d="M1004.8 590.5l1.5-1.9 1.5-4 1.6-4 1.5-1.8 1.5-1.4 1.5-1.6 1.6-.8 1.5-1 1.5-2.3 1.5-1.4 1.6 1.3 1.5 1.6 1.5 .4 1.5 .7 1.6 .9 1.5 .3 1.5 1.5 1.5 3.5 1.5 3.1 1.6 1.1 1.5 1.2 1.5 2.2 1.5 1.9 1.6 2.4 1.5 3.5 1.5 2.2 1.5-.1 1.6 .4 1.5 1.9 1.5 1.4 1.5 .8 1.6 1.1 1.5-.4 1.5-2.3 1.5-1.4 1.6 .2 1.5-.9 1.5-2.4 1.5-2.5 1.5-3.1 1.6-4.1 1.5-2.7 1.5-1.2 1.5-2.5 1.6-4.2 1.5-3.5 1.5-2.8 1.5-2.9 1.6-1.5 1.5-.3 1.5-1.7 1.5-2.9 1.6-1.2 1.5 .5 1.5 .6 1.5 1.2 1.5 1.9 1.6 .9 1.5 .3 1.5 2.7 1.5 4.4 1.6 3.5 1.5 3.2 1.5 3.6 1.5 2.8 1.6 2.7 1.5 4.6 1.5 5.5 1.5 3.4 1.6 2.2 1.5 2.8 1.5 2.6 1.5 2.1 1.5 3.1 1.6 2.9 1.5 .3 1.5-1 1.5 .1 1.6 .3 1.5-.7 1.5-.7 1.5-1.2 1.6-3.5 1.5-4.2 1.5-2.2 1.5-1.9 1.6-3.4 1.5-3.8 1.5-3.8 1.5-5 1.6-4.6 1.5-2.4 1.5-2 1.5-3.8 1.5-4 1.6-2.9 1.5-2.7 1.5-2 1.5 0 1.6 .1 1.5-1.7 1.5-1.4 1.5 .6 1.6 .9 1.5 .9 1.5 1.8 1.5 1.3 1.6-.4 1.5 .3 1.5 2.6 1.5 2.8 1.5 1.7 1.6 2 1.5 1.6 1.5 .6 1.5 1.7 1.6 3.7 1.5 3 1.5 1.1 1.5 1.1 1.6 1.6 1.5 1.1 1.5 1.7 1.5 3.1 1.6 1.7 1.5-.6 1.5-.1 1.5 1 1.5 .7 1.6 .6 1.5 1 1.5-.4 1.5-2.3 1.6-1.1 1.5 .5 1.5-.2 1.5-1.2 1.6-1.1 1.5-2 1.5-2.9 1.5-1.5 1.6 .2 1.5-1.2 1.5-2.7 1.5-2.3 1.6-2.1 1.5-2.4 1.5-1 1.5 .1 1.5-1.7 1.6-3.1 1.5-1.9 1.5-.7 1.5-.9 1.6-.2 1.5 .3 1.5-1.3 1.5-2.2 1.6-.1 1.5 1.4 1.5 .8 1.5 .6 1.6 1.1 1.5 .2 1.5 0 1.5 2.4 1.5 3.7 1.6 2.1 1.5 1.4 1.5 2.1 1.5 2.1 1.6 2.2 1.5 4 1.5 4.5 1.5 2.3 1.6 1.5 1.5 2.9 1.5 3.3 1.5 3.1 1.6 3.9 1.5 3.6 1.5 1.4 1.5 1 1.5 2.9 1.6 3.4 1.5 2.2 1.5 1.9 1.5 1.7 1.6 0 1.5 0 1.5 2.1 1.5 2 1.6-.1 1.5-.8 1.5-.4 1.5-1.3 1.6-1 1.5 .6 1.5-.1 1.5-2.5 1.6-2.9 1.5-1.7 1.5-1.8 1.5-2 1.5-1.1 1.6-2.1 1.5-4.2 1.5-3.8 1.5-1.9 1.6-1.9 1.5-2.7 1.5-2.5 1.5-3.1 1.6-4.4 1.5-3.3 1.5-1.1 1.5-1.6 1.6-3.2 1.5-2.9 1.5-2.5 1.5-3 1.5-1.8 1.6 .1 1.5-1 1.5-2.8 1.5-1.9 1.6-.7 1.5-.6 1.5 0 1.5 1.2 1.6-.1 1.5-1.6 1.5-.2 1.5 1.7 1.6 1.5 1.5 1.1 1.5 1.6 1.5 .7 1.5-.2 1.6 1.7 1.5 3.5 1.5 2.5 1.5 1.3 1.6 1.8 1.5 1.7 1.5 1.4 1.5 3 1.6 4.2 1.5 2.5 1.5 .9 1.5 2 1.6 2.7 1.5 2.4 1.5 3.2 1.5 3.6 1.6 1.6 1.5 .4 1.5 2.1 1.5 3.1 1.5 2.3 1.6 2 1.5 2.1 1.5 .5 1.5-.2 1.6 1.9 1.5 2.7 1.5 1 1.5 0 1.6 .3 1.5-.4 1.5-.6 1.5 1.1 1.6 1.3 1.5-1 1.5-2 1.5-.9 1.5-.9 1.6-1.2 1.5-.1 1.5-.5 1.5-2.8 1.6-3.3 1.5-1.4 1.5-1.1 1.5-1.9 1.6-1.7 1.5-2.1 1.5-3.8 1.5-3.6 1.6-1.3 1.5-1.2 1.5-2.8 1.5-3.1 1.5-2.8 1.6-3.7 1.5-3 1.5-1 1.5-1.4 1.6-3.5 1.5-3.5 1.5-2.4 1.5-2.4 1.6-2.1 1.5-.7 1.5-1.4 1.5-3.5 1.6-2.9 1.5-.9 1.5-.8 1.5-1.1 1.6-.5 1.5-1.1 1.5-2.5 1.5-1.3 1.5 1 1.6 .8 1.5-.5 1.5-.2 1.5-.1 1.6-.8 1.5 .7 1.5 2.5 1.5 1.6 1.6-.3 1.5 .4 1.5 1.4 1.5 1.2 1.6 2.1 1.5 3.2 1.5 1.8 1.5 .1 1.5 1.4 1.6 2.9 1.5 2.7 1.5 2.6 1.5 3 1.6 1.8 1.5 .7 1.5 2.5 1.5 4.1 1.6 3.1 1.5 2.1 1.5 2.4 1.5 1.9 1.6 1.3 1.5 3.1 1.5 4.3 1.5 2.4 1.5 1 1.6 1.7 1.5 2.1 1.5 1.7 1.5 2.8 1.6 3.3 1.5 1 1.5-.2 1.5 1.3 1.6 2.1 1.5 1.4 1.5 1.5 1.5 1.5 1.6-.4 1.5-1.1 1.5 .9 1.5 1.8 1.6 .2 1.5-.4 1.5-.3 1.5-1.4 1.5-1.5 1.6 .4 1.5 .7 1.5-1.5 1.5-2.3 1.6-1.6 1.5-1.7 1.5-1.8 1.5-.4 1.6-.7 1.5-3.1 1.5-3.6 1.5-1.9 1.6-1.5 1.5-2.1 1.5-1.6 1.5-2 1.5-4 1.6-3.7 1.5-1.4 1.5-1.3 1.5-2.5 1.6-2.6 1.5-2.7 1.5-3.6 1.5-2.9 1.6-.8 1.5-1 1.5-3 1.5-3 1.6-2.1 1.5-2.4 1.5-1.6 1.5-.2 1.5-.9 1.6-2.9 1.5-2.5 1.5-.6 1.5-.5 1.6-.6 1.5 .2 1.5-.6 1.5-2.2 1.6-.9 1.5 1.3 1.5 1 1.5 0 1.6 .5 1.5 .1 1.5-.7 1.5 .8 1.6 2.8 1.5 1.8 1.5 .2 1.5 .7 1.5 1.3 1.6 1.1 1.5 2.2 1.5 3.5 1.5 2 1.6 .3 1.5 1.4 1.5 2.8 1.5 2.5 1.6 2.7 1.5 3.4 1.5 1.8 1.5 .6 1.6 2.3 1.5 3.9 1.5 3" stroke="#000000" stroke-width="2.2" stroke-dasharray="6.5 2.8"/>
</g>
<path d="M1004.8 522.7V659H1675.2V522.7" fill="none" stroke="#5e5e5e" stroke-width="1.8"/>
<path d="M1003.9 522.7H1676.1" stroke="#111" stroke-width="1.4"/>
<path d="M1004.8 659v3.2M1106.4 659v3.2M1208 659v3.2M1309.5 659v3.2M1411.1 659v3.2M1512.7 659v3.2M1614.3 659v3.2M1004.8 629.8h-3.2M1004.8 590.9h-3.2M1004.8 551.9h-3.2" stroke="#555" stroke-width="1"/>
<g font-family='"DejaVu Sans", "Liberation Sans", sans-serif' font-size="19.6" fill="#000" stroke="#000" stroke-width="0.25">
<text transform="translate(999.2 636.9) scale(0.97 1)" text-anchor="end">−8</text>
<text transform="translate(999.2 598) scale(0.97 1)" text-anchor="end">0</text>
<text transform="translate(999.2 559) scale(0.97 1)" text-anchor="end">8</text>
<text transform="translate(1004.8 678.5) scale(0.97 1)" text-anchor="middle">0</text>
<text transform="translate(1106.4 678.5) scale(0.97 1)" text-anchor="middle">100</text>
<text transform="translate(1208 678.5) scale(0.97 1)" text-anchor="middle">200</text>
<text transform="translate(1309.5 678.5) scale(0.97 1)" text-anchor="middle">300</text>
<text transform="translate(1411.1 678.5) scale(0.97 1)" text-anchor="middle">400</text>
<text transform="translate(1512.7 678.5) scale(0.97 1)" text-anchor="middle">500</text>
<text transform="translate(1614.3 678.5) scale(0.97 1)" text-anchor="middle">600</text>
</g>
<text x="1370.4" y="654.8" font-family='"DejaVu Sans", "Liberation Sans", sans-serif' font-weight="bold" font-size="19" textLength="27.9" lengthAdjust="spacingAndGlyphs">X4</text>
<path d="M1106.4 693.8V831.3M1208 693.8V831.3M1309.5 693.8V831.3M1411.1 693.8V831.3M1512.7 693.8V831.3M1614.3 693.8V831.3M1004.8 801.8H1675.2M1004.8 762.5H1675.2M1004.8 723.3H1675.2" stroke="#e2e2e2" stroke-width="1" fill="none"/>
<g clip-path="url(#ck)" fill="none" stroke-linejoin="round">
<path d="M1004.8 760.7l1.5-.7 1.5 0 1.6-.5 1.5 .4 1.5 .1 1.5-2.4 1.6-2.6 1.5 .2 1.5 .9 1.5-.5 1.6-.7 1.5-.8 1.5-2.3 1.5-1.8 1.6 1.1 1.5 1.2 1.5-1.4 1.5-1.8 1.5-.9 1.6-1.4 1.5-.8 1.5 1.3 1.5 .6 1.6-2.4 1.5-2.3 1.5-.3 1.5-.2 1.6-.4 1.5 .8 1.5-.4 1.5-2.8 1.6-2 1.5 .7 1.5 .6 1.5-.6 1.6-.4 1.5-1 1.5-2.5 1.5-1.1 1.5 1.6 1.6 .7 1.5-1.6 1.5-1.4 1.5-.9 1.6-1.5 1.5-.2 1.5 1.7 1.5 0 1.6-2.5 1.5-1.7 1.5 0 1.5-.3 1.6 0 1.5 1 1.5-.9 1.5-2.8 1.5-1.2 1.6 1.1 1.5 .4 1.5-.5 1.5-.1 1.6-1.3 1.5-2.4 1.5-.1 1.5 1.9 1.6 .2 1.5-1.5 1.5-.9 1.5-.9 1.6-1.3 1.5 .6 1.5 1.8 1.5-.5 1.5-2.4 1.6-.9 1.5 .1 1.5-.2 1.5 .6 1.6 1.1 1.5-1.3 1.5-2.6 1.5-.2 1.6 1.4 1.5 .2 1.5-.1 1.5 .1 1.6-1.6 1.5-1.9 1.5 .8 1.5 2 1.6-.1 1.5-1.2 1.5-.4 1.5-1 1.5-.9 1.6 1.5 1.5 1.8 1.5-1 1.5-1.9 1.6-.2 1.5 .2 1.5 0 1.5 1.4 1.6 1 1.5-1.7 1.5-2 1.5 .7 1.6 1.4 1.5 .2 1.5 .4 1.5 .2 1.5-1.8 1.6-1.2 1.5 1.7 1.5 1.9 1.5-.4 1.6-.7 1.5-.1 1.5-1 1.5-.2 1.6 2.2 1.5 1.5 1.5-1.3 1.5-1.3 1.6 .3 1.5 .2 1.5 .5 1.5 1.8 1.5 .7 1.6-2 1.5-1.1 1.5 1.3 1.5 1.2 1.6 .4 1.5 .9 1.5-.1 1.5-1.8 1.6-.4 1.5 2.4 1.5 1.5 1.5-.4 1.6-.2 1.5-.1 1.5-1 1.5 .6 1.6 2.7 1.5 1 1.5-1.4 1.5-.7 1.5 .6 1.6 .3 1.5 1 1.5 2.2 1.5 .1 1.6-1.9 1.5-.4 1.5 1.8 1.5 1 1.6 .7 1.5 1.2 1.5-.5 1.5-1.7 1.6 .6 1.5 2.6 1.5 1.2 1.5-.3 1.5 .2 1.6-.3 1.5-.7 1.5 1.4 1.5 2.8 1.6 .5 1.5-1.3 1.5-.1 1.5 .7 1.6 .3 1.5 1.7 1.5 2.2 1.5-.5 1.6-1.7 1.5 .5 1.5 1.8 1.5 .9 1.5 1.1 1.6 1.2 1.5-.9 1.5-1.4 1.5 1.5 1.6 2.6 1.5 .7 1.5 0 1.5 .4 1.6-.5 1.5-.4 1.5 2.2 1.5 2.6 1.6-.1 1.5-1.1 1.5 .4 1.5 .5 1.6 .6 1.5 2.2 1.5 1.9 1.5-1 1.5-1.3 1.6 1.1 1.5 1.6 1.5 .9 1.5 1.4 1.6 1 1.5-1.4 1.5-.8 1.5 2.1 1.6 2.4 1.5 .3 1.5 .3 1.5 .3 1.6-.8 1.5 .2 1.5 2.7 1.5 2.1 1.5-.6 1.6-.6 1.5 .6 1.5 .3 1.5 .9 1.6 2.5 1.5 1.3 1.5-1.5 1.5-.8 1.6 1.5 1.5 1.4 1.5 .9 1.5 1.6 1.6 .4 1.5-1.6 1.5-.2 1.5 2.5 1.5 1.8 1.6 .2 1.5 .4 1.5 .1 1.5-1 1.6 .7 1.5 3 1.5 1.4 1.5-.9 1.6-.3 1.5 .5 1.5 .1 1.5 1.3 1.6 2.6 1.5 .5 1.5-1.8 1.5-.2 1.6 1.5 1.5 1 1.5 1.1 1.5 1.6 1.5-.3 1.6-1.8 1.5 .5 1.5 2.5 1.5 1.2 1.6 .1 1.5 .5 1.5-.5 1.5-1 1.6 1.3 1.5 2.9 1.5 .5 1.5-1 1.6-.1 1.5 .2 1.5 0 1.5 1.7 1.5 2.3 1.6-.4 1.5-1.8 1.5 .3 1.5 1.3 1.6 .7 1.5 1.2 1.5 1.2 1.5-1.1 1.6-1.7 1.5 1.1 1.5 2.2 1.5 .6 1.6 .1 1.5 .3 1.5-1 1.5-.9 1.5 1.9 1.6 2.3 1.5-.2 1.5-1.1 1.5 0 1.6-.2 1.5 .1 1.5 2 1.5 1.7 1.6-1.3 1.5-1.6 1.5 .5 1.5 .9 1.6 .5 1.5 1.3 1.5 .7 1.5-1.9 1.6-1.3 1.5 1.4 1.5 1.7 1.5 .1 1.5 .1 1.6-.1 1.5-1.6 1.5-.6 1.5 2.2 1.6 1.6 1.5-.9 1.5-.9 1.5-.1 1.6-.7 1.5 .3 1.5 2.1 1.5 .9 1.6-2 1.5-1.3 1.5 .6 1.5 .4 1.5 .4 1.6 1.3 1.5-.1 1.5-2.4 1.5-.9 1.6 1.6 1.5 1 1.5-.2 1.5 .2 1.6-.7 1.5-2 1.5 0 1.5 2.2 1.6 .8 1.5-1.3 1.5-.8 1.5-.4 1.5-1 1.6 .6 1.5 2.1 1.5-.1 1.5-2.3 1.6-.9 1.5 .5 1.5 0 1.5 .6 1.6 1.2 1.5-1 1.5-2.6 1.5-.4 1.6 1.6 1.5 .4 1.5-.3 1.5 0 1.6-1.3 1.5-2 1.5 .5 1.5 2.1 1.5-.1 1.6-1.4 1.5-.7 1.5-.8 1.5-1 1.6 1 1.5 1.8 1.5-1 1.5-2.4 1.6-.6 1.5 .3 1.5-.2 1.5 .7 1.6 .8 1.5-1.8 1.5-2.4 1.5 .1 1.5 1.3 1.6-.1 1.5-.2 1.5-.2 1.5-2 1.6-1.8 1.5 1.1 1.5 1.6 1.5-.7 1.6-1.4 1.5-.7 1.5-1.2 1.5-.9 1.6 1.5 1.5 1.2 1.5-1.8 1.5-2.1 1.5-.3 1.6-.2 1.5-.2 1.5 1.1 1.5 .2 1.6-2.5 1.5-2.1 1.5 .6 1.5 .9 1.6-.4 1.5-.1 1.5-.6 1.5-2.4 1.6-1.3 1.5 1.5 1.5 1 1.5-1.2 1.6-1.2 1.5-.8 1.5-1.6 1.5-.4 1.5 1.7 1.6 .5 1.5-2.3 1.5-1.7 1.5-.2 1.6-.4 1.5 0 1.5 1.1 1.5-.5 1.6-2.8 1.5-1.5 1.5 .8 1.5 .4 1.6-.4 1.5 .1 1.5-1.2" stroke="#e8191b" stroke-width="2.1"/>
<path d="M1004.8 775.3l1.5-.6 1.5-.7 1.6-.7 1.5-.7 1.5-.6 1.5-.4 1.6-.2 1.5 0 1.5 .4 1.5 .4 1.6 .5 1.5 .4 1.5 .2 1.5 0 1.6-.1 1.5-.1 1.5-.2 1.5-.2 1.5-.2 1.6-.3 1.5-.2 1.5-.3 1.5-.2 1.6-.2 1.5-.2 1.5-.1 1.5-.1 1.6 0 1.5 0 1.5 0 1.5 0 1.6 0 1.5 0 1.5 0 1.5 0 1.6 0 1.5 0 1.5 0 1.5 0 1.5 0 1.6 0 1.5 0 1.5 0 1.5 0 1.6 0 1.5 0 1.5 .1 1.5 .2 1.6 .3 1.5 .3 1.5 .3 1.5 .4 1.6 .3 1.5 .4 1.5 .4 1.5 .4 1.5 .3 1.6 .4 1.5 .3 1.5 .3 1.5 .3 1.6 .3 1.5 .3 1.5 .3 1.5 .3 1.6 .3 1.5 .3 1.5 .3 1.5 .3 1.6 .3 1.5 .2 1.5 .2 1.5 .2 1.5 .1 1.6 .2 1.5 0 1.5 .1 1.5-.1 1.6 0 1.5-.1 1.5-.1 1.5-.1 1.6-.2 1.5-.2 1.5-.2 1.5-.2 1.6-.2 1.5-.3 1.5-.2 1.5-.3 1.6-.2 1.5-.3 1.5-.2 1.5-.3 1.5-.2 1.6-.3 1.5-.4 1.5-.3 1.5-.4 1.6-.3 1.5-.4 1.5-.4 1.5-.3 1.6-.4 1.5-.3 1.5-.3 1.5-.3 1.6-.3 1.5-.2 1.5-.2 1.5-.1 1.5-.1 1.6 0 1.5 0 1.5 0 1.5 .1 1.6 .1 1.5 .2 1.5 .2 1.5 .2 1.6 .2 1.5 .2 1.5 .2 1.5 .3 1.6 .2 1.5 .2 1.5 .2 1.5 .2 1.5 .2 1.6 .1 1.5 .1 1.5 .1 1.5 0 1.6 .1 1.5 0 1.5 0 1.5 0 1.6-.1 1.5-.1 1.5-.1 1.5-.2 1.6-.2 1.5-.3 1.5-.4 1.5-.4 1.6-.5 1.5-.6 1.5-.6 1.5-.7 1.5-.6 1.6-.7 1.5-.6 1.5-.7 1.5-.6 1.6-.6 1.5-.6 1.5-.5 1.5-.4 1.6-.4 1.5-.4 1.5-.4 1.5-.3 1.6-.4 1.5-.3 1.5-.4 1.5-.3 1.5-.3 1.6-.3 1.5-.3 1.5-.3 1.5-.3 1.6-.2 1.5-.3 1.5-.2 1.5-.2 1.6-.3 1.5-.2 1.5-.2 1.5-.1 1.6-.2 1.5-.1 1.5 0 1.5 0 1.5 0 1.6 0 1.5 0 1.5 0 1.5 0 1.6 0 1.5 0 1.5 0 1.5 0 1.6 0 1.5 0 1.5 0 1.5 0 1.6 .4 1.5 .5 1.5 .6 1.5 .6 1.6 .8 1.5 .7 1.5 .8 1.5 .9 1.5 .8 1.6 .9 1.5 .8 1.5 .8 1.5 .7 1.6 .7 1.5 .6 1.5 .7 1.5 .6 1.6 .7 1.5 .6 1.5 .6 1.5 .5 1.6 .4 1.5 .3 1.5 .2 1.5 .1 1.5-.2 1.6-.2 1.5-.3 1.5-.4 1.5-.5 1.6-.5 1.5-.5 1.5-.6 1.5-.5 1.6-.5 1.5-.5 1.5-.5 1.5-.3 1.6-.3 1.5-.1 1.5-.1 1.5 .2 1.5 .2 1.6 .3 1.5 .4 1.5 .4 1.5 .5 1.6 .6 1.5 .6 1.5 .6 1.5 .6 1.6 .7 1.5 .6 1.5 .5 1.5 .6 1.6 .5 1.5 .4 1.5 .3 1.5 .2 1.6 .2 1.5 0 1.5-.2 1.5-.3 1.5-.4 1.6-.6 1.5-.7 1.5-.7 1.5-.8 1.6-.9 1.5-.8 1.5-.8 1.5-.8 1.6-.7 1.5-.6 1.5-.6 1.5-.7 1.6-.6 1.5-.6 1.5-.6 1.5-.6 1.5-.5 1.6-.5 1.5-.4 1.5-.3 1.5-.5 1.6 1.2 1.5 21.4 1.5 7.4 1.5 3.1 1.6 .4 1.5 0 1.5-.1 1.5-.1 1.6-.3 1.5-.3 1.5-.4 1.5-.5 1.5-.4 1.6-.6 1.5-.5 1.5-.6 1.5-.5 1.6-.5 1.5-.6 1.5-.4 1.5-.5 1.6-.3 1.5-.3 1.5-.3 1.5-.2 1.6-.2 1.5-.2 1.5-.2 1.5-.1 1.6-.2 1.5-.2 1.5-.1 1.5-.1 1.5-.2 1.6-.1 1.5-.1 1.5-.1 1.5-.2 1.6-.1 1.5-.1 1.5-.1 1.5-.1 1.6-.1 1.5-.2 1.5-.1 1.5-.1 1.6-.1 1.5-.2 1.5-.1 1.5-.2 1.5-.2 1.6-.1 1.5-.2 1.5-.2 1.5-.1 1.6-.2 1.5-.2 1.5-.2 1.5-.2 1.6-.1 1.5-.2 1.5-.2 1.5-.2 1.6-.2 1.5-.2 1.5-.1 1.5-.2 1.5-.2 1.6-.2 1.5-.2 1.5-.2 1.5-.2 1.6-.1 1.5-.2 1.5-.2 1.5-.2 1.6-.1 1.5-.2 1.5-.2 1.5-.2 1.6-.2 1.5-.2 1.5-.2 1.5-.2 1.6-.2 1.5-.2 1.5-.1 1.5-.1 1.5-.1 1.6 0 1.5 0 1.5 0 1.5 .1 1.6 .1 1.5 .1 1.5 .1 1.5 .1 1.6 .1 1.5 .2 1.5 .1 1.5 .2 1.6 .2 1.5 .2 1.5 .1 1.5 .2 1.5 .2 1.6 .2 1.5 .1 1.5 .2 1.5 .2 1.6 .1 1.5 .2 1.5 .1 1.5 .2 1.6 .2 1.5 .2 1.5 .2 1.5 .2 1.6 .1 1.5 .2 1.5 .1 1.5 .2 1.5 .1 1.6 .1 1.5 0 1.5 0 1.5 0 1.6-.1 1.5-.1 1.5-.1 1.5-.1 1.6-.1 1.5-.2 1.5-.1 1.5-.2 1.6-.1 1.5-.2 1.5-.1 1.5-.2 1.6-.1 1.5-.1 1.5-.1 1.5-.1 1.5-.1 1.6-.1 1.5-.1 1.5 0 1.5-.1 1.6 0 1.5-.1 1.5 0 1.5-.1 1.6 0 1.5-.1 1.5 0 1.5-.1 1.6 0 1.5-.1 1.5-.1" stroke="#0b800b" stroke-width="3.5" stroke-dasharray="3.5 4.3"/>
<path d="M1004.8 761.1l1.5 .2 1.5 1.5 1.6-.7 1.5-2.8 1.5-1.4 1.5-.1 1.6-.6 1.5 .1 1.5 .7 1.5-1.6 1.6-3 1.5-.8 1.5 .9 1.5-.1 1.6-.7 1.5-.3 1.5-1.9 1.5-2.5 1.5 .1 1.6 1.6 1.5-.6 1.5-1.7 1.5-1 1.6-1.4 1.5-1.4 1.5 .8 1.5 1.3 1.6-1.4 1.5-2.6 1.5-.9 1.5-.2 1.6-.5 1.5 .6 1.5 .5 1.5-2.2 1.6-2.6 1.5 0 1.5 .8 1.5-.4 1.5-.2 1.6-.5 1.5-2.3 1.5-2 1.5 1 1.6 1.3 1.5-1 1.5-1.4 1.5-.9 1.6-1.5 1.5-1 1.5 1.4 1.5 1 1.6-1.9 1.5-2.1 1.5-.4 1.5-.4 1.5-.2 1.6 1.1 1.5 .1 1.5-2.5 1.5-2 1.6 .7 1.5 .7 1.5-.3 1.5 .2 1.6-.6 1.5-2.4 1.5-1.1 1.5 1.8 1.6 1.1 1.5-.9 1.5-.7 1.5-.5 1.5-1.4 1.6 .1 1.5 2.2 1.5 .8 1.5-1.8 1.6-1.1 1.5 .2 1.5 0 1.5 .6 1.6 1.8 1.5-.1 1.5-2.3 1.5-.8 1.6 1.3 1.5 .9 1.5 .3 1.5 .9 1.6-.5 1.5-1.9 1.5 .2 1.5 2.5 1.5 1.1 1.6-.5 1.5-.1 1.5-.4 1.5-.9 1.6 1 1.5 2.5 1.5 .3 1.5-1.8 1.6-.6 1.5 .2 1.5-.3 1.5 .9 1.6 1.5 1.5-1.1 1.5-2.6 1.5-.6 1.5 1 1.6 0 1.5 0 1.5 .2 1.5-1.8 1.6-2.4 1.5 .3 1.5 1.7 1.5-.1 1.6-1 1.5-.5 1.5-1.3 1.5-1.2 1.6 1.3 1.5 2 1.5-.7 1.5-1.7 1.5-.3 1.6 0 1.5-.1 1.5 1.5 1.5 1.4 1.6-1.4 1.5-1.9 1.5 .5 1.5 1.2 1.6 .4 1.5 .9 1.5 .5 1.5-1.7 1.6-1.3 1.5 1.5 1.5 2 1.5 0 1.6-.2 1.5-.1 1.5-1.1 1.5-.3 1.5 2.3 1.6 1.9 1.5-.9 1.5-1 1.5 .2 1.6 .2 1.5 .5 1.5 2.2 1.5 1.2 1.6-1.6 1.5-1.1 1.5 1.2 1.5 1.3 1.6 .7 1.5 1.4 1.5 .4 1.5-1.8 1.5-.4 1.6 2.3 1.5 1.7 1.5 .1 1.5 .2 1.6 0 1.5-1.1 1.5 .5 1.5 2.8 1.6 1.4 1.5-1 1.5-.5 1.5 .4 1.6 .1 1.5 1.1 1.5 2.5 1.5 .5 1.5-1.8 1.6-.4 1.5 1.5 1.5 1 1.5 .9 1.6 1.5 1.5-.2 1.5-1.8 1.5 .3 1.6 2.5 1.5 1.2 1.5 .1 1.5 .4 1.6-.3 1.5-1 1.5 1.2 1.5 2.9 1.6 .7 1.5-1 1.5-.1 1.5 .3 1.5 .1 1.6 1.7 1.5 2.4 1.5-.2 1.5-1.7 1.6 .2 1.5 1.6 1.5 .8 1.5 1.3 1.6 1.4 1.5-.8 1.5-1.6 1.5 1.2 1.6 2.5 1.5 .9 1.5 .3 1.5 .6 1.5-.5 1.6-.6 1.5 2.2 1.5 2.8 1.5 .3 1.6-.6 1.5 .4 1.5 .4 1.5 .5 1.6 2.4 1.5 2.2 1.5-.6 1.5-1.3 1.6 .9 1.5 1.5 1.5 .9 1.5 1.6 1.5 1.2 1.6-1.4 1.5-1.1 1.5 1.8 1.5 2.2 1.6 .6 1.5 .4 1.5 .4 1.5-1.1 1.6-.2 1.5 2.5 1.5 2.2 1.5-.4 1.6-.6 1.5 .3 1.5-.1 1.5 .7 1.6 2.5 1.5 1.5 1.5-1.4 1.5-.9 1.5 1.1 1.6 1 1.5 .9 1.5 1.8 1.5 .6 1.6-1.8 1.5-.5 1.5 2.2 1.5 1.8 1.6 .4 1.5 .8 1.5 0 1.5-1.2 1.6 .5 1.5 2.9 1.5 1.7 1.5-.6 1.5-.2 1.6 .3 1.5-.2 1.5 1.2 1.5 2.8 1.6 .7 1.5-1.6 1.5-.4 1.5 1.2 1.6 .7 1.5 1.1 1.5 1.7 1.5-.3 1.6-2 1.5 0 1.5 2 1.5 1 1.5 .1 1.6 .5 1.5-.8 1.5-1.6 1.5 .7 1.6 2.5 1.5 .5 1.5-1.1 1.5-.4 1.6-.4 1.5-.6 1.5 1.2 1.5 2.2 1.6-.5 1.5-2.1 1.5-.3 1.5 .6 1.6 .2 1.5 1 1.5 1.2 1.5-1.3 1.5-2.2 1.6 .4 1.5 1.7 1.5 .3 1.5 .1 1.6 .2 1.5-1.5 1.5-1.5 1.5 1.4 1.6 2.1 1.5-.2 1.5-1.1 1.5-.3 1.6-.7 1.5-.5 1.5 1.8 1.5 1.7 1.5-1.3 1.6-1.8 1.5 .1 1.5 .4 1.5 .2 1.6 1.4 1.5 .7 1.5-1.9 1.5-1.8 1.6 1 1.5 1.4 1.5 .1 1.5 .4 1.6-.1 1.5-1.9 1.5-1 1.5 1.9 1.5 1.7 1.6-.7 1.5-.8 1.5-.3 1.5-1 1.6 0 1.5 2.1 1.5 1.1 1.5-1.7 1.6-1.4 1.5 .4 1.5 .1 1.5 .3 1.6 1.5 1.5 .1 1.5-2.4 1.5-1.2 1.6 1.2 1.5 .8 1.5-.1 1.5 .3 1.5-.8 1.6-2.3 1.5-.6 1.5 1.9 1.5 .7 1.6-1.3 1.5-1 1.5-1 1.5-1.7 1.6 0 1.5 1.7 1.5-.2 1.5-2.6 1.6-1.4 1.5-.2 1.5-.6 1.5 .4 1.5 1.2 1.6-1 1.5-2.9 1.5-.8 1.5 1.1 1.6 .1 1.5-.2 1.5 .2 1.5-1.5 1.6-2.4 1.5 .1 1.5 1.8 1.5 .1 1.6-1.3 1.5-.7 1.5-1.2 1.5-1.4 1.5 .9 1.6 1.8 1.5-.8 1.5-2.3 1.5-.8 1.6-.1 1.5-.4 1.5 .8 1.5 1.1 1.6-1.7 1.5-2.6 1.5-.1 1.5 1 1.6-.1 1.5 .1 1.5 .1 1.5-2 1.6-2.1 1.5 .9 1.5 1.6 1.5-.4 1.5-1.1 1.6-.6 1.5-1.4 1.5-1.1 1.5 1.5 1.6 1.4 1.5-1.4 1.5-2 1.5-.4 1.6-.3 1.5-.3 1.5 1.3 1.5 .6 1.6-2.3 1.5-2.1 1.5 .3" stroke="#1f77b4" stroke-width="2.6" stroke-dasharray="10 3.5 2.4 3.5"/>
<path d="M1004.8 762l1.5 .3 1.5-2.5 1.6-2.5 1.5-.1 1.5 .2 1.5-.5 1.6 .1 1.5-.6 1.5-2.8 1.5-2 1.6 .9 1.5 .8 1.5-1.1 1.5-1 1.6-1.1 1.5-2.3 1.5-1 1.5 1.4 1.5 .6 1.6-2.1 1.5-1.8 1.5-.8 1.5-1.1 1.6-.4 1.5 1.3 1.5-.2 1.5-2.9 1.6-2 1.5 .3 1.5-.1 1.5-.3 1.6 .4 1.5-1.1 1.5-2.9 1.5-1.3 1.6 1.3 1.5 .4 1.5-1.1 1.5-.7 1.5-1.4 1.6-2.2 1.5-.3 1.5 1.8 1.5-.1 1.6-2.1 1.5-1.4 1.5-.8 1.5-1.1 1.6 .3 1.5 1.4 1.5-.9 1.5-2.9 1.6-1.2 1.5 .4 1.5-.2 1.5 .1 1.5 .4 1.6-1.6 1.5-2.8 1.5-.3 1.5 1.5 1.6 0 1.5-.9 1.5-.5 1.5-1.5 1.6-2 1.5 .7 1.5 1.8 1.5-.5 1.6-1.9 1.5-.8 1.5-.7 1.5-.8 1.5 1 1.6 1.5 1.5-1.4 1.5-2.4 1.5-.4 1.6 .6 1.5 0 1.5 .6 1.5 .6 1.6-1.9 1.5-2.2 1.5 .7 1.5 1.6 1.6-.1 1.5-.3 1.5-.2 1.5-1.6 1.6-1.3 1.5 1.7 1.5 1.9 1.5-.7 1.5-1.2 1.6-.1 1.5-.4 1.5 0 1.5 2.1 1.6 1.5 1.5-1.5 1.5-1.5 1.5 .6 1.6 .8 1.5 .5 1.5 1.4 1.5 .4 1.6-2 1.5-1.2 1.5 1.5 1.5 1.5 1.5 0 1.6 .1 1.5-.2 1.5-1.7 1.5-.4 1.6 2.2 1.5 1.5 1.5-1 1.5-.8 1.6-.2 1.5-.6 1.5 .4 1.5 2.3 1.6 .8 1.5-1.9 1.5-1 1.5 .8 1.5 .5 1.6 .7 1.5 1.6 1.5 0 1.5-2.1 1.6-.4 1.5 2 1.5 1.2 1.5 .2 1.6 .6 1.5-.4 1.5-1.5 1.5 .6 1.6 2.7 1.5 1.1 1.5-.8 1.5-.2 1.6 0 1.5-.4 1.5 1.3 1.5 2.7 1.5 .2 1.6-1.7 1.5-.2 1.5 1.1 1.5 .6 1.6 1.3 1.5 1.8 1.5-.6 1.5-1.8 1.6 .5 1.5 2.1 1.5 1 1.5 .5 1.6 .7 1.5-.8 1.5-1.3 1.5 1.5 1.5 2.7 1.6 .5 1.5-.7 1.5 .1 1.5-.2 1.6-.3 1.5 2 1.5 2.4 1.5-.4 1.6-1.6 1.5 .3 1.5 1 1.5 .6 1.6 1.6 1.5 1.5 1.5-1.2 1.5-1.5 1.5 1.1 1.6 2 1.5 .7 1.5 .7 1.5 .5 1.6-1.2 1.5-.8 1.5 2.1 1.5 2.4 1.6 0 1.5-.5 1.5 .2 1.5-.4 1.6 .1 1.5 2.5 1.5 1.9 1.5-1 1.6-1.1 1.5 .7 1.5 .7 1.5 .8 1.5 2 1.6 1 1.5-1.6 1.5-1 1.5 1.7 1.6 1.6 1.5 .6 1.5 1 1.5 .2 1.6-1.5 1.5-.1 1.5 2.6 1.5 1.8 1.6-.2 1.5-.1 1.5 .2 1.5-.6 1.5 .9 1.6 2.9 1.5 1.3 1.5-1.2 1.5-.5 1.6 1 1.5 .7 1.5 1.3 1.5 2.3 1.6 .5 1.5-1.7 1.5-.2 1.5 2.1 1.6 1.4 1.5 .8 1.5 1.3 1.5-.2 1.5-1.4 1.6 .7 1.5 2.9 1.5 1.4 1.5-.2 1.6 .3 1.5 .1 1.5-.5 1.5 1.6 1.6 3 1.5 .7 1.5-1.3 1.5 .1 1.6 .9 1.5 .6 1.5 1.7 1.5 2.3 1.6-.3 1.5-1.7 1.5 .6 1.5 2 1.5 1.1 1.6 1 1.5 1.1 1.5-.7 1.5-1.3 1.6 1.4 1.5 2.7 1.5 .7 1.5-.2 1.6 .3 1.5-.4 1.5-.4 1.5 2.1 1.6 2.6 1.5-.2 1.5-1.3 1.5 .3 1.5 .6 1.6 .5 1.5 2 1.5 1.7 1.5-1.1 1.6-1.5 1.5 1 1.5 1.7 1.5 .7 1.6 1.1 1.5 .8 1.5-1.4 1.5-1 1.6 1.9 1.5 2.3 1.5 .2 1.5-.1 1.5 .2 1.6-.8 1.5 0 1.5 2.5 1.5 2.1 1.6-.8 1.5-1 1.5 .5 1.5 .3 1.6 .7 1.5 2.2 1.5 1.1 1.5-1.7 1.6-1.1 1.5 1.3 1.5 1.2 1.5 .6 1.6 1.1 1.5 0 1.5-1.9 1.5-.7 1.5 2.1 1.6 1.4 1.5-.5 1.5-.3 1.5-.5 1.6-1.5 1.5 0 1.5 2.3 1.5 .8 1.6-1.7 1.5-1.2 1.5 0 1.5-.5 1.6 .6 1.5 1.8 1.5-.2 1.5-2.4 1.5-.9 1.6 1.1 1.5 .6 1.5 .4 1.5 1 1.6-.8 1.5-2.2 1.5 0 1.5 2.1 1.6 .9 1.5-.5 1.5 0 1.5-.8 1.6-1.3 1.5 .9 1.5 2.4 1.5 .2 1.5-1.5 1.6-.5 1.5-.1 1.5-.3 1.5 1.2 1.6 1.9 1.5-.8 1.5-2.3 1.5-.2 1.6 1 1.5 .3 1.5 .6 1.5 .7 1.6-1.6 1.5-2.2 1.5 .5 1.5 1.8 1.6-.1 1.5-.7 1.5-.4 1.5-1.6 1.5-1.6 1.6 1.1 1.5 1.6 1.5-1 1.5-2 1.6-.7 1.5-.9 1.5-.7 1.5 1.1 1.6 .9 1.5-2 1.5-2.5 1.5-.2 1.6 .4 1.5-.3 1.5 .5 1.5-.1 1.5-2.4 1.6-2.1 1.5 .9 1.5 1.1 1.5-.6 1.6-.6 1.5-.8 1.5-2 1.5-1.2 1.6 1.5 1.5 1.1 1.5-1.5 1.5-1.7 1.6-.6 1.5-1.1 1.5-.3 1.5 1.5 1.5 .3 1.6-2.5 1.5-2 1.5 .2 1.5 0 1.6-.1 1.5 .7 1.5-.7 1.5-2.8 1.6-1.5 1.5 1.2 1.5 .6 1.5-.7 1.6-.6 1.5-1.1 1.5-2.3 1.5-.6 1.6 1.8 1.5 .4 1.5-1.9 1.5-1.4 1.5-.8 1.6-1.2 1.5 .1 1.5 1.5 1.5-.4 1.6-2.8 1.5-1.5 1.5 .2 1.5-.2 1.6 0 1.5 .7 1.5-1.3 1.5-2.9 1.6-.8 1.5 1.3 1.5 .3" stroke="#000000" stroke-width="2.2" stroke-dasharray="6.5 2.8"/>
</g>
<path d="M1004.8 693.8V831.3H1675.2V693.8" fill="none" stroke="#5e5e5e" stroke-width="1.8"/>
<path d="M1003.9 693.8H1676.1" stroke="#111" stroke-width="1.4"/>
<path d="M1004.8 831.3v3.2M1106.4 831.3v3.2M1208 831.3v3.2M1309.5 831.3v3.2M1411.1 831.3v3.2M1512.7 831.3v3.2M1614.3 831.3v3.2M1004.8 801.8h-3.2M1004.8 762.5h-3.2M1004.8 723.3h-3.2" stroke="#555" stroke-width="1"/>
<g font-family='"DejaVu Sans", "Liberation Sans", sans-serif' font-size="19.6" fill="#000" stroke="#000" stroke-width="0.25">
<text transform="translate(999.2 808.9) scale(0.97 1)" text-anchor="end">−8</text>
<text transform="translate(999.2 769.6) scale(0.97 1)" text-anchor="end">0</text>
<text transform="translate(999.2 730.4) scale(0.97 1)" text-anchor="end">8</text>
<text transform="translate(1004.8 850.8) scale(0.97 1)" text-anchor="middle">0</text>
<text transform="translate(1106.4 850.8) scale(0.97 1)" text-anchor="middle">100</text>
<text transform="translate(1208 850.8) scale(0.97 1)" text-anchor="middle">200</text>
<text transform="translate(1309.5 850.8) scale(0.97 1)" text-anchor="middle">300</text>
<text transform="translate(1411.1 850.8) scale(0.97 1)" text-anchor="middle">400</text>
<text transform="translate(1512.7 850.8) scale(0.97 1)" text-anchor="middle">500</text>
<text transform="translate(1614.3 850.8) scale(0.97 1)" text-anchor="middle">600</text>
</g>
<text x="1370.4" y="826.9" font-family='"DejaVu Sans", "Liberation Sans", sans-serif' font-weight="bold" font-size="19" textLength="27.9" lengthAdjust="spacingAndGlyphs">X5</text>
<path d="M1109.9 862.8V1000.5M1211.4 862.8V1000.5M1312.8 862.8V1000.5M1414.3 862.8V1000.5M1515.7 862.8V1000.5M1617.1 862.8V1000.5M1008.5 971H1678M1008.5 931.6H1678M1008.5 892.3H1678" stroke="#e2e2e2" stroke-width="1" fill="none"/>
<g clip-path="url(#cl)" fill="none" stroke-linejoin="round">
<path d="M1008.5 919.7l1.5-4.4 1.5-4.2 1.6-3.8 1.5-3.5 1.5-3.1 1.5-2.6 1.6-2.1 1.5-1.5 1.5-.9 1.5-.3 1.5 0 1.6 0 1.5 0 1.5 0 1.5 0 1.5 0 1.6 0 1.5 .3 1.5 .8 1.5 1.3 1.6 1.9 1.5 2.3 1.5 2.8 1.5 3.2 1.5 3.5 1.6 3.8 1.5 4 1.5 4.2 1.5 4.3 1.5 4.4 1.6 4.3 1.5 4.1 1.5 4 1.5 3.8 1.6 3.4 1.5 3.1 1.5 2.7 1.5 2.3 1.5 1.7 1.6 1.3 1.5 .7 1.5 .1 1.5-.5 1.5-1.3 1.6-2.1 1.5-2.7 1.5-3.4 1.5-3.9 1.6-4.3 1.5-4.8 1.5-5 1.5-5.1 1.5-5.2 1.6-5 1.5-4.9 1.5-4.5 1.5-4.1 1.6-3.6 1.5-3 1.5-2.3 1.5-1.6 1.5-.9 1.6 0 1.5 1.7 1.5 3.4 1.5 4.9 1.5 6.2 1.6 7.3 1.5 7.8 1.5 8 1.5 7.8 1.6 7.2 1.5 6.2 1.5 4.8 1.5 3.3 1.5 1.5 1.6-.5 1.5-3.5 1.5-6 1.5-8.3 1.5-9.8 1.6-10.6 1.5-10.7 1.5-9.8 1.5-8.2 1.6-6.1 1.5-3.4 1.5-.5 1.5 2.5 1.5 5.3 1.6 7.7 1.5 9.4 1.5 10.4 1.5 10.4 1.6 9.5 1.5 8 1.5 5.7 1.5 2.9 1.5 0 1.6-1.9 1.5-3.7 1.5-5.3 1.5-6.6 1.5-7.5 1.6-8 1.5-8.1 1.5-7.7 1.5-6.9 1.6-5.8 1.5-4.3 1.5-2.5 1.5-.7 1.5 .9 1.6 2.2 1.5 3.6 1.5 4.7 1.5 5.7 1.5 6.4 1.6 6.9 1.5 7.1 1.5 7.1 1.5 6.7 1.6 6.1 1.5 5.2 1.5 4.2 1.5 3 1.5 1.7 1.6 .2 1.5-1.4 1.5-2.9 1.5-4.5 1.6-5.7 1.5-6.7 1.5-7.5 1.5-8 1.5-8.2 1.6-7.9 1.5-7.5 1.5-6.6 1.5-5.5 1.5-4.3 1.6-2.7 1.5-1.2 1.5 .4 1.5 1.6 1.6 2.7 1.5 3.8 1.5 4.8 1.5 5.7 1.5 6.3 1.6 6.8 1.5 7.1 1.5 7.2 1.5 7 1.5 6.8 1.6 6.2 1.5 5.6 1.5 4.6 1.5 3.7 1.6 2.6 1.5 1.4 1.5 .3 1.5-.7 1.5-1.3 1.6-2 1.5-2.7 1.5-3.4 1.5-3.9 1.5-4.4 1.6-4.8 1.5-5.2 1.5-5.5 1.5-5.6 1.6-5.7 1.5-5.7 1.5-5.6 1.5-5.4 1.5-5 1.6-4.7 1.5-4.3 1.5-3.7 1.5-3.1 1.6-2.5 1.5-1.9 1.5-1.1 1.5-.3 1.5 .2 1.6 .8 1.5 1.3 1.5 1.8 1.5 2.2 1.5 2.7 1.6 3.1 1.5 3.5 1.5 3.8 1.5 4.1 1.6 4.3 1.5 4.5 1.5 4.7 1.5 4.7 1.5 4.7 1.6 4.7 1.5 4.6 1.5 4.5 1.5 4.2 1.5 4 1.6 3.7 1.5 3.4 1.5 3 1.5 2.5 1.6 2.1 1.5 1.6 1.5 1.1 1.5 .6 1.5 .1 1.6-.8 1.5-1.6 1.5-2.4 1.5-3.2 1.5-4 1.6-4.6 1.5-5.1 1.5-5.6 1.5-6 1.6-6.1 1.5-6.2 1.5-6.3 1.5-6 1.5-5.8 1.6-5.3 1.5-4.9 1.5-4.3 1.5-3.5 1.6-2.9 1.5-2 1.5-1.1 1.5-.2 1.5 1.9 1.6 4.6 1.5 6.9 1.5 8.7 1.5 10.1 1.5 10.7 1.6 10.6 1.5 9.8 1.5 8.3 1.5 6.3 1.6 3.9 1.5 1.2 1.5-1 1.5-2.7 1.5-4.4 1.6-5.7 1.5-6.8 1.5-7.7 1.5-8.2 1.5-8.2 1.6-7.9 1.5-7.2 1.5-6.2 1.5-4.9 1.6-3.4 1.5-1.7 1.5 0 1.5 1.6 1.5 3.1 1.6 4.4 1.5 5.6 1.5 6.5 1.5 7.1 1.6 7.4 1.5 7.4 1.5 7 1.5 6.4 1.5 5.4 1.6 4.3 1.5 2.9 1.5 1.4 1.5-.1 1.5-1.4 1.6-2.5 1.5-3.7 1.5-4.7 1.5-5.4 1.6-6.1 1.5-6.6 1.5-6.7 1.5-6.7 1.5-6.4 1.6-6 1.5-5.2 1.5-4.4 1.5-3.4 1.5-2.3 1.6-1 1.5 .7 1.5 3.7 1.5 6.7 1.6 9.1 1.5 10.5 1.5 11.2 1.5 10.8 1.5 9.5 1.6 7.4 1.5 4.6 1.5 1.4 1.5-2 1.6-5.4 1.5-8.3 1.5-10.4 1.5-11.6 1.5-11.8 1.6-10.8 1.5-9 1.5-6.2 1.5-2.9 1.5 .4 1.6 3.3 1.5 5.9 1.5 8.1 1.5 9.5 1.6 10.3 1.5 10.3 1.5 9.4 1.5 7.9 1.5 5.8 1.6 3.1 1.5 .4 1.5-1.1 1.5-2.3 1.5-3.5 1.6-4.5 1.5-5.3 1.5-6 1.5-6.4 1.6-6.6 1.5-6.6 1.5-6.3 1.5-5.8 1.5-5.1 1.6-4.2 1.5-3.2 1.5-2 1.5-.8 1.5 .2 1.6 .7 1.5 1.1 1.5 1.7 1.5 2.1 1.6 2.5 1.5 2.9 1.5 3.2 1.5 3.5 1.5 3.8 1.6 3.9 1.5 4.1 1.5 4.1 1.5 4.1 1.6 4.1 1.5 3.9 1.5 3.8 1.5 3.5 1.5 3.3 1.6 2.9 1.5 2.5 1.5 2.1 1.5 1.7 1.5 1.2 1.6 .7 1.5 .3 1.5-.4 1.5-1 1.6-1.7 1.5-2.2 1.5-2.8 1.5-3.3 1.5-3.8 1.6-4.1 1.5-4.4 1.5-4.6 1.5-4.8 1.5-4.7 1.6-4.8 1.5-4.5 1.5-4.4 1.5-4 1.6-3.7 1.5-3.2 1.5-2.7 1.5-2.1 1.5-1.5 1.6-.9 1.5-.3 1.5 .7 1.5 1.8 1.5 2.8 1.6 3.8 1.5 4.7 1.5 5.3 1.5 5.9 1.6 6.2 1.5 6.5 1.5 6.4 1.5 6.3 1.5 5.9 1.6 5.4 1.5 4.7 1.5 3.8 1.5 2.9 1.6 1.9 1.5 .7 1.5-.3 1.5-1.5 1.5-2.6 1.6-3.6 1.5-4.5 1.5-5.3 1.5-6 1.5-6.4 1.6-6.6 1.5-6.7 1.5-6.6 1.5-6.3 1.6-5.7 1.5-5.1 1.5-4.2 1.5-3.3 1.5-2.2 1.6-1.1 1.5 0 1.5 1.1 1.5 2.1 1.5 3.1 1.6 4 1.5 4.7 1.5 5.4 1.5 5.8 1.6 6.2 1.5 6.3 1.5 6.2" stroke="#e8191b" stroke-width="2.1"/>
<path d="M1008.5 928.7l1.5-3.6 1.5-3.4 1.6-3.3 1.5-2.9 1.5-2.6 1.5-2.3 1.6-1.8 1.5-1.4 1.5-.9 1.5-.4 1.5 0 1.6-.2 1.5-.1 1.5-.3 1.5-.2 1.5-.1 1.6-.1 1.5 .1 1.5 .3 1.5 .5 1.6 .8 1.5 1 1.5 1.3 1.5 1.4 1.5 1.7 1.6 1.7 1.5 1.9 1.5 2 1.5 2 1.5 2.1 1.6 2 1.5 2 1.5 1.9 1.5 1.9 1.6 1.7 1.5 1.5 1.5 1.3 1.5 1.2 1.5 .9 1.6 .7 1.5 .4 1.5 .1 1.5-.1 1.5-.6 1.6-1.1 1.5-1.5 1.5-1.9 1.5-2.2 1.6-2.5 1.5-2.7 1.5-2.9 1.5-3 1.5-3 1.6-3 1.5-3 1.5-2.7 1.5-2.5 1.6-2.2 1.5-1.9 1.5-1.5 1.5-1.1 1.5-.7 1.6-.2 1.5 .6 1.5 1.7 1.5 2.6 1.5 3.4 1.6 4.1 1.5 4.5 1.5 4.7 1.5 4.7 1.6 4.3 1.5 3.9 1.5 3.1 1.5 2.3 1.5 1.2 1.6 .1 1.5-1.5 1.5-3.1 1.5-4.6 1.5-5.7 1.6-6.4 1.5-6.5 1.5-6.2 1.5-5.4 1.6-4.1 1.5-2.7 1.5-.9 1.5 .9 1.5 2.7 1.6 4.2 1.5 5.4 1.5 6.2 1.5 6.3 1.6 6 1.5 5.2 1.5 4 1.5 2.3 1.5 .6 1.6-.8 1.5-1.8 1.5-2.8 1.5-3.6 1.5-4.2 1.6-4.6 1.5-4.7 1.5-4.6 1.5-4.2 1.6-3.6 1.5-2.8 1.5-1.8 1.5-.8 1.5 .3 1.6 1.1 1.5 2 1.5 2.8 1.5 3.4 1.5 4 1.6 4.3 1.5 4.5 1.5 4.5 1.5 4.4 1.6 4 1.5 3.5 1.5 3 1.5 2.1 1.5 1.4 1.6 .4 1.5-.5 1.5-1.4 1.5-2.2 1.6-3.1 1.5-3.6 1.5-4.2 1.5-4.5 1.5-4.7 1.6-4.6 1.5-4.4 1.5-4 1.5-3.4 1.5-2.7 1.6-1.8 1.5-1 1.5 0 1.5 .6 1.6 1.4 1.5 2 1.5 2.6 1.5 3.2 1.5 3.5 1.6 3.9 1.5 4.1 1.5 4.1 1.5 4.2 1.5 4 1.6 3.7 1.5 3.4 1.5 2.9 1.5 2.3 1.6 1.7 1.5 1.1 1.5 .4 1.5-.2 1.5-.6 1.6-.9 1.5-1.3 1.5-1.6 1.5-1.9 1.5-2.2 1.6-2.4 1.5-2.6 1.5-2.7 1.5-2.9 1.6-2.9 1.5-2.9 1.5-2.9 1.5-2.8 1.5-2.6 1.6-2.5 1.5-2.2 1.5-2 1.5-1.7 1.6-1.4 1.5-1.1 1.5-.7 1.5-.3 1.5 .1 1.6 .2 1.5 .5 1.5 .8 1.5 .9 1.5 1.2 1.6 1.3 1.5 1.6 1.5 1.6 1.5 1.9 1.6 1.9 1.5 2 1.5 2.1 1.5 2.1 1.5 2.2 1.6 2.1 1.5 2.2 1.5 2 1.5 2 1.5 1.8 1.6 1.8 1.5 1.5 1.5 1.4 1.5 1.3 1.6 1 1.5 .8 1.5 .6 1.5 .3 1.5 .2 1.6-.3 1.5-.6 1.5-.9 1.5-1.4 1.5-1.7 1.6-2 1.5-2.3 1.5-2.5 1.5-2.7 1.6-2.8 1.5-2.8 1.5-2.9 1.5-2.8 1.5-2.7 1.6-2.5 1.5-2.3 1.5-2.1 1.5-1.7 1.6-1.4 1.5-1.1 1.5-.6 1.5-.3 1.5 .5 1.6 1.8 1.5 3 1.5 4 1.5 4.7 1.5 5.1 1.6 5.2 1.5 4.9 1.5 4.4 1.5 3.4 1.6 2.3 1.5 1 1.5-.2 1.5-1.3 1.5-2.3 1.6-3.2 1.5-3.9 1.5-4.5 1.5-4.8 1.5-4.9 1.6-4.8 1.5-4.5 1.5-4 1.5-3.2 1.6-2.4 1.5-1.3 1.5-.4 1.5 .7 1.5 1.5 1.6 2.4 1.5 3.1 1.5 3.6 1.5 4.1 1.6 4.3 1.5 4.4 1.5 4.3 1.5 3.9 1.5 3.4 1.6 2.8 1.5 1.9 1.5 1.2 1.5 .2 1.5-.5 1.6-1.2 1.5-1.7 1.5-2.4 1.5-2.7 1.6-3.2 1.5-3.4 1.5-3.6 1.5-3.6 1.5-3.5 1.6-3.3 1.5-2.9 1.5-2.5 1.5-2 1.5-1.4 1.6-.8 1.5 0 1.5 1.4 1.5 3 1.6 4.4 1.5 5.4 1.5 5.8 1.5 5.8 1.5 5.3 1.6 4.3 1.5 2.9 1.5 1.3 1.5-.4 1.6-2.3 1.5-4 1.5-5.3 1.5-6.1 1.5-6.3 1.6-6.1 1.5-5.2 1.5-3.9 1.5-2.2 1.5-.3 1.6 1.3 1.5 2.7 1.5 4 1.5 4.9 1.6 5.5 1.5 5.6 1.5 5.3 1.5 4.6 1.5 3.5 1.6 2.2 1.5 .6 1.5-.4 1.5-1.2 1.5-1.9 1.6-2.5 1.5-3.1 1.5-3.6 1.5-3.8 1.6-4 1.5-4.1 1.5-3.9 1.5-3.7 1.5-3.3 1.6-2.8 1.5-2.1 1.5-1.5 1.5-.8 1.5 0 1.6 .3 1.5 .7 1.5 .9 1.5 1.3 1.6 1.5 1.5 1.8 1.5 2 1.5 2.2 1.5 2.4 1.6 2.5 1.5 2.6 1.5 2.7 1.5 2.6 1.6 2.7 1.5 2.5 1.5 2.5 1.5 2.3 1.5 2.2 1.6 1.9 1.5 1.8 1.5 1.4 1.5 1.2 1.5 .9 1.6 .6 1.5 .2 1.5-.1 1.5-.4 1.6-.7 1.5-1 1.5-1.4 1.5-1.6 1.5-1.8 1.6-2 1.5-2.2 1.5-2.3 1.5-2.4 1.5-2.4 1.6-2.4 1.5-2.4 1.5-2.2 1.5-2.2 1.6-1.9 1.5-1.7 1.5-1.4 1.5-1.2 1.5-.9 1.6-.6 1.5-.2 1.5 .2 1.5 .6 1.5 1 1.6 1.5 1.5 1.9 1.5 2.2 1.5 2.4 1.6 2.7 1.5 2.7 1.5 2.8 1.5 2.7 1.5 2.6 1.6 2.4 1.5 2.1 1.5 1.8 1.5 1.4 1.6 .9 1.5 .5 1.5 0 1.5-.5 1.5-1 1.6-1.6 1.5-1.9 1.5-2.4 1.5-2.7 1.5-2.9 1.6-3 1.5-3.2 1.5-3.1 1.5-2.9 1.6-2.8 1.5-2.5 1.5-2.1 1.5-1.7 1.5-1.2 1.6-.7 1.5-.1 1.5 .4 1.5 .9 1.5 1.4 1.6 1.8 1.5 2.3 1.5 2.6 1.5 2.8 1.6 3.1 1.5 3.2 1.5 3.1" stroke="#0b800b" stroke-width="3.5" stroke-dasharray="3.5 4.3"/>
<path d="M1008.5 921.2l1.5-4.4 1.5-4.1 1.6-3.9 1.5-3.5 1.5-3.2 1.5-2.6 1.6-2.2 1.5-1.6 1.5-1 1.5-.4 1.5 0 1.6 0 1.5 0 1.5 0 1.5 0 1.5 0 1.6 0 1.5 .1 1.5 .7 1.5 1.1 1.6 1.5 1.5 2 1.5 2.4 1.5 2.8 1.5 3.1 1.6 3.3 1.5 3.6 1.5 3.7 1.5 3.8 1.5 3.9 1.6 3.8 1.5 3.8 1.5 3.6 1.5 3.4 1.6 3.1 1.5 2.9 1.5 2.4 1.5 2.1 1.5 1.7 1.6 1.2 1.5 .7 1.5 .3 1.5-.4 1.5-1 1.6-1.8 1.5-2.3 1.5-3 1.5-3.4 1.6-3.9 1.5-4.2 1.5-4.5 1.5-4.7 1.5-4.6 1.6-4.6 1.5-4.5 1.5-4.2 1.5-3.8 1.6-3.3 1.5-2.8 1.5-2.3 1.5-1.6 1.5-.9 1.6-.2 1.5 1.2 1.5 2.6 1.5 4.1 1.5 5.3 1.6 6.2 1.5 6.9 1.5 7 1.5 7 1.6 6.4 1.5 5.7 1.5 4.5 1.5 3.2 1.5 1.6 1.6 0 1.5-2.6 1.5-4.9 1.5-7.1 1.5-8.5 1.6-9.4 1.5-9.5 1.5-9 1.5-7.7 1.6-5.8 1.5-3.6 1.5-1 1.5 2 1.5 4.8 1.6 7.2 1.5 9.1 1.5 10.3 1.5 10.4 1.6 9.8 1.5 8.4 1.5 6.1 1.5 3.5 1.5 .6 1.6-1.6 1.5-3.4 1.5-5 1.5-6.3 1.5-7.3 1.6-8 1.5-8.1 1.5-7.8 1.5-7.1 1.6-6.1 1.5-4.5 1.5-3 1.5-1 1.5 .6 1.6 2 1.5 3.3 1.5 4.5 1.5 5.5 1.5 6.3 1.6 6.8 1.5 7.1 1.5 7.1 1.5 6.8 1.6 6.2 1.5 5.5 1.5 4.4 1.5 3.2 1.5 1.9 1.6 .6 1.5-1.1 1.5-2.6 1.5-4.2 1.6-5.4 1.5-6.6 1.5-7.4 1.5-7.9 1.5-8.1 1.6-8.1 1.5-7.5 1.5-6.8 1.5-5.8 1.5-4.5 1.6-3.1 1.5-1.5 1.5 .1 1.5 1.3 1.6 2.3 1.5 3.4 1.5 4.3 1.5 5.1 1.5 5.7 1.6 6.3 1.5 6.5 1.5 6.7 1.5 6.6 1.5 6.4 1.6 5.9 1.5 5.3 1.5 4.5 1.5 3.6 1.6 2.6 1.5 1.6 1.5 .4 1.5-.4 1.5-1.2 1.6-1.7 1.5-2.4 1.5-3 1.5-3.6 1.5-4 1.6-4.5 1.5-4.7 1.5-5.1 1.5-5.2 1.6-5.3 1.5-5.4 1.5-5.2 1.5-5.1 1.5-4.8 1.6-4.4 1.5-4.1 1.5-3.6 1.5-3 1.6-2.4 1.5-1.9 1.5-1.1 1.5-.5 1.5 .1 1.6 .7 1.5 1.1 1.5 1.5 1.5 2 1.5 2.4 1.6 2.8 1.5 3.2 1.5 3.4 1.5 3.8 1.6 3.9 1.5 4.2 1.5 4.3 1.5 4.3 1.5 4.4 1.6 4.4 1.5 4.3 1.5 4.1 1.5 4 1.5 3.8 1.6 3.4 1.5 3.2 1.5 2.8 1.5 2.5 1.6 2 1.5 1.6 1.5 1.1 1.5 .7 1.5 .1 1.6-.5 1.5-1.3 1.5-2.1 1.5-2.9 1.5-3.5 1.6-4.2 1.5-4.7 1.5-5.1 1.5-5.4 1.6-5.7 1.5-5.8 1.5-5.7 1.5-5.7 1.5-5.4 1.6-5.1 1.5-4.6 1.5-4 1.5-3.5 1.6-2.8 1.5-2 1.5-1.2 1.5-.4 1.5 1.4 1.6 4.1 1.5 6.4 1.5 8.5 1.5 9.8 1.5 10.6 1.6 10.7 1.5 10 1.5 8.7 1.5 6.7 1.6 4.4 1.5 1.8 1.5-.7 1.5-2.3 1.5-4.1 1.6-5.4 1.5-6.7 1.5-7.5 1.5-8.1 1.5-8.2 1.6-8 1.5-7.4 1.5-6.5 1.5-5.2 1.6-3.7 1.5-2 1.5-.3 1.5 1.3 1.5 2.8 1.6 4.1 1.5 5.4 1.5 6.3 1.5 7 1.6 7.4 1.5 7.4 1.5 7.1 1.5 6.6 1.5 5.6 1.6 4.5 1.5 3.2 1.5 1.7 1.5 .2 1.5-1.1 1.6-2.3 1.5-3.5 1.5-4.5 1.5-5.3 1.6-6 1.5-6.4 1.5-6.7 1.5-6.8 1.5-6.5 1.6-6 1.5-5.4 1.5-4.6 1.5-3.6 1.5-2.5 1.6-1.3 1.5 .2 1.5 3.1 1.5 6.2 1.6 8.6 1.5 10.3 1.5 11.2 1.5 10.9 1.5 9.9 1.6 7.8 1.5 5.2 1.5 2.1 1.5-1.3 1.6-4.7 1.5-7.8 1.5-10.1 1.5-11.4 1.5-11.9 1.6-11.1 1.5-9.4 1.5-6.8 1.5-3.6 1.5-.2 1.6 2.8 1.5 5.4 1.5 7.6 1.5 9.3 1.6 10.2 1.5 10.4 1.5 9.6 1.5 8.3 1.5 6.2 1.6 3.7 1.5 .9 1.5-.8 1.5-1.9 1.5-3 1.6-3.9 1.5-4.6 1.5-5.4 1.5-5.7 1.6-6 1.5-6 1.5-5.8 1.5-5.4 1.5-4.8 1.6-4 1.5-3.1 1.5-2 1.5-1 1.5 .1 1.6 .5 1.5 1 1.5 1.4 1.5 1.8 1.6 2.2 1.5 2.6 1.5 2.8 1.5 3.2 1.5 3.3 1.6 3.6 1.5 3.6 1.5 3.7 1.5 3.8 1.6 3.7 1.5 3.6 1.5 3.4 1.5 3.3 1.5 3 1.6 2.7 1.5 2.3 1.5 2 1.5 1.6 1.5 1.2 1.6 .8 1.5 .3 1.5-.3 1.5-.9 1.6-1.5 1.5-2.1 1.5-2.7 1.5-3.2 1.5-3.7 1.6-4 1.5-4.4 1.5-4.6 1.5-4.7 1.5-4.8 1.6-4.7 1.5-4.6 1.5-4.4 1.5-4.2 1.6-3.7 1.5-3.3 1.5-2.8 1.5-2.2 1.5-1.7 1.6-1 1.5-.4 1.5 .5 1.5 1.6 1.5 2.6 1.6 3.6 1.5 4.5 1.5 5.2 1.5 5.7 1.6 6.2 1.5 6.5 1.5 6.4 1.5 6.4 1.5 6 1.6 5.5 1.5 4.8 1.5 4 1.5 3.1 1.6 2.1 1.5 1 1.5-.2 1.5-1.2 1.5-2.4 1.6-3.4 1.5-4.4 1.5-5.1 1.5-5.8 1.5-6.4 1.6-6.6 1.5-6.7 1.5-6.6 1.5-6.3 1.6-5.9 1.5-5.2 1.5-4.4 1.5-3.5 1.5-2.4 1.6-1.4 1.5-.2 1.5 .9 1.5 1.9 1.5 2.9 1.6 3.8 1.5 4.6 1.5 5.3 1.5 5.7 1.6 6.1 1.5 6.3 1.5 6.3" stroke="#1f77b4" stroke-width="2.6" stroke-dasharray="10 3.5 2.4 3.5"/>
<path d="M1008.5 923.5l1.5-4.1 1.5-3.9 1.6-3.6 1.5-3.3 1.5-3 1.5-2.5 1.6-2 1.5-1.5 1.5-1 1.5-.4 1.5 0 1.6-.1 1.5-.2 1.5-.2 1.5-.3 1.5-.1 1.6-.1 1.5 .2 1.5 .7 1.5 1.3 1.6 1.7 1.5 2.3 1.5 2.7 1.5 3.1 1.5 3.5 1.6 3.8 1.5 4 1.5 4.2 1.5 4.3 1.5 4.4 1.6 4.3 1.5 4.3 1.5 4 1.5 3.9 1.6 3.5 1.5 3.2 1.5 2.8 1.5 2.3 1.5 1.9 1.6 1.4 1.5 .8 1.5 .3 1.5-.4 1.5-1.3 1.6-2 1.5-2.8 1.5-3.4 1.5-4.1 1.6-4.5 1.5-5 1.5-5.3 1.5-5.4 1.5-5.5 1.6-5.4 1.5-5.2 1.5-4.9 1.5-4.5 1.6-4 1.5-3.3 1.5-2.6 1.5-1.9 1.5-1 1.6-.3 1.5 1.4 1.5 3.3 1.5 4.9 1.5 6.5 1.6 7.5 1.5 8.3 1.5 8.6 1.5 8.4 1.6 7.9 1.5 6.8 1.5 5.5 1.5 3.8 1.5 2.1 1.6-.1 1.5-3 1.5-6 1.5-8.3 1.5-10.2 1.6-11.2 1.5-11.4 1.5-10.6 1.5-9.2 1.6-7 1.5-4.2 1.5-1.2 1.5 2 1.5 4.8 1.6 7.2 1.5 9.1 1.5 10.3 1.5 10.4 1.6 9.8 1.5 8.4 1.5 6.1 1.5 3.5 1.5 .6 1.6-1.6 1.5-3.4 1.5-5 1.5-6.3 1.5-7.3 1.6-8 1.5-8.1 1.5-7.8 1.5-7.1 1.6-6.1 1.5-4.5 1.5-3 1.5-1 1.5 .6 1.6 2 1.5 3.3 1.5 4.5 1.5 5.5 1.5 6.3 1.6 6.8 1.5 7.1 1.5 7.1 1.5 6.8 1.6 6.2 1.5 5.5 1.5 4.4 1.5 3.2 1.5 1.9 1.6 .6 1.5-1.1 1.5-2.6 1.5-4.2 1.6-5.4 1.5-6.6 1.5-7.4 1.5-7.9 1.5-8.1 1.6-8.1 1.5-7.5 1.5-6.8 1.5-5.8 1.5-4.5 1.6-3.1 1.5-1.5 1.5 .1 1.5 1.4 1.6 2.7 1.5 3.8 1.5 4.8 1.5 5.7 1.5 6.5 1.6 7 1.5 7.4 1.5 7.5 1.5 7.5 1.5 7.1 1.6 6.7 1.5 5.9 1.5 5.1 1.5 4.1 1.6 2.9 1.5 1.8 1.5 .4 1.5-.5 1.5-1.2 1.6-2 1.5-2.7 1.5-3.4 1.5-3.9 1.5-4.5 1.6-5 1.5-5.3 1.5-5.7 1.5-5.8 1.6-6 1.5-5.9 1.5-5.9 1.5-5.7 1.5-5.3 1.6-5 1.5-4.6 1.5-4 1.5-3.4 1.6-2.7 1.5-2.1 1.5-1.3 1.5-.5 1.5 .2 1.6 .7 1.5 1.2 1.5 1.8 1.5 2.2 1.5 2.8 1.6 3.1 1.5 3.6 1.5 3.9 1.5 4.3 1.6 4.5 1.5 4.7 1.5 4.9 1.5 4.9 1.5 5 1.6 4.9 1.5 4.9 1.5 4.7 1.5 4.6 1.5 4.2 1.6 4 1.5 3.6 1.5 3.2 1.5 2.7 1.6 2.3 1.5 1.8 1.5 1.3 1.5 .8 1.5 .2 1.6-.6 1.5-1.5 1.5-2.4 1.5-3.3 1.5-4 1.6-4.7 1.5-5.3 1.5-5.8 1.5-6.1 1.6-6.5 1.5-6.5 1.5-6.5 1.5-6.4 1.5-6.2 1.6-5.7 1.5-5.2 1.5-4.6 1.5-3.9 1.6-3.2 1.5-2.2 1.5-1.4 1.5-.5 1.5 1.4 1.6 4.1 1.5 6.4 1.5 8.5 1.5 9.8 1.5 10.6 1.6 10.7 1.5 10 1.5 8.7 1.5 6.7 1.6 4.4 1.5 1.8 1.5-.7 1.5-2.3 1.5-4.1 1.6-5.4 1.5-6.7 1.5-7.5 1.5-8.1 1.5-8.2 1.6-8 1.5-7.4 1.5-6.5 1.5-5.2 1.6-3.7 1.5-2 1.5-.3 1.5 1.3 1.5 2.8 1.6 4.1 1.5 5.4 1.5 6.3 1.5 7 1.6 7.4 1.5 7.4 1.5 7.1 1.5 6.6 1.5 5.6 1.6 4.5 1.5 3.2 1.5 1.7 1.5 .2 1.5-1.1 1.6-2.3 1.5-3.5 1.5-4.5 1.5-5.3 1.6-6 1.5-6.4 1.5-6.7 1.5-6.8 1.5-6.5 1.6-6 1.5-5.4 1.5-4.6 1.5-3.6 1.5-2.5 1.6-1.3 1.5 .2 1.5 3.1 1.5 6.2 1.6 8.6 1.5 10.3 1.5 11.2 1.5 10.9 1.5 9.9 1.6 7.8 1.5 5.2 1.5 2.1 1.5-1.3 1.6-4.7 1.5-7.8 1.5-10.1 1.5-11.4 1.5-11.9 1.6-11.1 1.5-9.4 1.5-6.8 1.5-3.6 1.5-.2 1.6 2.8 1.5 5.4 1.5 7.6 1.5 9.3 1.6 10.2 1.5 10.4 1.5 9.6 1.5 8.3 1.5 6.2 1.6 3.7 1.5 .9 1.5-.8 1.5-1.9 1.5-3 1.6-3.9 1.5-4.6 1.5-5.4 1.5-5.7 1.6-6 1.5-6 1.5-5.8 1.5-5.4 1.5-4.8 1.6-4 1.5-3.1 1.5-2 1.5-1 1.5 .1 1.6 .5 1.5 1 1.5 1.4 1.5 1.8 1.6 2.2 1.5 2.6 1.5 2.8 1.5 3.2 1.5 3.3 1.6 3.6 1.5 3.6 1.5 3.7 1.5 3.8 1.6 3.7 1.5 3.6 1.5 3.4 1.5 3.3 1.5 3 1.6 2.7 1.5 2.3 1.5 2 1.5 1.6 1.5 1.2 1.6 .8 1.5 .3 1.5-.3 1.5-.9 1.6-1.5 1.5-2.1 1.5-2.7 1.5-3.2 1.5-3.7 1.6-4 1.5-4.4 1.5-4.6 1.5-4.7 1.5-4.8 1.6-4.7 1.5-4.6 1.5-4.4 1.5-4.2 1.6-3.7 1.5-3.3 1.5-2.8 1.5-2.2 1.5-1.7 1.6-1 1.5-.4 1.5 .5 1.5 1.6 1.5 2.6 1.6 3.6 1.5 4.5 1.5 5.2 1.5 5.7 1.6 6.2 1.5 6.5 1.5 6.4 1.5 6.4 1.5 6 1.6 5.5 1.5 4.8 1.5 4 1.5 3.1 1.6 2.1 1.5 1 1.5-.1 1.5-1.2 1.5-2.1 1.6-3.1 1.5-3.9 1.5-4.6 1.5-5.3 1.5-5.6 1.6-6 1.5-6 1.5-6 1.5-5.7 1.6-5.3 1.5-4.6 1.5-4 1.5-3.1 1.5-2.2 1.6-1.2 1.5-.2 1.5 .8 1.5 1.7 1.5 2.6 1.6 3.4 1.5 4.1 1.5 4.7 1.5 5.1 1.6 5.5 1.5 5.6 1.5 5.6" stroke="#000000" stroke-width="2.2" stroke-dasharray="6.5 2.8"/>
</g>
<path d="M1008.5 862.8V1000.5H1678V862.8" fill="none" stroke="#5e5e5e" stroke-width="1.8"/>
<path d="M1007.6 862.8H1678.9" stroke="#111" stroke-width="1.4"/>
<path d="M1008.5 1000.5v3.2M1109.9 1000.5v3.2M1211.4 1000.5v3.2M1312.8 1000.5v3.2M1414.3 1000.5v3.2M1515.7 1000.5v3.2M1617.1 1000.5v3.2M1008.5 971h-3.2M1008.5 931.6h-3.2M1008.5 892.3h-3.2" stroke="#555" stroke-width="1"/>
<g font-family='"DejaVu Sans", "Liberation Sans", sans-serif' font-size="19.6" fill="#000" stroke="#000" stroke-width="0.25">
<text transform="translate(1002.9 978.1) scale(0.97 1)" text-anchor="end">−8</text>
<text transform="translate(1002.9 938.8) scale(0.97 1)" text-anchor="end">0</text>
<text transform="translate(1002.9 899.4) scale(0.97 1)" text-anchor="end">8</text>
<text transform="translate(1008.5 1020) scale(0.97 1)" text-anchor="middle">0</text>
<text transform="translate(1109.9 1020) scale(0.97 1)" text-anchor="middle">100</text>
<text transform="translate(1211.4 1020) scale(0.97 1)" text-anchor="middle">200</text>
<text transform="translate(1312.8 1020) scale(0.97 1)" text-anchor="middle">300</text>
<text transform="translate(1414.3 1020) scale(0.97 1)" text-anchor="middle">400</text>
<text transform="translate(1515.7 1020) scale(0.97 1)" text-anchor="middle">500</text>
<text transform="translate(1617.1 1020) scale(0.97 1)" text-anchor="middle">600</text>
</g>
<text x="1373.3" y="995.9" font-family='"DejaVu Sans", "Liberation Sans", sans-serif' font-weight="bold" font-size="19" textLength="27.9" lengthAdjust="spacingAndGlyphs">X6</text>
<text x="75.5" y="35.6" font-family='"Liberation Sans", "DejaVu Sans", sans-serif' font-size="40.7" textLength="47.4" lengthAdjust="spacingAndGlyphs">(a)</text>
<text x="75.4" y="201.2" font-family='"Liberation Sans", "DejaVu Sans", sans-serif' font-size="40.7" textLength="50.7" lengthAdjust="spacingAndGlyphs">(b)</text>
<text x="80.6" y="372.9" font-family='"Liberation Sans", "DejaVu Sans", sans-serif' font-size="40.7" textLength="45.5" lengthAdjust="spacingAndGlyphs">(c)</text>
<text x="80.6" y="539.7" font-family='"Liberation Sans", "DejaVu Sans", sans-serif' font-size="40.7" textLength="49.8" lengthAdjust="spacingAndGlyphs">(d)</text>
<text x="79.7" y="705.9" font-family='"Liberation Sans", "DejaVu Sans", sans-serif' font-size="40.7" textLength="48.5" lengthAdjust="spacingAndGlyphs">(e)</text>
<text x="85.3" y="882" font-family='"Liberation Sans", "DejaVu Sans", sans-serif' font-size="40.7" textLength="40.2" lengthAdjust="spacingAndGlyphs">(f)</text>
<text x="928.7" y="30.4" font-family='"Liberation Sans", "DejaVu Sans", sans-serif' font-size="40.7" textLength="47.5" lengthAdjust="spacingAndGlyphs">(g)</text>
<text x="929.3" y="195.9" font-family='"Liberation Sans", "DejaVu Sans", sans-serif' font-size="40.7" textLength="50.1" lengthAdjust="spacingAndGlyphs">(h)</text>
<text x="933.8" y="367.8" font-family='"Liberation Sans", "DejaVu Sans", sans-serif' font-size="40.7" textLength="36.7" lengthAdjust="spacingAndGlyphs">(i)</text>
<text x="933.5" y="534.9" font-family='"Liberation Sans", "DejaVu Sans", sans-serif' font-size="40.7" textLength="38.9" lengthAdjust="spacingAndGlyphs">(j)</text>
<text x="932.7" y="701.1" font-family='"Liberation Sans", "DejaVu Sans", sans-serif' font-size="40.7" textLength="47.7" lengthAdjust="spacingAndGlyphs">(k)</text>
<text x="938.6" y="876.8" font-family='"Liberation Sans", "DejaVu Sans", sans-serif' font-size="40.7" textLength="36.7" lengthAdjust="spacingAndGlyphs">(l)</text>
<text transform="translate(47.6 789) rotate(-90)" font-family='"Liberation Sans", "DejaVu Sans", sans-serif' font-size="58.5" textLength="578.5" lengthAdjust="spacingAndGlyphs">Tumor SI motion (mm)</text>
<text transform="translate(906.7 790) rotate(-90)" font-family='"Liberation Sans", "DejaVu Sans", sans-serif' font-size="58.5" textLength="601.5" lengthAdjust="spacingAndGlyphs">Tumor AP motion (mm)</text>
<text x="435.8" y="1052.1" font-family='"DejaVu Sans", "Liberation Sans", sans-serif' font-size="23.3" textLength="140" lengthAdjust="spacingAndGlyphs">Frame index</text>
<text x="1271.9" y="1046.5" font-family='"DejaVu Sans", "Liberation Sans", sans-serif' font-size="23.3" textLength="140" lengthAdjust="spacingAndGlyphs">Frame index</text>
<path d="M29.9 1074.6H113.5" stroke="#e8191b" stroke-width="5.8"/>
<rect x="414.6" y="1070.2" width="8.7" height="8.7" fill="#169a19"/>
<rect x="437.1" y="1070.2" width="8.7" height="8.7" fill="#169a19"/>
<rect x="459.7" y="1070.2" width="8.7" height="8.7" fill="#169a19"/>
<rect x="482.2" y="1070.2" width="8.7" height="8.7" fill="#169a19"/>
<path d="M916.5 1074.5H957.6M968.2 1074.5H974.3M986.8 1074.5H993.4" stroke="#1f77b4" stroke-width="5.9"/>
<path d="M1381 1075.8H1396.8M1404.2 1075.8H1419.9M1427.3 1075.8H1443.1M1450.4 1075.8H1458.8" stroke="#000" stroke-width="4.8"/>
<g font-family='"DejaVu Sans", "Liberation Sans", sans-serif' font-size="38.0" fill="#000">
<text x="141.3" y="1088.1" textLength="196.5" lengthAdjust="spacingAndGlyphs">Reference</text>
<text x="523" y="1087.1">STINR</text>
<text x="638.1" y="1092.9" font-style="italic" font-size="27" textLength="195.9" lengthAdjust="spacingAndGlyphs">PCA − 4DCBCT</text>
<text x="1025" y="1087.1">STINR</text>
<text x="1139.1" y="1092.9" font-style="italic" font-size="27" textLength="160.3" lengthAdjust="spacingAndGlyphs">PCA − 4DCT</text>
<text x="1489.5" y="1088.1" textLength="206.3" lengthAdjust="spacingAndGlyphs">PMF-STINR</text>
</g>
</svg></body></html>
